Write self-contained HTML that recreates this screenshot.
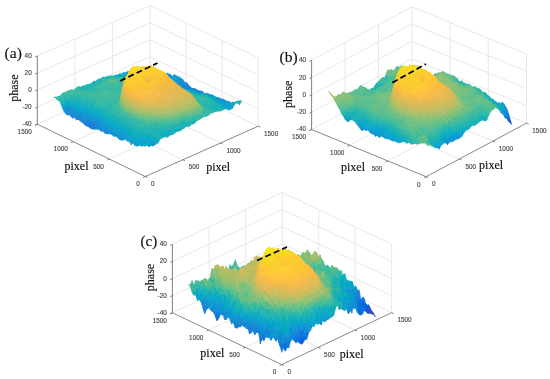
<!DOCTYPE html>
<html><head><meta charset="utf-8"><title>figure</title>
<style>
html,body{margin:0;padding:0;background:#fff}
svg{display:block}
.gr{fill:none;stroke:#e2e2e2;stroke-width:.8}
.ax{fill:none;stroke:#606060;stroke-width:.75}
.sf path{stroke-width:5;stroke-linejoin:round}
.tk{font-family:"Liberation Sans",sans-serif;font-size:6.4px;fill:#404040;stroke:#404040;stroke-width:.12px}
.lb{font-family:"Liberation Serif",serif;fill:#111;stroke:#111;stroke-width:.16px}
.ds{fill:none;stroke:#000;stroke-width:1.8;stroke-dasharray:6 3.2}
.c0{fill:#362e8f;stroke:#362e8f}.c1{fill:#36369f;stroke:#36369f}.c2{fill:#343fb0;stroke:#343fb0}.c3{fill:#2e48c1;stroke:#2e48c1}.c4{fill:#2152d3;stroke:#2152d3}.c5{fill:#0c5dde;stroke:#0c5dde}.c6{fill:#0266e1;stroke:#0266e1}.c7{fill:#046ce0;stroke:#046ce0}.c8{fill:#0972de;stroke:#0972de}.c9{fill:#0e77db;stroke:#0e77db}.c10{fill:#127cd8;stroke:#127cd8}.c11{fill:#1481d6;stroke:#1481d6}.c12{fill:#1486d3;stroke:#1486d3}.c13{fill:#118dd2;stroke:#118dd2}.c14{fill:#0c93d2;stroke:#0c93d2}.c15{fill:#089ad1;stroke:#089ad1}.c16{fill:#069fce;stroke:#069fce}.c17{fill:#06a4ca;stroke:#06a4ca}.c18{fill:#06a7c5;stroke:#06a7c5}.c19{fill:#09abbf;stroke:#09abbf}.c20{fill:#0faeb9;stroke:#0faeb9}.c21{fill:#17b1b3;stroke:#17b1b3}.c22{fill:#21b4ac;stroke:#21b4ac}.c23{fill:#2db7a5;stroke:#2db7a5}.c24{fill:#39b99d;stroke:#39b99d}.c25{fill:#47bb95;stroke:#47bb95}.c26{fill:#56bd8d;stroke:#56bd8d}.c27{fill:#66be85;stroke:#66be85}.c28{fill:#75bf7e;stroke:#75bf7e}.c29{fill:#84bf78;stroke:#84bf78}.c30{fill:#92bf72;stroke:#92bf72}.c31{fill:#9fbe6d;stroke:#9fbe6d}.c32{fill:#abbe68;stroke:#abbe68}.c33{fill:#b7bd64;stroke:#b7bd64}.c34{fill:#c2bc5f;stroke:#c2bc5f}.c35{fill:#cdbb5b;stroke:#cdbb5b}.c36{fill:#d8ba56;stroke:#d8ba56}.c37{fill:#e3b951;stroke:#e3b951}.c38{fill:#edb94c;stroke:#edb94c}.c39{fill:#f7ba45;stroke:#f7ba45}.c40{fill:#febf3c;stroke:#febf3c}.c41{fill:#fec635;stroke:#fec635}.c42{fill:#fccd2f;stroke:#fccd2f}.c43{fill:#f9d329;stroke:#f9d329}.c44{fill:#f7db24;stroke:#f7db24}.c45{fill:#f5e21e;stroke:#f5e21e}.c46{fill:#f5eb18;stroke:#f5eb18}.c47{fill:#f7f511;stroke:#f7f511}
</style></head><body>
<svg width="550" height="379" viewBox="0 0 550 379">
<rect width="550" height="379" fill="#fff"/>
<path class="gr" d="M182.9 159.7L74.9 107.4M109.3 159.1L222.2 108.8M220.6 143.0L112.6 90.7M73.3 141.6L186.2 91.3M258.2 126.2L150.2 73.9M37.3 124.2L150.2 73.9M37.3 124.2L37.3 55.9M258.2 126.2L258.2 57.9M74.9 107.4L74.9 39.1M222.2 108.8L222.2 40.4M112.6 90.7L112.6 22.3M186.2 91.3L186.2 23.0M150.2 73.9L150.2 5.6M37.3 107.1L150.2 56.8L258.2 109.1M37.3 90.0L150.2 39.7L258.2 92.0M37.3 73.0L150.2 22.7L258.2 75.0M37.3 55.9L150.2 5.6L258.2 57.9"/>
<path class="ax" d="M258.2 126.2L145.3 176.5L37.3 124.2L37.3 55.9M145.3 176.5L147.5 177.5M145.3 176.5L143.1 177.5M182.9 159.7L185.1 160.8M109.3 159.1L107.1 160.0M220.6 143.0L222.7 144.0M73.3 141.6L71.1 142.6M258.2 126.2L260.4 127.2M37.3 124.2L35.1 125.2M37.3 124.2L35.1 125.2M37.3 107.1L35.1 108.1M37.3 90.0L35.1 91.0M37.3 73.0L35.1 73.9M37.3 55.9L35.1 56.9"/>
<g class="sf" transform="scale(.1)"><path class="c5" d="M1494 746l19 5l-18-6l-19-6z"/>
<path class="c6" d="M1475 742l19 4l-18-7l-18 3z"/>
<path class="c7" d="M1457 733l18 9l-17 0l-19-11z"/>
<path class="c8" d="M1438 732l19 1l-18-2l-18 8z"/>
<path class="c9" d="M1420 727l18 5l-17 7l-19-22z"/>
<path class="c10" d="M1364 738l19 3l18-12l19-2l-18-10l-18 16l-19-3l-18-3z"/>
<path class="c11" d="M1346 733l18 5l-17-11l-19 4z"/>
<path class="c12" d="M1327 729l19 4l-18-2l-18-12z"/>
<path class="c14" d="M1309 730l18-1l-17-10l-19-7z"/>
<path class="c15" d="M1272 735l18-2l19-3l-18-18l-19 2l-18 16z"/>
<path class="c16" d="M1253 732l19 3l-18-5l-19-1z"/>
<path class="c17" d="M1179 766l19 8l18-28l19-19l18 5l-18-3l-18 12l-19-5l-18 11l-19 4z"/>
<path class="c18" d="M1161 755l18 11l-18-15l-18 8z"/>
<path class="c19" d="M1123 773l19-12l19-6l-18 4l-19 0l-18-1z"/>
<path class="c20" d="M1086 773l19-2l18 2l-17-15l-19 8l-18-1z"/>
<path class="c21" d="M1049 784l19-6l18-5l-17-8l-19 11l-18-6zM864 862l19 2l18-7l19-13l18-2l19-22l18 0l19-6l18-14l-17-9l-19 2l-18 23l-19-8l-19 23l-18 6l-19 7l-18 0l-19 14z"/>
<path class="c22" d="M1012 800l19-22l18 6l-17-14l-19 9l-18 12zM809 890l18-13l19 1l18-16l-18-4l-18-1l-19 12l-18-3z"/>
<path class="c23" d="M734 907l19-11l18-1l19-15l19 10l-18-24l-19 5l-18 13l-19 18l-18 5zM568 976l18-7l19-5l18-2l19-23l-18-8l-18 24l-19 8l-19 7l-18 3z"/>
<path class="c24" d="M642 939l18-5l19-15l18-9l19-12l18 9l-17 0l-19-9l-18 12l-19 8l-18 7l-19 6zM549 971l19 5l-18-3l-19 5z"/>
<path class="c6" d="M1512 738l18 10l-17 3l-19-5z"/>
<path class="c7" d="M1494 737l9 5l-9 4l-9-2zM1484 733l10 4l-9 7l-10-2zM1502 731l10 7l-9 4l-9-5z"/>
<path class="c8" d="M1493 724l9 7l-8 6l-10-4zM1475 735l18-11l-18 18l-18-9z"/>
<path class="c9" d="M1456 733l19 2l-18-2l-19-1z"/>
<path class="c10" d="M1401 736l18 4l19-20l18 13l-18-1l-18-5l-19 2l-18 12z"/>
<path class="c11" d="M1364 747l18-12l19 1l-18 5l-19-3l-18-5z"/>
<path class="c12" d="M1345 730l19 17l-18-14l-19-4z"/>
<path class="c14" d="M1326 740l19-10l-18-1l-18 1z"/>
<path class="c15" d="M1308 736l18 4l-17-10l-19 3z"/>
<path class="c16" d="M1289 732l19 4l-18-3l-18 2z"/>
<path class="c17" d="M1271 735l18-3l-17 3l-19-3zM1197 764l18 3l19-21l-18 0l-18 28l-19-8z"/>
<path class="c18" d="M1234 746l18-4l19-7l-18-3l-18-5l-19 19zM1178 783l19-19l-18 2l-18-11z"/>
<path class="c19" d="M1160 761l18 22l-17-28l-19 6z"/>
<path class="c20" d="M1123 773l18 6l19-18l-18 0l-19 12l-18-2z"/>
<path class="c21" d="M1067 788l19-5l18-15l19 5l-18-2l-19 2l-18 5l-19 6zM993 822l18-10l-17 2l-19 6zM826 900l19-7l18 1l19-17l18-9l19-2l18-23l19-6l18-5l-17-12l-19 22l-18 2l-19 13l-18 7l-19-2l-18 16l-19-1l-18 13z"/>
<path class="c22" d="M1049 779l18 9l-18-4l-18-6zM1011 812l19-15l-18 3l-18 14zM974 832l19-10l-18-2l-18 0zM808 903l18-3l-17-10l-19-10z"/>
<path class="c23" d="M1030 797l19-18l-18-1l-19 22zM771 895l18 4l19 4l-18-23l-19 15l-18 1zM585 982l19 7l18-17l19-11l18-6l-17-16l-19 23l-18 2l-19 5l-18 7z"/>
<path class="c24" d="M734 905l18 9l19-19l-18 1l-19 11l-18-9zM659 955l19-10l19-16l18-13l-18-6l-18 9l-19 15l-18 5zM567 996l18-14l-17-6l-19-5z"/>
<path class="c25" d="M715 916l19-11l-18-7l-19 12z"/>
<path class="c7" d="M1529 737l19 4l-18 7l-18-10z"/>
<path class="c8" d="M1511 732l18 5l-17 1l-19-14z"/>
<path class="c9" d="M1474 745l18-16l19 3l-18-8l-18 11l-19-2z"/>
<path class="c10" d="M1437 737l18 8l19 0l-18-12l-18-13l-19 20z"/>
<path class="c11" d="M1381 741l19 13l18-20l19 3l-18 3l-18-4l-19-1l-18 12z"/>
<path class="c13" d="M1363 747l18-6l-17 6l-19-17z"/>
<path class="c14" d="M1344 742l19 5l-18-17l-19 10z"/>
<path class="c15" d="M1326 755l18-13l-18-2l-18-4z"/>
<path class="c16" d="M1307 745l19 10l-18-19l-19-4z"/>
<path class="c17" d="M1289 737l18 8l-18-13l-18 3z"/>
<path class="c18" d="M1196 778l18-17l19 10l19-22l18-1l19-11l-18-2l-19 7l-18 4l-19 21l-18-3l-19 19z"/>
<path class="c19" d="M1177 770l19 8l-18 5l-18-22z"/>
<path class="c20" d="M1159 774l18-4l-17-9l-19 18z"/>
<path class="c21" d="M1122 785l18-10l19-1l-18 5l-18-6l-19-5zM918 871l19-4l18-8l-18-16l-18 23l-19 2zM844 894l18 17l19-15l19-18l-18-1l-19 17l-18-1l-19 7z"/>
<path class="c22" d="M1085 784l18-3l19 4l-18-17l-18 15l-19 5zM955 859l19-15l18-15l19-12l18-5l-18 0l-18 10l-19 10l-18 5l-19 6zM900 878l18-7l-18-3l-18 9zM825 896l19-2l-18 6l-18 3z"/>
<path class="c23" d="M1029 812l19-11l18 4l19-21l-18 4l-18-9l-19 18l-19 15zM807 907l18-11l-17 7l-19-4zM585 1005l18-1l19-2l18-14l19-12l18-13l19-8l-18-10l-19 10l-18 6l-19 11l-18 17l-19-7l-18 14z"/>
<path class="c24" d="M751 917l19-10l18 6l19-6l-18-8l-18-4l-19 19l-18-9zM696 955l18-15l-17-11l-19 16z"/>
<path class="c25" d="M714 940l19-21l18-2l-17-12l-19 11l-18 13z"/>
<path class="c7" d="M1547 741l19 7l-18-7l-19-4z"/>
<path class="c8" d="M1529 735l18 6l-18-4l-18-5z"/>
<path class="c9" d="M1510 730l19 5l-18-3l-19-3z"/>
<path class="c10" d="M1473 733l19-2l18-1l-18-1l-18 16l-19 0z"/>
<path class="c11" d="M1417 740l19 2l19-2l18-7l-18 12l-18-8l-19-3l-18 20z"/>
<path class="c12" d="M1399 748l18-8l-17 14l-19-13z"/>
<path class="c13" d="M1380 750l19-2l-18-7l-18 6z"/>
<path class="c14" d="M1362 745l18 5l-17-3l-19-5z"/>
<path class="c15" d="M1343 751l19-6l-18-3l-18 13zM1325 746l10 7l-9 2l-10-5z"/>
<path class="c16" d="M1316 739l9 7l-9 4l-9-5zM1334 742l9 9l-8 2l-10-7z"/>
<path class="c18" d="M1325 733l9 9l-9 4l-9-7zM1288 760l18-5l19-22l-18 12l-18-8l-19 11z"/>
<path class="c19" d="M1214 769l18 11l19-13l18-9l19 2l-18-12l-18 1l-19 22l-19-10l-18 17z"/>
<path class="c20" d="M1195 775l19-6l-18 9l-19-8z"/>
<path class="c21" d="M1140 786l18 2l19-17l18 4l-18-5l-18 4l-19 1l-18 10zM880 898l19-2l-18 0l-19 15z"/>
<path class="c23" d="M1084 808l19-21l18-12l19 11l-18-1l-19-4l-18 3l-19 21zM991 836l19-4l18-16l19 2l18-1l-17-16l-19 11l-18 5l-19 12l-18 15zM806 915l19 4l18-8l19-11l-18-6l-19 2l-18 11l-19 6zM676 997l19-16l18-4l19-26l-18-11l-18 15l-19 8l-18 13z"/>
<path class="c22" d="M1065 817l19-9l-18-3l-18-4zM899 896l18-7l19-15l18-13l19-3l18-22l-17 8l-19 15l-18 8l-19 4l-18 7l-19 18zM862 900l18-2l-18 13l-18-17zM602 1022l19 8l18-18l19-15l18 0l-17-21l-19 12l-18 14l-19 2l-18 1z"/>
<path class="c24" d="M732 951l19 4l18-23l19-9l18-8l-18-2l-18-6l-19 10l-18 2l-19 21z"/>
<path class="c8" d="M1565 749l18-6l-17 5l-19-7z"/>
<path class="c9" d="M1546 746l19 3l-18-8l-18-6z"/>
<path class="c10" d="M1509 749l19-13l18 10l-17-11l-19-5l-18 1z"/>
<path class="c11" d="M1454 755l18-8l19-6l18 8l-17-18l-19 2l-18 7l-19 2z"/>
<path class="c12" d="M1435 748l19 7l-18-13l-19-2z"/>
<path class="c13" d="M1417 739l18 9l-18-8l-18 8z"/>
<path class="c14" d="M1398 754l19-15l-18 9l-19 2z"/>
<path class="c15" d="M1380 751l18 3l-18-4l-18-5z"/>
<path class="c16" d="M1361 748l19 3l-18-6l-19 6z"/>
<path class="c18" d="M1306 755l18 4l19-15l18 4l-18 3l-18-18l-19 22l-18 5z"/>
<path class="c19" d="M1250 768l18 10l19-11l19-12l-18 5l-19-2l-18 9l-19 13zM685 1044l9-6l-9-21l-9 4zM676 1051l9-7l-9-23l-9 3zM666 1056l10-5l-9-27l-10 6zM657 1061l9-5l-9-26l-9 7zM648 1059l9 2l-9-24l-9 3zM639 1057l9 2l-9-19l-9 3zM629 1064l10-7l-9-14l-10 2zM620 1071l9-7l-9-19l-9 2z"/>
<path class="c20" d="M1231 775l19-7l-18 12l-18-11zM703 1026l10-13l-9-16l-9 10zM694 1038l9-12l-8-19l-10 10zM630 1043l9-3l-9-19l-9 9z"/>
<path class="c21" d="M1213 776l18-1l-17-6l-19 6zM685 1017l10-10l-9-18l-10 8zM676 1021l9-4l-9-20l-9 0zM667 1024l9-3l-9-24l-9 0zM657 1030l10-6l-9-27l-9 7zM648 1037l9-7l-8-26l-10 8zM639 1040l9-3l-9-25l-9 9zM620 1045l10-2l-9-13l-9-4zM611 1047l9-2l-8-19l-10-4z"/>
<path class="c22" d="M1157 777l19 2l18-3l19 0l-18-1l-18-4l-19 17l-18-2zM898 906l18 5l19-27l-18 5l-18 7l-19 2zM713 1013l18-27l19-12l-18-23l-19 26l-18 4zM695 1007l9-10l-9-16l-9 8z"/>
<path class="c24" d="M1046 835l19-22l18-8l19-22l18 11l19-23l18 6l-17 9l-19-11l-18 12l-19 21l-19 9l-18 1l-19-2zM787 942l18-9l19-11l18 0l-17-3l-19-4l-18 8l-19 9z"/>
<path class="c23" d="M935 884l19-11l18-12l19-11l18-1l19-10l18-4l-18-19l-18 16l-19 4l-18 22l-19 3l-18 13l-19 15zM842 922l19-6l18 2l19-12l-18-8l-18 2l-19 11l-18 8zM750 974l18-12l19-20l-18-10l-18 23l-19-4z"/>
<path class="c8" d="M1583 748l18 17l-18-22l-18 6z"/>
<path class="c9" d="M1546 756l18-6l19-2l-18 1l-19-3l-18-10z"/>
<path class="c10" d="M1527 738l19 18l-18-20l-19 13z"/>
<path class="c11" d="M1490 753l19-14l18-1l-18 11l-18-8l-19 6z"/>
<path class="c12" d="M1471 741l19 12l-18-6l-18 8z"/>
<path class="c13" d="M1453 742l18-1l-17 14l-19-7z"/>
<path class="c15" d="M1434 745l19-3l-18 6l-18-9zM703 1087l9-15l-9-17l-9 10zM666 1106l9-11l-9-17l-9 5zM638 1113l9 2l-9-25l-9 2z"/>
<path class="c16" d="M1397 750l19-18l18 13l-17-6l-19 15l-18-3zM712 1072l9-9l-9-19l-9 11zM684 1076l10-11l-9-21l-9 7zM675 1077l9-1l-8-25l-10 5zM666 1078l9-1l-9-21l-9 5z"/>
<path class="c17" d="M1379 762l18-12l-17 1l-19-3zM721 1063l9-8l-8-21l-10 10zM694 1065l9-10l-9-17l-9 6zM657 1083l9-5l-9-17l-9-2zM647 1087l10-4l-9-24l-9-2zM638 1090l9-3l-8-30l-10 7zM629 1092l9-2l-9-26l-9 7z"/>
<path class="c18" d="M1342 769l18-16l19 9l-18-14l-18-4l-19 15zM730 1055l10-17l-9-19l-9 15zM703 1055l9-11l-9-18l-9 12z"/>
<path class="c19" d="M1286 763l19 18l18-19l19 7l-18-10l-18-4l-19 12l-19 11zM740 1038l9-18l-9-17l-9 16zM712 1044l10-10l-9-21l-10 13z"/>
<path class="c20" d="M1268 775l18-12l-18 15l-18-10zM722 1034l9-15l-9-19l-9 13z"/>
<path class="c21" d="M1231 782l18-1l19-6l-18-7l-19 7l-18 1zM749 1020l18-24l-17-22l-19 12zM731 1019l9-16l-9-17l-9 14z"/>
<path class="c22" d="M1212 772l19 10l-18-6l-19 0zM897 918l19 1l18-14l19-10l-18-11l-19 27l-18-5l-19 12zM767 996l19-8l-18-26l-18 12z"/>
<path class="c23" d="M1175 786l19-3l18-11l-18 4l-18 3l-19-2zM953 895l18-12l-17-10l-19 11zM879 914l18 4l-18 0l-18-2zM842 947l18-17l-18-8l-18 0zM786 988l18-35l-17-11l-19 20z"/>
<path class="c25" d="M1064 828l18-26l19-1l18-17l19 12l18-16l19 6l-18-9l-18-6l-19 23l-18-11l-19 22l-18 8l-19 22z"/>
<path class="c24" d="M971 883l19-16l18-10l19-13l18 0l19-16l-18 7l-18 4l-19 10l-18 1l-19 11l-18 12zM860 930l19-16l-18 2l-19 6zM804 953l19-14l19 8l-18-25l-19 11l-18 9z"/>
<path class="c14" d="M693 1102l10-15l-9-22l-10 11zM684 1098l9 4l-9-26l-9 1zM675 1095l9 3l-9-21l-9 1zM656 1117l10-11l-9-23l-10 4zM647 1115l9 2l-9-30l-9 3z"/>
<path class="c8" d="M1600 757l19-7l-18 15l-18-17z"/>
<path class="c9" d="M1582 747l18 10l-17-9l-19 2z"/>
<path class="c10" d="M1563 749l19-2l-18 3l-18 6z"/>
<path class="c11" d="M1545 748l18 1l-17 7l-19-18z"/>
<path class="c12" d="M1508 757l18-17l19 8l-18-10l-18 1l-19 14z"/>
<path class="c13" d="M1489 749l19 8l-18-4l-19-12zM655 1134l19-17l19-6l18 8l19-34l-18-13l-19 30l-18-7l-19 22l-18-4z"/>
<path class="c15" d="M1471 738l18 11l-18-8l-18 1z"/>
<path class="c16" d="M1452 745l19-7l-18 4l-19 3zM730 1085l18-29l-18-1l-18 17z"/>
<path class="c17" d="M1434 748l18-3l-18 0l-18-13z"/>
<path class="c18" d="M1378 754l19 7l18-19l19 6l-18-16l-19 18l-18 12l-19-9zM748 1056l19-28l-18-8l-19 35z"/>
<path class="c19" d="M1322 781l19-6l18-9l19-12l-18-1l-18 16l-19-7l-18 19z"/>
<path class="c20" d="M1304 780l18 1l-17 0l-19-18zM767 1028l18-29l-18-3l-18 24z"/>
<path class="c21" d="M1267 781l18 6l19-7l-18-17l-18 12l-19 6zM785 999l19-8l-18-3l-19 8z"/>
<path class="c22" d="M1248 776l19 5l-18 0l-18 1zM804 991l18-19l-18-19l-18 35z"/>
<path class="c23" d="M1230 789l18-13l-17 6l-19-10zM896 926l19 3l18-7l19-12l18-1l19-22l-18-4l-18 12l-19 10l-18 14l-19-1l-18-4zM859 946l19-6l-18-10l-18 17z"/>
<path class="c24" d="M1174 798l19-11l18-11l19 13l-18-17l-18 11l-19 3l-19-6zM989 887l18-14l19-14l-18-2l-18 10l-19 16zM878 940l18-14l-17-12l-19 16zM822 972l19-20l18-6l-17 1l-19-8l-19 14z"/>
<path class="c25" d="M1156 784l18 14l-18-18l-18 16zM1026 859l19-10l18-10l19-12l18-11l-18-14l-18 26l-19 16l-18 0l-19 13z"/>
<path class="c26" d="M1100 816l19-12l18-2l19-18l-18 12l-19-12l-18 17l-19 1z"/>
<path class="c9" d="M1618 760l19-11l-18 1l-19 7z"/>
<path class="c10" d="M1581 748l19 7l18 5l-18-3l-18-10l-19 2z"/>
<path class="c11" d="M1562 745l19 3l-18 1l-18-1z"/>
<path class="c12" d="M1544 752l18-7l-17 3l-19-8zM673 1152l19-21l-18-14l-19 17z"/>
<path class="c13" d="M1507 757l18-5l19 0l-18-12l-18 17l-19-8zM692 1131l18-10l19-10l18-22l-17-4l-19 34l-18-8l-19 6z"/>
<path class="c15" d="M1488 749l19 8l-18-8l-18-11z"/>
<path class="c16" d="M1470 761l18-12l-17-11l-19 7zM747 1089l19-40l-18 7l-18 29z"/>
<path class="c17" d="M1451 758l19 3l-18-16l-18 3z"/>
<path class="c18" d="M1433 747l18 11l-17-10l-19-6zM1396 776l18-12l-17-3l-19-7z"/>
<path class="c19" d="M1414 764l19-17l-18-5l-18 19zM1377 762l19 14l-18-22l-19 12zM766 1049l18-8l-17-13l-19 28z"/>
<path class="c20" d="M1322 786l18-6l19-8l18-10l-18 4l-18 9l-19 6l-18-1zM784 1041l19-35l-18-7l-18 29z"/>
<path class="c21" d="M1285 794l18-13l19 5l-18-6l-19 7l-18-6z"/>
<path class="c22" d="M1266 784l19 10l-18-13l-19-5zM803 1006l18-11l19-16l-18-7l-18 19l-19 8z"/>
<path class="c23" d="M1248 790l18-6l-18-8l-18 13zM914 936l19-6l18-11l19-6l18-2l19-24l-18 0l-19 22l-18 1l-19 12l-18 7l-19-3zM840 979l18-11l-17-16l-19 20z"/>
<path class="c24" d="M1229 792l19-2l-18-1l-19-13zM1007 887l18-7l19 0l18-8l19-17l-18-16l-18 10l-19 10l-19 14l-18 14zM858 968l19-18l19-8l18-6l-18-10l-18 14l-19 6l-18 6z"/>
<path class="c25" d="M1155 815l18-5l19-11l18-11l19 4l-18-16l-18 11l-19 11l-18-14l-19 18zM1081 855l18-4l19-20l-18-15l-18 11l-19 12z"/>
<path class="c26" d="M1118 831l18-11l19-5l-18-13l-18 2l-19 12z"/>
<path class="c10" d="M1636 746l9 2l-8 1l-10 5zM1627 745l9 1l-9 8l-9 6zM1645 739l9 8l-9 1l-9-2zM1618 751l9-6l-9 15l-9-2zM1608 756l10-5l-9 7l-9-3z"/>
<path class="c11" d="M1636 730l9 9l-9 7l-9-1zM1627 743l9-13l-9 15l-9 6zM1617 757l10-14l-9 8l-10 5zM1599 734l18 23l-17-2l-19-7z"/>
<path class="c12" d="M1580 756l19-22l-18 14l-19-3zM691 1148l18-3l19-3l-18-21l-18 10l-19 21z"/>
<path class="c13" d="M1562 754l18 2l-18-11l-18 7zM728 1142l18-25l-17-6l-19 10z"/>
<path class="c14" d="M1525 764l18-10l19 0l-18-2l-19 0l-18 5zM746 1117l19-31l-18 3l-18 22z"/>
<path class="c15" d="M1506 774l19-10l-18-7l-19-8z"/>
<path class="c16" d="M1488 757l18 17l-18-25l-18 12z"/>
<path class="c17" d="M1469 765l19-8l-18 4l-19-3zM765 1086l19-21l-18-16l-19 40z"/>
<path class="c18" d="M1451 766l18-1l-18-7l-18-11z"/>
<path class="c19" d="M1395 787l18-13l19-1l19-7l-18-19l-19 17l-18 12l-19-14zM784 1065l18-22l-18-2l-18 8z"/>
<path class="c20" d="M1358 781l18 6l19 0l-18-25l-18 10l-19 8zM802 1043l19-29l-18-8l-19 35z"/>
<path class="c21" d="M1321 790l18-5l19-4l-18-1l-18 6l-19-5z"/>
<path class="c22" d="M1302 782l19 8l-18-9l-18 13zM821 1014l18-14l19-6l-18-15l-19 16l-18 11z"/>
<path class="c23" d="M1247 804l18 10l19-11l18-21l-17 12l-19-10l-18 6l-19 2zM969 933l18-4l-17-16l-19 6zM858 994l18-14l19-21l-18-9l-19 18l-18 11z"/>
<path class="c24" d="M1228 803l19 1l-18-12l-19-4zM987 929l19-30l18 2l19-8l18-20l19 12l19-9l18-5l19-8l18-10l-18-33l-18 11l-19 20l-18 4l-19 17l-18 8l-19 0l-18 7l-19 24l-18 2zM895 959l18-10l19-3l18-15l19 2l-18-14l-18 11l-19 6l-18 6l-19 8z"/>
<path class="c25" d="M1154 853l19-24l18-8l19-7l18-11l-18-15l-18 11l-19 11l-18 5l-19 5z"/>
<path class="c11" d="M1654 744l18-12l-18 15l-18-17z"/>
<path class="c12" d="M1616 752l19-9l19 1l-18-14l-19 27l-18-23zM709 1165l18-10l19-13l-18 0l-19 3l-18 3z"/>
<path class="c13" d="M1598 749l18 3l-17-18l-19 22zM746 1142l18-19l-18-6l-18 25z"/>
<path class="c14" d="M1561 763l18-8l19-6l-18 7l-18-2l-19 0z"/>
<path class="c15" d="M1524 763l18-5l19 5l-18-9l-18 10l-19 10zM764 1123l19-19l-18-18l-19 31z"/>
<path class="c16" d="M1505 772l19-9l-18 11l-18-17z"/>
<path class="c17" d="M1487 769l18 3l-17-15l-19 8zM783 1104l18-31l-17-8l-19 21z"/>
<path class="c18" d="M1468 779l19-10l-18-4l-18 1z"/>
<path class="c19" d="M1431 773l19-3l18 9l-17-13l-19 7l-19 1zM801 1073l19-26l-18-4l-18 22z"/>
<path class="c20" d="M1394 781l19-1l18-7l-18 1l-18 13l-19 0z"/>
<path class="c21" d="M1339 801l18 1l19-11l18-10l-18 6l-18-6l-19 4l-18 5zM820 1047l18-17l-17-16l-19 29z"/>
<path class="c22" d="M1302 803l18 10l19-12l-18-11l-19-8l-18 21zM838 1030l19-12l18-10l19-13l-18-15l-18 14l-19 6l-18 14z"/>
<path class="c23" d="M1264 810l19 2l19-9l-18 0l-19 11l-18-10zM1098 890l18-10l19-4l18-11l19-6l-18-6l-18 10l-19 8l-18 5l-19 9zM987 943l18-11l-18-3l-18 4zM894 995l18-16l-17-20l-19 21z"/>
<path class="c24" d="M1172 859l18-14l19-11l18-12l19 3l18-15l-17-6l-19-1l-18 11l-19 7l-18 8l-19 24zM1005 932l19-15l18-16l19 3l18-10l19-4l-18-5l-19-12l-18 20l-19 8l-18-2l-19 30zM912 979l19-20l18-7l19-10l19 1l-18-10l-19-2l-18 15l-19 3l-18 10z"/>
<path class="c12" d="M1653 758l18-14l19-4l-18-8l-18 12l-19-1zM745 1168l18-16l19 0l-18-29l-18 19l-19 13z"/>
<path class="c13" d="M1634 755l19 3l-18-15l-19 9zM782 1152l9-25l-9-7l-9 18z"/>
<path class="c14" d="M1616 748l18 7l-18-3l-18-3zM773 1138l9-18l-9-6l-9 9z"/>
<path class="c15" d="M1560 768l19 5l18-20l19-5l-18 1l-19 6l-18 8l-19-5zM782 1120l10-17l-9 1l-10 10zM791 1127l9-25l-8 1l-10 17z"/>
<path class="c16" d="M1542 766l18 2l-18-10l-18 5z"/>
<path class="c17" d="M1504 782l19-14l19-2l-18-3l-19 9l-18-3zM800 1102l19-15l-18-14l-18 31z"/>
<path class="c18" d="M1486 784l18-2l-17-13l-19 10z"/>
<path class="c19" d="M1467 776l19 8l-18-5l-18-9zM819 1087l19-23l-18-17l-19 26z"/>
<path class="c20" d="M1412 796l18 1l19-14l18-7l-17-6l-19 3l-18 7l-19 1zM838 1064l18-30l-18-4l-18 17z"/>
<path class="c21" d="M1375 799l18-12l19 9l-18-15l-18 10l-19 11zM856 1034l19 0l18-8l-18-18l-18 10l-19 12z"/>
<path class="c22" d="M1319 817l19 0l18-23l19 5l-18 3l-18-1l-19 12l-18-10zM893 1026l19-23l18-17l-18-7l-18 16l-19 13z"/>
<path class="c23" d="M1264 834l18-8l19-12l18 3l-17-14l-19 9l-19-2l-18 15zM1097 909l18-7l19-7l18-12l19-13l-18-5l-18 11l-19 4l-18 10l-19 4zM930 986l19-18l-18-9l-19 20z"/>
<path class="c24" d="M1171 870l19-16l18-9l19-11l18 4l19-4l-18-9l-19-3l-18 12l-19 11l-18 14l-19 6zM949 968l18-10l19-10l18-15l19-6l18 9l19-21l18-4l19-2l-18-15l-18 10l-19-3l-18 16l-19 15l-18 11l-19-1l-19 10l-18 7z"/>
<path class="c11" d="M726 1182l19-14l-18-13l-18 10z"/>
<path class="c12" d="M1670 766l19-7l18-14l-17-5l-19 4l-18 14zM744 1173l19-1l18-5l19-32l-18 17l-19 0l-18 16l-19 14z"/>
<path class="c13" d="M1652 764l18 2l-17-8l-19-3zM791 1144l9-12l-9-5l-9 25z"/>
<path class="c14" d="M1633 762l19 2l-18-9l-18-7zM809 1136l9 1l-9-18l-9 13zM800 1135l9 1l-9-4l-9 12z"/>
<path class="c15" d="M1615 759l18 3l-17-14l-19 5zM800 1132l9-13l-9-17l-9 25z"/>
<path class="c16" d="M1578 773l18-8l19-6l-18-6l-18 20l-19-5zM818 1137l19-31l-18-19l-19 15z"/>
<path class="c17" d="M1559 772l19 1l-18-5l-18-2z"/>
<path class="c18" d="M1504 800l18-14l19-11l18-3l-17-6l-19 2l-19 14l-18 2zM837 1106l18-29l-17-13l-19 23z"/>
<path class="c19" d="M1485 789l19 11l-18-16l-19-8z"/>
<path class="c20" d="M1448 791l19-7l18 5l-18-13l-18 7l-19 14zM855 1077l19-31l-18-12l-18 30z"/>
<path class="c21" d="M1430 793l18-2l-18 6l-18-1zM874 1046l18-15l19-3l-18-2l-18 8l-19 0z"/>
<path class="c22" d="M1337 829l18 2l19-5l19-29l18-5l19 1l-18 3l-19-9l-18 12l-19-5l-18 23l-19 0zM911 1028l18-20l-17-5l-19 23z"/>
<path class="c23" d="M1300 830l18 5l19-6l-18-12l-18-3l-19 12zM1133 908l19-15l18 7l-18-17l-18 12l-19 7zM929 1008l19-16l18-8l-17-16l-19 18l-18 17z"/>
<path class="c24" d="M1170 900l19-30l18-3l19-10l18-6l19-12l18-9l19 0l-18-4l-18 8l-19 4l-18-4l-19 11l-18 9l-19 16l-19 13zM1041 932l18-5l19-11l18 8l19-18l18 2l-18-6l-18 7l-19 2l-18 4l-19 21l-18-9zM966 984l19-30l18 2l-17-8l-19 10l-18 10z"/>
<path class="c25" d="M1003 956l19-12l19-12l-18-5l-19 6l-18 15z"/>
<path class="c12" d="M1688 768l19-2l18-1l-18-20l-18 14l-19 7zM799 1167l18-2l-17-30l-19 32z"/>
<path class="c13" d="M1670 775l18-7l-18-2l-18-2zM817 1165l19-29l-18 1l-18-2z"/>
<path class="c14" d="M1651 775l19 0l-18-11l-19-2z"/>
<path class="c15" d="M1633 777l18-2l-18-13l-18-3zM836 1136l18-30l-17 0l-19 31z"/>
<path class="c16" d="M1614 769l19 8l-18-18l-19 6z"/>
<path class="c17" d="M1558 793l19-5l19-19l18 0l-18-4l-18 8l-19-1l-18 3z"/>
<path class="c18" d="M1521 798l19-6l18 1l-17-18l-19 11l-18 14zM854 1106l19-29l-18 0l-18 29z"/>
<path class="c19" d="M1503 789l18 9l-17 2l-19-11z"/>
<path class="c20" d="M1466 804l18 3l19-18l-18 0l-18-5l-19 7zM873 1077l18-23l-17-8l-19 31z"/>
<path class="c21" d="M1447 793l19 11l-18-13l-18 2zM929 1040l18-5l-18-27l-18 20z"/>
<path class="c22" d="M1429 800l18-7l-17 0l-19-1zM1336 843l19-11l18-3l19-8l18-13l-17-11l-19 29l-19 5l-18-2l-19 6zM947 1035l19-37l-18-6l-19 16zM891 1054l19-21l19 7l-18-12l-19 3l-18 15z"/>
<path class="c23" d="M1410 808l19-8l-18-8l-18 5zM1318 837l18 6l-18-8l-18-5zM1169 907l19-6l18-10l-17-21l-19 30l-18-7z"/>
<path class="c24" d="M1206 891l19-13l19-21l18-1l19-4l18-12l19-3l-18-7l-19 0l-18 9l-19 12l-18 6l-19 10l-18 3zM1114 917l18-6l19-7l18 3l-17-14l-19 15l-18-2l-19 18zM966 998l18-15l19-19l-18-10l-19 30l-18 8z"/>
<path class="c25" d="M1003 964l18-1l19-11l18-8l19-15l18-2l19-10l-18 7l-18-8l-19 11l-18 5l-19 12l-19 12l-18-2z"/>
<path class="c11" d="M762 1198l18-5l19-26l-18 0l-18 5l-19 1z"/>
<path class="c13" d="M1706 770l18-1l19-24l-18 20l-18 1l-19 2zM817 1171l18-14l19-8l-18-13l-19 29l-18 2z"/>
<path class="c14" d="M1669 772l18-2l19 0l-18-2l-18 7l-19 0z"/>
<path class="c15" d="M1650 773l19-1l-18 3l-18 2z"/>
<path class="c17" d="M1632 767l18 6l-17 4l-19-8z"/>
<path class="c18" d="M1539 803l19 1l18-10l19-10l18-5l19-12l-18 2l-18 0l-19 19l-19 5l-18-1l-19 6zM872 1114l19-18l-18-19l-19 29z"/>
<path class="c19" d="M1521 804l18-1l-18-5l-18-9z"/>
<path class="c20" d="M1502 794l19 10l-18-15l-19 18zM891 1096l18-23l-18-19l-18 23z"/>
<path class="c21" d="M1484 802l18-8l-18 13l-18-3zM909 1073l19-18l18-10l19-19l-18 9l-18 5l-19-7l-19 21z"/>
<path class="c22" d="M1447 811l18-2l19-7l-18 2l-19-11l-18 7zM1372 847l19-11l18-4l19-13l-18-11l-18 13l-19 8l-18 3zM965 1026l18-17l-17-11l-19 37z"/>
<path class="c23" d="M1428 819l19-8l-18-11l-19 8zM1335 845l19 2l18 0l-17-15l-19 11l-18-6zM1206 912l18-12l-18-9l-18 10z"/>
<path class="c24" d="M1298 858l19-2l18-11l-17-8l-19 3l-18 12zM1224 900l19-11l18-18l-17-14l-19 21l-19 13zM1150 922l19-1l18-14l19 5l-18-11l-19 6l-18-3l-19 7zM983 1009l19-15l18-4l19-15l18-13l-17-10l-19 11l-18 1l-19 19l-18 15z"/>
<path class="c25" d="M1261 871l19-17l18 4l-17-6l-19 4l-18 1zM1057 962l19-4l18-15l19-10l19 1l18-12l-18-11l-18 6l-19 10l-18 2l-19 15l-18 8z"/>
<path class="c16" d="M854 1149l18-35l-18-8l-18 30z"/>
<path class="c12" d="M798 1188l19-17l-18-4l-19 26z"/>
<path class="c11" d="M780 1193l18-5l-18 5l-18 5z"/>
<path class="c14" d="M1724 769l18-4l19-10l-18-10l-19 24l-18 1zM834 1185l19-31l-18 3l-18 14z"/>
<path class="c15" d="M1687 776l18-3l19-4l-18 1l-19 0l-18 2zM853 1154l18-10l19-7l-18-23l-18 35l-19 8z"/>
<path class="c16" d="M1668 781l19-5l-18-4l-19 1z"/>
<path class="c17" d="M1649 779l19 2l-18-8l-18-6z"/>
<path class="c18" d="M1575 809l19-11l18-11l19-7l18-1l-17-12l-19 12l-18 5l-19 10l-18 10zM890 1137l18-39l-17-2l-19 18z"/>
<path class="c19" d="M1557 812l18-3l-17-5l-19-1zM908 1098l19-4l-18-21l-18 23z"/>
<path class="c20" d="M1538 806l19 6l-18-9l-18 1zM927 1094l18-32l-17-7l-19 18z"/>
<path class="c21" d="M1501 813l19 0l18-7l-17-2l-19-10l-18 8z"/>
<path class="c22" d="M1446 823l18 2l19-8l18-4l-17-11l-19 7l-18 2l-19 8zM1390 853l19 4l18-27l-18 2l-18 4l-19 11zM945 1062l19-21l-18 4l-18 10z"/>
<path class="c23" d="M1427 830l19-7l-18-4l-19 13zM1353 856l19 0l18-3l-18-6l-18 0l-19-2zM1223 915l19-6l-18-9l-18 12zM964 1041l19-25l18 0l-18-7l-18 17l-19 19z"/>
<path class="c24" d="M1316 862l19-1l18-5l-18-11l-18 11l-19 2zM1242 909l18-22l-17 2l-19 11zM1001 1016l19-13l18-8l19-8l18-3l19-23l18 1l19-9l18-4l19-4l18-20l19 3l18-13l-17-3l-19-5l-18 14l-19 1l-18 12l-19-1l-19 10l-18 15l-19 4l-18 13l-19 15l-18 4l-19 15z"/>
<path class="c25" d="M1260 887l19-14l18-10l19-1l-18-4l-18-4l-19 17l-18 18z"/>
<path class="c12" d="M797 1207l19-9l18-13l-17-14l-19 17l-18 5z"/>
<path class="c15" d="M1741 761l19 7l18-3l-17-10l-19 10l-18 4zM871 1162l18-8l-18-10l-18 10z"/>
<path class="c16" d="M1704 781l19-4l18-16l-17 8l-19 4l-18 3zM889 1154l19-18l-18 1l-19 7z"/>
<path class="c17" d="M1667 797l19-20l18 4l-17-5l-19 5l-19-2zM908 1136l18-21l-18-17l-18 39z"/>
<path class="c18" d="M1649 793l18 4l-18-18l-18 1zM1593 811l19 7l-18-20l-19 11z"/>
<path class="c19" d="M1612 818l18-26l19 1l-18-13l-19 7l-18 11zM1575 826l18-15l-18-2l-18 3zM926 1115l19-19l-18-2l-19 4z"/>
<path class="c20" d="M1556 812l19 14l-18-14l-19-6zM945 1096l18-20l-18-14l-18 32z"/>
<path class="c21" d="M1519 814l19 11l18-13l-18-6l-18 7l-19 0z"/>
<path class="c22" d="M1408 858l18 6l19-13l18-5l19-12l18-7l19-13l-18-1l-18 4l-19 8l-18-2l-19 7l-18 27l-19-4zM963 1076l19-30l-18-5l-19 21z"/>
<path class="c23" d="M1371 867l18-2l19-7l-18-5l-18 3l-19 0zM1223 934l18-5l-18-14l-18 13zM1167 955l19-4l-18-6l-19 4zM1074 1001l19-7l-18-10l-18 3z"/>
<path class="c24" d="M1334 881l18-1l19-13l-18-11l-18 5l-19 1zM1241 929l19-30l18-4l-18-8l-18 22l-19 6zM1186 951l18-10l19-7l-18-6l-19-3l-18 20zM1093 994l18-8l19-10l18-13l19-8l-18-6l-18 4l-19 9l-18-1l-19 23zM982 1046l18-33l19 7l18-8l19-2l18-9l-17-14l-19 8l-18 8l-19 13l-18 0l-19 25z"/>
<path class="c25" d="M1278 895l19-4l18-14l19 4l-18-19l-19 1l-18 10l-19 14z"/>
<path class="c14" d="M852 1204l19-42l-18-8l-19 31z"/>
<path class="c12" d="M833 1214l19-10l-18-19l-18 13z"/>
<path class="c11" d="M815 1219l18-5l-17-16l-19 9z"/>
<path class="c15" d="M1778 781l18-10l-18-6l-18 3zM888 1172l19-11l18 4l-17-29l-19 18l-18 8z"/>
<path class="c16" d="M1741 787l18-9l19 3l-18-13l-19-7l-18 16z"/>
<path class="c17" d="M1703 795l19-13l19 5l-18-10l-19 4l-18-4zM925 1165l19-44l-18-6l-18 21z"/>
<path class="c18" d="M1629 808l19 5l18-11l19-10l18 3l-17-18l-19 20l-18-4l-19-1l-18 26z"/>
<path class="c19" d="M1592 815l19 5l18-12l-17 10l-19-7l-18 15zM944 1121l18-19l-17-6l-19 19z"/>
<path class="c20" d="M1574 821l18-6l-17 11l-19-14zM962 1102l19-9l-18-17l-18 20z"/>
<path class="c21" d="M1500 847l18-3l19-14l18-8l19-1l-18-9l-18 13l-19-11l-19 13l-18 7zM972 1085l9-20l-9-4l-9 15zM981 1093l9-24l-9-4l-9 20z"/>
<path class="c22" d="M1407 878l19 0l18-14l19 0l18-15l19-2l-18-13l-19 12l-18 5l-19 13l-18-6l-19 7z"/>
<path class="c23" d="M1351 893l19-8l19-11l18 4l-18-13l-18 2l-19 13l-18 1zM1055 1022l19-3l18-12l19-12l-18-1l-19 7l-18 9l-19 2zM981 1065l10-20l-9 1l-10 15zM990 1069l9-25l-8 1l-10 20z"/>
<path class="c24" d="M1314 896l19-1l18-2l-17-12l-19-4l-18 14zM1111 995l18-17l19 6l18-13l19-5l18-15l19-4l18-13l19 0l18-13l-17-22l-19 30l-18 5l-19 7l-18 10l-19 4l-19 8l-18 13l-19 10l-18 8zM999 1044l19-16l18 6l19-12l-18-10l-18 8l-19-7l-18 33z"/>
<path class="c25" d="M1277 921l19-15l18-10l-17-5l-19 4l-18 4z"/>
<path class="c13" d="M870 1210l18-38l-17-10l-19 42z"/>
<path class="c11" d="M833 1233l18-7l19-16l-18-6l-19 10l-18 5z"/>
<path class="c15" d="M1758 802l19-9l18-4l19-5l-18-13l-18 10l-19-3l-18 9zM925 1180l18-28l-18 13l-18-4z"/>
<path class="c16" d="M1721 813l19-7l18-4l-17-15l-19-5l-19 13zM934 1159l9-18l-8 2l-10 22z"/>
<path class="c17" d="M1703 813l18 0l-18-18l-18-3zM943 1152l9-13l-9 2l-9 18z"/>
<path class="c18" d="M1647 825l19-2l18-12l19 2l-18-21l-19 10l-18 11l-19-5zM943 1141l10-18l-9-2l-9 22zM952 1139l10-13l-9-3l-10 18z"/>
<path class="c19" d="M1629 836l18-11l-18-17l-18 12zM962 1126l18-7l-18-17l-18 19z"/>
<path class="c20" d="M1610 825l19 11l-18-16l-19-5zM980 1119l19-21l-18-5l-19 9z"/>
<path class="c21" d="M1517 847l19 3l18-8l19-6l19-12l18 1l-18-10l-18 6l-19 1l-18 8l-19 14l-18 3zM990 1095l9-19l-9-7l-9 24zM999 1098l9-15l-9-7l-9 19z"/>
<path class="c22" d="M1425 892l18-8l19-13l18-10l19 2l18-16l-17 0l-19 2l-18 15l-19 0l-18 14l-19 0zM1008 1083l9-15l-9-12l-9 20z"/>
<path class="c23" d="M1406 886l19 6l-18-14l-18-4zM1054 1037l19 4l18-3l19-17l18-9l-17-17l-19 12l-18 12l-19 3l-19 12zM1017 1068l19-8l-18-32l-19 16zM999 1076l9-20l-9-12l-9 25z"/>
<path class="c24" d="M1332 903l19-1l18-2l19-14l18 0l-17-12l-19 11l-19 8l-18 2l-19 1zM1128 1012l19-21l18-2l19-14l18-12l19-1l18-6l19-6l19-13l18-15l19-5l-18-11l-19 15l-18 13l-19 0l-18 13l-19 4l-18 15l-19 5l-18 13l-19-6l-18 17zM1036 1060l18-23l-18-3l-18-6z"/>
<path class="c25" d="M1314 917l18-14l-18-7l-18 10z"/>
<path class="c14" d="M906 1211l19-31l-18-19l-19 11z"/>
<path class="c12" d="M887 1220l19-9l-18-39l-18 38z"/>
<path class="c11" d="M850 1253l19-6l18-27l-17-10l-19 16l-18 7z"/>
<path class="c14" d="M1776 819l18-1l19-10l19-10l-18-14l-19 5l-18 4l-19 9z"/>
<path class="c15" d="M1757 821l19-2l-18-17l-18 4zM942 1189l19-25l-18-12l-18 28z"/>
<path class="c16" d="M1720 823l19-5l18 3l-17-15l-19 7l-18 0z"/>
<path class="c17" d="M1683 838l19-5l18-10l-17-10l-19-2l-18 12z"/>
<path class="c18" d="M1665 829l18 9l-17-15l-19 2zM961 1164l18-23l-17-15l-19 26z"/>
<path class="c19" d="M1628 851l18-15l19-7l-18-4l-18 11l-19-11zM979 1141l19-21l-18-1l-18 7z"/>
<path class="c20" d="M1609 835l19 16l-18-26l-18-1zM998 1120l18-13l-17-9l-19 21z"/>
<path class="c21" d="M1554 852l18-7l19-7l18-3l-17-11l-19 12l-19 6l-18 8zM1016 1107l19-25l-18-14l-18 30z"/>
<path class="c22" d="M1442 893l19 2l19-7l18-5l19-14l18-12l19-5l-18-2l-19-3l-18 16l-19-2l-18 10l-19 13l-18 8zM1035 1082l18-8l-17-14l-19 8z"/>
<path class="c23" d="M1424 891l18 2l-17-1l-19-6zM1053 1074l19-23l18-9l19-7l19-12l18-10l-18-1l-18 9l-19 17l-18 3l-19-4l-18 23z"/>
<path class="c24" d="M1405 871l19 20l-18-5l-18 0zM1146 1013l19-6l18-11l19-13l18-11l-18-9l-18 12l-19 14l-18 2l-19 21z"/>
<path class="c25" d="M1387 878l10 1l-9 7l-10 7zM1378 878l9 0l-9 15l-9 7zM1369 876l9 2l-9 22l-9 1zM1360 875l9 1l-9 25l-9 1zM1350 883l7 1l-6 18l-7 0zM1289 909l6-5l-6 23l-6 5zM1282 914l7-5l-6 23l-6 5zM1276 919l6-5l-5 23l-7 5zM1270 925l6-6l-6 23l-6 4zM1264 930l6-5l-6 21l-6 4zM1258 927l9-7l-9 30l-9 3zM1248 933l10-6l-9 26l-10 3zM1239 944l9-11l-9 23l-9 3zM1230 955l9-11l-9 15l-9 3zM1220 972l19-24l-18 14l-19 1z"/>
<path class="c26" d="M1396 863l9 8l-8 8l-10-1zM1344 883l6 0l-6 19l-6 1zM1338 883l6 0l-6 20l-6 0zM1332 886l6-3l-6 20l-6 5zM1326 890l6-4l-6 22l-6 4zM1320 893l6-3l-6 22l-6 5zM1313 895l7-2l-6 24l-7 2zM1307 897l6-2l-6 24l-6 2zM1301 899l6-2l-6 24l-6 1zM1295 904l6-5l-6 23l-6 5zM1239 948l9-19l-9 15l-9 11z"/>
<path class="c27" d="M1387 855l9 8l-9 15l-9 0zM1356 865l6 1l-5 18l-7-1zM1276 904l6-7l-6 22l-6 6zM1270 911l6-7l-6 21l-6 5zM1248 929l9-19l-9 23l-9 11z"/>
<path class="c28" d="M1378 852l9 3l-9 23l-9-2zM1368 848l10 4l-9 24l-9-1zM1350 863l6 2l-6 18l-6 0zM1344 862l6 1l-6 20l-6 0zM1338 864l6-2l-6 21l-6 3zM1332 867l6-3l-6 22l-6 4zM1325 870l7-3l-6 23l-6 3zM1319 872l6-2l-5 23l-7 2zM1313 874l6-2l-6 23l-6 2zM1307 876l6-2l-6 23l-6 2zM1301 881l6-5l-6 23l-6 5zM1295 885l6-4l-6 23l-6 5zM1288 890l7-5l-6 24l-7 5zM1282 897l6-7l-6 24l-6 5zM1266 900l10-9l-9 29l-9 7zM1257 910l9-10l-8 27l-10 6z"/>
<path class="c29" d="M1362 846l6 2l-6 18l-6-1zM1276 891l6-8l-6 21l-6 7z"/>
<path class="c30" d="M1356 843l6 3l-6 19l-6-2zM1350 841l6 2l-6 20l-6-1zM1344 843l6-2l-6 21l-6 2zM1294 867l6-5l-5 23l-7 5zM1288 875l6-8l-6 23l-6 7zM1282 883l6-8l-6 22l-6 7z"/>
<path class="c31" d="M1337 844l7-1l-6 21l-6 3zM1331 846l6-2l-5 23l-7 3zM1325 848l6-2l-6 24l-6 2zM1319 850l6-2l-6 24l-6 2zM1313 852l6-2l-6 24l-6 2zM1307 857l6-5l-6 24l-6 5zM1300 862l7-5l-6 24l-6 4z"/>
<path class="c13" d="M924 1221l18-32l-17-9l-19 31z"/>
<path class="c11" d="M887 1256l18-21l19-14l-18-10l-19 9l-18 27z"/>
<path class="c10" d="M868 1260l19-4l-18-9l-19 6z"/>
<path class="c13" d="M1794 833l18-2l19-11l18 4l-17-26l-19 10l-19 10l-18 1zM941 1222l19-27l-18-6l-18 32z"/>
<path class="c14" d="M1775 838l19-5l-18-14l-19 2z"/>
<path class="c15" d="M1757 840l18-2l-18-17l-18-3zM960 1195l18-10l-17-21l-19 25z"/>
<path class="c16" d="M1720 841l18-7l19 6l-18-22l-19 5l-18 10zM978 1185l19-22l-18-22l-18 23z"/>
<path class="c17" d="M1701 848l19-7l-18-8l-19 5z"/>
<path class="c18" d="M1683 840l18 8l-18-10l-18-9z"/>
<path class="c19" d="M1645 853l19 0l19-13l-18-11l-19 7l-18 15zM997 1163l19-36l-18-7l-19 21z"/>
<path class="c20" d="M1627 841l18 12l-17-2l-19-16zM1016 1127l18-16l-18-4l-18 13z"/>
<path class="c21" d="M1608 841l19 0l-18-6l-18 3zM1516 890l18-5l-17-16l-19 14zM1034 1111l19-24l-18-5l-19 25z"/>
<path class="c22" d="M1534 885l19-17l18-4l19-10l18-13l-17-3l-19 7l-18 7l-19 5l-18 12zM1497 885l19 5l-18-7l-18 5zM1053 1087l18-8l19-10l-18-18l-19 23l-18 8z"/>
<path class="c23" d="M1479 868l18 17l-17 3l-19 7zM1461 875l9 7l-9 13l-9-1zM1090 1069l18-2l19-27l18-4l19 1l18-26l-17-4l-19 6l-18 10l-19 12l-19 7l-18 9z"/>
<path class="c24" d="M1451 868l10 7l-9 19l-10-1zM1442 873l6 4l-6 16l-6 0zM1436 870l6 3l-6 20l-6-1zM1192 997l9-15l-9 7l-9 7zM1182 1011l19-13l-18-2l-18 11z"/>
<path class="c25" d="M1469 856l10 12l-9 14l-9-7zM1430 866l6 4l-6 22l-6-1zM1424 859l6 7l-6 25l-6-6zM1201 982l9-14l-8 15l-10 6zM1201 998l9-23l-9 7l-9 15z"/>
<path class="c26" d="M1460 843l9 13l-8 19l-10-7zM1448 854l6 6l-6 17l-6-4zM1418 851l6 8l-6 26l-6-7zM1226 951l6-12l-6 25l-6 8zM1220 954l9-14l-9 32l-9 5zM1210 968l10-14l-9 23l-9 6zM1210 975l9-23l-9 16l-9 14z"/>
<path class="c27" d="M1442 847l6 7l-6 19l-6-3zM1436 841l6 6l-6 23l-6-4zM1411 844l7 7l-6 27l-7-7zM1238 928l7-12l-6 32l-6 8zM1232 939l6-11l-5 28l-7 8z"/>
<path class="c28" d="M1454 834l6 9l-6 17l-6-6zM1430 833l6 8l-6 25l-6-7zM1405 838l6 6l-6 27l-6-5zM1245 916l6-12l-6 31l-6 13zM1219 952l10-22l-9 24l-10 14z"/>
<path class="c29" d="M1448 825l6 9l-6 20l-6-7zM1423 825l7 8l-6 26l-6-8zM1399 832l6 6l-6 28l-6-6zM1251 904l6-13l-6 32l-6 12zM1232 929l6-14l-6 24l-6 12zM1229 930l9-22l-9 32l-9 14z"/>
<path class="c30" d="M1442 816l6 9l-6 22l-6-6zM1417 817l6 8l-5 26l-7-7zM1393 826l6 6l-6 28l-6-5zM1387 823l6 3l-6 29l-6-2zM1257 891l6-13l-6 32l-6 13zM1238 915l6-15l-6 28l-6 11z"/>
<path class="c31" d="M1436 807l6 9l-6 25l-6-8zM1411 810l6 7l-6 27l-6-6zM1380 820l7 3l-6 30l-6-2zM1374 817l6 3l-5 31l-7-3zM1269 869l6-10l-5 38l-7 7zM1263 878l6-9l-6 35l-6 6zM1250 885l7-13l-6 32l-6 12zM1244 900l6-15l-5 31l-7 12zM1238 908l6-18l-6 25l-6 14z"/>
<path class="c32" d="M1429 798l7 9l-6 26l-7-8zM1405 804l6 6l-6 28l-6-6zM1399 798l6 6l-6 28l-6-6zM1368 815l6 2l-6 31l-6-2zM1362 813l6 2l-6 31l-6-3zM1288 843l6-8l-6 40l-6 8zM1282 850l6-7l-6 40l-6 8zM1275 859l7-9l-6 41l-6 6zM1257 872l6-12l-6 31l-6 13zM1244 890l6-18l-6 28l-6 15z"/>
<path class="c33" d="M1423 790l6 8l-6 27l-6-8zM1417 783l6 7l-6 27l-6-7zM1393 793l6 5l-6 28l-6-3zM1386 789l7 4l-6 30l-7-3zM1356 811l6 2l-6 30l-6-2zM1350 812l6-1l-6 30l-6 2zM1343 812l7 0l-6 31l-7 1zM1337 813l6-1l-6 32l-6 2zM1331 814l6-1l-6 33l-6 2zM1325 814l6 0l-6 34l-6 2zM1319 815l6-1l-6 36l-6 2zM1313 819l6-4l-6 37l-6 5zM1306 824l7-5l-6 38l-7 5zM1300 828l6-4l-6 38l-6 5zM1294 835l6-7l-6 39l-6 8zM1263 860l6-13l-6 31l-6 13zM1250 872l6-18l-6 31l-6 15z"/>
<path class="c34" d="M1411 776l6 7l-6 27l-6-6zM1380 785l6 4l-6 31l-6-3zM1374 784l6 1l-6 32l-6-2zM1368 783l6 1l-6 31l-6-2zM1275 834l6-13l-6 38l-6 10zM1269 847l6-13l-6 35l-6 9zM1256 854l7-13l-6 31l-7 13z"/>
<path class="c35" d="M1405 769l6 7l-6 28l-6-6zM1398 764l7 5l-6 29l-6-5zM1362 782l6 1l-6 30l-6-2zM1355 781l7 1l-6 29l-6 1zM1349 780l6 1l-5 31l-7 0zM1343 779l6 1l-6 32l-6 1zM1294 802l6-6l-6 39l-6 8zM1288 809l6-7l-6 41l-6 7zM1281 821l7-12l-6 41l-7 9zM1269 828l6-13l-6 32l-6 13zM1263 841l6-13l-6 32l-6 12z"/>
<path class="c36" d="M1392 758l6 6l-5 29l-7-4zM1386 753l6 5l-6 31l-6-4zM1337 779l6 0l-6 34l-6 1zM1331 779l6 0l-6 35l-6 0zM1325 778l6 1l-6 35l-6 1zM1318 782l7-4l-6 37l-6 4zM1312 786l6-4l-5 37l-7 5zM1306 789l6-3l-6 38l-6 4zM1300 796l6-7l-6 39l-6 7zM1275 815l6-16l-6 35l-6 13z"/>
<path class="c37" d="M1380 753l6 0l-6 32l-6-1zM1374 753l6 0l-6 31l-6-1zM1368 753l6 0l-6 30l-6-1zM1361 750l7 3l-6 29l-7-1zM1355 748l6 2l-6 31l-6-1zM1287 784l6-16l-5 41l-7 12zM1281 799l6-15l-6 37l-6 13z"/>
<path class="c38" d="M1349 746l6 2l-6 32l-6-1zM1343 744l6 2l-6 33l-6 0zM1337 743l6 1l-6 35l-6 0zM1331 741l6 2l-6 36l-6-1zM1324 744l7-3l-6 37l-7 4zM1318 748l6-4l-6 38l-6 4zM1312 751l6-3l-6 38l-6 3zM1306 756l6-5l-6 38l-6 7zM1300 762l6-6l-6 40l-6 6zM1293 768l7-6l-6 40l-6 7z"/>
<path class="c11" d="M923 1241l18-19l-17-1l-19 14z"/>
<path class="c10" d="M886 1268l18 10l19-37l-18-6l-18 21l-19 4z"/>
<path class="c12" d="M1830 840l18 10l19-24l-18-2l-18-4l-19 11z"/>
<path class="c13" d="M1793 853l18-14l19 1l-18-9l-18 2l-19 5zM959 1237l19-32l-18-10l-19 27z"/>
<path class="c14" d="M1774 848l19 5l-18-15l-18 2z"/>
<path class="c15" d="M1756 856l18-8l-17-8l-19-6zM978 1205l18-20l-18 0l-18 10z"/>
<path class="c16" d="M1737 852l19 4l-18-22l-18 7zM996 1185l19-27l-18 5l-19 22z"/>
<path class="c17" d="M1719 839l18 13l-17-11l-19 7z"/>
<path class="c18" d="M1682 860l18 0l19-21l-18 9l-18-8l-19 13z"/>
<path class="c19" d="M1663 848l19 12l-18-7l-19 0zM1015 1158l18-25l-17-6l-19 36z"/>
<path class="c20" d="M1645 856l18-8l-18 5l-18-12zM1033 1133l19-15l-18-7l-18 16z"/>
<path class="c21" d="M1626 867l19-11l-18-15l-19 0zM1052 1118l18-20l-17-11l-19 24z"/>
<path class="c22" d="M1534 883l18 4l19-9l18-7l19-14l18 10l-18-26l-18 13l-19 10l-18 4l-19 17l-18 5zM1515 876l10 11l-9 3l-9-2zM1070 1098l19-10l18-16l19 0l-18-5l-18 2l-19 10l-18 8z"/>
<path class="c23" d="M1506 866l9 10l-8 12l-10-3zM1524 865l10 18l-9 4l-10-11zM1163 1036l18 7l-17-6l-19-1zM1126 1072l18-27l-17-5l-19 27z"/>
<path class="c25" d="M1515 847l9 18l-9 11l-9-10zM1491 855l6 9l-6 15l-6-5zM1191 1005l9-16l-8 16l-10 6z"/>
<path class="c24" d="M1497 864l6 8l-6 13l-6-6zM1181 1043l19-44l-18 12l-18 26zM1144 1045l19-9l-18 0l-18 4z"/>
<path class="c26" d="M1485 847l6 8l-6 19l-6-6zM1503 848l6 12l-6 12l-6-8zM1207 981l6-18l-6 20l-6 15zM1200 989l10-17l-9 26l-9 7zM1200 999l9-26l-9 16l-9 16z"/>
<path class="c27" d="M1497 837l6 11l-6 16l-6-9zM1509 833l6 14l-6 13l-6-12zM1478 837l7 10l-6 21l-6-8zM1213 963l6-17l-6 22l-6 15z"/>
<path class="c28" d="M1491 826l6 11l-6 18l-6-8zM1472 827l6 10l-5 23l-7-8zM1213 964l6-20l-6 19l-6 18zM1209 973l10-26l-9 25l-10 17z"/>
<path class="c29" d="M1503 819l6 14l-6 15l-6-11zM1466 817l6 10l-6 25l-6-9zM1484 814l7 12l-6 21l-7-10zM1219 946l6-18l-6 24l-6 16z"/>
<path class="c30" d="M1496 804l7 15l-6 18l-6-11zM1478 803l6 11l-6 23l-6-10zM1460 807l6 10l-6 26l-6-9zM1225 928l6-17l-5 27l-7 14zM1219 944l6-20l-6 22l-6 17zM1219 947l6-22l-6 19l-6 20z"/>
<path class="c32" d="M1472 791l6 12l-6 24l-6-10zM1490 791l6 13l-5 22l-7-12zM1448 788l6 10l-6 27l-6-9zM1238 893l6-17l-6 32l-6 15zM1231 905l6-21l-6 27l-6 17zM1225 925l6-22l-6 21l-6 20z"/>
<path class="c33" d="M1484 778l6 13l-6 23l-6-11zM1466 781l6 10l-6 26l-6-10zM1460 770l6 11l-6 26l-6-9zM1441 779l7 9l-6 28l-6-9zM1244 876l6-18l-6 32l-6 18zM1237 884l7-20l-6 29l-7 18zM1231 903l6-22l-6 24l-6 19z"/>
<path class="c34" d="M1478 765l6 13l-6 25l-6-12zM1453 760l7 10l-6 28l-6-10zM1435 770l6 9l-5 28l-7-9zM1250 858l6-17l-6 31l-6 18zM1237 881l6-24l-6 27l-6 21z"/>
<path class="c31" d="M1454 798l6 9l-6 27l-6-9zM1231 911l7-18l-6 30l-6 15zM1225 924l6-19l-6 23l-6 18z"/>
<path class="c35" d="M1472 754l6 11l-6 26l-6-10zM1466 743l6 11l-6 27l-6-11zM1429 762l6 8l-6 28l-6-8zM1447 751l6 9l-5 28l-7-9zM1423 755l6 7l-6 28l-6-7zM1256 841l6-17l-6 30l-6 18zM1244 864l6-21l-6 33l-6 17z"/>
<path class="c36" d="M1459 732l7 11l-6 27l-7-10zM1441 743l6 8l-6 28l-6-9zM1417 747l6 8l-6 28l-6-7zM1262 824l6-14l-5 31l-7 13zM1250 843l6-16l-6 31l-6 18zM1243 857l6-23l-5 30l-7 20z"/>
<path class="c37" d="M1435 734l6 9l-6 27l-6-8zM1453 723l6 9l-6 28l-6-9zM1411 740l6 7l-6 29l-6-7zM1429 727l6 7l-6 28l-6-7zM1404 736l7 4l-6 29l-7-5zM1268 810l7-14l-6 32l-6 13zM1262 810l6-16l-6 30l-6 17zM1256 827l6-17l-6 31l-6 17zM1249 834l7-23l-6 32l-6 21z"/>
<path class="c38" d="M1447 715l6 8l-6 28l-6-8zM1423 719l6 8l-6 28l-6-8zM1398 731l6 5l-6 28l-6-6zM1392 727l6 4l-6 27l-6-5zM1386 727l6 0l-6 26l-6 0zM1281 782l6-14l-6 31l-6 16zM1275 796l6-14l-6 33l-6 13zM1268 794l6-15l-6 31l-6 14zM1256 811l6-16l-6 32l-6 16z"/>
<path class="c39" d="M1441 707l6 8l-6 28l-6-9zM1416 711l7 8l-6 28l-6-7zM1435 698l6 9l-6 27l-6-7zM1410 708l6 3l-5 29l-7-4zM1404 704l6 4l-6 28l-6-5zM1380 727l6 0l-6 26l-6 0zM1373 728l7-1l-6 26l-6 0zM1367 725l6 3l-5 25l-7-3zM1361 722l6 3l-6 25l-6-2zM1287 768l6-14l-6 30l-6 15zM1274 779l7-16l-6 33l-7 14zM1268 780l6-16l-6 30l-6 16zM1262 795l6-15l-6 30l-6 17z"/>
<path class="c40" d="M1429 690l6 8l-6 29l-6-8zM1422 682l7 8l-6 29l-7-8zM1398 701l6 3l-6 27l-6-4zM1392 702l6-1l-6 26l-6 0zM1386 702l6 0l-6 25l-6 0zM1379 703l7-1l-6 25l-7 1zM1355 720l6 2l-6 26l-6-2zM1349 719l6 1l-6 26l-6-2zM1343 719l6 0l-6 25l-6-1zM1336 718l7 1l-6 24l-6-2zM1330 719l6-1l-5 23l-7 3zM1324 721l6-2l-6 25l-6 4zM1318 723l6-2l-6 27l-6 3zM1312 728l6-5l-6 28l-6 5zM1306 734l6-6l-6 28l-6 6zM1299 740l7-6l-6 28l-7 6zM1293 754l6-14l-6 28l-6 16zM1287 748l6-12l-6 32l-6 14zM1281 763l6-15l-6 34l-6 14zM1274 764l6-17l-6 32l-6 15z"/>
<path class="c41" d="M1416 680l6 2l-6 29l-6-3zM1410 678l6 2l-6 28l-6-4zM1404 675l6 3l-6 26l-6-3zM1373 700l6 3l-6 25l-6-3zM1367 697l6 3l-6 25l-6-3zM1361 694l6 3l-6 25l-6-2zM1355 694l6 0l-6 26l-6-1zM1349 694l6 0l-6 25l-6 0zM1299 724l6-12l-6 28l-6 14zM1293 736l6-12l-6 30l-6 14zM1286 731l7-16l-6 33l-6 15zM1280 747l6-16l-5 32l-7 16z"/>
<path class="c42" d="M1398 676l6-1l-6 26l-6 1zM1391 677l7-1l-6 26l-6 0zM1385 678l6-1l-5 25l-7 1zM1379 674l6 4l-6 25l-6-3zM1373 671l6 3l-6 26l-6-3zM1367 668l6 3l-6 26l-6-3zM1342 695l7-1l-6 25l-7-1zM1336 695l6 0l-6 23l-6 1zM1330 695l6 0l-6 24l-6 2zM1324 695l6 0l-6 26l-6 2zM1318 701l6-6l-6 28l-6 5zM1311 706l7-5l-6 27l-6 6zM1305 712l6-6l-5 28l-7 6zM1299 705l6-10l-6 29l-6 12zM1293 715l6-10l-6 31l-6 12z"/>
<path class="c43" d="M1361 669l6-1l-6 26l-6 0zM1354 670l7-1l-6 25l-6 0zM1348 672l6-2l-5 24l-7 1zM1342 670l6 2l-6 23l-6 0zM1336 668l6 2l-6 25l-6 0zM1330 666l6 2l-6 27l-6 0zM1324 673l6-7l-6 29l-6 6zM1317 679l7-6l-6 28l-7 5zM1311 685l6-6l-6 27l-6 6zM1305 695l6-10l-6 27l-6 12z"/>
<path class="c11" d="M941 1269l18-32l-18-15l-18 19z"/>
<path class="c10" d="M904 1283l18-16l19 2l-18-28l-19 37l-18-10z"/>
<path class="c11" d="M1848 862l18-15l19 4l-18-25l-19 24l-18-10zM958 1262l19-27l-18 2l-18 32z"/>
<path class="c12" d="M1829 859l19 3l-18-22l-19-1z"/>
<path class="c13" d="M1811 864l18-5l-18-20l-18 14zM977 1235l18-18l-17-12l-19 32z"/>
<path class="c14" d="M1792 856l19 8l-18-11l-19-5z"/>
<path class="c15" d="M1774 848l18 8l-18-8l-18 8zM995 1217l19-19l-18-13l-18 20z"/>
<path class="c16" d="M1755 857l19-9l-18 8l-19-4z"/>
<path class="c17" d="M1737 858l18-1l-18-5l-18-13zM1014 1198l18-43l-17 3l-19 27z"/>
<path class="c18" d="M1699 860l19 6l19-8l-18-19l-19 21l-18 0z"/>
<path class="c20" d="M1644 872l18-6l19-4l18-2l-17 0l-19-12l-18 8l-19 11zM1051 1155l19-34l-18-3l-19 15z"/>
<path class="c21" d="M1625 870l19 2l-18-5l-18-10zM1588 888l19-3l-18-14l-18 7z"/>
<path class="c22" d="M1607 885l18-15l-17-13l-19 14zM1570 873l18 15l-17-10l-19 9zM1070 1121l18-19l19-10l-18-4l-19 10l-18 20z"/>
<path class="c23" d="M1552 870l9 10l-9 7l-9-2zM1107 1092l18-15l19-13l18-6l-18-13l-18 27l-19 0l-18 16z"/>
<path class="c24" d="M1542 860l10 10l-9 15l-9-2zM1560 855l10 18l-9 7l-9-10zM1533 855l6 12l-5 16l-7-12zM1187 1033l7-18l-6 13l-7 15zM1181 1034l9-6l-9 15l-9-4zM1172 1041l9-7l-9 5l-9-3zM1181 1046l9-17l-9 5l-9 7zM1162 1058l19-12l-18-10l-19 9z"/>
<path class="c26" d="M1551 836l9 19l-8 15l-10-10zM1527 843l6 12l-6 16l-6-12zM1539 840l6 12l-6 15l-6-12zM1200 997l6-18l-6 20l-6 15z"/>
<path class="c27" d="M1521 831l6 12l-6 16l-6-12zM1199 1001l7-21l-6 17l-6 18zM1199 1012l6-24l-6 13l-6 22z"/>
<path class="c28" d="M1533 828l6 12l-6 15l-6-12zM1545 824l6 12l-6 16l-6-12zM1206 979l6-21l-6 24l-6 17z"/>
<path class="c29" d="M1527 816l6 12l-6 15l-6-12zM1539 812l6 12l-6 16l-6-12zM1515 815l6 16l-6 16l-6-14zM1212 958l6-20l-6 26l-6 18zM1206 980l6-21l-6 20l-6 18zM1205 988l7-25l-6 17l-7 21z"/>
<path class="c31" d="M1533 800l6 12l-6 16l-6-12zM1509 799l6 16l-6 18l-6-14zM1521 798l6 18l-6 15l-6-16zM1218 938l6-20l-5 29l-7 17zM1212 963l6-25l-6 21l-6 21z"/>
<path class="c32" d="M1502 783l7 16l-6 20l-7-15zM1514 780l7 18l-6 17l-6-16zM1527 780l6 20l-6 16l-6-18zM1224 918l7-23l-6 30l-6 22zM1218 935l6-23l-6 26l-6 20zM1218 938l6-26l-6 23l-6 24z"/>
<path class="c34" d="M1508 762l6 18l-5 19l-7-16zM1520 760l7 20l-6 18l-7-18zM1490 756l6 13l-6 22l-6-13zM1231 895l6-24l-6 32l-6 22zM1224 912l6-25l-6 25l-6 23z"/>
<path class="c35" d="M1514 741l6 19l-6 20l-6-18zM1484 742l6 14l-6 22l-6-13zM1502 747l6 15l-6 21l-6-14zM1237 871l6-23l-6 33l-6 22zM1230 889l7-24l-6 30l-7 23zM1230 887l6-26l-6 28l-6 23z"/>
<path class="c33" d="M1496 769l6 14l-6 21l-6-13zM1224 912l6-23l-6 29l-6 20z"/>
<path class="c36" d="M1496 733l6 14l-6 22l-6-13zM1478 732l6 10l-6 23l-6-11zM1243 848l6-19l-6 28l-6 24zM1237 865l6-25l-6 31l-6 24z"/>
<path class="c37" d="M1490 719l6 14l-6 23l-6-14zM1508 725l6 16l-6 21l-6-15zM1471 722l7 10l-6 22l-6-11zM1243 840l6-25l-6 33l-6 23zM1236 861l6-26l-5 30l-7 24z"/>
<path class="c38" d="M1502 710l6 15l-6 22l-6-14zM1465 712l6 10l-5 21l-7-11zM1484 710l6 9l-6 23l-6-10zM1249 829l6-20l-6 25l-6 23zM1249 815l6-15l-6 29l-6 19zM1242 835l7-26l-6 31l-6 25z"/>
<path class="c39" d="M1496 695l6 15l-6 23l-6-14zM1477 702l7 8l-6 22l-7-10zM1471 693l6 9l-6 20l-6-10zM1489 688l7 7l-6 24l-6-9zM1459 706l6 6l-6 20l-6-9zM1453 700l6 6l-6 17l-6-8zM1262 790l6-13l-6 18l-6 16zM1255 809l7-19l-6 21l-7 23zM1255 800l6-16l-6 25l-6 20zM1249 809l6-26l-6 32l-6 25z"/>
<path class="c40" d="M1483 681l6 7l-5 22l-7-8zM1447 693l6 7l-6 15l-6-8zM1465 689l6 4l-6 19l-6-6zM1459 685l6 4l-6 17l-6-6zM1268 777l6-13l-6 16l-6 15zM1261 784l6-16l-5 22l-7 19zM1255 783l6-12l-6 29l-6 15z"/>
<path class="c41" d="M1477 674l6 7l-6 21l-6-9zM1453 680l6 5l-6 15l-6-7zM1471 672l6 2l-6 19l-6-4zM1465 669l6 3l-6 17l-6-4zM1440 680l10 7l-9 20l-9-13zM1431 673l9 7l-8 14l-10-12zM1274 764l6-13l-6 13l-6 16zM1274 758l6-10l-6 16l-6 13zM1267 768l7-10l-6 19l-6 13zM1267 759l6-12l-6 21l-6 16zM1261 771l6-12l-6 25l-6 16z"/>
<path class="c42" d="M1459 667l6 2l-6 16l-6-5zM1449 666l10 1l-9 20l-10-7zM1440 665l9 1l-9 14l-9-7zM1422 671l18-6l-18 17l-18-7zM1283 745l9-19l-9 13l-9 25zM1280 748l6-10l-6 13l-6 13zM1286 733l6-7l-6 12l-6 10zM1279 740l7-7l-6 15l-6 10zM1273 747l6-7l-5 18l-7 10z"/>
<path class="c43" d="M1384 664l19 11l19-4l-18 4l-19 3l-18-10zM1292 726l10-18l-9 7l-10 24zM1301 713l9-13l-8 8l-10 18zM1292 726l9-13l-9 13l-9 19z"/>
<path class="c44" d="M1310 700l19-16l18-1l19-19l18 0l-17 4l-19 4l-18-6l-19 19l-18 30z"/>
<path class="c30" d="M1212 959l6-24l-6 23l-6 21z"/>
<path class="c25" d="M1194 1015l6-18l-6 17l-6 14zM1193 1023l6-22l-5 14l-7 18zM1190 1029l9-17l-9 16l-9 6z"/>
<path class="c19" d="M1032 1155l19 0l-18-22l-18 25z"/>
<path class="c10" d="M921 1289l19-6l18-21l-17 7l-19-2l-18 16z"/>
<path class="c11" d="M1847 873l18 17l19-18l18-7l-17-14l-19-4l-18 15l-19-3zM958 1287l18-25l19-4l-18-23l-19 27l-18 21z"/>
<path class="c12" d="M1828 887l19-14l-18-14l-18 5z"/>
<path class="c13" d="M1810 867l18 20l-17-23l-19-8zM995 1258l18-25l-18-16l-18 18z"/>
<path class="c16" d="M1791 859l19 8l-18-11l-18-8z"/>
<path class="c17" d="M1773 856l18 3l-17-11l-19 9z"/>
<path class="c18" d="M1717 874l19 2l18-14l19-6l-18 1l-18 1l-19 8l-19-6zM1032 1191l18-28l-18-8l-18 43z"/>
<path class="c20" d="M1680 873l19-5l18 6l-18-14l-18 2l-19 4zM1050 1163l19-21l18-7l-17-14l-19 34l-19 0z"/>
<path class="c21" d="M1625 891l18-12l19-3l18-3l-18-7l-18 6l-19-2l-18 15z"/>
<path class="c22" d="M1606 886l19 5l-18-6l-19 3zM1087 1135l19-17l18-17l-17-9l-19 10l-18 19z"/>
<path class="c23" d="M1587 869l19 17l-18 2l-18-15zM1124 1101l19-11l18-19l-17-7l-19 13l-18 15z"/>
<path class="c25" d="M1569 857l7 15l-6 1l-6-12zM1575 853l7 17l-6 2l-7-15zM1187 1042l6-17l-6 10l-6 11z"/>
<path class="c26" d="M1563 842l6 15l-5 4l-7-13zM1581 850l6 19l-5 1l-7-17zM1193 1025l6-17l-6 16l-6 11zM1193 1037l6-22l-6 10l-6 17z"/>
<path class="c28" d="M1557 828l6 14l-6 6l-6-12zM1575 830l6 20l-6 3l-6-17z"/>
<path class="c27" d="M1569 836l6 17l-6 4l-6-15zM1199 1008l6-17l-6 21l-6 12zM1199 1015l6-22l-6 15l-6 17zM1198 1033l7-28l-6 10l-6 22z"/>
<path class="c29" d="M1563 819l6 17l-6 6l-6-14zM1205 991l6-26l-6 23l-6 24zM1205 993l6-22l-6 20l-6 17zM1205 1005l6-28l-6 16l-6 22z"/>
<path class="c30" d="M1569 811l6 19l-6 6l-6-17zM1551 813l6 15l-6 8l-6-12z"/>
<path class="c31" d="M1545 798l6 15l-6 11l-6-12zM1557 801l6 18l-6 9l-6-15zM1211 965l6-27l-5 25l-7 25zM1211 971l6-30l-6 24l-6 26zM1211 977l6-27l-6 21l-6 22z"/>
<path class="c32" d="M1539 783l6 15l-6 14l-6-12zM1551 783l6 18l-6 12l-6-15zM1563 790l6 21l-6 8l-6-18z"/>
<path class="c34" d="M1545 765l6 18l-6 15l-6-15zM1532 763l7 20l-6 17l-6-20zM1224 911l6-24l-6 25l-6 26z"/>
<path class="c33" d="M1557 769l6 21l-6 11l-6-18zM1217 938l7-27l-6 27l-6 25zM1217 941l6-29l-6 26l-6 27zM1217 950l6-32l-6 23l-6 30z"/>
<path class="c35" d="M1550 748l7 21l-6 14l-6-18zM1526 744l6 19l-5 17l-7-20zM1538 746l7 19l-6 18l-7-20zM1223 912l7-29l-6 28l-7 27zM1223 918l6-32l-6 26l-6 29z"/>
<path class="c37" d="M1520 725l6 19l-6 16l-6-19zM1236 862l6-24l-6 23l-6 26zM1236 861l6-23l-6 24l-6 25zM1229 886l6-31l-5 28l-7 29z"/>
<path class="c36" d="M1532 728l6 18l-6 17l-6-19zM1544 730l6 18l-5 17l-7-19zM1230 887l6-25l-6 25l-6 25zM1230 883l6-22l-6 26l-6 24z"/>
<path class="c38" d="M1526 709l6 19l-6 16l-6-19zM1538 712l6 18l-6 16l-6-18zM1514 711l6 14l-6 16l-6-16zM1242 838l6-21l-6 18l-6 26zM1235 855l7-20l-6 26l-6 22z"/>
<path class="c39" d="M1532 693l6 19l-6 16l-6-19zM1508 697l6 14l-6 14l-6-15zM1520 696l6 13l-6 16l-6-14zM1242 838l6-22l-6 22l-6 24zM1242 835l6-21l-6 24l-6 23z"/>
<path class="c40" d="M1502 683l6 14l-6 13l-6-15zM1514 683l6 13l-6 15l-6-14zM1526 681l6 12l-6 16l-6-13zM1248 817l7-22l-6 14l-7 26zM1248 816l6-17l-6 18l-6 21zM1248 814l6-20l-6 22l-6 22z"/>
<path class="c41" d="M1507 670l7 13l-6 14l-6-14zM1520 670l6 11l-6 15l-6-13zM1495 672l10 5l-9 18l-10-10zM1486 667l9 5l-9 13l-9-11zM1255 795l6-22l-6 10l-6 26zM1260 782l7-18l-6 9l-6 22zM1254 799l6-17l-5 13l-7 22zM1254 794l6-13l-6 18l-6 17z"/>
<path class="c42" d="M1513 658l7 12l-6 13l-7-13zM1504 658l9 0l-8 19l-10-5zM1495 659l9-1l-9 14l-9-5zM1458 678l18-7l19-12l-18 15l-18-7l-19-2zM1273 755l18-4l-18-4l-18 36zM1266 768l7-13l-6 9l-7 18zM1260 781l6-13l-6 14l-6 17z"/>
<path class="c43" d="M1421 670l18 6l19 2l-18-13l-18 6l-19 4zM1291 751l19-16l18-21l-18-14l-18 26l-19 21z"/>
<path class="c44" d="M1328 714l19-14l18 13l19-22l18-11l19-10l-18 5l-19-11l-18 0l-19 19l-18 1l-19 16z"/>
<path class="c24" d="M1161 1071l19-9l18-29l-17 13l-19 12l-18 6z"/>
<path class="c15" d="M1013 1233l19-42l-18 7l-19 19z"/>
<path class="c10" d="M939 1293l19-6l-18-4l-19 6z"/>
<path class="c10" d="M1883 894l19-10l18 1l-18-20l-18 7l-19 18z"/>
<path class="c11" d="M1846 878l19 13l18 3l-18-4l-18-17l-19 14zM957 1288l18-4l19-24l-18 2l-18 25l-19 6z"/>
<path class="c12" d="M1828 874l9 9l-9 4l-9-10zM994 1260l18-17l-17 15l-19 4z"/>
<path class="c14" d="M1819 866l9 8l-9 3l-9-10zM1022 1234l9-20l-9-2l-9 21z"/>
<path class="c13" d="M1837 872l9 6l-9 5l-9-9zM1012 1243l19-8l-18-2l-18 25z"/>
<path class="c15" d="M1828 865l9 7l-9 2l-9-8zM1031 1235l9-20l-9-1l-9 20z"/>
<path class="c16" d="M1809 872l19-7l-18 2l-19-8zM1031 1214l10-21l-9-2l-10 21z"/>
<path class="c17" d="M1790 871l19 1l-18-13l-18-3zM1040 1215l9-20l-8-2l-10 21z"/>
<path class="c18" d="M1735 879l18-1l19 0l18-7l-17-15l-19 6l-18 14l-19-2z"/>
<path class="c20" d="M1716 880l19-1l-18-5l-18-6zM1068 1169l18-20l-17-7l-19 21z"/>
<path class="c21" d="M1661 891l18-9l19-8l18 6l-17-12l-19 5l-18 3l-19 3zM1086 1149l19-28l-18 14l-18 7z"/>
<path class="c22" d="M1624 879l18 14l19-2l-18-12l-18 12l-19-5zM1105 1121l18 0l19-14l-18-6l-18 17l-19 17z"/>
<path class="c24" d="M1606 869l9 14l-9 3l-9-8zM1179 1083l19-25l-18 4l-19 9z"/>
<path class="c25" d="M1596 855l10 14l-9 9l-10-9zM1614 860l10 19l-9 4l-9-14zM1186 1061l6-16l-6 7l-6 10zM1192 1059l6-21l-6 7l-6 16z"/>
<path class="c27" d="M1605 841l9 19l-8 9l-10-14zM1587 840l6 20l-6 9l-6-19zM1198 1029l6-15l-6 19l-6 10zM1198 1038l6-22l-6 13l-6 16z"/>
<path class="c29" d="M1581 820l6 20l-6 10l-6-20zM1599 821l6 20l-6 9l-6-20z"/>
<path class="c31" d="M1575 801l6 19l-6 10l-6-19zM1593 801l6 20l-6 9l-6-19zM1210 984l7-29l-6 22l-6 28z"/>
<path class="c28" d="M1593 830l6 20l-6 10l-6-20zM1204 1014l6-30l-5 21l-7 28zM1204 1016l6-21l-6 19l-6 15zM1204 1031l6-28l-6 13l-6 22z"/>
<path class="c30" d="M1587 811l6 19l-6 10l-6-20zM1210 995l6-31l-6 20l-6 30zM1210 1003l6-27l-6 19l-6 21z"/>
<path class="c32" d="M1581 791l6 20l-6 9l-6-19zM1216 976l6-33l-6 21l-6 31z"/>
<path class="c33" d="M1587 781l6 20l-6 10l-6-20zM1569 780l6 21l-6 10l-6-21zM1217 955l6-30l-6 25l-6 27zM1216 964l7-31l-6 22l-7 29z"/>
<path class="c34" d="M1563 760l6 20l-6 10l-6-21zM1575 771l6 20l-6 10l-6-21zM1581 761l6 20l-6 10l-6-20zM1222 943l6-33l-5 23l-7 31z"/>
<path class="c36" d="M1556 739l7 21l-6 9l-7-21zM1574 742l7 19l-6 10l-7-20zM1229 896l6-29l-6 19l-6 32zM1229 901l6-27l-6 22l-6 29zM1228 910l7-33l-6 24l-6 32z"/>
<path class="c35" d="M1568 751l7 20l-6 9l-6-20zM1223 925l6-29l-6 22l-6 32zM1223 933l6-32l-6 24l-6 30z"/>
<path class="c37" d="M1562 731l6 20l-5 9l-7-21zM1568 722l6 20l-6 9l-6-20zM1550 722l6 17l-6 9l-6-18z"/>
<path class="c39" d="M1544 705l6 17l-6 8l-6-18zM1550 699l6 16l-6 7l-6-17zM1562 707l6 15l-6 9l-6-16zM1241 847l6-28l-6 18l-6 30zM1241 852l6-25l-6 20l-6 27z"/>
<path class="c40" d="M1538 688l6 17l-6 7l-6-19zM1544 683l6 16l-6 6l-6-17zM1556 693l6 14l-6 8l-6-16zM1244 828l10-21l-9 17l-10 31z"/>
<path class="c38" d="M1556 715l6 16l-6 8l-6-17zM1235 867l6-30l-6 18l-6 31zM1235 874l6-27l-6 20l-6 29zM1235 877l6-25l-6 22l-6 27z"/>
<path class="c41" d="M1550 678l6 15l-6 6l-6-16zM1531 675l10 11l-9 7l-9-17zM1540 674l10 4l-9 8l-10-11zM1254 807l9-21l-9 8l-9 30zM1253 802l9-12l-8 17l-10 21zM1247 827l6-25l-6 17l-6 28z"/>
<path class="c42" d="M1522 663l9 12l-8 1l-10-18zM1531 669l9 5l-9 1l-9-12zM1476 685l18-4l19-6l18-6l-18-11l-18 1l-19 12l-18 7zM1272 779l18-14l-17-10l-19 39zM1262 790l10-11l-9 7l-9 21z"/>
<path class="c43" d="M1364 712l19 25l18-19l19-18l18-18l19 3l19 0l-18-7l-19-2l-18-6l-19 10l-18 11l-19 22l-18-13zM1290 765l19 0l18-22l19-18l-18-11l-18 21l-19 16l-18 4z"/>
<path class="c44" d="M1346 725l18-13l-17-12l-19 14z"/>
<path class="c26" d="M1192 1045l6-16l-6 14l-6 9zM1198 1058l6-27l-6 7l-6 21z"/>
<path class="c23" d="M1142 1107l19-15l18-9l-18-12l-18 19l-19 11z"/>
<path class="c19" d="M1049 1195l19-26l-18-6l-18 28z"/>
<path class="c10" d="M1901 896l18-11l19 1l-18-1l-18-1l-19 10z"/>
<path class="c11" d="M1882 886l19 10l-18-2l-18-3zM974 1295l19-12l-18 1l-18 4z"/>
<path class="c12" d="M1864 897l18-11l-17 5l-19-13zM993 1283l19-17l-18-6l-19 24z"/>
<path class="c14" d="M1845 887l19 10l-18-19l-18-13zM1012 1266l18-26l-18 3l-18 17z"/>
<path class="c15" d="M1827 887l18 0l-17-22l-19 7zM1040 1232l9-19l-9 2l-9 20zM1030 1240l19-11l-18 6l-19 8z"/>
<path class="c16" d="M1808 889l19-2l-18-15l-19-1zM1049 1229l9-18l-9 2l-9 19z"/>
<path class="c17" d="M1790 893l18-4l-18-18l-18 7zM1049 1213l9-19l-9 1l-9 20z"/>
<path class="c18" d="M1771 876l19 17l-18-15l-19 0zM1058 1211l9-19l-9 2l-9 19z"/>
<path class="c19" d="M1753 885l18-9l-18 2l-18 1zM1067 1192l19-8l-18-15l-19 26z"/>
<path class="c20" d="M1734 874l19 11l-18-6l-19 1zM1086 1184l18-18l-18-17l-18 20z"/>
<path class="c21" d="M1679 899l18-13l19 4l18-16l-18 6l-18-6l-19 8l-18 9z"/>
<path class="c22" d="M1660 897l19 2l-18-8l-19 2zM1141 1130l19-11l-18-12l-19 14zM1104 1166l19-32l-18-13l-19 28z"/>
<path class="c23" d="M1642 885l9 10l-9-2l-9-7zM1651 884l9 13l-9-2l-9-10zM1160 1119l18-19l-17-8l-19 15zM1123 1134l18-4l-18-9l-18 0z"/>
<path class="c24" d="M1633 875l9 10l-9 1l-9-7zM1188 1086l9-25l-9 10l-9 12zM1178 1100l19-12l-18-5l-18 9z"/>
<path class="c25" d="M1641 870l10 14l-9 1l-9-10zM1197 1088l9-37l-9 10l-9 25z"/>
<path class="c26" d="M1623 856l10 19l-9 4l-10-19zM1632 852l9 18l-8 5l-10-19zM1197 1061l9-25l-8 22l-10 13z"/>
<path class="c28" d="M1614 837l9 19l-9 4l-9-19zM1206 1051l9-36l-9 21l-9 25z"/>
<path class="c29" d="M1623 833l9 19l-9 4l-9-19zM1209 1029l7-32l-6 17l-6 30z"/>
<path class="c30" d="M1605 818l6 20l-6 3l-6-20zM1611 815l6 21l-6 2l-6-20zM1210 1014l6-30l-6 19l-6 28z"/>
<path class="c32" d="M1599 797l6 21l-6 3l-6-20zM1605 794l6 21l-6 3l-6-21zM1216 984l6-30l-6 22l-6 27zM1216 997l6-32l-6 19l-6 30z"/>
<path class="c34" d="M1593 777l6 20l-6 4l-6-20zM1598 773l7 21l-6 3l-6-20zM1604 769l7 21l-6 4l-7-21zM1222 954l6-31l-6 20l-6 33zM1222 965l6-32l-6 21l-6 30z"/>
<path class="c31" d="M1617 812l6 21l-6 3l-6-21zM1215 1015l7-35l-6 17l-7 32z"/>
<path class="c33" d="M1611 790l6 22l-6 3l-6-21zM1222 980l6-34l-6 19l-6 32z"/>
<path class="c35" d="M1586 758l7 19l-6 4l-6-20zM1228 933l6-29l-6 19l-6 31zM1228 946l6-34l-6 21l-6 32z"/>
<path class="c37" d="M1580 739l6 19l-5 3l-7-19zM1586 737l6 18l-6 3l-6-19zM1592 735l6 17l-6 3l-6-18zM1234 904l6-29l-6 18l-6 30zM1234 912l6-27l-6 19l-6 29z"/>
<path class="c38" d="M1574 721l6 18l-6 3l-6-20zM1580 719l6 18l-6 2l-6-18zM1586 718l6 17l-6 2l-6-18zM1234 893l7-31l-6 15l-7 33z"/>
<path class="c36" d="M1592 755l6 18l-5 4l-7-19zM1598 752l6 17l-6 4l-6-18zM1228 923l6-30l-6 17l-6 33z"/>
<path class="c39" d="M1568 703l9 17l-9 2l-9-22zM1577 705l9 13l-9 2l-9-17zM1241 862l6-21l-6 11l-6 25zM1240 875l6-29l-5 16l-7 31zM1240 885l6-28l-6 18l-6 29z"/>
<path class="c41" d="M1558 685l10 18l-9-3l-9-22zM1567 693l10 12l-9-2l-10-18zM1253 821l6-21l-6 2l-6 25zM1253 830l6-16l-6 7l-6 20zM1259 819l6-11l-6 6l-6 16zM1252 830l7-11l-6 11l-7 16z"/>
<path class="c42" d="M1493 690l19-1l18 0l19-6l18 10l-17-15l-19-9l-18 6l-19 6l-18 4zM1410 741l10-15l-9-17l-10 9zM1428 743l10-19l-9-12l-9 14zM1419 763l9-20l-8-17l-10 15zM1401 756l18 7l-18-45l-18 19zM1382 734l10 13l-9-10l-9-12zM1391 744l10 12l-9-9l-10-13zM1271 796l18-11l19-1l18-8l-17-11l-19 0l-18 14l-19 23zM1259 814l6-16l-6 2l-6 21zM1265 808l6-12l-6 2l-6 16z"/>
<path class="c43" d="M1438 724l18-20l19-16l18 2l-17-5l-19 0l-19-3l-18 18zM1420 726l9-14l-9-12l-9 9zM1373 722l9 12l-8-9l-10-13zM1382 732l9 12l-9-10l-9-12zM1326 776l19-26l19-20l18 2l-18-20l-18 13l-19 18l-18 22z"/>
<path class="c40" d="M1247 841l6-20l-6 6l-6 25zM1246 846l7-16l-6 11l-6 21zM1246 857l6-27l-6 16l-6 29z"/>
<path class="c27" d="M1204 1044l6-30l-6 17l-6 27z"/>
<path class="c10" d="M1937 897l19-9l-18-2l-19-1z"/>
<path class="c11" d="M1900 898l19 1l18-2l-18-12l-18 11l-19-10z"/>
<path class="c12" d="M1882 890l18 8l-18-12l-18 11zM992 1293l19-2l18-13l-17-12l-19 17l-19 12z"/>
<path class="c13" d="M1863 900l19-10l-18 7l-19-10z"/>
<path class="c14" d="M1844 892l19 8l-18-13l-18 0zM1029 1278l19-20l-18-18l-18 26z"/>
<path class="c16" d="M1826 889l18 3l-17-5l-19 2z"/>
<path class="c17" d="M1807 882l19 7l-18 0l-18 4zM1066 1233l19-21l-18-20l-18 37z"/>
<path class="c19" d="M1770 895l19-7l18-6l-17 11l-19-17l-18 9zM1085 1212l18-28l-17 0l-19 8z"/>
<path class="c20" d="M1752 887l18 8l-17-10l-19-11zM1103 1184l19-16l-18-2l-18 18z"/>
<path class="c21" d="M1715 895l18-4l19-4l-18-13l-18 16l-19-4zM1122 1168l18-15l-17-19l-19 32z"/>
<path class="c22" d="M1678 904l18 2l19-11l-18-9l-18 13l-19-2zM1140 1153l19-14l-18-9l-18 4z"/>
<path class="c23" d="M1660 887l9 14l-9-4l-9-13zM1668 889l10 15l-9-3l-9-14zM1159 1139l18-17l19-10l-18-12l-18 19l-19 11z"/>
<path class="c25" d="M1650 872l10 15l-9-3l-10-14zM1659 874l9 15l-8-2l-10-15zM1203 1084l6-28l-6 8l-6 24z"/>
<path class="c27" d="M1641 852l9 20l-9-2l-9-18zM1650 852l9 22l-9-2l-9-20zM1215 1075l6-34l-6 8l-6 30z"/>
<path class="c29" d="M1632 831l9 21l-9 0l-9-19zM1215 1049l6-31l-6 11l-6 27z"/>
<path class="c30" d="M1641 830l9 22l-9 0l-9-21zM1215 1029l6-28l-6 14l-6 24zM1221 1041l6-34l-6 11l-6 31z"/>
<path class="c32" d="M1623 802l9 29l-9 2l-9-32zM1631 803l10 27l-9 1l-9-29zM1221 1001l6-34l-5 13l-7 35zM1227 1007l6-34l-6 14l-6 31z"/>
<path class="c34" d="M1613 773l10 29l-9-1l-10-32zM1622 777l9 26l-8-1l-10-29zM1227 967l7-34l-6 13l-6 34zM1233 973l6-34l-6 14l-6 34z"/>
<path class="c37" d="M1604 747l9 26l-9-4l-9-26zM1613 751l9 26l-9-4l-9-26zM1239 939l6-34l-6 14l-6 34z"/>
<path class="c38" d="M1595 722l9 25l-9-4l-9-25zM1604 726l9 25l-9-4l-9-25zM1240 898l6-24l-6 11l-6 27zM1239 919l7-34l-6 13l-6 35zM1245 905l7-34l-6 14l-7 34z"/>
<path class="c40" d="M1585 702l19 24l-18-8l-19-25zM1437 803l9-18l-9-21l-9 19zM1428 791l9 12l-9-20l-9-8zM1252 864l6-20l-6 7l-6 23zM1252 871l6-17l-6 10l-6 21z"/>
<path class="c41" d="M1567 693l18 9l-18-9l-18-10zM1455 767l10-15l-9-19l-9 12zM1437 764l10-19l-9-21l-10 19zM1428 783l9-19l-9-21l-9 20zM1446 785l9-18l-8-22l-10 19zM1419 775l9 8l-9-20l-9-4zM1409 767l10 8l-9-16l-9-3zM1418 779l10 12l-9-16l-10-8zM1409 765l9 14l-9-12l-9-13zM1252 851l6-24l-6 3l-6 27zM1258 844l6-20l-6 3l-6 24zM1264 837l6-17l-6 4l-6 20zM1258 854l6-17l-6 7l-6 20z"/>
<path class="c42" d="M1529 693l19 2l19-2l-18-10l-19 6l-18 0zM1456 733l9-12l-9-17l-9 10zM1447 745l9-12l-9-19l-9 10zM1465 752l9-15l-9-16l-9 12zM1400 754l9 13l-8-11l-10-12zM1400 751l9 14l-9-11l-9-13zM1270 820l19-10l18-8l19-7l18-7l-18-12l-18 8l-19 1l-18 11l-19 34z"/>
<path class="c43" d="M1474 737l18-26l19-16l18-2l-17-4l-19 1l-18-2l-19 16zM1391 741l9 13l-9-10l-9-12zM1344 788l19-27l18-12l19 2l-18-19l-18-2l-19 20l-19 26z"/>
<path class="c39" d="M1246 874l6-23l-6 6l-6 28zM1246 885l6-21l-6 10l-6 24z"/>
<path class="c36" d="M1234 933l6-35l-6 14l-6 34z"/>
<path class="c35" d="M1233 953l6-34l-5 14l-7 34z"/>
<path class="c33" d="M1227 987l6-34l-6 14l-6 34z"/>
<path class="c28" d="M1209 1056l6-27l-6 10l-6 25z"/>
<path class="c31" d="M1221 1018l6-31l-6 14l-6 28z"/>
<path class="c26" d="M1209 1079l6-30l-6 7l-6 28z"/>
<path class="c24" d="M1196 1112l19-37l-18 13l-19 12z"/>
<path class="c15" d="M1048 1258l18-25l-17-4l-19 11z"/>
<path class="c10" d="M1936 915l19-6l18-7l-17-14l-19 9l-18 2z"/>
<path class="c11" d="M1918 907l18 8l-17-16l-19-1z"/>
<path class="c12" d="M1899 907l19 0l-18-9l-18-8zM1010 1315l18-22l-17-2l-19 2z"/>
<path class="c14" d="M1881 898l18 9l-17-17l-19 10z"/>
<path class="c15" d="M1862 897l19 1l-18 2l-19-8zM1066 1271l18-26l-18-12l-18 25z"/>
<path class="c16" d="M1844 895l18 2l-18-5l-18-3z"/>
<path class="c18" d="M1825 891l19 4l-18-6l-19-7z"/>
<path class="c19" d="M1788 892l19 13l18-14l-18-9l-18 6l-19 7zM1103 1219l18-22l-18-13l-18 28z"/>
<path class="c20" d="M1770 902l18-10l-18 3l-18-8zM1121 1197l19-7l-18-22l-19 16z"/>
<path class="c21" d="M1751 896l19 6l-18-15l-19 4zM1140 1190l18-33l-18-4l-18 15z"/>
<path class="c22" d="M1714 909l18-4l19-9l-18-5l-18 4l-19 11zM1158 1157l19-17l-18-1l-19 14z"/>
<path class="c23" d="M1695 898l19 11l-18-3l-18-2zM1177 1140l18-7l19-14l-18-7l-19 10l-18 17z"/>
<path class="c24" d="M1677 888l10 13l-9 3l-10-15zM1686 888l9 10l-8 3l-10-13zM1205 1116l9-28l-9 6l-9 18z"/>
<path class="c26" d="M1668 876l9 12l-9 1l-9-15zM1677 877l9 11l-9 0l-9-12zM1214 1088l9-28l-8 15l-10 19z"/>
<path class="c28" d="M1659 853l9 23l-9-2l-9-22zM1668 854l9 23l-9-1l-9-23zM1220 1065l7-34l-6 10l-6 34z"/>
<path class="c30" d="M1650 831l9 22l-9-1l-9-22zM1658 832l10 22l-9-1l-9-22z"/>
<path class="c33" d="M1640 806l10 25l-9-1l-10-27zM1649 808l9 24l-8-1l-10-25zM1233 997l6-34l-6 10l-6 34zM1238 1010l7-34l-6 10l-6 34z"/>
<path class="c35" d="M1631 780l9 26l-9-3l-9-26zM1640 784l9 24l-9-2l-9-26zM1239 963l6-33l-6 9l-6 34zM1245 976l6-35l-6 11l-6 34z"/>
<path class="c37" d="M1622 757l9 23l-9-3l-9-26zM1631 762l9 22l-9-4l-9-23zM1251 941l6-29l-6 9l-6 31z"/>
<path class="c38" d="M1612 733l10 24l-9-6l-9-25zM1621 740l10 22l-9-5l-10-24zM1245 930l6-33l-6 8l-6 34zM1251 921l6-31l-6 7l-6 33z"/>
<path class="c40" d="M1603 715l18 25l-17-14l-19-24zM1464 787l10-16l-9-19l-10 15zM1482 790l10-17l-9-18l-9 16zM1473 808l9-18l-8-19l-10 16zM1455 801l9-14l-9-20l-9 18zM1427 790l9 12l-8-11l-10-12zM1436 802l9 12l-9-12l-9-12zM1257 890l6-31l-6 6l-6 32zM1263 882l6-30l-6 7l-6 31z"/>
<path class="c41" d="M1584 697l19 18l-18-13l-18-9zM1501 758l9-14l-9-16l-9 13zM1492 773l9-15l-9-17l-9 14zM1474 771l9-16l-9-18l-9 15zM1418 776l9 14l-9-11l-9-14zM1427 787l9 15l-9-12l-9-14zM1260 862l10-20l-9 4l-9 25zM1269 852l10-13l-9 3l-10 20z"/>
<path class="c42" d="M1547 699l19-3l18 1l-17-4l-19 2l-19-2zM1510 744l19-26l-18-23l-19 16zM1492 741l9-13l-9-17l-9 13zM1483 755l9-14l-9-17l-9 13zM1409 762l9 14l-9-11l-9-14zM1418 772l9 15l-9-11l-9-14zM1288 826l18-6l19-4l18-6l19-20l18-17l-17-12l-19 27l-18 7l-19 7l-18 8l-19 10zM1270 842l9-19l-9-3l-9 26zM1279 839l9-13l-9-3l-9 19z"/>
<path class="c43" d="M1529 718l18-19l-18-6l-18 2zM1380 773l19-17l19 16l-18-21l-19-2l-18 12z"/>
<path class="c39" d="M1446 814l9-13l-9-16l-9 18zM1464 817l9-9l-9-21l-9 14zM1455 826l9-9l-9-16l-9 13zM1436 802l10 12l-9-11l-9-12zM1445 814l10 12l-9-12l-10-12zM1251 897l6-32l-5 6l-7 34zM1257 912l6-30l-6 8l-6 31z"/>
<path class="c36" d="M1245 952l6-31l-6 9l-6 33z"/>
<path class="c31" d="M1227 1031l6-34l-6 10l-6 34zM1232 1044l6-34l-5 10l-7 35z"/>
<path class="c34" d="M1239 986l6-34l-6 11l-6 34z"/>
<path class="c32" d="M1233 1020l6-34l-6 11l-6 34z"/>
<path class="c29" d="M1226 1055l7-35l-6 11l-7 34z"/>
<path class="c27" d="M1223 1082l9-38l-9 16l-9 28z"/>
<path class="c25" d="M1214 1119l9-37l-9 6l-9 28z"/>
<path class="c17" d="M1084 1245l19-26l-18-7l-19 21z"/>
<path class="c13" d="M1028 1293l19-15l19-7l-18-13l-19 20l-18 13z"/>
<path class="c10" d="M1954 919l19-9l18-2l-18-6l-18 7l-19 6z"/>
<path class="c11" d="M1935 903l19 16l-18-4l-18-8z"/>
<path class="c13" d="M1917 908l18-5l-17 4l-19 0zM1046 1308l19-26l-18-4l-19 15z"/>
<path class="c14" d="M1898 907l19 1l-18-1l-18-9zM1065 1282l18-5l-17-6l-19 7z"/>
<path class="c15" d="M1880 905l18 2l-17-9l-19-1zM1083 1277l19-23l-18-9l-18 26z"/>
<path class="c17" d="M1861 896l19 9l-18-8l-18-2zM1102 1254l18-29l-17-6l-19 26z"/>
<path class="c18" d="M1843 902l18-6l-17-1l-19-4z"/>
<path class="c19" d="M1824 899l19 3l-18-11l-18 14zM1120 1225l19-16l-18-12l-18 22z"/>
<path class="c20" d="M1806 895l18 4l-17 6l-19-13zM1139 1209l18-24l-17 5l-19 7z"/>
<path class="c21" d="M1769 904l18-3l19-6l-18-3l-18 10l-19-6zM1157 1185l19-6l-18-22l-18 33z"/>
<path class="c22" d="M1732 919l18-12l19-3l-18-8l-19 9l-18 4zM1176 1179l18-18l-17-21l-19 17z"/>
<path class="c23" d="M1713 907l19 12l-18-10l-19-11zM1194 1161l19-21l-18-7l-18 7z"/>
<path class="c26" d="M1695 878l18 29l-18-9l-18-21zM1231 1109l7-27l-6 4l-6 26z"/>
<path class="c28" d="M1676 856l10 22l-9-1l-9-23zM1232 1086l6-27l-6 5l-6 26zM1238 1082l6-28l-6 5l-6 27z"/>
<path class="c31" d="M1667 834l9 22l-8-2l-10-22zM1676 835l9 22l-9-1l-9-22zM1244 1054l6-27l-6 6l-6 26z"/>
<path class="c29" d="M1685 857l10 21l-9 0l-10-22zM1232 1064l6-25l-6 5l-6 25z"/>
<path class="c33" d="M1658 811l9 23l-9-2l-9-24zM1667 814l9 21l-9-1l-9-23zM1250 1027l6-34l-6 5l-6 35z"/>
<path class="c35" d="M1649 788l9 23l-9-3l-9-24zM1658 792l9 22l-9-3l-9-23zM1256 993l6-35l-6 6l-6 34z"/>
<path class="c36" d="M1639 768l10 20l-9-4l-9-22zM1648 773l10 19l-9-4l-10-20zM1251 970l6-35l-6 6l-6 35z"/>
<path class="c38" d="M1630 748l9 20l-8-6l-10-22zM1639 755l9 18l-9-5l-9-20zM1491 833l9-8l-9-17l-9 13zM1472 846l19-13l-18-25l-18 18zM1463 835l9 11l-9-10l-9-12zM1257 935l6-27l-6 4l-6 29zM1263 929l6-25l-6 4l-6 27z"/>
<path class="c39" d="M1621 733l9 15l-9-8l-9-12zM1630 738l9 17l-9-7l-9-15zM1509 817l10-19l-9-20l-10 17zM1491 808l9-13l-8-22l-10 17zM1482 821l9-13l-9-18l-9 18zM1500 825l9-8l-9-22l-9 13zM1454 824l9 12l-8-10l-10-12zM1445 813l9 11l-9-10l-9-12zM1454 824l9 11l-9-11l-9-11zM1263 908l6-28l-6 2l-6 30zM1268 923l7-23l-6 4l-6 25z"/>
<path class="c40" d="M1612 718l9 15l-9-5l-9-13zM1621 721l9 17l-9-5l-9-15zM1500 795l10-17l-9-20l-9 15zM1519 798l9-19l-9-17l-9 16zM1436 800l9 13l-9-11l-9-15zM1445 814l9 10l-9-11l-9-13zM1269 904l6-25l-6 1l-6 28zM1275 900l6-23l-6 2l-6 25z"/>
<path class="c41" d="M1602 708l19 13l-18-6l-19-18zM1519 762l9-15l-9-16l-9 13zM1537 764l9-16l-8-15l-10 14zM1528 779l9-15l-9-17l-9 15zM1510 778l9-16l-9-18l-9 14zM1426 788l10 12l-9-13l-9-15zM1435 803l10 11l-9-14l-10-12zM1269 880l6-27l-6-1l-6 30zM1275 879l6-25l-6-1l-6 27zM1281 877l6-23l-6 0l-6 25z"/>
<path class="c42" d="M1546 748l19-28l18-14l19 2l-18-11l-18-1l-19 3l-18 19zM1528 747l10-14l-9-15l-10 13zM1417 777l9 11l-8-16l-10-8zM1426 790l9 13l-9-15l-9-11zM1417 777l9 13l-9-13l-9-11zM1287 854l19-6l18-14l19-4l18-10l19-20l18-19l-18-8l-18 17l-19 20l-18 6l-19 4l-18 6l-19 26z"/>
<path class="c43" d="M1408 766l9 11l-9-13l-9-8zM1398 781l19-4l-18-21l-19 17z"/>
<path class="c34" d="M1244 1004l7-34l-6 6l-7 34zM1250 998l6-34l-5 6l-7 34z"/>
<path class="c32" d="M1238 1039l6-35l-6 6l-6 34zM1244 1033l6-35l-6 6l-6 35z"/>
<path class="c37" d="M1256 964l7-35l-6 6l-6 35zM1262 958l6-35l-5 6l-7 35z"/>
<path class="c27" d="M1226 1090l6-26l-6 5l-6 25z"/>
<path class="c25" d="M1220 1116l6-26l-6 4l-6 25zM1226 1112l6-26l-6 4l-6 26z"/>
<path class="c30" d="M1238 1059l6-26l-6 6l-6 25z"/>
<path class="c24" d="M1213 1140l18-31l-17 10l-19 14z"/>
<path class="c12" d="M1028 1309l18-1l-18-15l-18 22z"/>
<path class="c10" d="M1990 928l19-19l-18-1l-18 2z"/>
<path class="c11" d="M1972 911l18 17l-17-18l-19 9z"/>
<path class="c12" d="M1953 908l19 3l-18 8l-19-16zM1045 1331l19-17l-18-6l-18 1z"/>
<path class="c13" d="M1935 918l18-10l-18-5l-18 5zM1064 1314l18-20l-17-12l-19 26z"/>
<path class="c14" d="M1916 912l19 6l-18-10l-19-1zM1082 1294l19-20l-18 3l-18 5z"/>
<path class="c16" d="M1898 906l18 6l-18-5l-18-2z"/>
<path class="c17" d="M1879 912l19-6l-18-1l-19-9z"/>
<path class="c19" d="M1861 897l18 15l-18-16l-18 6zM1138 1219l19-6l-18-4l-19 16z"/>
<path class="c20" d="M1842 894l19 3l-18 5l-19-3zM1157 1213l18-17l-18-11l-18 24z"/>
<path class="c21" d="M1824 900l18-6l-18 5l-18-4zM1175 1196l19-20l-18 3l-19 6z"/>
<path class="c22" d="M1749 917l19 1l18-10l19-8l19 0l-18-5l-19 6l-18 3l-19 3l-18 12zM1194 1176l18-15l-18 0l-18 18z"/>
<path class="c23" d="M1731 910l18 7l-17 2l-19-12zM1212 1161l19-16l-18-5l-19 21z"/>
<path class="c25" d="M1713 895l9 13l-9-1l-9-14zM1722 897l9 13l-9-2l-9-13zM1231 1145l18-43l-18 7l-18 31z"/>
<path class="c27" d="M1703 881l10 14l-9-2l-9-15zM1712 884l10 13l-9-2l-10-14zM1237 1107l7-29l-6 4l-7 27zM1243 1105l6-31l-5 4l-7 29z"/>
<path class="c29" d="M1694 859l9 22l-8-3l-10-21zM1703 862l9 22l-9-3l-9-22zM1244 1078l6-29l-6 5l-6 28z"/>
<path class="c31" d="M1685 838l9 21l-9-2l-9-22zM1694 840l9 22l-9-3l-9-21zM1250 1049l6-29l-6 7l-6 27zM1255 1070l7-32l-6 5l-7 31z"/>
<path class="c33" d="M1676 817l9 21l-9-3l-9-21zM1685 821l9 19l-9-2l-9-21zM1256 1020l6-34l-6 7l-6 34zM1262 1038l6-33l-6 8l-6 30z"/>
<path class="c35" d="M1666 797l10 20l-9-3l-9-22zM1675 801l10 20l-9-4l-10-20zM1268 1005l6-32l-6 6l-6 34z"/>
<path class="c36" d="M1657 777l9 20l-8-5l-10-19zM1666 780l9 21l-9-4l-9-20zM1262 986l6-34l-6 6l-6 35zM1268 979l6-33l-6 6l-6 34z"/>
<path class="c38" d="M1648 756l9 21l-9-4l-9-18zM1657 758l9 22l-9-3l-9-21zM1471 854l19-18l19-14l-18 11l-19 13l-18-22zM1268 952l6-34l-6 5l-6 35zM1274 946l6-33l-6 5l-6 34z"/>
<path class="c39" d="M1639 740l9 16l-9-1l-9-17zM1648 741l9 17l-9-2l-9-16zM1509 822l18-18l19-20l-18-5l-19 38l-18 16zM1453 827l10 12l-9-15l-9-10zM1462 840l9 14l-8-15l-10-12zM1277 915l10-27l-9 1l-10 34zM1280 940l6-33l-6 6l-6 33z"/>
<path class="c40" d="M1629 723l10 17l-9-2l-9-17zM1638 725l10 16l-9-1l-10-17zM1546 784l18-16l-18-20l-18 31zM1444 815l9 12l-8-13l-10-11zM1453 827l9 13l-9-13l-9-12zM1286 907l9-20l-8 1l-10 27z"/>
<path class="c41" d="M1620 711l18 14l-17-4l-19-13zM1564 768l19-22l-18-26l-19 28zM1435 801l9 14l-9-12l-9-13zM1444 813l9 14l-9-12l-9-14zM1360 843l19-8l-18-15l-18 10zM1305 867l18-7l19-8l-18-18l-18 14l-19 6zM1287 888l9-27l-9-7l-9 35zM1295 887l10-20l-9-6l-9 27z"/>
<path class="c42" d="M1583 746l18-17l19-18l-18-3l-19-2l-18 14zM1426 788l9 13l-9-11l-9-13zM1434 800l10 13l-9-12l-9-13zM1379 835l18-24l19-20l18 9l-17-23l-19 4l-18 19l-19 20zM1342 852l18-9l-17-13l-19 4z"/>
<path class="c34" d="M1262 1013l6-34l-6 7l-6 34z"/>
<path class="c37" d="M1274 973l6-33l-6 6l-6 33z"/>
<path class="c32" d="M1256 1043l6-30l-6 7l-6 29z"/>
<path class="c30" d="M1249 1074l7-31l-6 6l-6 29z"/>
<path class="c28" d="M1249 1102l6-32l-6 4l-6 31z"/>
<path class="c18" d="M1119 1253l19-34l-18 6l-18 29z"/>
<path class="c15" d="M1101 1274l18-21l-17 1l-19 23z"/>
<path class="c11" d="M1989 929l19-3l19-10l-18-7l-19 19l-18-17z"/>
<path class="c12" d="M1971 929l18 0l-17-18l-19-3zM1063 1340l19-14l-18-12l-19 17z"/>
<path class="c13" d="M1952 923l19 6l-18-21l-18 10zM1082 1326l18-16l-18-16l-18 20z"/>
<path class="c15" d="M1934 910l18 13l-17-5l-19-6z"/>
<path class="c16" d="M1915 913l19-3l-18 2l-18-6zM1119 1280l18-6l-18-21l-18 21z"/>
<path class="c18" d="M1897 899l18 14l-17-7l-19 6z"/>
<path class="c19" d="M1878 907l19-8l-18 13l-18-15zM1156 1251l18-29l-17-9l-19 6z"/>
<path class="c21" d="M1841 902l19 2l18 3l-17-10l-19-3l-18 6zM1193 1204l18-18l-17-10l-19 20z"/>
<path class="c22" d="M1786 919l18-2l19-9l18-6l-17-2l-19 0l-19 8l-18 10zM1211 1186l19-13l-18-12l-18 15z"/>
<path class="c23" d="M1767 928l19-9l-18-1l-19-1zM1230 1173l18-14l-17-14l-19 16z"/>
<path class="c24" d="M1749 924l18 4l-18-11l-18-7zM1240 1152l9-27l-9-1l-9 21zM1248 1159l10-34l-9 0l-9 27z"/>
<path class="c25" d="M1730 903l10 14l-9-7l-9-13zM1739 908l10 16l-9-7l-10-14z"/>
<path class="c27" d="M1721 888l9 15l-8-6l-10-13zM1730 891l9 17l-9-5l-9-15zM1258 1125l9-34l-9 6l-9 28z"/>
<path class="c29" d="M1712 867l9 21l-9-4l-9-22zM1721 872l9 19l-9-3l-9-21zM1261 1095l6-31l-6 3l-6 32z"/>
<path class="c31" d="M1703 847l9 20l-9-5l-9-22zM1712 854l9 18l-9-5l-9-20zM1261 1067l6-31l-5 2l-7 32z"/>
<path class="c33" d="M1693 826l10 21l-9-7l-9-19zM1702 832l10 22l-9-7l-10-21zM1267 1036l7-32l-6 1l-6 33z"/>
<path class="c35" d="M1684 806l9 20l-8-5l-10-20zM1693 810l9 22l-9-6l-9-20zM1274 1004l6-32l-6 1l-6 32zM1280 1003l6-32l-6 1l-6 32z"/>
<path class="c36" d="M1675 783l9 23l-9-5l-9-21zM1285 1002l7-32l-6 1l-6 32z"/>
<path class="c38" d="M1666 760l9 23l-9-3l-9-22zM1674 763l10 23l-9-3l-9-23zM1292 970l6-32l-6 0l-6 33z"/>
<path class="c37" d="M1684 786l9 24l-9-4l-9-23zM1280 972l6-33l-6 1l-6 33zM1286 971l6-33l-6 1l-6 33z"/>
<path class="c39" d="M1656 745l10 15l-9-2l-9-17zM1508 817l9-7l-8 12l-10 7zM1499 824l9-7l-9 12l-9 7zM1490 833l9-9l-9 12l-9 9zM1480 841l10-8l-9 12l-10 9zM1471 848l18-19l-18 25l-18-27zM1286 939l6-32l-6 0l-6 33zM1292 938l6-32l-6 1l-6 32zM1298 938l6-33l-6 1l-6 32z"/>
<path class="c41" d="M1647 729l9 16l-8-4l-10-16zM1656 733l9 15l-9-3l-9-16zM1545 787l18-18l19-8l18-16l-17 1l-19 22l-18 16l-19 20zM1443 808l10 14l-9-9l-10-13zM1452 816l9 16l-8-10l-10-14zM1304 905l18-23l19-12l19-4l18-11l19-12l-18-8l-19 8l-18 9l-19 8l-18 7l-19 40z"/>
<path class="c40" d="M1665 748l9 15l-8-3l-10-15zM1526 797l19-10l-18 17l-18 18zM1517 805l9-8l-9 13l-9 7zM1508 813l9-8l-9 12l-9 7zM1498 821l10-8l-9 11l-9 9zM1489 829l9-8l-8 12l-10 8zM1453 822l9 15l-9-10l-9-14zM1461 832l10 16l-9-11l-9-15z"/>
<path class="c42" d="M1600 745l19-9l18-8l19 5l-18-8l-18-14l-19 18l-18 17zM1397 843l18-19l19-17l18 9l-18-16l-18-9l-19 20l-18 24z"/>
<path class="c28" d="M1255 1099l6-32l-6 3l-6 32z"/>
<path class="c34" d="M1273 1034l7-31l-6 1l-7 32zM1279 1032l6-30l-5 1l-7 31z"/>
<path class="c32" d="M1267 1064l6-30l-6 2l-6 31zM1273 1061l6-29l-6 2l-6 30z"/>
<path class="c30" d="M1267 1091l6-30l-6 3l-6 31z"/>
<path class="c26" d="M1249 1125l9-28l-9 5l-9 22z"/>
<path class="c20" d="M1174 1222l19-18l-18-8l-18 17z"/>
<path class="c17" d="M1137 1274l19-23l-18-32l-19 34z"/>
<path class="c14" d="M1100 1310l19-30l-18-6l-19 20z"/>
<path class="c11" d="M1989 938l18 5l19-10l18 1l-17-18l-19 10l-19 3l-18 0z"/>
<path class="c13" d="M1970 942l19-4l-18-9l-19-6zM1099 1328l19-16l-18-2l-18 16z"/>
<path class="c15" d="M1952 920l18 22l-18-19l-18-13z"/>
<path class="c17" d="M1933 926l19-6l-18-10l-19 3zM1155 1268l18-22l-17 5l-19 23z"/>
<path class="c18" d="M1915 910l18 16l-18-13l-18-14z"/>
<path class="c20" d="M1896 905l19 5l-18-11l-19 8zM1192 1229l19-18l-18-7l-19 18z"/>
<path class="c21" d="M1877 914l19-9l-18 2l-18-3zM1211 1211l18-12l-18-13l-18 18z"/>
<path class="c22" d="M1822 926l18-6l19-16l18 10l-17-10l-19-2l-18 6l-19 9zM1229 1199l19-18l-18-8l-19 13z"/>
<path class="c23" d="M1785 932l18-5l19-1l-18-9l-18 2l-19 9zM1248 1181l18-17l-18-5l-18 14z"/>
<path class="c24" d="M1766 928l19 4l-18-4l-18-4zM1257 1162l9-33l-8-4l-10 34zM1266 1164l9-30l-9-5l-9 33z"/>
<path class="c25" d="M1748 911l9 15l-8-2l-10-16zM1757 915l9 13l-9-2l-9-15z"/>
<path class="c27" d="M1739 897l9 14l-9-3l-9-17zM1748 902l9 13l-9-4l-9-14zM1266 1129l10-32l-9-6l-9 34zM1275 1134l10-31l-9-6l-10 32z"/>
<path class="c29" d="M1730 878l9 19l-9-6l-9-19zM1739 883l9 19l-9-5l-9-19z"/>
<path class="c31" d="M1720 859l10 19l-9-6l-9-18zM1729 865l10 18l-9-5l-10-19z"/>
<path class="c33" d="M1711 837l9 22l-8-5l-10-22zM1720 842l9 23l-9-6l-9-22z"/>
<path class="c35" d="M1702 815l9 22l-9-5l-9-22zM1711 820l9 22l-9-5l-9-22z"/>
<path class="c36" d="M1693 794l9 21l-9-5l-9-24zM1701 801l10 19l-9-5l-9-21zM1291 1003l7-32l-6-1l-7 32zM1297 1003l6-31l-5-1l-7 32zM1303 1003l6-30l-6-1l-6 31z"/>
<path class="c38" d="M1683 772l10 22l-9-8l-10-23zM1692 782l9 19l-8-7l-10-22zM1298 971l6-31l-6-2l-6 32zM1303 972l7-30l-6-2l-6 31zM1309 973l6-29l-5-2l-7 30z"/>
<path class="c39" d="M1674 759l9 13l-9-9l-9-15zM1683 770l9 12l-9-10l-9-13zM1304 940l6-32l-6-3l-6 33z"/>
<path class="c40" d="M1665 745l9 14l-9-11l-9-15zM1674 758l9 12l-9-11l-9-14zM1488 829l19-17l-18 17l-18 19zM1470 834l10 5l-9 9l-10-16zM1310 942l6-31l-6-3l-6 32zM1315 944l7-30l-6-3l-6 31z"/>
<path class="c41" d="M1637 757l18-6l19 7l-18-25l-19-5l-18 8zM1507 812l18-13l19-6l19-16l18-4l19-7l-18-5l-19 8l-18 18l-19 10l-18 16l-19 16zM1461 830l9 4l-9-2l-9-16zM1479 837l9-8l-8 10l-10-5zM1470 845l9-8l-9-3l-9-4zM1322 914l18-16l19-8l18-15l19-3l18-13l19-21l-18-14l-18 19l-19 12l-18 11l-19 4l-19 12l-18 23z"/>
<path class="c42" d="M1600 766l18-11l19 2l-18-21l-19 9l-18 16zM1433 838l18-11l19 18l-18-29l-18-9l-19 17z"/>
<path class="c34" d="M1285 1033l6-30l-6-1l-6 30zM1291 1035l6-32l-6 0l-6 30zM1297 1036l6-33l-6 0l-6 32z"/>
<path class="c32" d="M1279 1064l6-31l-6-1l-6 29zM1285 1067l6-32l-6-2l-6 31zM1291 1070l6-34l-6-1l-6 32z"/>
<path class="c30" d="M1273 1095l6-31l-6-3l-6 30zM1279 1099l6-32l-6-3l-6 31zM1285 1103l6-33l-6-3l-6 32z"/>
<path class="c19" d="M1173 1246l19-17l-18-7l-18 29z"/>
<path class="c16" d="M1136 1288l19-20l-18 6l-18 6z"/>
<path class="c14" d="M1118 1312l18-24l-17-8l-19 30z"/>
<path class="c12" d="M1081 1334l18-6l-17-2l-19 14z"/>
<path class="c11" d="M2006 955l19-5l18 2l19-18l-18 0l-18-1l-19 10l-18-5z"/>
<path class="c12" d="M1988 943l18 12l-17-17l-19 4z"/>
<path class="c14" d="M1969 933l19 10l-18-1l-18-22zM1117 1320l19-12l-18 4l-19 16z"/>
<path class="c17" d="M1951 922l18 11l-17-13l-19 6zM1154 1290l19-9l-18-13l-19 20z"/>
<path class="c19" d="M1932 917l19 5l-18 4l-18-16z"/>
<path class="c20" d="M1914 918l18-1l-17-7l-19-5zM1191 1251l19-13l18-12l-17-15l-19 18l-19 17z"/>
<path class="c21" d="M1877 929l18-4l19-7l-18-13l-19 9l-18-10zM1228 1226l19-26l-18-1l-18 12z"/>
<path class="c22" d="M1840 924l18 0l19 5l-18-25l-19 16l-18 6zM1247 1200l18-13l-17-6l-19 18z"/>
<path class="c23" d="M1803 939l18-3l19-12l-18 2l-19 1l-18 5zM1265 1187l19-13l-18-10l-18 17z"/>
<path class="c24" d="M1784 938l19 1l-18-7l-19-4z"/>
<path class="c26" d="M1766 911l18 27l-18-10l-18-26z"/>
<path class="c29" d="M1747 889l10 17l-9-4l-9-19zM1756 894l10 17l-9-5l-10-17z"/>
<path class="c31" d="M1738 872l9 17l-8-6l-10-18zM1747 878l9 16l-9-5l-9-17zM1302 1094l7-30l-6 2l-7 31z"/>
<path class="c33" d="M1729 850l9 22l-9-7l-9-23zM1738 858l9 20l-9-6l-9-22zM1303 1066l6-31l-6 1l-6 32zM1309 1064l6-29l-6 0l-6 31z"/>
<path class="c34" d="M1720 829l9 21l-9-8l-9-22zM1728 838l10 20l-9-8l-9-21zM1303 1036l6-32l-6-1l-6 33z"/>
<path class="c36" d="M1710 810l10 19l-9-9l-10-19zM1719 820l9 18l-8-9l-10-19zM1309 1004l6-28l-6-3l-6 30zM1315 1004l6-26l-6-2l-6 28z"/>
<path class="c38" d="M1701 792l9 18l-9-9l-9-19zM1701 792l9 9l-9-9l-9-11zM1315 976l6-29l-6-3l-6 29zM1321 978l6-27l-6-4l-6 29zM1327 980l6-25l-6-4l-6 27z"/>
<path class="c37" d="M1710 801l9 19l-9-10l-9-18zM1321 1005l6-25l-6-2l-6 26z"/>
<path class="c39" d="M1692 781l9 11l-9-10l-9-12zM1691 783l10 9l-9-11l-9-10zM1321 947l7-28l-6-5l-7 30zM1327 951l6-27l-5-5l-7 28zM1333 955l6-25l-6-6l-6 27z"/>
<path class="c40" d="M1683 771l9 10l-9-11l-9-12zM1673 779l18 4l-17-25l-19-7zM1339 930l19-18l-18-14l-18 16z"/>
<path class="c41" d="M1358 912l18-6l19-18l19-3l18-17l19-19l18 2l19-12l18-16l19-7l18-5l19-3l18-8l19-5l18-3l19-6l18-7l19 0l-18-28l-18 6l-19-2l-18 11l-19 7l-18 4l-19 16l-19 6l-18 13l-19 17l-18 16l-19-18l-18 11l-19 21l-18 13l-19 3l-18 15l-19 8z"/>
<path class="c32" d="M1297 1068l6-32l-6 0l-6 34z"/>
<path class="c30" d="M1291 1100l6-32l-6 2l-6 33zM1296 1097l7-31l-6 2l-6 32z"/>
<path class="c35" d="M1309 1035l6-31l-6 0l-6 32zM1315 1035l6-30l-6-1l-6 31z"/>
<path class="c27" d="M1284 1134l9-36l-8 5l-10 31z"/>
<path class="c25" d="M1275 1169l9-35l-9 0l-9 30zM1284 1174l9-40l-9 0l-9 35z"/>
<path class="c28" d="M1293 1134l9-40l-9 4l-9 36z"/>
<path class="c18" d="M1173 1281l18-30l-18-5l-18 22z"/>
<path class="c15" d="M1136 1308l18-18l-18-2l-18 24z"/>
<path class="c13" d="M1099 1341l18-21l-18 8l-18 6z"/>
<path class="c11" d="M2024 964l19 3l18-14l19-19l-18 0l-19 18l-18-2l-19 5z"/>
<path class="c12" d="M2006 960l18 4l-18-9l-18-12z"/>
<path class="c14" d="M1987 941l19 19l-18-17l-19-10zM1116 1344l19-7l-18-17l-18 21z"/>
<path class="c17" d="M1969 930l18 11l-18-8l-18-11zM1172 1301l18-20l-17 0l-19 9z"/>
<path class="c19" d="M1950 932l19-2l-18-8l-19-5zM1209 1268l18-20l-17-10l-19 13z"/>
<path class="c20" d="M1931 924l19 8l-18-15l-18 1zM1227 1248l19-22l-18 0l-18 12z"/>
<path class="c21" d="M1894 928l19 4l18-8l-17-6l-19 7l-18 4zM1246 1226l18-12l-17-14l-19 26z"/>
<path class="c22" d="M1876 931l18-3l-17 1l-19-5zM1264 1214l19-20l-18-7l-18 13z"/>
<path class="c23" d="M1820 947l19-7l18-10l19 1l-18-7l-18 0l-19 12l-18 3zM1283 1194l19-15l-18-5l-19 13z"/>
<path class="c24" d="M1802 948l18-1l-17-8l-19-1z"/>
<path class="c26" d="M1783 919l19 29l-18-10l-18-27z"/>
<path class="c29" d="M1765 899l9 16l-8-4l-10-17zM1774 904l9 15l-9-4l-9-16z"/>
<path class="c31" d="M1756 884l9 15l-9-5l-9-16zM1308 1099l6-30l-5-5l-7 30zM1314 1104l6-31l-6-4l-6 30zM1320 1109l6-31l-6-5l-6 31z"/>
<path class="c30" d="M1765 889l9 15l-9-5l-9-15z"/>
<path class="c32" d="M1747 864l9 20l-9-6l-9-20zM1755 870l10 19l-9-5l-9-20z"/>
<path class="c34" d="M1737 845l10 19l-9-6l-10-20zM1746 852l9 18l-8-6l-10-19z"/>
<path class="c36" d="M1728 827l9 18l-9-7l-9-18z"/>
<path class="c37" d="M1719 809l9 18l-9-7l-9-19zM1728 817l9 17l-9-7l-9-18zM1330 1010l9-37l-9-6l-9 38zM1339 1016l9-37l-9-6l-9 37z"/>
<path class="c35" d="M1737 834l9 18l-9-7l-9-18zM1321 1039l6-30l-6-4l-6 30zM1327 1043l6-31l-6-3l-6 30zM1332 1047l7-31l-6-4l-6 31z"/>
<path class="c39" d="M1709 789l19 28l-18-16l-19-18zM1339 973l9-37l-9-6l-9 37zM1348 979l9-36l-9-7l-9 37z"/>
<path class="c40" d="M1616 819l19-4l19-12l18-7l19-5l18-2l-18-6l-18-4l-19 0l-18 7l-19 6l-18 3zM1357 943l19-24l18-3l19-11l-18-17l-19 18l-18 6l-19 18z"/>
<path class="c41" d="M1413 905l18-7l19-22l18-9l19-10l18-10l19-6l18 2l19-2l18-12l19-1l18-9l-17-24l-19 5l-18 8l-19 3l-18 5l-19 7l-18 16l-19 12l-18-2l-19 19l-18 17l-19 3z"/>
<path class="c33" d="M1314 1069l7-30l-6-4l-6 29zM1320 1073l7-30l-6-4l-7 30zM1326 1078l6-31l-5-4l-7 30z"/>
<path class="c28" d="M1302 1139l9-38l-9-7l-9 40zM1311 1144l9-35l-9-8l-9 38z"/>
<path class="c25" d="M1293 1177l9-38l-9-5l-9 40zM1302 1179l9-35l-9-5l-9 38z"/>
<path class="c18" d="M1190 1281l19-13l-18-17l-18 30z"/>
<path class="c16" d="M1153 1324l19-23l-18-11l-18 18z"/>
<path class="c15" d="M1135 1337l18-13l-17-16l-19 12z"/>
<path class="c11" d="M2042 959l18 0l19 2l18-13l-17-14l-19 19l-18 14l-19-3z"/>
<path class="c13" d="M2023 951l19 8l-18 5l-18-4zM1134 1360l19-2l-18-21l-19 7z"/>
<path class="c15" d="M2005 941l18 10l-17 9l-19-19zM1171 1331l19-19l-18-11l-19 23z"/>
<path class="c17" d="M1986 938l19 3l-18 0l-18-11zM1190 1312l18-29l-18-2l-18 20z"/>
<path class="c19" d="M1968 937l18 1l-17-8l-19 2zM1227 1272l18-8l-18-16l-18 20z"/>
<path class="c20" d="M1949 939l19-2l-18-5l-19-8z"/>
<path class="c21" d="M1912 936l19 4l18-1l-18-15l-18 8l-19-4zM1245 1264l19-39l-18 1l-19 22z"/>
<path class="c23" d="M1838 955l19-7l18-1l19-15l18 4l-18-8l-18 3l-19-1l-18 10l-19 7zM1301 1209l18-24l-17-6l-19 15z"/>
<path class="c24" d="M1819 956l19-1l-18-8l-18 1z"/>
<path class="c26" d="M1801 937l18 19l-17-8l-19-29z"/>
<path class="c28" d="M1783 911l9 17l-9-9l-9-15zM1792 918l9 19l-9-9l-9-17zM1320 1148l9-34l-9-5l-9 35zM1329 1152l9-32l-9-6l-9 34z"/>
<path class="c30" d="M1774 894l9 17l-9-7l-9-15zM1782 898l10 20l-9-7l-9-17zM1332 1116l6-28l-6-5l-6 30zM1338 1120l6-27l-6-5l-6 28z"/>
<path class="c32" d="M1764 875l10 19l-9-5l-10-19zM1773 881l9 17l-8-4l-10-19zM1344 1093l6-27l-6-7l-6 29z"/>
<path class="c34" d="M1755 857l9 18l-9-5l-9-18zM1764 863l9 18l-9-6l-9-18zM1344 1059l6-28l-6-8l-6 30zM1350 1066l6-27l-6-8l-6 28z"/>
<path class="c35" d="M1746 840l9 17l-9-5l-9-18zM1755 845l9 18l-9-6l-9-17zM1338 1053l6-30l-5-7l-7 31z"/>
<path class="c37" d="M1737 822l9 18l-9-6l-9-17zM1745 827l10 18l-9-5l-9-18zM1357 1006l6-26l-6-6l-6 25zM1362 1013l7-26l-6-7l-6 26z"/>
<path class="c38" d="M1727 809l18 18l-17-10l-19-28zM1351 999l6-25l-6-7l-6 24z"/>
<path class="c39" d="M1708 809l19 0l-18-20l-18 2zM1357 974l6-25l-6-6l-6 24zM1363 980l6-25l-6-6l-6 25zM1369 987l6-26l-6-6l-6 25z"/>
<path class="c40" d="M1542 875l18-7l19-5l18-9l19-8l18-6l19-8l18-12l19-9l18-2l-17-18l-19 5l-18 7l-19 12l-19 4l-18 9l-19 1l-18 12l-19 2l-18-2zM1375 961l18-27l19-9l18-11l19-8l-18-8l-18 7l-19 11l-18 3l-19 24z"/>
<path class="c41" d="M1449 906l18-19l19-8l19 3l18-5l19-2l-18-34l-19 6l-18 10l-19 10l-18 9l-19 22z"/>
<path class="c36" d="M1344 1023l7-24l-6-8l-6 25zM1350 1031l7-25l-6-7l-7 24zM1356 1039l6-26l-5-7l-7 25z"/>
<path class="c33" d="M1332 1083l6-30l-6-6l-6 31zM1338 1088l6-29l-6-6l-6 30z"/>
<path class="c31" d="M1326 1113l6-30l-6-5l-6 31z"/>
<path class="c25" d="M1310 1182l10-34l-9-4l-9 35zM1319 1185l10-33l-9-4l-10 34z"/>
<path class="c22" d="M1264 1225l18-3l19-13l-18-15l-19 20l-18 12z"/>
<path class="c18" d="M1208 1283l19-11l-18-4l-19 13z"/>
<path class="c14" d="M1153 1358l18-27l-18-7l-18 13z"/>
<path class="c11" d="M2097 954l18-7l-18 1l-18 13z"/>
<path class="c12" d="M2078 955l19-1l-18 7l-19-2z"/>
<path class="c13" d="M2060 962l18-7l-18 4l-18 0zM1152 1363l18-17l-17 12l-19 2z"/>
<path class="c14" d="M2041 955l19 7l-18-3l-19-8zM1170 1346l19 0l-18-15l-18 27z"/>
<path class="c16" d="M2022 956l19-1l-18-4l-18-10zM1207 1330l19-19l-18-28l-18 29z"/>
<path class="c17" d="M2004 950l18 6l-17-15l-19-3z"/>
<path class="c19" d="M1985 941l19 9l-18-12l-18-1zM1244 1276l19-12l-18 0l-18 8z"/>
<path class="c20" d="M1967 935l18 6l-17-4l-19 2zM1263 1264l18-18l-17-21l-19 39z"/>
<path class="c21" d="M1948 946l19-11l-18 4l-18 1z"/>
<path class="c22" d="M1930 943l18 3l-17-6l-19-4zM1281 1246l19-24l18-12l-17-1l-19 13l-18 3z"/>
<path class="c23" d="M1856 960l18 2l19-17l18-4l19 2l-18-7l-18-4l-19 15l-18 1l-19 7zM1318 1210l19-14l-18-11l-18 24z"/>
<path class="c24" d="M1837 966l19-6l-18-5l-19 1z"/>
<path class="c26" d="M1819 944l18 22l-18-10l-18-19z"/>
<path class="c28" d="M1801 925l9 15l-9-3l-9-19zM1809 932l10 12l-9-4l-9-15zM1337 1160l10-30l-9-10l-9 32z"/>
<path class="c30" d="M1791 909l10 16l-9-7l-10-20zM1800 920l9 12l-8-7l-10-16zM1344 1126l6-28l-6-5l-6 27zM1350 1133l6-29l-6-6l-6 28z"/>
<path class="c32" d="M1782 890l9 19l-9-11l-9-17zM1791 900l9 20l-9-11l-9-19zM1350 1098l6-27l-6-5l-6 27zM1356 1104l6-29l-6-4l-6 27zM1362 1110l6-30l-6-5l-6 29z"/>
<path class="c33" d="M1773 871l9 19l-9-9l-9-18zM1782 879l9 21l-9-10l-9-19z"/>
<path class="c35" d="M1764 853l9 18l-9-8l-9-18zM1772 860l10 19l-9-8l-9-18z"/>
<path class="c36" d="M1754 834l10 19l-9-8l-10-18zM1763 841l9 19l-8-7l-10-19zM1365 1045l9-39l-8-6l-10 39zM1374 1050l9-37l-9-7l-9 39z"/>
<path class="c38" d="M1745 824l18 17l-18-14l-18-18zM1374 1006l10-38l-9-7l-9 39zM1383 1013l10-38l-9-7l-10 38z"/>
<path class="c39" d="M1559 890l19-4l18-3l19-8l18-9l19-7l18-7l19-14l19-11l18-5l19 2l-18-15l-19 0l-18 2l-19 9l-18 12l-19 8l-18 6l-19 8l-18 9l-19 5l-18 7zM1393 975l18-29l-18-12l-18 27z"/>
<path class="c40" d="M1411 946l19-14l18-5l19-17l18 1l19-4l18-2l19-4l18-11l-17-15l-19 2l-18 5l-19-3l-19 8l-18 19l-19 8l-18 11l-19 9z"/>
<path class="c34" d="M1356 1071l6-28l-6-4l-6 27zM1362 1075l6-28l-6-4l-6 28zM1368 1080l6-30l-6-3l-6 28z"/>
<path class="c29" d="M1356 1140l6-30l-6-6l-6 29z"/>
<path class="c25" d="M1328 1190l9-30l-8-8l-10 33zM1337 1196l9-28l-9-8l-9 30z"/>
<path class="c27" d="M1346 1168l10-28l-9-10l-10 30z"/>
<path class="c18" d="M1226 1311l18-35l-17-4l-19 11z"/>
<path class="c15" d="M1189 1346l18-16l-17-18l-19 19z"/>
<path class="c12" d="M2114 957l19-4l-18-6l-18 7z"/>
<path class="c13" d="M2096 955l18 2l-17-3l-19 1zM1188 1370l18-6l-17-18l-19 0z"/>
<path class="c14" d="M2077 947l19 8l-18 0l-18 7zM1206 1364l19-26l-18-8l-18 16zM1169 1368l19 2l-18-24l-18 17z"/>
<path class="c16" d="M2059 945l18 2l-17 15l-19-7zM1225 1338l19-20l-18-7l-19 19z"/>
<path class="c17" d="M2022 961l18-11l19-5l-18 10l-19 1l-18-6zM1244 1318l18-17l-18-25l-18 35z"/>
<path class="c19" d="M2003 949l19 12l-18-11l-19-9zM1262 1301l19-34l-18-3l-19 12z"/>
<path class="c21" d="M1966 949l19 2l18-2l-18-8l-18-6l-19 11zM1281 1267l18-13l-18-8l-18 18z"/>
<path class="c22" d="M1948 953l18-4l-18-3l-18-3zM1299 1254l19-19l-18-13l-19 24z"/>
<path class="c23" d="M1873 974l19-6l19-10l18-5l19 0l-18-10l-19-2l-18 4l-19 17l-18-2zM1318 1235l18-22l19-5l-18-12l-19 14l-18 12z"/>
<path class="c24" d="M1855 977l18-3l-17-14l-19 6zM1346 1202l9-27l-9-7l-9 28zM1355 1208l9-25l-9-8l-9 27z"/>
<path class="c25" d="M1836 956l19 21l-18-11l-18-22z"/>
<path class="c28" d="M1818 936l10 14l-9-6l-10-12zM1827 941l9 15l-8-6l-10-14zM1373 1158l6-26l-6-8l-6 28z"/>
<path class="c29" d="M1809 923l9 13l-9-4l-9-12zM1818 926l9 15l-9-5l-9-13zM1361 1146l7-29l-6-7l-6 30zM1367 1152l6-28l-5-7l-7 29z"/>
<path class="c31" d="M1800 903l9 20l-9-3l-9-20zM1809 907l9 19l-9-3l-9-20zM1373 1124l7-27l-6-8l-6 28zM1379 1132l7-26l-6-9l-7 27z"/>
<path class="c33" d="M1790 884l10 19l-9-3l-9-21zM1799 888l10 19l-9-4l-10-19zM1374 1089l6-29l-6-10l-6 30zM1380 1097l6-27l-6-10l-6 29zM1386 1106l6-26l-6-10l-6 27z"/>
<path class="c35" d="M1781 867l9 17l-8-5l-10-19zM1790 873l9 15l-9-4l-9-17zM1380 1060l6-25l-6-10l-6 25zM1386 1070l6-25l-6-10l-6 25z"/>
<path class="c36" d="M1772 849l9 18l-9-7l-9-19zM1781 858l9 15l-9-6l-9-18zM1392 1045l6-25l-6-10l-6 25zM1398 1055l6-25l-6-10l-6 25z"/>
<path class="c38" d="M1762 837l19 21l-18-17l-18-17zM1410 1005l10-22l-9-11l-10 18zM1392 1010l6-25l-5-10l-7 25zM1398 1020l6-25l-6-10l-6 25z"/>
<path class="c39" d="M1521 926l19-11l19 0l18-5l19-11l18-7l19-10l18-1l19-9l18-7l19-7l18-8l19-14l18 1l-17-13l-19-2l-18 5l-19 11l-19 14l-18 7l-19 7l-18 9l-19 8l-18 3l-19 4l-18 11l-19 4l-18 2zM1401 990l10-18l-9-11l-9 14zM1420 983l9-22l-9-8l-9 19z"/>
<path class="c40" d="M1429 961l18-7l19-9l18-8l19-2l18-9l-17-19l-19 4l-18-1l-19 17l-18 5l-19 14zM1411 972l9-19l-9-7l-9 15z"/>
<path class="c37" d="M1386 1035l6-25l-6-10l-6 25zM1404 1030l6-25l-6-10l-6 25z"/>
<path class="c34" d="M1392 1080l6-25l-6-10l-6 25z"/>
<path class="c32" d="M1368 1117l6-28l-6-9l-6 30z"/>
<path class="c27" d="M1355 1175l9-26l-8-9l-10 28z"/>
<path class="c26" d="M1364 1183l9-25l-9-9l-9 26z"/>
<path class="c12" d="M2132 975l19-8l-18-14l-19 4z"/>
<path class="c13" d="M2114 960l18 15l-18-18l-18-2zM1187 1389l19-13l18-13l-18 1l-18 6l-19-2z"/>
<path class="c15" d="M2095 971l19-11l-18-5l-19-8z"/>
<path class="c16" d="M2076 957l19 14l-18-24l-18-2zM1243 1346l18-22l-17-6l-19 20z"/>
<path class="c18" d="M2039 963l19-4l18-2l-17-12l-19 5l-18 11z"/>
<path class="c19" d="M2021 952l10 10l-9-1l-10-6zM2030 948l9 15l-8-1l-10-10zM1280 1305l18-29l-17-9l-19 34z"/>
<path class="c20" d="M2012 941l9 11l-9 3l-9-6z"/>
<path class="c21" d="M2021 932l9 16l-9 4l-9-11zM2002 948l19-16l-18 17l-18 2zM1298 1276l19-21l-18-1l-18 13z"/>
<path class="c22" d="M1965 962l19-6l18-8l-17 3l-19-2l-18 4zM1317 1255l18-11l-17-9l-19 19z"/>
<path class="c23" d="M1891 986l19-12l18-10l19-6l18 4l-17-9l-19 0l-18 5l-19 10l-19 6zM1335 1244l19-18l18-10l-17-8l-19 5l-18 22z"/>
<path class="c24" d="M1873 979l18 7l-18-12l-18 3zM1364 1212l9-22l-9-7l-9 25zM1372 1216l10-19l-9-7l-9 22z"/>
<path class="c26" d="M1854 957l19 22l-18-2l-19-21zM1373 1190l9-23l-9-9l-9 25zM1382 1197l9-20l-9-10l-9 23z"/>
<path class="c28" d="M1836 943l9 14l-9-1l-9-15zM1845 944l9 13l-9 0l-9-14zM1379 1164l6-25l-6-7l-6 26zM1385 1171l6-24l-6-8l-6 25z"/>
<path class="c29" d="M1827 928l9 15l-9-2l-9-15zM1397 1155l6-23l-6-9l-6 24z"/>
<path class="c30" d="M1836 931l9 13l-9-1l-9-15zM1385 1139l6-25l-5-8l-7 26zM1391 1147l6-24l-6-9l-6 25z"/>
<path class="c31" d="M1817 910l10 18l-9-2l-9-19zM1403 1132l6-23l-5-10l-7 24z"/>
<path class="c33" d="M1808 892l9 18l-8-3l-10-19zM1817 897l9 17l-9-4l-9-18zM1404 1099l6-26l-6-9l-6 25zM1409 1109l7-26l-6-10l-6 26z"/>
<path class="c32" d="M1826 914l10 17l-9-3l-10-18zM1391 1114l7-25l-6-9l-6 26zM1397 1123l7-24l-6-10l-7 25z"/>
<path class="c34" d="M1799 880l9 12l-9-4l-9-15zM1808 887l9 10l-9-5l-9-12zM1398 1089l6-25l-6-9l-6 25zM1416 1083l6-27l-6-9l-6 26z"/>
<path class="c36" d="M1790 867l9 13l-9-7l-9-15zM1789 867l10 9l-9-9l-10-10zM1416 1047l6-25l-6-9l-6 26zM1422 1056l6-26l-6-8l-6 25z"/>
<path class="c35" d="M1799 876l9 11l-9-7l-9-13zM1404 1064l6-25l-6-9l-6 25zM1410 1073l6-26l-6-8l-6 25z"/>
<path class="c37" d="M1780 857l10 10l-9-9l-9-11zM1780 857l9 10l-9-10l-9-10zM1428 1030l9-24l-9-12l-9 23zM1410 1039l6-26l-6-8l-6 25z"/>
<path class="c38" d="M1771 847l9 10l-8-10l-10-10zM1632 914l18-7l19-10l18-11l19-7l18-15l19-5l18-5l19 3l-18-20l-18-1l-19 14l-18 8l-19 7l-18 7l-19 9l-18 1l-19 10zM1419 1017l9-23l-8-11l-10 22z"/>
<path class="c39" d="M1447 982l18-16l19-6l18-5l19-9l18-6l19-3l18-14l19 1l18-9l19-1l-18-22l-18 7l-19 11l-18 5l-19 0l-19 11l-18 9l-19 2l-18 8l-19 9l-18 7zM1428 994l10-23l-9-10l-9 22zM1437 1006l10-24l-9-11l-10 23z"/>
<path class="c27" d="M1391 1177l6-22l-6-8l-6 24z"/>
<path class="c17" d="M1261 1324l19-19l-18-4l-18 17z"/>
<path class="c14" d="M1224 1363l19-17l-18-8l-19 26z"/>
<path class="c12" d="M2150 973l18 1l-17-7l-19 8z"/>
<path class="c13" d="M2131 970l19 3l-18 2l-18-15zM1205 1399l18-25l-17 2l-19 13z"/>
<path class="c15" d="M2113 967l18 3l-17-10l-19 11zM1242 1370l18-26l-17 2l-19 17z"/>
<path class="c16" d="M2094 969l19-2l-18 4l-19-14zM1260 1344l19-14l-18-6l-18 22z"/>
<path class="c18" d="M2076 948l18 21l-18-12l-18 2z"/>
<path class="c19" d="M2057 954l19-6l-18 11l-19 4zM1298 1317l18-26l-18-15l-18 29z"/>
<path class="c20" d="M2039 950l9 9l-9 4l-9-15zM2048 953l9 1l-9 5l-9-9z"/>
<path class="c22" d="M2030 942l9 8l-9-2l-9-16zM2020 971l19-19l-18-20l-19 16zM1983 955l19 10l-18-9l-19 6zM1335 1271l18-21l-18-6l-18 11z"/>
<path class="c21" d="M2039 952l9 1l-9-3l-9-8zM2002 965l18 6l-18-23l-18 8zM1316 1291l19-20l-18-16l-19 21z"/>
<path class="c23" d="M1946 974l18-5l19-14l-18 7l-18-4l-19 6zM1353 1250l19-16l18-5l-18-13l-18 10l-19 18z"/>
<path class="c24" d="M1890 985l19 0l18-10l19-1l-18-10l-18 10l-19 12l-18-7zM1390 1229l19-32l-18-20l-19 39z"/>
<path class="c26" d="M1872 972l18 13l-17-6l-19-22zM1409 1197l9-27l-9-13l-9 30z"/>
<path class="c28" d="M1854 951l9 14l-9-8l-9-13zM1863 957l9 15l-9-7l-9-14z"/>
<path class="c30" d="M1844 936l10 15l-9-7l-9-13zM1853 942l10 15l-9-6l-10-15zM1409 1157l9-31l-9-17l-9 34z"/>
<path class="c32" d="M1835 921l9 15l-8-5l-10-17zM1415 1121l7-27l-6-11l-7 26zM1421 1132l6-26l-5-12l-7 27z"/>
<path class="c33" d="M1826 906l9 15l-9-7l-9-17zM1835 915l9 14l-9-8l-9-15zM1427 1106l7-25l-6-13l-6 26zM1433 1118l7-25l-6-12l-7 25z"/>
<path class="c31" d="M1844 929l9 13l-9-6l-9-15zM1427 1143l6-25l-6-12l-6 26z"/>
<path class="c34" d="M1817 893l9 13l-9-9l-9-10zM1826 900l9 15l-9-9l-9-13zM1422 1094l6-26l-6-12l-6 27zM1440 1093l6-25l-6-13l-6 26z"/>
<path class="c35" d="M1807 880l10 13l-9-6l-9-11zM1816 884l10 16l-9-7l-10-13zM1428 1068l6-26l-6-12l-6 26zM1434 1081l6-26l-6-13l-6 26z"/>
<path class="c37" d="M1798 863l18 21l-17-8l-19-19zM1437 1049l9-28l-9-15l-9 24z"/>
<path class="c38" d="M1594 942l18-2l19-10l19-5l18-5l19-7l18-11l19-5l18-9l19-14l18-7l19-4l-18-6l-19-3l-18 5l-19 5l-18 15l-19 7l-18 11l-19 10l-18 7l-19 1l-18 9l-19-1zM1446 1021l9-28l-8-11l-10 24zM1455 1036l9-31l-9-12l-9 28z"/>
<path class="c39" d="M1464 1005l19-28l18-2l19-12l18 0l19-8l18-9l19-4l-18-19l-18 14l-19 3l-18 6l-19 9l-18 5l-19 6l-18 16z"/>
<path class="c36" d="M1446 1068l9-32l-9-15l-9 28z"/>
<path class="c27" d="M1400 1187l9-30l-9-14l-9 34z"/>
<path class="c29" d="M1418 1170l9-27l-9-17l-9 31z"/>
<path class="c17" d="M1279 1330l19-13l-18-12l-19 19z"/>
<path class="c14" d="M1223 1374l19-4l-18-7l-18 13z"/>
<path class="c13" d="M2149 985l18 1l19-11l-18-1l-18-1l-19-3zM1223 1404l18-18l-18-12l-18 25z"/>
<path class="c15" d="M2130 968l19 17l-18-15l-18-3zM1260 1379l18-36l-18 1l-18 26z"/>
<path class="c17" d="M2112 969l18-1l-17-1l-19 2zM1278 1343l19-3l-18-10l-19 14z"/>
<path class="c18" d="M2093 969l19 0l-18 0l-18-21zM1297 1340l18-23l-17 0l-19 13z"/>
<path class="c20" d="M2075 958l18 11l-17-21l-19 6z"/>
<path class="c21" d="M2056 950l19 8l-18-4l-18-2zM1334 1291l18-14l-17-6l-19 20z"/>
<path class="c22" d="M2019 956l19 0l18-6l-17 2l-19 19l-18-6zM1352 1277l19-17l-18-10l-18 21z"/>
<path class="c23" d="M1964 972l18 8l19-3l18-21l-17 9l-19-10l-19 14l-18 5zM1371 1260l18-17l19 0l18-28l-17-18l-19 32l-18 5l-19 16z"/>
<path class="c24" d="M1908 1000l19-8l18-7l19-13l-18 2l-19 1l-18 10l-19 0z"/>
<path class="c26" d="M1890 980l18 20l-18-15l-18-13zM1418 1206l9-26l-9-10l-9 27z"/>
<path class="c29" d="M1871 952l19 28l-18-8l-19-30zM1445 1164l6-20l-6-9l-6 22z"/>
<path class="c32" d="M1853 928l18 24l-18-10l-18-27zM1439 1127l6-24l-5-10l-7 25zM1445 1135l6-22l-6-10l-6 24zM1457 1124l6-21l-5-11l-7 21z"/>
<path class="c34" d="M1834 906l10 16l-9-7l-9-15zM1843 913l10 15l-9-6l-10-16zM1458 1092l6-22l-6-12l-6 22zM1463 1103l7-21l-6-12l-6 22zM1445 1103l7-23l-6-12l-6 25z"/>
<path class="c35" d="M1825 890l9 16l-8-6l-10-16zM1834 897l9 16l-9-7l-9-16zM1452 1080l6-22l-6-11l-6 21zM1470 1082l6-22l-6-11l-6 21z"/>
<path class="c36" d="M1815 888l19 9l-18-13l-18-21zM1458 1058l6-21l-6-11l-6 21zM1464 1070l6-21l-6-12l-6 21zM1476 1060l6-22l-6-11l-6 22z"/>
<path class="c38" d="M1593 958l19-8l18 3l19-14l18-1l19-5l18-6l19-12l18-10l19-8l18-9l19-5l18 5l-17-25l-19 4l-18 7l-19 14l-18 9l-19 5l-18 11l-19 7l-18 5l-19 5l-19 10l-18 2l-19 4zM1473 1021l9-15l-8-15l-10 14zM1491 1021l10-17l-9-13l-10 15z"/>
<path class="c39" d="M1501 1004l18-10l19-8l18-11l19-12l18-5l-18-12l-18 9l-19 8l-18 0l-19 12l-18 2zM1482 1006l10-15l-9-14l-9 14z"/>
<path class="c37" d="M1482 1038l9-17l-9-15l-9 15zM1464 1037l6-21l-6-11l-6 21zM1470 1049l6-22l-6-11l-6 21z"/>
<path class="c30" d="M1433 1150l6-23l-6-9l-6 25zM1439 1157l6-22l-6-8l-6 23z"/>
<path class="c33" d="M1451 1113l7-21l-6-12l-7 23z"/>
<path class="c31" d="M1451 1144l6-20l-6-11l-6 22z"/>
<path class="c28" d="M1427 1180l9-26l-9-11l-9 27z"/>
<path class="c27" d="M1436 1190l9-26l-9-10l-9 26z"/>
<path class="c25" d="M1426 1215l10-25l-9-10l-9 26z"/>
<path class="c19" d="M1315 1317l19-26l-18 0l-18 26z"/>
<path class="c14" d="M1241 1386l19-7l-18-9l-19 4z"/>
<path class="c13" d="M2185 994l19-7l-18-12l-19 11z"/>
<path class="c14" d="M2167 978l18 16l-18-8l-18-1z"/>
<path class="c16" d="M2148 980l19-2l-18 7l-19-17zM1277 1371l10-15l-9 2l-9 17z"/>
<path class="c17" d="M2130 981l18-1l-18-12l-18 1zM1278 1358l9-16l-9 1l-9 18z"/>
<path class="c18" d="M2111 985l19-4l-18-12l-19 0zM1306 1333l9-12l-9 7l-9 12zM1296 1340l18-15l-17 15l-19 3zM1287 1356l9-16l-9 2l-9 16z"/>
<path class="c20" d="M2093 964l18 21l-18-16l-18-11zM1333 1301l18-5l-17-5l-19 26zM1324 1313l9-12l-9 8l-9 12z"/>
<path class="c21" d="M2074 974l19-10l-18-6l-19-8zM1351 1296l19-17l-18-2l-18 14z"/>
<path class="c22" d="M2056 965l18 9l-18-24l-18 6zM1370 1279l19-20l-18 1l-19 17z"/>
<path class="c23" d="M1981 991l19-6l18-3l19-8l19-9l-18-9l-19 0l-18 21l-19 3l-18-8zM1389 1259l18-10l19-5l18-21l-18-8l-18 28l-19 0l-18 17z"/>
<path class="c24" d="M1926 1006l18-3l19-4l18-8l-17-19l-19 13l-18 7l-19 8z"/>
<path class="c25" d="M1907 991l19 15l-18-6l-18-20zM1435 1219l10-18l-9-11l-10 25zM1444 1223l9-11l-8-11l-10 18z"/>
<path class="c28" d="M1889 971l9 14l-8-5l-10-14zM1898 977l9 14l-9-6l-9-14zM1457 1188l6-21l-6-12l-6 21z"/>
<path class="c29" d="M1880 958l9 13l-9-5l-9-14zM1889 963l9 14l-9-6l-9-13zM1451 1176l6-21l-6-11l-6 20zM1463 1167l6-22l-6-10l-6 20zM1469 1178l6-22l-6-11l-6 22z"/>
<path class="c32" d="M1870 934l19 29l-18-11l-18-24zM1481 1135l6-21l-6-11l-6 21zM1463 1135l6-21l-6-11l-6 21z"/>
<path class="c34" d="M1852 917l9 14l-8-3l-10-15zM1861 922l9 12l-9-3l-9-14zM1476 1093l6-22l-6-11l-6 22zM1481 1103l7-20l-6-12l-6 22zM1494 1094l6-21l-6-11l-6 21z"/>
<path class="c35" d="M1843 904l9 13l-9-4l-9-16zM1852 910l9 12l-9-5l-9-13zM1488 1083l6-21l-6-12l-6 21z"/>
<path class="c36" d="M1833 892l19 18l-18-13l-19-9zM1500 1073l9-22l-9-15l-9 20zM1482 1071l6-21l-6-12l-6 22z"/>
<path class="c37" d="M1685 953l19-8l18-6l19-6l18-10l19-8l18-11l19-4l18-8l-18-4l-18-5l-19 5l-18 9l-19 8l-18 10l-19 12l-18 6l-19 5zM1491 1056l9-20l-9-15l-9 17zM1509 1051l9-22l-9-12l-9 19z"/>
<path class="c38" d="M1518 1029l19-29l18-6l19-3l18-9l19-8l18-3l19-2l18-11l19-5l-18-15l-18 1l-19 14l-18-3l-19 8l-18 5l-19 12l-18 11l-19 8l-18 10zM1500 1036l9-19l-8-13l-10 17z"/>
<path class="c33" d="M1469 1114l7-21l-6-11l-7 21zM1475 1124l6-21l-5-10l-7 21zM1487 1114l7-20l-6-11l-7 20z"/>
<path class="c30" d="M1457 1155l6-20l-6-11l-6 20zM1475 1156l6-21l-6-11l-6 21z"/>
<path class="c31" d="M1469 1145l6-21l-6-10l-6 21z"/>
<path class="c27" d="M1463 1200l6-22l-6-11l-6 21zM1445 1201l9-19l-9-18l-9 26z"/>
<path class="c26" d="M1453 1212l10-12l-9-18l-9 19z"/>
<path class="c19" d="M1315 1321l9-12l-9 8l-9 11zM1314 1325l10-12l-9 8l-9 12z"/>
<path class="c15" d="M1269 1375l9-17l-9 3l-9 18zM1240 1394l19-15l18-8l-17 8l-19 7l-18 18z"/>
<path class="c13" d="M2203 992l18 0l-17-5l-19 7z"/>
<path class="c14" d="M2184 996l19-4l-18 2l-18-16z"/>
<path class="c16" d="M2166 981l18 15l-17-18l-19 2zM1258 1398l19-17l18-4l-18-6l-18 8l-19 15z"/>
<path class="c17" d="M2147 998l19-17l-18-1l-18 1z"/>
<path class="c18" d="M2129 986l18 12l-17-17l-19 4zM1295 1377l19-27l-18-10l-19 31z"/>
<path class="c19" d="M2110 990l19-4l-18-1l-18-21zM1314 1350l18-13l-18-12l-18 15z"/>
<path class="c21" d="M2092 983l18 7l-17-26l-19 10zM1351 1317l18-8l19-26l-18-4l-19 17l-18 5z"/>
<path class="c22" d="M2073 977l19 6l-18-9l-18-9z"/>
<path class="c23" d="M1962 1027l19-5l18-19l19-10l18-8l19-3l18-5l-17-12l-19 9l-19 8l-18 3l-19 6l-18 8l-19 4zM1388 1283l18-16l19-5l18-23l-17 5l-19 5l-18 10l-19 20z"/>
<path class="c24" d="M1944 1011l18 16l-18-24l-18 3zM1443 1239l19-4l-18-12l-18 21z"/>
<path class="c26" d="M1925 996l19 15l-18-5l-19-15zM1480 1214l10-11l-9-18l-9 22z"/>
<path class="c28" d="M1906 975l19 21l-18-5l-18-28zM1499 1192l6-22l-6-18l-6 21z"/>
<path class="c31" d="M1888 954l10 15l-9-6l-9-14zM1897 959l9 16l-8-6l-10-15zM1487 1154l6-21l-6-19l-6 21zM1499 1152l6-22l-6-18l-6 21z"/>
<path class="c32" d="M1879 939l9 15l-8-5l-10-15zM1888 944l9 15l-9-5l-9-15zM1493 1133l6-21l-5-18l-7 20zM1511 1148l6-21l-5-18l-7 21z"/>
<path class="c34" d="M1869 922l19 22l-18-10l-18-24zM1512 1109l6-17l-6-17l-6 16zM1524 1109l6-18l-6-16l-6 17zM1499 1112l7-21l-6-18l-6 21z"/>
<path class="c36" d="M1851 904l18 18l-17-12l-19-18zM1536 1074l9-26l-9-17l-9 20zM1518 1060l6-16l-6-15l-6 15zM1512 1075l6-15l-6-16l-6 15zM1524 1075l6-16l-6-15l-6 16z"/>
<path class="c37" d="M1647 990l19-11l18 3l19-11l18-9l19-12l18-3l19-10l18-8l19-12l18-18l19 5l-18-12l-18 8l-19 4l-18 11l-19 8l-18 10l-19 6l-18 6l-19 8l-19 5l-18 11l-19 2zM1527 1051l9-20l-9-17l-9 15zM1545 1048l9-26l-8-11l-10 20z"/>
<path class="c38" d="M1554 1022l19-13l19-2l18-10l19-2l18-5l-18-19l-18 3l-19 8l-18 9l-19 3l-18 6zM1536 1031l10-20l-9-11l-10 14z"/>
<path class="c35" d="M1506 1091l6-16l-6-16l-6 14zM1518 1092l6-17l-6-15l-6 15zM1530 1091l6-17l-6-15l-6 16z"/>
<path class="c33" d="M1517 1127l7-18l-6-17l-6 17zM1505 1130l7-21l-6-18l-7 21z"/>
<path class="c30" d="M1493 1173l6-21l-6-19l-6 21zM1505 1170l6-22l-6-18l-6 22z"/>
<path class="c29" d="M1481 1185l9-22l-9-28l-9 32z"/>
<path class="c27" d="M1472 1207l9-22l-9-18l-9 33zM1490 1203l9-11l-9-29l-9 22z"/>
<path class="c25" d="M1462 1235l18-21l-17-14l-19 23z"/>
<path class="c20" d="M1332 1337l19-20l-18-16l-19 24z"/>
<path class="c13" d="M2221 1004l18-11l-18-1l-18 0z"/>
<path class="c14" d="M2202 1013l19-9l-18-12l-19 4z"/>
<path class="c15" d="M2184 1010l18 3l-18-17l-18-15z"/>
<path class="c16" d="M2165 1012l19-2l-18-29l-19 17zM1276 1413l18-27l-17-5l-19 17z"/>
<path class="c17" d="M2147 1001l18 11l-18-14l-18-12zM1294 1386l19-22l-18 13l-18 4z"/>
<path class="c19" d="M2128 988l19 13l-18-15l-19 4zM1331 1368l19-24l-18-7l-18 13z"/>
<path class="c20" d="M2109 1001l19-13l-18 2l-18-7zM1350 1344l18-7l-17-20l-19 20z"/>
<path class="c21" d="M2091 992l18 9l-17-18l-19-6zM1368 1337l19-31l18-5l-17-18l-19 26l-18 8z"/>
<path class="c22" d="M2072 989l19 3l-18-15l-18 5zM1980 1033l18-3l19-10l-18-17l-18 19l-19 5zM1405 1301l19-11l-18-23l-18 16z"/>
<path class="c23" d="M2017 1020l18-21l19 5l18-15l-17-7l-19 3l-18 8l-19 10zM1961 1030l19 3l-18-6l-18-16zM1424 1290l19-30l-18 2l-19 5z"/>
<path class="c26" d="M1943 1006l18 24l-17-19l-19-15zM1517 1212l9-20l-9-16l-9 26z"/>
<path class="c28" d="M1924 983l19 23l-18-10l-19-21zM1526 1192l9-20l-9-23l-9 27z"/>
<path class="c31" d="M1906 964l9 15l-9-4l-9-16zM1915 968l9 15l-9-4l-9-15zM1529 1157l6-21l-5-13l-7 19zM1541 1150l7-21l-6-13l-7 20z"/>
<path class="c32" d="M1897 948l9 16l-9-5l-9-15zM1906 953l9 15l-9-4l-9-16zM1523 1142l7-19l-6-14l-7 18zM1535 1136l7-20l-6-12l-6 19z"/>
<path class="c34" d="M1887 928l19 25l-18-9l-19-22zM1554 1107l9-21l-9-19l-9 23zM1536 1104l6-19l-6-11l-6 17z"/>
<path class="c36" d="M1869 914l18 14l-18-6l-18-18zM1702 997l18-12l-17-14l-19 11zM1554 1067l9-24l-9-21l-9 26z"/>
<path class="c37" d="M1720 985l19-9l18-12l19-6l19-12l18-6l19-5l18-20l19-1l-18-10l-19-5l-18 18l-19 12l-18 8l-19 10l-18 3l-19 12l-18 9zM1572 1064l19-27l18-13l19-8l18-11l19-3l18-6l19 1l-18-15l-18-3l-19 11l-18 5l-19 2l-18 10l-19 2l-19 13z"/>
<path class="c35" d="M1545 1090l9-23l-9-19l-9 26zM1563 1086l9-22l-9-21l-9 24z"/>
<path class="c33" d="M1530 1123l6-19l-6-13l-6 18zM1542 1116l6-20l-6-11l-6 19zM1548 1129l6-22l-6-11l-6 20z"/>
<path class="c30" d="M1535 1172l6-22l-6-14l-6 21zM1517 1176l9-27l-9-22l-9 32z"/>
<path class="c27" d="M1508 1202l9-26l-9-17l-9 33z"/>
<path class="c25" d="M1498 1231l19-19l-18-20l-19 22z"/>
<path class="c24" d="M1443 1260l18-1l19-19l18-9l-18-17l-18 21l-19 4l-18 23z"/>
<path class="c18" d="M1313 1364l18 4l-17-18l-19 27z"/>
<path class="c13" d="M2220 1014l18 9l19-17l-18-13l-18 11l-19 9z"/>
<path class="c15" d="M2183 1023l18-13l19 4l-18-1l-18-3l-19 2z"/>
<path class="c17" d="M2164 1005l19 18l-18-11l-18-11z"/>
<path class="c19" d="M2146 1007l18-2l-17-4l-19-13zM1368 1361l18-7l-18-17l-18 7z"/>
<path class="c20" d="M2127 1011l19-4l-18-19l-19 13zM1386 1354l19-25l-18-23l-19 31z"/>
<path class="c21" d="M2109 1002l18 9l-18-10l-18-9zM1405 1329l18-23l19-3l-18-13l-19 11l-18 5z"/>
<path class="c22" d="M2090 996l19 6l-18-10l-19-3zM1998 1047l18-10l19-2l18-18l-18-18l-18 21l-19 10l-18 3zM1442 1303l18-25l-17-18l-19 30z"/>
<path class="c23" d="M2053 1017l19-16l18-5l-18-7l-18 15l-19-5zM1979 1038l19 9l-18-14l-19-3zM1460 1278l19-9l18-15l-17-14l-19 19l-18 1z"/>
<path class="c25" d="M1960 1028l19 10l-18-8l-18-24zM1534 1235l10-14l-9-15l-10 17z"/>
<path class="c27" d="M1942 1004l10 13l-9-11l-10-11zM1951 1014l9 14l-8-11l-10-13zM1553 1208l6-15l-6-15l-6 18zM1535 1206l9-16l-9-18l-9 20z"/>
<path class="c29" d="M1933 991l9 13l-9-9l-9-12zM1541 1184l6-20l-6-14l-6 22zM1553 1178l6-17l-6-16l-6 19zM1565 1178l6-15l-6-19l-6 17z"/>
<path class="c28" d="M1942 999l9 15l-9-10l-9-13zM1547 1196l6-18l-6-14l-6 20zM1559 1193l6-15l-6-17l-6 17z"/>
<path class="c31" d="M1924 974l9 17l-9-8l-9-15zM1571 1163l7-18l-6-17l-7 16zM1559 1161l6-17l-5-18l-7 19z"/>
<path class="c32" d="M1915 957l9 17l-9-6l-9-15zM1923 961l10 19l-9-6l-9-17zM1565 1144l7-16l-6-18l-6 16zM1578 1145l6-17l-6-17l-6 17zM1553 1145l7-19l-6-19l-6 22z"/>
<path class="c30" d="M1933 980l9 19l-9-8l-9-17zM1547 1164l6-19l-5-16l-7 21z"/>
<path class="c34" d="M1905 946l18 15l-17-8l-19-25zM1590 1110l9-19l-9-20l-9 16zM1566 1110l6-15l-6-17l-6 15zM1578 1111l6-16l-6-16l-6 16z"/>
<path class="c36" d="M1886 934l19 12l-18-18l-18-14zM1683 1015l18 3l19-9l18-3l19-16l18-4l19-16l18-6l19-8l18-18l-17-3l-19 5l-18 6l-19 12l-19 6l-18 12l-19 9l-18 12l-19-1l-18 6zM1608 1072l19-19l-18-29l-18 13zM1590 1071l10-17l-9-17l-10 13z"/>
<path class="c37" d="M1849 938l19-8l18 4l-17-20l-19 1l-18 20zM1627 1053l19-31l18 4l19-11l-18-13l-19 3l-18 11l-19 8z"/>
<path class="c35" d="M1581 1087l9-16l-9-21l-9 14zM1599 1091l9-19l-8-18l-10 17zM1572 1095l6-16l-6-15l-6 14z"/>
<path class="c33" d="M1560 1126l6-16l-6-17l-6 14zM1572 1128l6-17l-6-16l-6 15zM1584 1128l6-18l-6-15l-6 16z"/>
<path class="c26" d="M1525 1223l10-17l-9-14l-9 20zM1544 1221l9-13l-9-18l-9 16z"/>
<path class="c24" d="M1497 1254l19-8l18-11l-17-23l-19 19l-18 9z"/>
<path class="c18" d="M1312 1404l19-19l18-10l19-14l-18-17l-19 24l-18-4l-19 22z"/>
<path class="c16" d="M1293 1415l19-11l-18-18l-18 27z"/>
<path class="c13" d="M2256 1023l19-8l-18-9l-19 17z"/>
<path class="c14" d="M2238 1015l18 8l-18 0l-18-9z"/>
<path class="c15" d="M2219 1027l19-12l-18-1l-19-4zM1311 1448l19-37l-18-7l-19 11z"/>
<path class="c16" d="M2201 1022l18 5l-18-17l-18 13z"/>
<path class="c17" d="M2182 1020l19 2l-18 1l-19-18zM1330 1411l18-19l19 3l18-11l-17-23l-19 14l-18 10l-19 19z"/>
<path class="c19" d="M2163 1014l19 6l-18-15l-18 2zM1404 1351l18 1l-17-23l-19 25z"/>
<path class="c20" d="M2145 1021l18-7l-17-7l-19 4zM1422 1352l19-32l-18-14l-18 23z"/>
<path class="c21" d="M2126 1008l19 13l-18-10l-18-9z"/>
<path class="c22" d="M2108 1010l18-2l-17-6l-19-6zM2015 1044l19 7l18-9l19-17l18 5l-17-29l-19 16l-18 18l-19 2l-18 10zM1441 1320l18-20l19-6l18-5l-17-20l-19 9l-18 25l-19 3z"/>
<path class="c23" d="M2089 1030l19-20l-18-14l-18 5zM1997 1040l18 4l-17 3l-19-9zM1496 1289l19-14l19-24l-18-5l-19 8l-18 15z"/>
<path class="c25" d="M1978 1033l19 7l-18-2l-19-10zM1571 1235l9-16l-9-17l-9 19z"/>
<path class="c27" d="M1960 1013l18 20l-18-5l-18-29z"/>
<path class="c30" d="M1942 989l9 17l-9-7l-9-19zM1950 998l10 15l-9-7l-9-17zM1608 1167l6-16l-6-18l-6 15z"/>
<path class="c32" d="M1932 972l10 17l-9-9l-10-19zM1941 983l9 15l-8-9l-10-17zM1608 1133l6-15l-6-17l-6 14zM1602 1148l6-15l-6-18l-6 14zM1620 1135l6-16l-6-16l-6 15z"/>
<path class="c33" d="M1923 961l18 22l-18-22l-18-15zM1626 1119l9-16l-8-20l-10 12zM1602 1115l6-14l-6-16l-6 13zM1596 1129l6-14l-6-17l-6 12zM1614 1118l6-15l-6-16l-6 14z"/>
<path class="c35" d="M1904 937l19 24l-18-15l-19-12zM1756 1020l18-9l-17-21l-19 16zM1654 1075l9-13l-9-20l-9 14zM1645 1088l9-13l-9-19l-9 15zM1627 1083l9-12l-9-18l-9 10zM1617 1095l10-12l-9-20l-10 9z"/>
<path class="c36" d="M1774 1011l19-9l18-8l19-10l19-17l18-4l19-12l18-14l-18-3l-18-4l-19 8l-18 18l-19 8l-18 6l-19 16l-18 4zM1663 1062l19-20l18-9l19-10l18-3l19 0l-18-14l-18 3l-19 9l-18-3l-19 11l-18-4zM1645 1056l9-14l-8-20l-10 16zM1636 1071l9-15l-9-18l-9 15z"/>
<path class="c34" d="M1635 1103l10-15l-9-17l-9 12zM1608 1101l6-14l-6-15l-6 13z"/>
<path class="c31" d="M1614 1151l6-16l-6-17l-6 15zM1590 1161l9-22l-9-29l-9 27z"/>
<path class="c29" d="M1580 1183l10-22l-9-24l-10 26zM1598 1185l10-18l-9-28l-9 22z"/>
<path class="c28" d="M1589 1203l9-18l-8-24l-10 22zM1571 1202l9-19l-9-20l-9 22z"/>
<path class="c26" d="M1562 1221l9-19l-9-17l-9 23zM1580 1219l9-16l-9-20l-9 19z"/>
<path class="c24" d="M1534 1251l18 0l19-16l-18-27l-19 27l-18 11z"/>
<path class="c18" d="M1385 1384l19-33l-18 3l-18 7z"/>
<path class="c14" d="M2255 1027l19-3l18-12l-17 3l-19 8l-18-8z"/>
<path class="c15" d="M2237 1026l18 1l-17-12l-19 12zM1329 1431l18-5l-17-15l-19 37z"/>
<path class="c16" d="M2218 1031l19-5l-18 1l-18-5z"/>
<path class="c17" d="M2200 1039l18-8l-17-9l-19-2zM1347 1426l19-19l19-11l18 4l19-18l-18-31l-19 33l-18 11l-19-3l-18 19z"/>
<path class="c18" d="M2181 1036l19 3l-18-19l-19-6z"/>
<path class="c20" d="M2163 1021l18 15l-18-22l-18 7zM1440 1361l19-22l-18-19l-19 32z"/>
<path class="c21" d="M2144 1013l19 8l-18 0l-19-13z"/>
<path class="c22" d="M2051 1045l19 7l19-17l18-4l19-5l18-13l-18-5l-18 2l-19 20l-18-5l-19 17l-18 9zM1459 1339l18-35l19-3l18 6l19-26l-18-6l-19 14l-18 5l-19 6l-18 20z"/>
<path class="c23" d="M2033 1055l18-10l-17 6l-19-7zM1588 1259l10-15l-9-12l-10 15zM1533 1281l18-8l19-7l18-7l-17-24l-19 16l-18 0l-19 24z"/>
<path class="c24" d="M2014 1059l19-4l-18-11l-18-4zM1579 1247l10-15l-9-13l-9 16zM1598 1244l9-14l-9-14l-9 16z"/>
<path class="c25" d="M1996 1049l18 10l-17-19l-19-7zM1607 1230l9-10l-9-17l-9 13zM1589 1232l9-16l-9-13l-9 16z"/>
<path class="c27" d="M1977 1031l19 18l-18-16l-18-20zM1625 1211l10-19l-9-25l-9 22zM1607 1203l10-14l-9-22l-10 18z"/>
<path class="c29" d="M1959 1008l10 14l-9-9l-10-15zM1968 1018l9 13l-8-9l-10-14zM1617 1189l9-22l-9-24l-9 24zM1635 1192l9-19l-9-27l-9 21z"/>
<path class="c31" d="M1950 994l9 14l-9-10l-9-15zM1653 1156l9-16l-8-26l-10 16zM1626 1167l9-21l-9-27l-9 24z"/>
<path class="c30" d="M1959 1005l9 13l-9-10l-9-14zM1644 1173l9-17l-9-26l-9 16z"/>
<path class="c32" d="M1941 983l9 11l-9-11l-9-11zM1950 995l9 10l-9-11l-9-11zM1662 1140l10-16l-9-24l-9 14zM1635 1146l9-16l-9-27l-9 16z"/>
<path class="c33" d="M1931 973l10 10l-9-11l-9-11zM1940 984l10 11l-9-12l-10-10zM1681 1109l9-17l-9-20l-9 13zM1654 1114l9-14l-9-25l-9 13zM1672 1124l9-15l-9-24l-9 15zM1644 1130l10-16l-9-26l-10 15z"/>
<path class="c34" d="M1922 961l9 12l-8-12l-10-12zM1931 972l9 12l-9-11l-9-12zM1690 1092l9-17l-8-16l-10 13zM1663 1100l9-15l-9-23l-9 13z"/>
<path class="c35" d="M1913 949l9 12l-9-12l-9-12zM1922 960l9 12l-9-11l-9-12zM1699 1075l19-15l19-13l18-11l19 8l18-17l19-12l18-11l19-3l18-14l19-11l-18-13l-18 4l-19 17l-19 10l-18 8l-19 9l-18 9l-19 0l-18 3l-19 10l-18 9zM1681 1072l10-13l-9-17l-10 10zM1672 1085l9-13l-9-20l-9 10z"/>
<path class="c36" d="M1885 976l18-12l19-4l-18-23l-18 14l-19 12z"/>
<path class="c26" d="M1598 1216l9-13l-9-18l-9 18zM1616 1220l9-9l-8-22l-10 14z"/>
<path class="c19" d="M1422 1382l18-21l-18-9l-18-1z"/>
<path class="c14" d="M2292 1026l18 8l-18-22l-18 12z"/>
<path class="c15" d="M2273 1025l19 1l-18-2l-19 3z"/>
<path class="c16" d="M2236 1046l18-13l19-8l-18 2l-18-1l-19 5zM1347 1454l18-26l19-9l-18-12l-19 19l-18 5z"/>
<path class="c17" d="M2217 1040l19 6l-18-15l-18 8zM1384 1419l18-18l19 6l18-26l-17 1l-19 18l-18-4l-19 11z"/>
<path class="c18" d="M2199 1035l18 5l-17-1l-19-3zM1439 1381l19-14l-18-6l-18 21z"/>
<path class="c19" d="M2180 1036l19-1l-18 1l-18-15zM1458 1367l18-11l-17-17l-19 22z"/>
<path class="c21" d="M2162 1039l18-3l-17-15l-19-8zM1513 1315l19 0l18-12l-17-22l-19 26l-18-6zM1476 1356l19-28l-18-24l-18 35z"/>
<path class="c22" d="M2051 1076l18-10l19-9l18-4l19-13l18-8l19 7l-18-26l-18 13l-19 5l-18 4l-19 17l-19-7l-18 10zM1550 1303l19-23l19-2l18-12l-18-7l-18 7l-19 7l-18 8zM1495 1328l18-13l-17-14l-19 3z"/>
<path class="c23" d="M2032 1073l19 3l-18-21l-19 4zM1606 1266l19-1l-18-35l-19 29z"/>
<path class="c24" d="M2014 1062l18 11l-18-14l-18-10zM1643 1253l9-17l-9-22l-9 18zM1625 1265l18-12l-18-42l-18 19z"/>
<path class="c26" d="M1995 1045l19 17l-18-13l-19-18zM1662 1220l9-20l-9-22l-9 18z"/>
<path class="c28" d="M1977 1027l9 11l-9-7l-9-13zM1986 1036l9 9l-9-7l-9-11zM1653 1196l9-18l-9-22l-9 17zM1671 1200l9-19l-9-21l-9 18z"/>
<path class="c30" d="M1968 1016l9 11l-9-9l-9-13zM1671 1160l10-14l-9-22l-10 16zM1689 1167l10-13l-9-22l-9 14z"/>
<path class="c29" d="M1977 1026l9 10l-9-9l-9-11zM1680 1181l9-14l-8-21l-10 14zM1662 1178l9-18l-9-20l-9 16z"/>
<path class="c31" d="M1958 1007l10 9l-9-11l-9-10zM1967 1019l10 7l-9-10l-10-9zM1699 1154l9-19l-9-22l-9 19zM1681 1146l9-14l-9-23l-9 15z"/>
<path class="c32" d="M1949 998l9 9l-8-12l-10-11zM1958 1012l9 7l-9-12l-9-9zM1690 1132l9-19l-9-21l-9 17zM1708 1135l9-20l-9-20l-9 18z"/>
<path class="c33" d="M1940 986l9 12l-9-14l-9-12zM1949 1001l9 11l-9-14l-9-12zM1717 1115l19-21l-18-34l-19 15zM1699 1113l9-18l-9-20l-9 17z"/>
<path class="c34" d="M1931 975l9 11l-9-14l-9-12zM1940 990l9 11l-9-15l-9-11zM1847 1028l18-7l-17-20l-19 3zM1736 1094l18-16l19-8l18-8l19-16l18-13l-17-18l-19 12l-18 17l-19-8l-18 11l-19 13z"/>
<path class="c35" d="M1865 1021l19-14l18-5l19-15l19 3l-18-30l-19 4l-18 12l-19 11l-18 14zM1828 1033l19-5l-18-24l-18 11z"/>
<path class="c27" d="M1643 1214l10-18l-9-23l-9 19z"/>
<path class="c25" d="M1634 1232l9-18l-8-22l-10 19zM1652 1236l10-16l-9-24l-10 18z"/>
<path class="c15" d="M2291 1040l18-5l19-10l-18 9l-18-8l-19-1z"/>
<path class="c16" d="M2235 1058l19 6l18-21l19-3l-18-15l-19 8l-18 13l-19-6zM1420 1423l18 4l19-20l-18-26l-18 26l-19-6zM1364 1462l19-41l-18 7l-18 26z"/>
<path class="c18" d="M2217 1059l18-1l-18-18l-18-5zM1457 1407l19-32l-18-8l-19 14zM1383 1421l18-11l-17 9l-19 9z"/>
<path class="c19" d="M2198 1044l19 15l-18-24l-19 1zM1476 1375l18-20l-18 1l-18 11z"/>
<path class="c20" d="M2180 1047l18-3l-18-8l-18 3zM1494 1355l19-16l-18-11l-19 28z"/>
<path class="c21" d="M2161 1034l19 13l-18-8l-19-7zM2087 1084l18-5l19-16l19-5l-18-18l-19 13l-18 4l-19 9zM1513 1339l18-1l19-14l18-11l19-1l-18-32l-19 23l-18 12l-19 0l-18 13z"/>
<path class="c22" d="M2143 1058l18-24l-18-2l-18 8zM2068 1072l19 12l-18-18l-18 10zM1587 1312l18-18l19-5l18-15l19-15l-18-6l-18 12l-19 1l-18 12l-19 2z"/>
<path class="c23" d="M2050 1075l18-3l-17 4l-19-3zM1661 1259l18-10l-17-29l-19 33z"/>
<path class="c24" d="M2031 1078l19-3l-18-2l-18-11zM1679 1249l10-15l-9-17l-10 17z"/>
<path class="c26" d="M2013 1060l18 18l-17-16l-19-17zM1698 1219l9-15l-9-18l-9 14zM1680 1217l9-17l-9-19l-9 19z"/>
<path class="c28" d="M1994 1041l19 19l-18-15l-18-19zM1716 1190l10-15l-9-20l-9 17zM1698 1186l10-14l-9-18l-10 13z"/>
<path class="c30" d="M1976 1027l18 14l-17-15l-19-14zM1744 1153l9-7l-8-26l-10 9zM1735 1161l9-8l-9-24l-9 9z"/>
<path class="c32" d="M1957 1013l19 14l-18-15l-18-22zM1828 1091l9-9l-9-21l-9 7zM1791 1108l18-9l-18-37l-18 8zM1781 1119l10-11l-9-19l-10 8zM1745 1120l9-8l-9-26l-9 8zM1735 1129l10-9l-9-26l-10 11zM1726 1138l9-9l-9-24l-9 10z"/>
<path class="c34" d="M1883 1050l19-19l18-9l19-9l18 0l-17-23l-19-3l-19 15l-18 5l-19 14zM1828 1061l9-8l-9-20l-9 6z"/>
<path class="c33" d="M1846 1074l19-20l18-4l-18-29l-18 7l-19 5zM1819 1068l9-7l-9-22l-9 7zM1837 1082l9-8l-9-21l-9 8zM1809 1099l19-8l-18-45l-19 16zM1772 1097l10-8l-9-19l-9 4zM1763 1104l9-7l-8-23l-10 4zM1754 1112l9-8l-9-26l-9 8z"/>
<path class="c31" d="M1772 1130l9-11l-9-22l-9 7zM1763 1138l9-8l-9-26l-9 8zM1753 1146l10-8l-9-26l-9 8zM1717 1155l9-17l-9-23l-9 20z"/>
<path class="c29" d="M1708 1172l9-17l-9-20l-9 19zM1726 1175l9-14l-9-23l-9 17z"/>
<path class="c27" d="M1689 1200l9-14l-9-19l-9 14zM1707 1204l9-14l-8-18l-10 14z"/>
<path class="c25" d="M1670 1234l10-17l-9-17l-9 20zM1689 1234l9-15l-9-19l-9 17z"/>
<path class="c17" d="M1401 1410l19 13l-18-22l-18 18z"/>
<path class="c16" d="M2290 1053l18-16l19-15l19 9l-18-6l-19 10l-18 5l-19 3zM2234 1064l19 19l-18-25l-18 1zM1382 1458l19-14l-18-23l-19 41z"/>
<path class="c15" d="M2253 1083l18-13l19-17l-18-10l-18 21l-19-6zM1438 1441l18 6l19-21l-18-19l-19 20l-18-4z"/>
<path class="c18" d="M2216 1068l18-4l-17-5l-19-15zM1401 1444l18-9l-18-25l-18 11z"/>
<path class="c20" d="M2197 1050l19 18l-18-24l-18 3zM1512 1374l18-23l-17-12l-19 16z"/>
<path class="c21" d="M2105 1079l18 1l19-8l18-1l19 1l18-22l-17-3l-19-13l-18 24l-19 5l-19 16l-18 5zM1530 1351l19-10l18-12l19 0l18-8l19-6l18-20l-17-6l-19 5l-18 18l-19 1l-18 11l-19 14l-18 1z"/>
<path class="c22" d="M2086 1097l19-18l-18 5l-19-12zM1641 1295l19-15l19-13l18-4l-18-14l-18 10l-19 15l-18 15z"/>
<path class="c23" d="M2049 1095l19-4l18 6l-18-25l-18 3l-19 3zM1697 1263l19-23l-18-21l-19 30z"/>
<path class="c25" d="M2031 1078l18 17l-18-17l-18-18zM1734 1226l9-13l-8-19l-10 14zM1716 1240l18-14l-18-36l-18 29z"/>
<path class="c27" d="M2012 1071l19 7l-18-18l-19-19zM1780 1182l10-5l-9-23l-9 6zM1771 1186l9-4l-8-22l-10 6zM1725 1208l10-14l-9-19l-10 15z"/>
<path class="c29" d="M1994 1050l9 6l-9-15l-9-7zM1994 1062l9 5l-9-17l-9-6zM1845 1130l10-7l-9-21l-10 8zM1836 1140l9-10l-9-20l-9 7zM1827 1150l9-10l-9-23l-9 8zM1781 1154l9-10l-9-25l-9 11zM1772 1160l9-6l-9-24l-9 8zM1762 1166l10-6l-9-22l-10 8z"/>
<path class="c30" d="M1985 1044l9 6l-9-16l-9-7zM1984 1053l10 9l-9-18l-10-8zM1864 1115l9-11l-9-20l-9 11zM1855 1123l9-8l-9-20l-9 7zM1809 1130l9-5l-9-26l-9 5zM1799 1134l10-4l-9-26l-9 4zM1790 1144l9-10l-8-26l-10 11z"/>
<path class="c28" d="M2003 1067l9 4l-9-15l-9-6zM1817 1156l10-6l-9-25l-9 5zM1808 1161l9-5l-8-26l-10 4zM1799 1169l9-8l-9-27l-9 10zM1790 1177l9-8l-9-25l-9 10zM1753 1200l18-14l-18-40l-18 15zM1735 1194l9-14l-9-19l-9 14z"/>
<path class="c31" d="M1975 1036l10 8l-9-17l-9-7zM1975 1043l9 10l-9-17l-9-8zM1873 1104l9-11l-9-20l-9 11zM1846 1102l9-7l-9-21l-9 8zM1836 1110l10-8l-9-20l-9 9zM1827 1117l9-7l-8-19l-10 4zM1818 1125l9-8l-9-22l-9 4z"/>
<path class="c32" d="M1966 1028l9 8l-8-16l-10-7zM1882 1093l19-16l18-10l19-5l18-12l19-7l-18-30l-18 0l-19 9l-18 9l-19 19l-18 4zM1864 1084l9-11l-8-19l-10 10zM1855 1095l9-11l-9-20l-9 10z"/>
<path class="c26" d="M1743 1213l10-13l-9-20l-9 14z"/>
<path class="c19" d="M1493 1403l19-29l-18-19l-18 20z"/>
<path class="c17" d="M1475 1426l18-23l-17-28l-19 32zM1419 1435l19 6l-18-18l-19-13z"/>
<path class="c17" d="M2345 1027l18-4l-17 8l-19-9zM2308 1063l18-32l-18 6l-18 16zM1511 1415l19-25l-18-16l-19 29zM1400 1452l18-3l19-1l-18-13l-18 9l-19 14z"/>
<path class="c18" d="M2326 1031l19-4l-18-5l-19 15zM2234 1070l18 14l-18-20l-18 4z"/>
<path class="c15" d="M2289 1085l19-22l-18-10l-19 17zM1492 1440l19-25l-18-12l-18 23z"/>
<path class="c14" d="M2271 1084l18 1l-18-15l-18 13zM1455 1444l19 7l18-11l-17-14l-19 21l-18-6z"/>
<path class="c16" d="M2252 1084l19 0l-18-1l-19-19zM1437 1448l18-4l-17-3l-19-6z"/>
<path class="c20" d="M2196 1065l19 7l19-2l-18-2l-19-18l-18 22zM1604 1341l18-3l19-5l18-17l-18-21l-18 20l-19 6l-18 8zM1530 1390l18-24l-18-15l-18 23z"/>
<path class="c21" d="M2122 1101l19-13l18 5l19-15l18-13l-17 7l-19-1l-18 1l-19 8l-18-1zM1659 1316l19-19l-18-17l-19 15zM1548 1366l19-27l18 4l19-2l-18-12l-19 0l-18 12l-19 10z"/>
<path class="c22" d="M2085 1099l19-9l18 11l-17-22l-19 18l-18-6zM1678 1297l18-7l19-11l18-14l-17-25l-19 23l-18 4l-19 13z"/>
<path class="c23" d="M2067 1099l18 0l-17-8l-19 4zM1770 1249l10-10l-9-23l-9 8zM1761 1249l9 0l-8-25l-10 7zM1752 1249l9 0l-9-18l-9 7zM1733 1265l19-16l-18-23l-18 14z"/>
<path class="c24" d="M2048 1102l19-3l-18-4l-18-17zM1826 1208l9-5l-9-24l-9 5zM1817 1214l9-6l-9-24l-9 8zM1807 1221l10-7l-9-22l-9 7zM1780 1239l9-10l-9-21l-9 8zM1743 1238l9-7l-9-18l-9 13z"/>
<path class="c26" d="M2030 1091l18 11l-17-24l-19-7zM1872 1171l10-9l-9-23l-10 8zM1863 1180l9-9l-9-24l-9 8zM1826 1179l10-5l-9-24l-10 6zM1817 1184l9-5l-9-23l-9 5zM1808 1192l9-8l-9-23l-9 8zM1799 1199l9-7l-9-23l-9 8z"/>
<path class="c27" d="M2011 1088l19 3l-18-20l-18-9zM1882 1162l9-15l-9-22l-9 14zM1845 1164l9-9l-9-25l-9 10zM1836 1174l9-10l-9-24l-9 10z"/>
<path class="c29" d="M1993 1071l9 4l-8-13l-10-9zM1983 1089l10 3l-9-25l-9 1zM1974 1086l9 3l-8-21l-10 0zM1928 1116l9-7l-9-21l-9 6zM1919 1122l9-6l-9-22l-9 5zM1900 1132l19-10l-18-45l-19 16zM1882 1125l9-13l-9-19l-9 11zM1873 1139l9-14l-9-21l-9 11z"/>
<path class="c30" d="M1984 1067l9 4l-9-18l-9-10zM1975 1068l9-1l-9-24l-9 4zM1937 1109l19-15l18-8l-18-36l-18 12l-19 5zM1910 1099l9-5l-9-22l-9 5z"/>
<path class="c28" d="M2002 1090l9-2l-9-13l-9-4zM1993 1092l9-2l-9-19l-9-4zM1891 1147l9-15l-9-20l-9 13zM1863 1147l10-8l-9-24l-9 8zM1854 1155l9-8l-8-24l-10 7z"/>
<path class="c31" d="M1965 1068l10 0l-9-21l-10 3zM1919 1094l9-6l-9-21l-9 5z"/>
<path class="c25" d="M1854 1189l9-9l-9-25l-9 9zM1844 1197l10-8l-9-25l-9 10zM1835 1203l9-6l-8-23l-10 5zM1789 1229l18-8l-17-44l-19 9zM1771 1216l9-8l-9-22l-9 7zM1762 1224l9-8l-9-23l-9 7zM1752 1231l10-7l-9-24l-10 13z"/>
<path class="c19" d="M2344 1028l18-13l19 15l-18-7l-18 4l-19 4zM2233 1076l18 6l-17-12l-19 2zM1621 1357l19 0l18-25l-17 1l-19 5l-18 3zM1547 1412l19-40l-18-6l-18 24z"/>
<path class="c18" d="M2325 1049l19-21l-18 3l-18 32zM2251 1082l19-3l-18 5l-18-14zM1418 1463l18-23l-18 9l-18 3z"/>
<path class="c16" d="M2307 1078l18-29l-17 14l-19 22zM2270 1079l18 15l-17-10l-19 0zM1529 1434l18-22l-17-22l-19 25zM1455 1447l18 5l-18-8l-18 4z"/>
<path class="c15" d="M2288 1094l19-16l-18 7l-18-1zM1510 1451l19-17l-18-19l-19 25z"/>
<path class="c21" d="M2140 1111l19-1l18-17l19-10l18-18l19 11l-18-4l-19-7l-18 13l-19 15l-18-5l-19 13zM1862 1241l9-13l-8-20l-10 11zM1714 1312l19-18l18-8l19-3l-18-34l-19 16l-18 14l-19 11zM1566 1372l18-17l19-1l-18-11l-18-4l-19 27z"/>
<path class="c22" d="M2122 1111l18 0l-18-10l-18-11zM1871 1228l10-13l-9-18l-9 11zM1770 1283l18-30l19-6l18 6l19-16l18 4l-18-44l-18 11l-19 13l-18 8l-19 20l-18 0z"/>
<path class="c23" d="M2085 1095l18 14l19 2l-18-21l-19 9l-18 0zM1853 1219l10-11l-9-19l-10 8z"/>
<path class="c24" d="M2047 1136l19-25l19-16l-18 4l-19 3l-18-11zM2038 1125l9 11l-8-22l-10-7zM1899 1196l10-9l-9-20l-10 12zM1881 1215l18-19l-17-34l-19 18zM1863 1208l9-11l-9-17l-9 9z"/>
<path class="c26" d="M2029 1107l10 7l-9-23l-10-2zM2020 1101l9 6l-9-18l-9-1zM2010 1122l19-9l-18-25l-18 4zM1964 1146l9-7l-8-23l-10 8zM1955 1153l9-7l-9-22l-9 7zM1936 1160l19-7l-18-44l-18 13zM1900 1167l9-12l-9-23l-9 15z"/>
<path class="c25" d="M2029 1113l9 12l-9-18l-9-6zM1927 1169l9-9l-9-19l-9 7zM1918 1178l9-9l-9-21l-9 7zM1890 1179l10-12l-9-20l-9 15zM1909 1187l9-9l-9-23l-9 12z"/>
<path class="c27" d="M1973 1139l19-7l18-10l-17-30l-19-6l-18 8zM1918 1148l9-7l-8-19l-10 5zM1909 1155l9-7l-9-21l-9 5z"/>
<path class="c28" d="M1955 1124l10-8l-9-22l-10 7zM1946 1131l9-7l-9-23l-9 8z"/>
<path class="c20" d="M1658 1332l19-4l18 2l19-18l-18-22l-18 7l-19 19l-18 17zM1603 1354l18 3l-17-16l-19 2z"/>
<path class="c13" d="M1492 1465l18-14l-18-11l-18 11z"/>
<path class="c14" d="M1473 1452l19 13l-18-14l-19-7z"/>
<path class="c17" d="M1436 1440l19 7l-18 1l-19 1z"/>
<path class="c19" d="M2380 1034l19 11l-18-15l-19-15zM1639 1358l19 7l18-6l19-12l18-16l19-11l-18-8l-19 18l-18-2l-19 4l-18 25l-19 0zM1565 1413l18-27l-17-14l-19 40zM1472 1424l10 12l-9 7l-10-7zM1435 1458l19-15l18-19l-17 23l-19-7l-18 23z"/>
<path class="c20" d="M2343 1040l19-14l18 8l-18-19l-18 13l-19 21zM2250 1085l19 1l-18-4l-18-6zM1861 1260l19-5l-18-14l-18-4zM1732 1320l18-10l19 0l18-21l-17-6l-19 3l-18 8l-19 18zM1621 1358l18 0l-18-1l-18-3zM1583 1386l19-17l-18-14l-18 17z"/>
<path class="c18" d="M2325 1067l18-27l-18 9l-18 29zM2269 1086l19 13l-18-20l-19 3zM1463 1436l10 7l-9 7l-9-3zM1482 1436l9 11l-9 2l-9-6z"/>
<path class="c16" d="M2306 1090l19-23l-18 11l-19 16zM1546 1444l19-31l-18-1l-18 22z"/>
<path class="c17" d="M2288 1099l18-9l-18 4l-18-15zM1473 1443l9 6l-9 3l-9-2z"/>
<path class="c21" d="M2158 1109l18-6l19-8l18 0l19 0l18-10l-17-9l-19-11l-18 18l-19 10l-18 17l-19 1zM1880 1255l18-21l-17-19l-19 26zM1824 1264l19-12l18 8l-17-23l-19 16l-18-6zM1787 1289l19-9l-18-27l-18 30zM1602 1369l19-11l-18-4l-19 1z"/>
<path class="c22" d="M2121 1125l18-17l19 1l-18 2l-18 0l-19-2zM1898 1234l19-11l-18-27l-18 19zM1806 1280l18-16l-17-17l-19 6z"/>
<path class="c23" d="M2102 1115l19 10l-18-16l-18-14zM2047 1152l18-17l19-2l-18-22l-19 25l-18-23zM1917 1223l19-24l18 4l19-16l-18-34l-19 7l-18 18l-19 18z"/>
<path class="c24" d="M2084 1133l18-18l-17-20l-19 16zM2028 1147l19 5l-18-39l-19 9zM1973 1187l18-21l19-8l-18-26l-19 7l-18 14z"/>
<path class="c25" d="M2010 1158l18-11l-18-25l-18 10z"/>
<path class="c14" d="M1509 1450l19 11l18-17l-17-10l-19 17l-18 14z"/>
<path class="c15" d="M1491 1447l18 3l-17 15l-19-13z"/>
<path class="c19" d="M2398 1023l10 3l-9 19l-10-5zM2324 1085l18-32l-17 14l-19 23zM2278 1081l9 7l-9 4l-9-6zM2296 1083l9 7l-9 4l-9-6zM1657 1368l18 6l19-17l18-8l19-5l18-15l-17-9l-19 11l-18 16l-19 12l-18 6l-19-7zM1583 1431l18-40l-18-5l-18 27zM1490 1435l10 11l-9 1l-9-11zM1499 1434l10 10l-9 2l-10-11z"/>
<path class="c20" d="M2389 1021l9 2l-9 17l-9-6zM2333 1060l10-15l-9 9l-9 13zM2287 1076l9 7l-9 5l-9-7zM2268 1089l19-13l-18 10l-19-1zM1879 1262l19 2l18-24l-18-6l-18 21l-19 5zM1749 1329l19-12l18-5l19-3l19-19l18-5l-18-21l-18 16l-19 9l-18 21l-19 0l-18 10zM1638 1371l19-3l-18-10l-18 0zM1601 1391l19-8l-18-14l-19 17zM1481 1424l9 11l-8 1l-10-12zM1453 1466l19-35l-18 12l-19 15z"/>
<path class="c21" d="M2407 1007l9-1l-8 20l-10-3zM2380 1019l9 2l-9 13l-9-4zM2370 1017l10 2l-9 11l-9-4zM2343 1045l9-14l-9 9l-9 14zM2342 1053l10-16l-9 8l-10 15zM2213 1108l18-8l19-20l18 9l-18-4l-18 10l-19 0l-18 0zM1916 1240l19 3l18-19l-17-25l-19 24l-19 11zM1842 1285l19-26l18 3l-18-2l-18-8l-19 12zM1620 1383l18-12l-17-13l-19 11zM1490 1424l9 10l-9 1l-9-11zM1472 1431l18-7l-18 0l-18 19z"/>
<path class="c22" d="M2398 1008l9-1l-9 16l-9-2zM2389 1009l9-1l-9 13l-9-2zM2361 1021l18-12l-17 17l-19 14zM2352 1037l9-16l-9 10l-9 14zM2176 1112l18 1l19-5l-18-13l-19 8l-18 6zM1953 1224l19-19l18-5l-17-13l-19 16l-18-4z"/>
<path class="c23" d="M2379 1009l10 0l-9 10l-10-2zM1990 1200l19-13l18-15l19-8l18 0l19-9l18-17l19-12l19-2l18-16l19 4l-18-3l-19-1l-18 17l-19-10l-18 18l-19 2l-18 17l-19-5l-18 11l-19 8l-18 21z"/>
<path class="c18" d="M2305 1090l19-5l-18 5l-18 9zM2287 1088l9 6l-8 5l-10-7z"/>
<path class="c16" d="M1564 1435l19-4l-18-18l-19 31z"/>
<path class="c15" d="M1527 1456l19-3l18-18l-18 9l-18 17l-19-11z"/>
<path class="c17" d="M1509 1444l18 12l-18-6l-18-3z"/></g>
<path class="ds" d="M120 81L157.5 63"/>
<text class="tk" text-anchor="end" x="139.8" y="186.3">0</text>
<text class="tk" x="151.1" y="186.2">0</text>
<text class="tk" text-anchor="end" x="103.8" y="168.9">500</text>
<text class="tk" x="188.7" y="169.4">500</text>
<text class="tk" text-anchor="end" x="67.8" y="151.4">1000</text>
<text class="tk" x="226.4" y="152.7">1000</text>
<text class="tk" text-anchor="end" x="31.8" y="134.0">1500</text>
<text class="tk" x="264.0" y="135.9">1500</text>
<text class="tk" text-anchor="end" x="31.7" y="126.1">-40</text>
<text class="tk" text-anchor="end" x="31.7" y="109.0">-20</text>
<text class="tk" text-anchor="end" x="31.7" y="91.9">0</text>
<text class="tk" text-anchor="end" x="31.7" y="74.9">20</text>
<text class="tk" text-anchor="end" x="31.7" y="57.8">40</text>
<text class="lb" font-size="15.5" x="4.6" y="58.0">(a)</text>
<text class="lb" font-size="12" x="17.7" y="88.2" transform="rotate(-90 17.7 88.2)" text-anchor="middle">phase</text>
<text class="lb" font-size="12" x="64.5" y="169.9">pixel</text>
<text class="lb" font-size="12" x="206.2" y="170.5">pixel</text>
<path class="gr" d="M459.6 158.9L345.1 111.7M387.9 161.0L488.3 107.5M493.0 141.0L378.5 93.8M349.8 145.2L450.2 91.7M526.5 123.2L412.0 76.0M311.6 129.5L412.0 76.0M311.6 129.5L311.6 60.3M526.5 123.2L526.5 54.0M345.1 111.7L345.1 42.5M488.3 107.5L488.3 38.3M378.5 93.8L378.5 24.6M450.2 91.7L450.2 22.5M412.0 76.0L412.0 6.8M311.6 112.2L412.0 58.7L526.5 105.9M311.6 94.9L412.0 41.4L526.5 88.6M311.6 77.6L412.0 24.1L526.5 71.3M311.6 60.3L412.0 6.8L526.5 54.0"/>
<path class="ax" d="M526.5 123.2L426.1 176.7L311.6 129.5L311.6 60.3M426.1 176.7L428.3 177.6M426.1 176.7L424.0 177.8M459.6 158.9L461.8 159.8M387.9 161.0L385.8 162.1M493.0 141.0L495.3 141.9M349.8 145.2L347.6 146.4M526.5 123.2L528.7 124.1M311.6 129.5L309.5 130.6M311.6 129.5L309.5 130.6M311.6 112.2L309.5 113.3M311.6 94.9L309.5 96.0M311.6 77.6L309.5 78.7M311.6 60.3L309.5 61.4"/>
<g class="sf" transform="scale(.1)"><path class="c19" d="M4143 679l16-19l-18-8l-17 16zM4077 700l17 2l-19-5l-17-7zM3748 893l16-33l-19 3l-16 36zM3698 907l17-10l16 2l-19-16l-16 21l-17-2z"/>
<path class="c18" d="M4127 682l16-3l-19-11l-16 26zM4094 702l16-1l-19 2l-16-6zM3731 899l17-6l-19 6l-17-16z"/>
<path class="c17" d="M4110 701l17-19l-19 12l-17 9z"/>
<path class="c21" d="M4061 682l16 18l-19-10l-16 8zM3764 860l17-13l-19-12l-17 28zM3665 901l17 2l-19-3l-17-1z"/>
<path class="c22" d="M4044 689l17-7l-19 16l-17-19zM3781 847l16-19l-19-7l-16 14z"/>
<path class="c25" d="M4028 662l16 27l-19-10l-16-15zM3929 714l16 15l17-20l-19-3l-17 14l-16-1zM3632 878l17-3l-19 2l-17-13zM3533 934l17-9l-19-13l-16 11z"/>
<path class="c26" d="M3962 709l16-26l17-7l16-12l17-2l-19 2l-17 12l-16-17l-17 18l-16 29zM3912 700l17 14l-19 5l-16-9zM3616 856l16 22l-19-14l-16-1zM3550 925l16-7l17-28l16-9l-19 6l-16 10l-16 0l-17 15zM3467 939l17 2l16-18l17 15l16-4l-18-11l-17 2l-16 13l-17 22l-16-29z"/>
<path class="c27" d="M3879 752l17-53l16 1l-18 10l-17-14l-16 47zM3599 881l17-25l-19 7l-17 24z"/>
<path class="c24" d="M3813 790l17 4l16-5l17-11l16-26l-18-9l-17 38l-16-10l-17 15l-16 18z"/>
<path class="c23" d="M3797 828l16-38l-18 14l-17 17zM3649 875l16 26l-19-2l-16-22z"/>
<path class="c20" d="M3682 903l16 4l-19-5l-16-2z"/>
<path class="c28" d="M3451 943l16-4l-18-8l-17-13z"/>
<path class="c29" d="M3336 969l16 16l17-24l16 5l17-7l16-13l17-22l16 19l-19-25l-16 14l-17 16l-16-6l-17 22l-16 3l-17 6l-16-14z"/>
<path class="c32" d="M3319 949l17 20l-19-10l-17-35z"/>
<path class="c33" d="M3303 940l16 9l-19-25l-16-12z"/>
<path class="c20" d="M4162 676l16-16l-19 0l-16 19zM4096 692l16 11l-18-1l-17-2zM3733 894l17-9l-19 14l-16-2z"/>
<path class="c19" d="M4112 703l17-2l16-21l17-4l-19 3l-16 3l-17 19l-16 1zM3750 885l16 14l17-20l-19-19l-16 33l-17 6z"/>
<path class="c22" d="M4079 670l17 22l-19 8l-16-18zM3799 849l17-16l-19-5l-16 19zM3684 898l16 9l-18-4l-17-2z"/>
<path class="c24" d="M4063 680l16-10l-18 12l-17 7zM3882 792l16-29l-19-11l-16 26zM3816 833l16-34l17 5l16-9l-19-6l-16 5l-17-4l-16 38zM3668 891l16 7l-19 3l-16-26z"/>
<path class="c25" d="M4046 665l17 15l-19 9l-16-27zM3948 728l16-6l17-17l-19 4l-17 20l-16-15zM3651 888l17 3l-19-16l-17 3zM3569 935l16-9l-19-8l-16 7z"/>
<path class="c26" d="M3981 705l16-17l17-16l16 3l16-10l-18-3l-17 2l-16 12l-17 7l-16 26zM3931 714l17 14l-19-14l-17-14zM3635 888l16 0l-19-10l-16-22zM3585 926l17-28l16-3l-19-14l-16 9l-17 28zM3519 935l17 11l16-20l17 9l-19-10l-17 9l-16 4l-17-15z"/>
<path class="c28" d="M3915 709l16 5l-19-14l-16-1zM3470 942l16-8l-19 5l-16 4z"/>
<path class="c27" d="M3898 763l17-54l-19-10l-17 53zM3618 895l17-7l-19-32l-17 25zM3486 934l17 23l16-22l-19-12l-16 18l-17-2z"/>
<path class="c23" d="M3865 795l17-3l-19-14l-17 11z"/>
<path class="c21" d="M3783 879l16-30l-18-2l-17 13zM3700 907l17-18l16 5l-18 3l-17 10l-16-4z"/>
<path class="c29" d="M3354 997l17 1l16-11l17-35l16 16l17-17l16-14l17 5l-19 1l-16-19l-17 22l-16 13l-17 7l-16-5l-17 24l-16-16z"/>
<path class="c31" d="M3338 966l16 31l-18-28l-17-20z"/>
<path class="c33" d="M3322 955l16 11l-19-17l-16-9z"/>
<path class="c20" d="M4164 695l17-19l16-13l-19-3l-16 16l-17 4zM3769 887l16 14l17-44l-19 22l-17 20l-16-14z"/>
<path class="c19" d="M4131 715l17-10l16-10l-19-15l-16 21l-17 2z"/>
<path class="c21" d="M4115 699l16 16l-19-12l-16-11zM3752 897l17-10l-19-2l-17 9z"/>
<path class="c23" d="M4098 700l17-1l-19-7l-17-22zM3868 817l16-11l16-9l-18-5l-17 3l-16 9zM3818 852l17-33l-19 14l-17 16zM3686 911l17 2l16-33l17 4l-19 5l-17 18l-16-9l-16-7z"/>
<path class="c24" d="M4082 691l16 9l-19-30l-16 10zM3835 819l16 16l17-18l-19-13l-17-5l-16 34z"/>
<path class="c25" d="M4065 679l17 12l-19-11l-17-15zM3966 740l17-16l-19-2l-16 6zM3900 797l17-55l-19 21l-16 29zM3670 896l16 15l-18-20l-17-3z"/>
<path class="c26" d="M3983 724l16-27l17 3l16-15l17-2l16-4l-19-14l-16 10l-16-3l-17 16l-16 17l-17 17zM3950 719l16 21l-18-12l-17-14zM3538 962l16-19l17 4l16-6l17-37l16 17l17-26l16-7l17 8l-19-8l-16 0l-17 7l-16 3l-17 28l-16 9l-17-9l-16 20l-17-11z"/>
<path class="c28" d="M3933 703l17 16l-19-5l-16-5zM3489 940l16 8l-19-14l-16 8zM3373 999l17 18l16-26l-19-4l-16 11l-17-1z"/>
<path class="c27" d="M3917 742l16-39l-18 6l-17 54zM3505 948l17-6l16 20l-19-27l-16 22l-17-23z"/>
<path class="c22" d="M3802 857l16-5l-19-3l-16 30zM3736 884l16 13l-19-3l-16-5z"/>
<path class="c29" d="M3406 991l17-21l16-5l17 5l16-19l17-11l-19 2l-17-5l-16 14l-17 17l-16-16l-17 35z"/>
<path class="c30" d="M3357 1007l16-8l-19-2l-16-31z"/>
<path class="c31" d="M3340 993l17 14l-19-41l-16-11z"/>
<path class="c19" d="M4150 720l16-3l17-5l16-2l17-12l-19-35l-16 13l-17 19l-16 10l-17 10z"/>
<path class="c21" d="M4133 704l17 16l-19-5l-16-16zM3787 886l17-13l-19 28l-16-14z"/>
<path class="c22" d="M4117 696l16 8l-18-5l-17 1zM3804 873l16 2l17-26l-19 3l-16 5l-17 44zM3755 896l16 1l16-11l-18 1l-17 10l-16-13z"/>
<path class="c24" d="M4101 674l16 22l-19 4l-16-9zM3853 840l17-28l16 6l17-10l16-12l-19 1l-16 9l-16 11l-17 18l-16-16zM3705 905l17-11l16 18l-19-32l-16 33l-17-2z"/>
<path class="c26" d="M4068 678l16-5l17 1l-19 17l-17-12l-16 4zM3985 736l17-8l16-6l17-8l16-24l-19-5l-16 15l-17-3l-16 27l-17 16zM3557 947l16 10l17-23l16 3l17 0l16-20l17 0l16-10l17 6l-19-17l-17-8l-16 7l-17 26l-16-17l-17 37l-16 6l-17-4l-16 19z"/>
<path class="c27" d="M4051 690l17-12l-19 5l-17 2zM3969 709l16 27l-19 4l-16-21zM3524 973l16-18l17-8l-19 15l-16-20l-17 6z"/>
<path class="c28" d="M3936 760l16-52l17 1l-19 10l-17-16l-16 39zM3507 956l17 17l-19-25l-16-8zM3392 1030l17-9l16-12l-19-18l-16 26l-17-18z"/>
<path class="c25" d="M3919 796l17-36l-19-18l-17 55zM3689 913l16-8l-19 6l-16-15z"/>
<path class="c23" d="M3837 849l16-9l-18-21l-17 33zM3738 912l17-16l-19-12l-17-4z"/>
<path class="c29" d="M3425 1009l16-20l17-27l16 14l17-21l16 1l-18-16l-17 11l-16 19l-17-5l-16 5l-17 21zM3376 1015l16 15l-19-31l-16 8z"/>
<path class="c30" d="M3359 1028l17-13l-19-8l-17-14z"/>
<path class="c17" d="M4202 720l16 6l17-18l-19-10l-17 12l-16 2z"/>
<path class="c18" d="M4185 728l17-8l-19-8l-17 5z"/>
<path class="c19" d="M4169 718l16 10l-19-11l-16 3z"/>
<path class="c21" d="M4152 724l17-6l-19 2l-17-16z"/>
<path class="c23" d="M4136 706l16 18l-19-20l-16-8zM3790 879l16 3l17-2l16-11l17-15l-19-5l-17 26l-16-2l-17 13l-16 11zM3757 906l16-18l-18 8l-17 16z"/>
<path class="c25" d="M4119 691l17 15l-19-10l-16-22zM3938 805l17-48l-19 3l-17 36zM3872 825l17-6l16-4l17-14l-19 7l-17 10l-16-6l-17 28zM3641 959l17-12l16-19l17-6l16-4l17-15l16 2l-18-11l-17 11l-16 8l-17-6l-16 10l-17 0l-16 20z"/>
<path class="c26" d="M4086 686l17 17l16-12l-18-17l-17-1l-16 5zM4004 727l16 7l17-11l16-15l17-12l-19-6l-16 24l-17 8l-16 6l-17 8zM3576 977l16-17l17 2l16-16l16 13l-18-22l-17 0l-16-3l-17 23l-16-10z"/>
<path class="c27" d="M4070 696l16-10l-18-8l-17 12zM3955 757l16-25l-19-24l-16 52zM3526 977l17-3l16-6l17 9l-19-30l-17 8l-16 18l-17-17zM3411 1039l16-6l17-14l-19-10l-16 12l-17 9z"/>
<path class="c28" d="M3987 714l17 13l-19 9l-16-27zM3510 967l16 10l-19-21l-16-1zM3477 1000l16-14l-19-10l-16-14zM3444 1019l16-26l-19-4l-16 20zM3378 1065l16-14l17-12l-19-9l-16-15l-17 13z"/>
<path class="c29" d="M3971 732l16-18l-18-5l-17-1zM3493 986l17-19l-19-12l-17 21zM3460 993l17 7l-19-38l-17 27z"/>
<path class="c24" d="M3922 801l16 4l-19-9l-16 12zM3856 854l16-29l-19 15l-16 9zM3773 888l17-9l-19 18l-16-1zM3740 905l17 1l-19 6l-16-18z"/>
<path class="c15" d="M4237 750l16-11l-18-31l-17 18z"/>
<path class="c16" d="M4220 739l17 11l-19-24l-16-6z"/>
<path class="c17" d="M4204 752l16-13l-18-19l-17 8z"/>
<path class="c19" d="M4188 726l16 26l-19-24l-16-10z"/>
<path class="c21" d="M4171 729l17-3l-19-8l-17 6z"/>
<path class="c22" d="M4155 722l16 7l-19-5l-16-18z"/>
<path class="c24" d="M4138 719l17 3l-19-16l-17-15z"/>
<path class="c25" d="M4122 705l16 14l-19-28l-16 12zM3940 790l17 0l-19 15l-16-4zM3644 968l16-11l17-11l16-12l17 1l16 0l17-26l16 5l17-37l16-2l17-2l16-8l17-8l16-14l16-5l17-12l-19-1l-16 29l-17 15l-16 11l-17 2l-16-3l-17 9l-16 18l-17-1l-16-2l-17 15l-16 4l-17 6l-16 19l-17 12l-16-13z"/>
<path class="c26" d="M4105 708l17-3l-19-2l-17-17zM4039 744l17-20l-19-1l-17 11zM3957 790l16-25l-18-8l-17 48zM3891 826l16-22l17-1l16-13l-18 11l-17 14l-16 4l-17 6zM3594 956l17 14l16-2l17 0l-19-22l-16 16l-17-2l-16 17zM3397 1092l16-4l17-21l-19-28l-17 12l-16 14z"/>
<path class="c27" d="M4056 724l16-25l17 10l16-1l-19-22l-16 10l-17 12l-16 15zM4023 725l16 19l-19-10l-16-7zM3545 994l16-10l17 4l16-32l-18 21l-17-9l-16 6l-17 3zM3430 1067l16-28l17-17l-19-3l-17 14l-16 6z"/>
<path class="c28" d="M3973 765l17-35l16 18l17-23l-19 2l-17-13l-16 18l-16 25zM3496 988l16 1l16 5l17 0l-19-17l-16-10l-17 19l-16 14zM3463 1022l16-19l-19-10l-16 26z"/>
<path class="c29" d="M3479 1003l17-15l-19 12l-17-7z"/>
<path class="c14" d="M4256 747l16 7l-19-15l-16 11z"/>
<path class="c16" d="M4239 744l17 3l-19 3l-17-11z"/>
<path class="c17" d="M4223 747l16-3l-19-5l-16 13z"/>
<path class="c18" d="M4206 747l17 0l-19 5l-16-26z"/>
<path class="c20" d="M4190 736l16 11l-18-21l-17 3z"/>
<path class="c22" d="M4173 740l17-4l-19-7l-16-7z"/>
<path class="c23" d="M4157 721l16 19l-18-18l-17-3z"/>
<path class="c25" d="M4140 722l17-1l-19-2l-16-14zM3663 962l16 1l17-4l16-18l17-4l16-10l16-12l17-16l-19 15l-16-5l-17 26l-16 0l-17-1l-16 12l-17 11l-16 11zM3432 1119l16-13l-18-39l-17 21z"/>
<path class="c26" d="M4107 714l17-4l16 12l-18-17l-17 3l-16 1zM3778 899l16 2l17-4l16-26l17-9l16-1l17-13l16-5l17-13l16-5l17-14l16-8l17-20l-19 7l-17 0l-16 13l-17 1l-16 22l-17 12l-16 5l-16 14l-17 8l-16 8l-17 2l-16 2l-17 37zM3630 973l16-25l17 14l-19 6l-17 0l-16 2zM3564 1014l16-1l17-22l-19-3l-17-4l-16 10zM3448 1106l17-31l-19-36l-16 28z"/>
<path class="c27" d="M4025 747l17-13l16 0l16 1l17-17l16-4l-18-5l-17-10l-16 25l-17 20l-16-19l-17 23zM3976 783l16-15l-19-3l-16 25zM3597 991l16-13l17-5l-19-3l-17-14l-16 32zM3547 1013l17 1l-19-20l-17 0zM3465 1075l16-16l17-21l-19-35l-16 19l-17 17z"/>
<path class="c28" d="M3992 768l17-26l16 5l-19 1l-16-18l-17 35zM3498 1038l16-13l17-20l16 8l-19-19l-16-5l-16-1l-17 15z"/>
<path class="c24" d="M3415 1137l17-18l-19-31l-16 4z"/>
<path class="c15" d="M4275 757l16-5l-19 2l-16-7z"/>
<path class="c16" d="M4258 751l17 6l-19-10l-17-3z"/>
<path class="c18" d="M4242 739l16 12l-19-7l-16 3z"/>
<path class="c19" d="M4225 737l17 2l-19 8l-17 0z"/>
<path class="c20" d="M4209 756l16-19l-19 10l-16-11z"/>
<path class="c21" d="M4192 760l17-4l-19-20l-17 4z"/>
<path class="c22" d="M4176 756l16 4l-19-20l-16-19zM3434 1162l17-14l-19-29l-17 18z"/>
<path class="c24" d="M4159 740l17 16l-19-35l-17 1zM3467 1124l17-18l-19-31l-17 31z"/>
<path class="c25" d="M4143 726l16 14l-19-18l-16-12zM3912 851l17 9l-19-30l-17 13zM3797 918l16-6l17-22l-19 7l-17 4l-16-2zM3484 1106l16-27l-19-20l-16 16z"/>
<path class="c26" d="M4077 758l16-8l17-9l16-6l17-9l-19-16l-17 4l-16 4l-17 17l-16-1zM3929 860l16-36l16-14l17-3l16-8l-18-16l-17 20l-16 8l-17 14l-16 5zM3830 890l16-2l17-8l16-6l17-7l16-16l-19-8l-16 5l-17 13l-16 1l-17 9l-16 26zM3665 971l16-5l17-4l16-15l17-7l16-1l17-11l16-10l17 0l-19-19l-17 16l-16 12l-16 10l-17 4l-16 18l-17 4l-16-1l-17-14zM3566 1026l17-3l16-11l16-6l17-18l-19-10l-16 13l-17 22l-16 1l-17-1zM3500 1079l17-30l-19-11l-17 21z"/>
<path class="c27" d="M4044 752l16 13l17-7l-19-24l-16 0l-17 13zM3994 799l17-11l16-24l-18-22l-17 26l-16 15zM3632 988l16-16l17-1l-19-23l-16 25l-17 5zM3517 1049l16-1l17-19l16-3l-19-13l-16-8l-17 20l-16 13z"/>
<path class="c28" d="M4027 764l17-12l-19-5l-16-5z"/>
<path class="c23" d="M3451 1148l16-24l-19-18l-16 13z"/>
<path class="c15" d="M4293 757l17-7l-19 2l-16 5z"/>
<path class="c17" d="M4277 742l16 15l-18 0l-17-6z"/>
<path class="c18" d="M4260 762l17-20l-19 9l-16-12z"/>
<path class="c19" d="M4244 762l16 0l-18-23l-17-2zM3453 1200l17-21l-19-31l-17 14z"/>
<path class="c20" d="M4211 763l16-3l17 2l-19-25l-16 19l-17 4z"/>
<path class="c22" d="M4194 737l17 26l-19-3l-16-4zM3486 1160l16-26l-18-28l-17 18z"/>
<path class="c24" d="M4178 742l16-5l-18 19l-17-16zM3519 1122l16-15l-18-58l-17 30z"/>
<path class="c25" d="M4162 732l16 10l-19-2l-16-14zM3898 876l16-6l17-12l16 8l17-21l-19-21l-16 36l-17-9l-16 16l-17 7zM3816 932l16-17l16 4l17-27l-19-4l-16 2l-17 22l-16 6zM3535 1107l17-18l16-16l-18-44l-17 19l-16 1z"/>
<path class="c26" d="M4063 777l16 13l17-20l16-6l17-8l16 0l17-24l-19-6l-17 9l-16 6l-17 9l-16 8l-17 7l-16-13zM3964 845l16-20l17-14l16 1l17-8l16 0l-19-40l-16 24l-17 11l-16 8l-17 3l-16 14zM3865 892l16-9l17-7l-19-2l-16 6l-17 8zM3684 966l16 20l17-21l16-8l17-16l16-18l17 6l16-13l17 16l-19-14l-17 0l-16 10l-17 11l-16 1l-17 7l-16 15l-17 4l-16 5zM3568 1073l17-38l16-9l17-19l16 3l17-14l-19-8l-17 18l-16 6l-16 11l-17 3l-16 3z"/>
<path class="c27" d="M4046 804l17-27l-19-25l-17 12zM3651 996l16-13l17-17l-19 5l-17 1l-16 16z"/>
<path class="c23" d="M3502 1134l17-12l-19-43l-16 27z"/>
<path class="c21" d="M3470 1179l16-19l-19-36l-16 24z"/>
<path class="c16" d="M4312 770l17-13l-19-7l-17 7z"/>
<path class="c17" d="M4296 766l16 4l-19-13l-16-15zM3472 1212l16 2l17-25l-19-29l-16 19l-17 21z"/>
<path class="c18" d="M4279 772l17-6l-19-24l-17 20z"/>
<path class="c19" d="M4263 756l16 16l-19-10l-16 0zM3505 1189l16-19l-19-36l-16 26z"/>
<path class="c20" d="M4246 762l17-6l-19 6l-17-2z"/>
<path class="c21" d="M4230 760l16 2l-19-2l-16 3zM3521 1170l17-27l16-6l-19-30l-16 15l-17 12z"/>
<path class="c23" d="M4213 755l17 5l-19 3l-17-26zM3571 1110l16-19l-19-18l-16 16z"/>
<path class="c24" d="M4197 760l16-5l-19-18l-16 5z"/>
<path class="c25" d="M4098 783l16 21l17-17l16-16l17 3l16-16l17 2l-19-18l-16-10l-17 24l-16 0l-17 8l-16 6l-17 20zM4048 821l17-14l-19-3l-16 0zM3950 875l16-5l17-3l16-9l-19-33l-16 20l-17 21l-16-8zM3834 934l17-10l16-2l17-24l-19-6l-17 27l-16-4l-16 17zM3587 1091l17-21l-19-35l-17 38z"/>
<path class="c26" d="M4065 807l16-23l17-1l-19 7l-16-13l-17 27zM3999 858l17-35l16 3l16-5l-18-17l-17 8l-16-1l-17 14zM3884 898l16-9l17-15l16-5l17 6l-19-17l-17 12l-16 6l-17 7l-16 9zM3818 914l16 20l-18-2l-17-16zM3670 997l16 7l16-7l17-19l16-22l-18 9l-17 21l-16-20l-17 17l-16 13zM3604 1070l16-25l17-35l-19-3l-17 19l-16 9z"/>
<path class="c27" d="M3735 956l17-10l16-11l17-6l16-6l17-9l-19 2l-16 13l-17-6l-16 18l-17 16l-16 8zM3637 1010l16-5l17-8l-19-1l-17 14l-16-3z"/>
<path class="c22" d="M3554 1137l17-27l-19-21l-17 18z"/>
<path class="c17" d="M4314 767l17-14l16 3l-18 1l-17 13l-16-4zM3491 1207l16-14l17-15l-19 11l-17 25l-16-2z"/>
<path class="c18" d="M4298 765l16 2l-18-1l-17 6z"/>
<path class="c19" d="M4281 784l17-19l-19 7l-16-16zM3524 1178l16-20l-19 12l-16 19z"/>
<path class="c20" d="M4265 769l16 15l-18-28l-17 6zM3540 1158l17 4l16-31l-19 6l-16 6l-17 27z"/>
<path class="c21" d="M4249 784l16-15l-19-7l-16-2zM3573 1131l16-10l-18-11l-17 27z"/>
<path class="c22" d="M4232 773l17 11l-19-24l-17-5zM3589 1121l17-22l-19-8l-16 19z"/>
<path class="c24" d="M4199 766l17-8l16 15l-19-18l-16 5l-17-2zM4133 795l17 2l-19-10l-17 17zM4001 882l17-24l-19 0l-16 9zM3606 1099l16-30l-18 1l-17 21z"/>
<path class="c25" d="M4150 797l16-16l17-17l16 2l-19-8l-16 16l-17-3l-16 16zM4117 791l16 4l-19 9l-16-21zM4018 858l16-4l17-19l16-2l17 8l16-22l-19-35l-16 23l-17 14l-16 5l-16-3l-17 35zM3952 883l16-2l17-5l16 6l-18-15l-17 3l-16 5l-17-6zM3870 927l16-10l17 6l-19-25l-17 24l-16 2zM3622 1069l17-22l-19-2l-16 25z"/>
<path class="c26" d="M4100 819l17-28l-19-8l-17 1zM3903 923l16-23l16-11l17-6l-19-14l-16 5l-17 15l-16 9zM3837 933l16-7l17 1l-19-3l-17 10l-16-20zM3639 1047l16-10l17-2l16-9l17-16l16-15l17-16l-19-1l-17 19l-16 7l-16-7l-17 8l-16 5l-17 35z"/>
<path class="c27" d="M3738 979l16-30l17 18l16-21l17-8l16-8l17 3l-19-19l-17 9l-16 6l-17 6l-16 11l-17 10l-16 22z"/>
<path class="c19" d="M4333 765l17-24l16-1l-19 16l-16-3l-17 14zM3509 1193l17-4l-19 4l-16 14z"/>
<path class="c18" d="M4300 778l17 19l16-32l-19 2l-16-2l-17 19z"/>
<path class="c20" d="M4267 792l17 2l16-16l-19 6l-16-15l-16 15zM3526 1189l16-9l-18-2l-17 15z"/>
<path class="c21" d="M4251 794l16-2l-18-8l-17-11zM3542 1180l17-24l16 1l17-22l-19-4l-16 31l-17-4l-16 20z"/>
<path class="c22" d="M4234 800l17-6l-19-21l-16-15zM3592 1135l16-18l-19 4l-16 10z"/>
<path class="c24" d="M4218 777l16 23l-18-42l-17 8zM4020 880l17-3l-19-19l-17 24zM3625 1096l16-18l-19-9l-16 30z"/>
<path class="c25" d="M4037 877l16-24l17 3l16-21l17-15l16-6l16 1l17-5l16-13l17-13l16 11l17-18l-19-11l-16-2l-17 17l-16 16l-17-2l-16-4l-17 28l-16 22l-17-8l-16 2l-17 19l-16 4zM3987 873l17 9l16-2l-19 2l-16-6l-17 5zM3921 920l17-1l16-11l17-10l-19-15l-17 6l-16 11l-16 23zM3641 1078l17-17l-19-14l-17 22z"/>
<path class="c26" d="M3971 898l16-25l-19 8l-16 2zM3888 916l17 0l16 4l-18 3l-17-6l-16 10zM3658 1061l16-15l17-23l16 9l17-4l16-19l17-19l-19-11l-17 16l-16 15l-17 16l-16 9l-17 2l-16 10z"/>
<path class="c27" d="M3839 926l16 0l17-10l16 0l-18 11l-17-1l-16 7l-17-3zM3790 949l16 3l16-13l-18-1l-17 8l-16 21zM3757 990l16-23l-19-18l-16 30z"/>
<path class="c28" d="M3822 939l17-13l-19 4l-16 8zM3773 967l17-18l-19 18l-17-18z"/>
<path class="c23" d="M3608 1117l17-21l-19 3l-17 22z"/>
<path class="c21" d="M4368 750l17-22l-19 12l-16 1zM3528 1203l17-14l16-15l17-11l16 0l17-20l-19-8l-17 22l-16-1l-17 24l-16 9l-17 4z"/>
<path class="c20" d="M4352 764l16-14l-18-9l-17 24zM4270 814l16-15l17 0l16-16l-19-5l-16 16l-17-2l-16 2z"/>
<path class="c19" d="M4319 783l17-9l16-10l-19 1l-16 32l-17-19z"/>
<path class="c22" d="M4253 781l17 33l-19-20l-17 6zM3611 1143l16-7l-19-19l-16 18z"/>
<path class="c23" d="M4237 794l16-13l-19 19l-16-23zM3627 1136l17-34l-19-6l-17 21z"/>
<path class="c24" d="M4204 802l16-5l17-3l-19-17l-17 18l-16-11zM4055 889l17-6l-19-30l-16 24z"/>
<path class="c25" d="M4138 830l16-15l17-9l16-12l17 8l-19-18l-17 13l-16 13l-17 5l-16-1zM4072 883l16-21l17-19l-19-8l-16 21l-17-3zM4006 894l16 6l17-29l16 18l-18-12l-17 3l-16 2l-17-9zM3940 926l17 0l16 3l17-27l-19-4l-17 10l-16 11l-17 1zM3726 1045l16-9l17-7l-19-20l-16 19l-17 4zM3644 1102l16-12l16-16l-18-13l-17 17l-16 18z"/>
<path class="c26" d="M4105 843l16-20l17 7l-19-16l-16 6l-17 15zM3990 902l16-8l-19-21l-16 25zM3924 913l16 13l-19-6l-16-4zM3759 1029l16-44l-18 5l-17 19zM3676 1074l17-23l16-10l17 4l-19-13l-16-9l-17 23l-16 15z"/>
<path class="c27" d="M3907 905l17 8l-19 3l-17 0zM3825 960l16-8l-19-13l-16 13zM3775 985l17-17l-19-1l-16 23z"/>
<path class="c28" d="M3841 952l17-10l16-6l17-35l16 4l-19 11l-16 0l-17 10l-16 0l-17 13zM3792 968l16-7l17-1l-19-8l-16-3l-17 18z"/>
<path class="c22" d="M4371 750l16-21l17 8l-19-9l-17 22l-16 14zM4272 790l16 13l-18 11l-17-33zM3613 1170l16-28l17 1l-19-7l-16 7l-17 20z"/>
<path class="c21" d="M4288 803l17-6l16-11l17-16l16-3l17-17l-19 14l-16 10l-17 9l-16 16l-17 0l-16 15zM3563 1206l17-26l16-1l17-9l-19-7l-16 0l-17 11l-16 15z"/>
<path class="c24" d="M4239 801l16-5l17-6l-19-9l-16 13l-17 3zM4074 899l17-25l16-3l-19-9l-16 21l-17 6z"/>
<path class="c25" d="M4206 804l17-15l16 12l-19-4l-16 5l-17-8zM4107 871l17-19l-19-9l-17 19zM4025 891l16 6l17-8l16 10l-19-10l-16-18l-17 29l-16-6zM3959 924l16 13l17-27l16-5l-18-3l-17 27l-16-3l-17 0zM3745 1037l16 9l-19-10l-16 9zM3662 1103l17-12l16-36l-19 19l-16 16l-16 12z"/>
<path class="c26" d="M4124 852l16-21l17-11l16-9l17-16l16 9l-19-10l-16 12l-17 9l-16 15l-17-7l-16 20zM4008 905l17-14l-19 3l-16 8zM3942 923l17 1l-19 2l-16-13zM3761 1046l17-37l-19 20l-17 7zM3695 1055l17 0l16-25l17 7l-19 8l-17-4l-16 10l-17 23z"/>
<path class="c28" d="M3926 914l16 9l-18-10l-17-8zM3877 955l16-29l16-10l-18-15l-17 35l-16 6zM3811 988l16-22l17-9l16 3l-19-8l-16 8l-17 1l-16 7z"/>
<path class="c29" d="M3909 916l17-2l-19-9l-16-4z"/>
<path class="c27" d="M3860 960l17-5l-19-13l-17 10zM3778 1009l16-11l17-10l-19-20l-17 17l-16 44z"/>
<path class="c23" d="M3646 1143l16-40l-18-1l-17 34z"/>
<path class="c20" d="M3547 1214l16-8l-18-17l-17 14z"/>
<path class="c24" d="M4390 745l16-12l17-18l-19 22l-17-8l-16 21zM4274 787l17 7l-19-4l-17 6zM3665 1136l16-21l-19-12l-16 40z"/>
<path class="c23" d="M4324 790l16-26l17 1l16-27l17 7l-19 5l-17 17l-16 3l-17 16l-16 11zM4291 794l16 4l-19 5l-16-13z"/>
<path class="c22" d="M4307 798l17-8l-19 7l-17 6zM3648 1168l17-32l-19 7l-17-1z"/>
<path class="c25" d="M4258 782l16 5l-19 9l-16 5zM4077 879l16-3l16 5l17-28l16-5l-18 4l-17 19l-16 3l-17 25l-16-10zM3681 1115l17-16l-19-8l-17 12z"/>
<path class="c26" d="M4225 789l16-4l17-3l-19 19l-16-12l-17 15zM4142 848l17-11l16-12l17-23l-19 9l-16 9l-17 11l-16 21zM3978 933l16-17l17-3l16-10l17-2l16-10l17-12l-19 10l-17 8l-16-6l-17 14l-16 5l-17 27l-16-13zM3763 1047l17-1l16-30l-18-7l-17 37l-16-9zM3698 1099l16-39l-19-5l-16 36z"/>
<path class="c27" d="M4192 802l16-11l17-2l-19 15l-16-9l-17 16zM3928 955l17-12l16-20l17 10l-19-9l-17-1l-16-9l-17 2zM3879 973l16-13l-18-5l-17 5zM3796 1016l17-9l16-24l-18 5l-17 10l-16 11zM3714 1060l17-14l16-11l16 12l-18-10l-17-7l-16 25l-17 0z"/>
<path class="c28" d="M3895 960l17-11l16 6l-19-39l-16 10l-16 29zM3829 983l17-4l16-12l17 6l-19-13l-16-3l-17 9l-16 22z"/>
<path class="c21" d="M3632 1196l16-28l-19-26l-16 28zM3599 1211l16-15l-19-17l-16 1z"/>
<path class="c20" d="M3615 1196l17 0l-19-26l-17 9zM3582 1226l17-15l-19-31l-17 26z"/>
<path class="c19" d="M3566 1241l16-15l-19-20l-16 8z"/>
<path class="c25" d="M4425 730l16-9l-18-6l-17 18zM4359 763l16-15l17-12l16 8l-18 1l-17-7l-16 27l-17-1zM4293 779l17 6l16-9l-19 22l-16-4l-17-7zM3700 1114l16-29l-18 14l-17 16z"/>
<path class="c24" d="M4408 744l17-14l-19 3l-16 12zM4326 776l16 3l17-16l-19 1l-16 26l-17 8zM3683 1136l17-22l-19 1l-16 21z"/>
<path class="c26" d="M4277 772l16 7l-19 8l-16-5zM4062 898l17-11l16-7l17-11l16 2l17-16l16-14l17-8l-19 4l-17 11l-16 5l-17 28l-16-5l-16 3l-17 12l-16 10zM3782 1046l17-6l16-10l-19-14l-16 30l-17 1z"/>
<path class="c27" d="M4244 774l16 9l17-11l-19 10l-17 3l-16 4zM4178 833l16-14l17-31l-19 14l-17 23l-16 12zM4029 883l17 2l16 13l-18 3l-17 2l-16 10zM3931 950l16-7l17-25l-19 25l-17 12l-16-6zM3815 1030l17-17l-19-6l-17 9zM3766 1028l16 18l-19 1l-16-12zM3716 1085l17-32l-19 7l-16 39z"/>
<path class="c28" d="M4211 788l16-16l17 2l-19 15l-17 2l-16 11zM3964 918l16-12l16-14l17-7l16-2l-18 30l-17 3l-16 17l-17-10l-16 20zM3832 1013l16-24l17 3l16-15l17-12l16-10l17-5l-19-1l-17 11l-16 13l-17-6l-16 12l-17 4l-16 24zM3733 1053l16-5l17-20l-19 7l-16 11l-17 14z"/>
<path class="c23" d="M3667 1162l16-26l-18 0l-17 32z"/>
<path class="c21" d="M3650 1197l17-35l-19 6l-16 28z"/>
<path class="c19" d="M3618 1240l16-31l16-12l-18-1l-17 0l-16 15z"/>
<path class="c17" d="M3601 1262l17-22l-19-29l-17 15z"/>
<path class="c16" d="M3585 1263l16-1l-19-36l-16 15z"/>
<path class="c25" d="M4427 736l17-2l16 3l-19-16l-16 9l-17 14zM3702 1152l17-39l-19 1l-17 22z"/>
<path class="c26" d="M4312 772l16 1l17-8l16-4l17-10l16 0l17-12l16-3l-19 8l-16-8l-17 12l-16 15l-17 16l-16-3l-16 9l-17-6zM3719 1113l16-21l-19-7l-16 29z"/>
<path class="c27" d="M4279 775l16 13l17-16l-19 7l-16-7l-17 11zM4131 867l16-14l17 0l16-16l16-16l-18 12l-17 8l-16 14l-17 16l-16-2zM3785 1055l16-3l17 0l16-19l16-13l-18-7l-17 17l-16 10l-17 6l-16-18zM3735 1092l17-28l-19-11l-17 32z"/>
<path class="c28" d="M4262 782l17-7l-19 8l-16-9zM4196 821l17-6l16-19l-18-8l-17 31l-16 14zM4098 850l16-1l17 18l-19 2l-17 11l-16 7zM4080 867l8 1l-9 19l-8 5zM4072 865l8 2l-9 25l-9 6zM4064 859l8 6l-10 33l-8-7zM3850 1020l17-11l16-9l17-13l16-23l-18 1l-17 12l-16 15l-17-3l-16 24zM3752 1064l16-3l17-6l-19-27l-17 20l-16 5z"/>
<path class="c29" d="M4229 796l17-10l16-4l-18-8l-17-2l-16 16zM4055 852l9 7l-10 32l-8-6zM3956 911l9-13l-10 32l-8 13zM3948 918l8-7l-9 32l-8 4zM3940 924l8-6l-9 29l-8 3zM3932 931l8-7l-9 26l-9 3zM3923 937l9-6l-10 22l-8 2zM3916 964l17-45l-19 36l-16 10z"/>
<path class="c30" d="M4089 841l9 9l-10 18l-8-1zM4081 833l8 8l-9 26l-8-2zM4047 850l8 2l-9 33l-8-1zM4039 847l8 3l-9 34l-9-1zM3973 885l8-6l-9 33l-8 6zM3965 898l8-13l-9 33l-9 12z"/>
<path class="c31" d="M4073 826l8 7l-9 32l-8-6zM4031 847l8 0l-10 36l-8 1zM4022 847l9 0l-10 37l-8 1zM4014 851l8-4l-9 38l-8 3zM4006 855l8-4l-9 37l-9 4zM3998 865l8-10l-10 37l-8 7zM3989 874l9-9l-10 34l-8 7zM3981 879l8-5l-9 32l-8 6zM3949 898l9-10l-10 30l-8 6zM3941 908l8-10l-9 26l-8 7zM3933 919l8-11l-9 23l-9 6z"/>
<path class="c32" d="M4065 820l8 6l-9 33l-9-7zM4056 815l9 5l-10 32l-8-2zM3966 879l8-14l-9 33l-9 13zM3958 888l8-9l-10 32l-8 7z"/>
<path class="c33" d="M4048 810l8 5l-9 35l-8-3zM4040 810l8 0l-9 37l-8 0zM3999 842l8-11l-9 34l-9 9zM3991 847l8-5l-10 32l-8 5zM3982 852l9-5l-10 32l-8 6zM3974 865l8-13l-9 33l-8 13z"/>
<path class="c34" d="M4032 809l8 1l-9 37l-9 0zM4023 814l9-5l-10 38l-8 4zM4015 819l8-5l-9 37l-8 4zM4007 831l8-12l-9 36l-8 10z"/>
<path class="c23" d="M3686 1157l16-5l-19-16l-16 26z"/>
<path class="c21" d="M3669 1202l17-45l-19 5l-17 35z"/>
<path class="c19" d="M3653 1223l16-21l-19-5l-16 12z"/>
<path class="c17" d="M3636 1255l17-32l-19-14l-16 31z"/>
<path class="c15" d="M3620 1272l16-17l-18-15l-17 22z"/>
<path class="c14" d="M3603 1289l17-17l-19-10l-16 1z"/>
<path class="c25" d="M4446 746l16 6l17-12l-19-3l-16-3l-17 2z"/>
<path class="c26" d="M4413 737l16 18l17-9l-19-10l-16 3l-17 12zM3820 1066l16-9l-18-5l-17 0zM3737 1133l17-21l-19-20l-16 21z"/>
<path class="c27" d="M4347 770l17-28l16 7l17-5l16-7l-19 14l-16 0l-17 10l-16 4l-17 8zM3836 1057l17-24l16-9l17 0l-19-15l-17 11l-16 13l-16 19zM3754 1112l16-24l17-15l16-2l17-5l-19-14l-16 3l-17 6l-16 3l-17 28z"/>
<path class="c28" d="M4281 798l17-14l16-22l17 1l16 7l-19 3l-16-1l-17 16l-16-13l-17 7zM4166 836l16 1l17-7l16-4l-19-5l-16 16l-16 16l-17 0zM3893 993l8-15l-9 16l-9 6zM3886 1024l16-37l-19 13l-16 9z"/>
<path class="c29" d="M4215 826l17-19l16-2l17-21l16 14l-19-16l-16 4l-17 10l-16 19l-17 6zM4149 827l17 9l-19 17l-16 14zM4132 837l8 10l-9 20l-9-9zM3909 963l9-16l-10 28l-8 12zM3901 978l8-15l-9 24l-8 7zM3902 987l8-25l-9 16l-8 15z"/>
<path class="c30" d="M4124 826l8 11l-10 21l-8-9zM3923 942l5-15l-6 22l-6 15zM3918 947l8-16l-10 33l-8 11zM3910 962l9-24l-10 25l-8 15z"/>
<path class="c31" d="M4141 815l8 12l-9 20l-8-10zM4115 823l9 3l-10 23l-8 1zM4107 821l8 2l-9 27l-8 0zM3928 927l6-16l-7 23l-5 15zM3919 938l8-19l-9 28l-9 16z"/>
<path class="c32" d="M4133 803l8 12l-9 22l-8-11zM4099 810l8 11l-9 29l-9-9zM3934 911l5-16l-6 24l-6 15zM3929 921l5-17l-6 23l-5 15zM3927 919l8-20l-9 32l-8 16z"/>
<path class="c33" d="M4125 797l8 6l-9 23l-9-3zM4116 791l9 6l-10 26l-8-2zM4091 799l8 11l-10 31l-8-8zM4082 795l9 4l-10 34l-8-7zM3956 872l5-8l-6 27l-6 7zM3951 872l8-12l-10 38l-8 10zM3942 883l9-11l-10 36l-8 11zM3934 904l6-16l-6 23l-6 16zM3935 899l6-17l-7 22l-5 17z"/>
<path class="c34" d="M4108 778l8 13l-9 30l-8-11zM4074 791l8 4l-9 31l-8-6zM3972 846l6-9l-7 33l-5 9zM3967 855l5-9l-6 33l-6 6zM3961 864l6-9l-7 30l-5 6zM3940 888l5-16l-6 23l-5 16zM3941 882l5-17l-6 23l-6 16z"/>
<path class="c35" d="M4100 766l8 12l-9 32l-8-11zM4092 764l8 2l-9 33l-9-4zM4066 783l8 8l-9 29l-9-5zM4058 776l8 7l-10 32l-8-5zM4011 804l5-7l-6 30l-6 7zM4005 810l6-6l-7 30l-5 8zM4000 799l8-4l-9 47l-8 5zM3992 804l8-5l-9 48l-9 5zM3983 829l6-9l-7 32l-5 9zM3978 837l5-8l-6 32l-6 9zM3967 836l6-12l-6 31l-6 9zM3962 847l5-11l-6 28l-5 8zM3952 848l8-13l-9 37l-9 11zM3946 865l6-17l-7 24l-5 16z"/>
<path class="c36" d="M4083 761l9 3l-10 31l-8-4zM4075 751l8 10l-9 30l-8-8zM4049 773l9 3l-10 34l-8 0zM4041 771l8 2l-9 37l-8-1zM4033 774l8-3l-9 38l-9 5zM4025 777l8-3l-10 40l-8 5zM4016 797l6-6l-7 28l-5 8zM3984 805l5-8l-6 32l-5 8zM3978 813l6-8l-6 32l-6 9zM3973 824l5-11l-6 33l-5 9zM3968 822l6-14l-7 28l-5 11zM3960 835l8-13l-9 38l-8 12z"/>
<path class="c37" d="M4067 741l8 10l-9 32l-8-7zM4059 737l8 4l-9 35l-9-3zM4022 768l6-6l-6 29l-6 6zM4017 773l5-5l-6 29l-5 7zM4011 779l6-6l-6 31l-6 6zM3989 797l6-9l-6 32l-6 9zM3979 794l6-14l-7 33l-5 11zM3974 808l5-14l-6 30l-6 12z"/>
<path class="c38" d="M4051 733l8 4l-10 36l-8-2zM4042 733l9 0l-10 38l-8 3zM4034 734l8-1l-9 41l-8 3zM4018 747l5-4l-6 30l-6 6zM4009 752l9-5l-10 48l-8 4zM4001 757l8-5l-9 47l-8 5zM3996 765l5-8l-6 31l-6 9zM3990 772l6-7l-7 32l-5 8zM3985 780l5-8l-6 33l-6 8z"/>
<path class="c39" d="M4029 738l5-4l-6 28l-6 6zM4023 743l6-5l-7 30l-5 5z"/>
<path class="c24" d="M3721 1161l16-28l-18-20l-17 39z"/>
<path class="c23" d="M3705 1171l16-10l-19-9l-16 5z"/>
<path class="c22" d="M3688 1213l17-42l-19-14l-17 45z"/>
<path class="c20" d="M3672 1207l16 6l-19-11l-16 21z"/>
<path class="c18" d="M3655 1256l17-49l-19 16l-17 32z"/>
<path class="c15" d="M3639 1283l16-27l-19-1l-16 17z"/>
<path class="c14" d="M3622 1308l17-25l-19-11l-17 17z"/>
<path class="c25" d="M4465 745l16 8l17-2l-19-11l-17 12l-16-6zM3740 1158l16-31l-19 6l-16 28z"/>
<path class="c26" d="M4448 752l17-7l-19 1l-17 9zM3839 1066l16 4l-19-13l-16 9zM3756 1127l17-19l16 2l17-19l-19-18l-17 15l-16 24l-17 21z"/>
<path class="c27" d="M4432 726l16 26l-19 3l-16-18zM3855 1070l17-26l16-4l-19-16l-16 9l-17 24zM3806 1091l16-21l17-4l-19 0l-17 5l-16 2z"/>
<path class="c28" d="M4399 732l16 0l17-6l-19 11l-16 7l-17 5zM4283 814l17-14l-19-2l-16-14zM3895 1011l8-26l-9 20l-8 19zM3888 1040l17-43l-19 27l-17 0z"/>
<path class="c29" d="M4300 800l16-23l17 6l16-18l17-10l16-18l17-5l-19 17l-16-7l-17 28l-16-7l-17-1l-16 22l-17 14zM4201 829l17 4l16 4l17-13l16 0l16-10l-18-30l-17 21l-16 2l-17 19l-16 4l-17 7zM3903 985l9-25l-10 27l-8 18z"/>
<path class="c30" d="M4185 830l16-1l-19 8l-16-1zM3909 969l5-17l-6 18l-6 17zM3905 997l8-32l-10 20l-8 26z"/>
<path class="c31" d="M4168 800l17 30l-19 6l-17-9zM3914 952l5-18l-6 20l-5 16zM3913 965l8-32l-9 27l-9 25z"/>
<path class="c32" d="M4151 797l8 16l-10 14l-8-12zM3919 934l6-17l-6 21l-6 16zM3915 951l5-18l-6 19l-5 17z"/>
<path class="c33" d="M4142 781l9 16l-10 18l-8-12zM4160 779l8 21l-9 13l-8-16zM3925 917l5-16l-6 24l-5 13zM3920 933l6-19l-7 20l-5 18zM3921 933l6-19l-7 19l-5 18z"/>
<path class="c35" d="M4152 758l8 21l-9 18l-9-16zM4126 757l8 12l-9 28l-9-6zM4117 760l6 8l-7 23l-5-8zM3941 869l6-16l-6 29l-6 17zM3937 877l5-19l-6 27l-6 16zM3931 896l6-19l-7 24l-5 16zM3932 894l6-19l-7 21l-5 18z"/>
<path class="c34" d="M4134 769l8 12l-9 22l-8-6zM3936 885l5-16l-6 30l-5 13zM3930 901l6-16l-6 27l-6 13zM3926 914l5-18l-6 21l-6 17zM3927 914l5-20l-6 20l-6 19z"/>
<path class="c36" d="M4143 740l9 18l-10 23l-8-12zM4112 753l5 7l-6 23l-6-9zM4106 745l6 8l-7 21l-5-8zM3952 837l6-16l-6 27l-6 17zM3947 853l5-16l-6 28l-5 17zM3942 858l6-19l-7 30l-5 16zM3938 875l5-22l-6 24l-6 19z"/>
<path class="c37" d="M4135 723l8 17l-9 29l-8-12zM4123 738l6 7l-6 23l-6-8zM4118 731l5 7l-6 22l-5-7zM4101 730l8 5l-9 31l-8-2zM3963 810l6-11l-6 31l-6 9zM3958 821l5-11l-6 29l-5 9zM3953 825l6-15l-7 27l-5 16zM3948 839l5-14l-6 28l-6 16zM3948 831l6-21l-6 29l-6 19zM3943 853l5-22l-6 27l-5 19z"/>
<path class="c38" d="M4112 724l6 7l-6 22l-6-8zM4130 716l5 7l-6 22l-6-7zM4124 710l6 6l-7 22l-5-7zM4093 725l8 5l-9 34l-9-3zM4085 718l8 7l-10 36l-8-10zM3974 788l6-13l-6 33l-6 14zM3969 799l5-11l-6 34l-5 8zM3964 795l6-14l-7 29l-5 11zM3959 810l5-15l-6 26l-6 16zM3954 810l5-14l-6 29l-5 14z"/>
<path class="c39" d="M4119 703l5 7l-6 21l-6-7zM4111 696l8 7l-10 32l-8-5zM4076 711l9 7l-10 33l-8-10zM4068 709l8 2l-9 30l-8-4zM3985 763l6-13l-6 30l-6 14zM3980 775l5-12l-6 31l-5 14zM3970 781l5-14l-6 32l-6 11zM3965 782l5-14l-6 27l-5 15zM3959 796l6-14l-6 28l-6 15z"/>
<path class="c40" d="M4102 688l9 8l-10 34l-8-5zM4094 685l8 3l-9 37l-8-7zM4060 707l8 2l-9 28l-8-4zM4052 706l8 1l-9 26l-9 0zM4043 706l9 0l-10 27l-8 1zM4035 710l8-4l-9 28l-8 7zM4027 715l8-5l-9 31l-8 6zM4019 719l8-4l-9 32l-9 5zM4010 723l9-4l-10 33l-8 5zM4002 729l8-6l-9 34l-8 11zM3994 735l8-6l-9 39l-8 12zM3981 753l5-11l-6 33l-6 13zM3975 767l6-14l-7 35l-5 11zM3970 768l6-16l-6 29l-6 14z"/>
<path class="c41" d="M4086 681l8 4l-9 33l-9-7zM4078 681l8 0l-10 30l-8-2zM4069 682l9-1l-10 28l-8-2zM3992 731l5-11l-6 30l-6 13zM3986 742l6-11l-7 32l-5 12zM3981 735l6-16l-6 34l-6 14zM3976 752l5-17l-6 32l-5 14z"/>
<path class="c42" d="M4061 679l8 3l-9 25l-8-1zM4053 677l8 2l-9 27l-9 0zM4045 680l8-3l-10 29l-8 4zM4036 682l9-2l-10 30l-8 5zM4028 685l8-3l-9 33l-8 4zM4020 688l8-3l-9 34l-9 4zM4012 689l8-1l-10 35l-8 6zM4003 691l9-2l-10 40l-8 6zM3992 709l6-9l-6 31l-6 11zM3987 719l5-10l-6 33l-5 11z"/>
<path class="c43" d="M3998 700l5-9l-6 29l-5 11z"/>
<path class="c23" d="M3723 1175l17-17l-19 3l-16 10z"/>
<path class="c22" d="M3707 1199l16-24l-18-4l-17 42z"/>
<path class="c21" d="M3690 1221l17-22l-19 14l-16-6z"/>
<path class="c19" d="M3674 1253l16-32l-18-14l-17 49z"/>
<path class="c16" d="M3657 1285l17-32l-19 3l-16 27z"/>
<path class="c14" d="M3641 1296l16-11l-18-2l-17 25z"/>
<path class="c25" d="M4484 769l16-1l16-11l-18-6l-17 2l-16-8zM3759 1160l16-27l-19-6l-16 31z"/>
<path class="c26" d="M4467 746l17 23l-19-24l-17 7zM3775 1133l17-23l16-8l16-2l-18-9l-17 19l-16-2l-17 19z"/>
<path class="c27" d="M4451 749l16-3l-19 6l-16-26zM3824 1100l17-17l16-4l17-18l16-9l-18-8l-17 26l-16-4l-17 4l-16 21z"/>
<path class="c29" d="M4418 732l16 5l17 12l-19-23l-17 6l-16 0zM4385 755l16 5l-19-23l-16 18zM4319 812l16-16l17-17l16-25l-19 11l-16 18l-17-6l-16 23zM4236 835l17-2l16 2l-18-11l-17 13l-16-4zM3900 1010l5-17l-6 19l-5 14zM3901 1014l5-19l-6 15l-6 17z"/>
<path class="c30" d="M4401 760l17-28l-19 0l-17 5zM4368 754l17 1l-19 0l-17 10zM4220 833l16 2l-18-2l-17-4zM3905 993l6-17l-6 21l-6 15zM3906 995l6-20l-7 18l-5 17zM3907 1001l5-22l-6 16l-5 19z"/>
<path class="c28" d="M4269 835l17-2l16-24l17 3l-19-12l-17 14l-16 10l-16 0zM3894 1027l6-17l-6 16l-6 14zM3890 1052l17-51l-19 39l-16 4z"/>
<path class="c31" d="M4203 821l17 12l-19-4l-16 1zM3911 976l5-22l-6 22l-5 21zM3912 975l5-20l-6 21l-6 17z"/>
<path class="c32" d="M4186 807l8 18l-9 5l-9-15zM4195 800l8 21l-9 4l-8-18zM3916 954l6-21l-6 22l-6 21zM3912 979l6-23l-6 19l-6 20z"/>
<path class="c33" d="M4178 789l8 18l-10 8l-8-15zM3922 933l5-22l-6 22l-5 22zM3917 955l6-22l-7 21l-5 22zM3918 956l5-22l-6 21l-5 20z"/>
<path class="c34" d="M4187 779l8 21l-9 7l-8-18zM3923 933l5-22l-6 22l-6 21zM3923 934l6-23l-6 22l-6 22z"/>
<path class="c35" d="M4169 767l9 22l-10 11l-8-21zM4179 756l8 23l-9 10l-9-22zM3933 890l5-21l-6 25l-5 20zM3927 911l6-21l-6 24l-6 19zM3928 911l6-23l-7 23l-5 22zM3929 911l5-22l-6 22l-5 22z"/>
<path class="c36" d="M4161 745l8 22l-9 12l-8-21zM3938 869l6-21l-6 27l-6 19zM3934 888l5-22l-6 24l-6 21zM3934 889l6-23l-6 22l-6 23z"/>
<path class="c37" d="M4170 732l9 24l-10 11l-8-22zM4153 726l8 19l-9 13l-9-18zM3944 848l5-19l-6 24l-5 22zM3939 866l6-23l-7 26l-5 21zM3940 866l5-24l-6 24l-5 22z"/>
<path class="c38" d="M4145 707l8 19l-10 14l-8-17zM4162 712l8 20l-9 13l-8-19zM3949 829l6-20l-7 22l-5 22zM3945 843l5-22l-6 27l-6 21zM3945 842l6-24l-6 25l-6 23z"/>
<path class="c39" d="M4154 692l8 20l-9 14l-8-19zM4136 694l9 13l-10 16l-8-10zM3955 809l5-19l-6 20l-6 21zM3956 804l5-17l-6 22l-6 20zM3950 821l6-17l-7 25l-5 19zM3951 818l5-24l-6 27l-5 22z"/>
<path class="c40" d="M4128 680l8 14l-9 19l-8-10zM4146 674l8 18l-9 15l-9-13zM3963 780l9-20l-10 29l-8 21zM3961 787l6-16l-7 19l-5 19zM3956 794l6-14l-6 24l-6 17z"/>
<path class="c41" d="M4138 656l8 18l-10 20l-8-14zM4120 676l8 4l-9 23l-8-7zM4112 672l8 4l-9 20l-9-8zM3972 760l8-20l-10 28l-8 21zM3967 765l6-14l-6 20l-6 16zM3962 780l5-15l-6 22l-5 17z"/>
<path class="c42" d="M4129 656l9 0l-10 24l-8-4zM4121 656l8 0l-9 20l-8-4zM4105 649l16 7l-19 32l-16-7zM3980 740l8-19l-9 23l-9 24zM3973 751l8-19l-9 28l-9 20z"/>
<path class="c43" d="M4055 664l17 8l16-12l17-11l-19 32l-17 1l-16-5l-17 5zM3988 721l8-19l-9 17l-8 25zM3989 712l8-14l-9 23l-8 19zM3981 732l8-20l-9 28l-8 20z"/>
<path class="c44" d="M4006 685l16-22l17 1l16 0l-19 18l-16 6l-17 3l-16 28zM3997 698l9-13l-10 17l-8 19z"/>
<path class="c24" d="M3742 1169l17-9l-19-2l-17 17z"/>
<path class="c23" d="M3726 1207l16-38l-19 6l-16 24z"/>
<path class="c21" d="M3709 1221l17-14l-19-8l-17 22z"/>
<path class="c20" d="M3693 1245l16-24l-19 0l-16 32z"/>
<path class="c17" d="M3676 1285l17-40l-19 8l-17 32z"/>
<path class="c15" d="M3660 1307l16-22l-19 0l-16 11z"/>
<path class="c25" d="M4502 756l17 12l16-11l-19 0l-16 11l-16 1zM3761 1178l16-24l-18 6l-17 9z"/>
<path class="c26" d="M4486 759l16-3l-18 13l-17-23zM3777 1154l17-19l16-4l17-4l16-23l-19-4l-16 2l-16 8l-17 23l-16 27z"/>
<path class="c27" d="M4469 752l17 7l-19-13l-16 3zM3843 1104l17-3l16-24l17-11l-19-5l-17 18l-16 4l-17 17z"/>
<path class="c28" d="M4453 750l16 2l-18-3l-17-12zM4288 837l17 2l16-7l17-18l16 2l-19-20l-16 16l-17-3l-16 24l-17 2zM3893 1066l16-47l-19 33l-16 9z"/>
<path class="c29" d="M4436 740l17 10l-19-13l-16-5zM4403 766l17-5l-19-1l-16-5zM4354 816l17-20l16-9l-19-33l-16 25l-17 17zM4255 848l17 1l16-12l-19-2l-16-2l-17 2zM3900 1035l8-29l-9 21l-9 25z"/>
<path class="c30" d="M4420 761l16-21l-18-8l-17 28zM4387 787l16-21l-18-11l-17-1zM4239 847l16 1l-19-13l-16-2zM3908 1006l8-29l-9 24l-8 26zM3909 1019l8-33l-9 20l-8 29z"/>
<path class="c31" d="M4222 813l17 34l-19-14l-17-12z"/>
<path class="c33" d="M4205 794l8 23l-10 4l-8-21zM3919 961l5-24l-6 19l-6 23zM3919 969l6-25l-6 17l-6 24z"/>
<path class="c35" d="M4196 771l9 23l-10 6l-8-21zM4206 763l8 25l-9 6l-9-23zM3930 913l5-23l-6 21l-6 23zM3930 918l6-26l-6 21l-6 24zM3931 926l6-28l-7 20l-5 26z"/>
<path class="c34" d="M4214 788l8 25l-9 4l-8-23zM3924 937l6-24l-7 21l-5 22zM3925 944l5-26l-6 19l-5 24zM3926 953l5-27l-6 18l-6 25z"/>
<path class="c36" d="M4188 744l8 27l-9 8l-8-23zM3935 890l6-23l-7 22l-5 22z"/>
<path class="c37" d="M4180 716l8 28l-9 12l-9-24zM4198 732l8 31l-10 8l-8-27zM3941 867l5-23l-6 22l-6 23zM3941 868l6-23l-6 22l-6 23zM3936 892l5-24l-6 22l-5 23zM3937 898l5-27l-6 21l-6 26z"/>
<path class="c38" d="M4189 700l9 32l-10 12l-8-28zM3946 844l6-21l-7 19l-5 24zM3942 871l6-24l-7 21l-5 24z"/>
<path class="c39" d="M4172 699l8 17l-10 16l-8-20zM3952 823l5-21l-6 16l-6 24zM3947 845l5-24l-6 23l-5 23zM3948 847l5-24l-6 22l-6 23z"/>
<path class="c40" d="M4163 681l9 18l-10 13l-8-20zM4181 685l8 15l-9 16l-8-17zM3957 802l6-21l-7 13l-5 24zM3952 821l6-18l-6 20l-6 21zM3953 823l6-24l-7 22l-5 24z"/>
<path class="c41" d="M4173 670l8 15l-9 14l-9-18zM3963 785l6-18l-6 14l-6 21zM3958 803l5-18l-6 17l-5 21zM3959 799l5-15l-6 19l-6 18z"/>
<path class="c42" d="M4156 654l17 16l-19 22l-16-36zM3974 756l8-18l-9 13l-8 22zM3966 774l8-18l-9 17l-9 21zM3970 769l5-15l-6 13l-6 18zM3964 784l6-15l-7 16l-5 18z"/>
<path class="c43" d="M4123 665l17-3l16-8l-18 2l-17 0l-16-7zM3992 726l16-11l-19-3l-16 39zM3983 740l9-14l-10 12l-8 18zM3975 754l8-14l-9 16l-8 18z"/>
<path class="c44" d="M4057 665l17 9l16-1l17-3l16-5l-18-16l-17 11l-16 12l-17-8l-16 0zM4008 715l17-19l16-26l-19-7l-16 22l-17 27z"/>
<path class="c45" d="M4041 670l16-5l-18-1l-17-1z"/>
<path class="c32" d="M3913 985l6-24l-7 18l-5 22zM3917 986l9-33l-10 24l-8 29z"/>
<path class="c23" d="M3744 1226l17-48l-19-9l-16 38z"/>
<path class="c21" d="M3728 1242l16-16l-18-19l-17 14z"/>
<path class="c20" d="M3711 1266l17-24l-19-21l-16 24z"/>
<path class="c18" d="M3695 1266l16 0l-18-21l-17 40z"/>
<path class="c16" d="M3679 1299l16-33l-19 19l-16 22z"/>
<path class="c25" d="M4538 769l16 4l-19-16l-16 11zM3796 1179l17-20l-19-24l-17 19z"/>
<path class="c26" d="M4521 771l17-2l-19-1l-17-12zM3813 1159l16-24l17-8l16-17l-19-6l-16 23l-17 4l-16 4z"/>
<path class="c27" d="M4488 760l17 2l16 9l-19-15l-16 3l-17-7zM3862 1110l17-8l16-2l-19-23l-16 24l-17 3z"/>
<path class="c28" d="M4472 759l16 1l-19-8l-16-2zM4323 838l17-8l16-5l-18-11l-17 18l-16 7zM3895 1100l16-58l-18 24l-17 11z"/>
<path class="c29" d="M4356 825l17-31l16 6l17-24l16 2l17-2l16-18l17 1l-19-9l-17-10l-16 21l-17 5l-16 21l-16 9l-17 20l-16-2zM4274 851l16-7l17-3l16-3l-18 1l-17-2l-16 12l-17-1zM3902 1054l8-28l-9 16l-8 24z"/>
<path class="c30" d="M4257 836l17 15l-19-3l-16-1zM3910 1026l9-28l-10 21l-8 23zM3911 1042l9-32l-10 16l-8 28z"/>
<path class="c32" d="M4241 810l16 26l-18 11l-17-34zM3915 1005l6-24l-6 16l-6 22zM3920 1010l8-32l-9 20l-9 28z"/>
<path class="c34" d="M4223 786l9 25l-10 2l-8-25zM4233 784l8 26l-9 1l-9-25zM3926 958l6-24l-6 19l-6 22zM3927 966l6-26l-7 18l-5 23zM3928 978l5-28l-6 16l-5 25z"/>
<path class="c36" d="M4215 761l8 25l-9 2l-8-25zM4225 758l8 26l-10 2l-8-25zM3937 907l6-26l-6 17l-6 28zM3938 915l6-26l-7 18l-5 27zM3939 923l5-28l-6 20l-5 25z"/>
<path class="c37" d="M4207 732l8 29l-9 2l-8-31zM4216 732l9 26l-10 3l-8-29zM3944 889l5-25l-6 17l-6 26zM3944 895l6-24l-6 18l-6 26z"/>
<path class="c39" d="M4199 703l8 29l-9 0l-9-32zM4208 705l8 27l-9 0l-8-29zM3952 846l8-28l-10 17l-8 36zM3949 864l6-26l-7 17l-5 26zM3950 871l5-25l-6 18l-5 25z"/>
<path class="c41" d="M4192 667l16 38l-19-5l-16-30zM3960 818l8-28l-9 9l-9 36zM3961 822l8-21l-9 17l-8 28z"/>
<path class="c43" d="M4126 679l16-3l17-7l16-7l17 5l-19 3l-17-16l-16 8l-17 3l-16 5zM3994 752l16-18l-18-8l-17 28z"/>
<path class="c44" d="M4010 734l17-7l16-20l17-24l16 9l17-16l16-9l17 12l-19-9l-17 3l-16 1l-17-9l-16 5l-16 26l-17 19l-16 11z"/>
<path class="c42" d="M3977 781l17-29l-19 2l-16 45zM3969 801l8-20l-9 9l-8 28z"/>
<path class="c38" d="M3943 881l5-26l-6 16l-5 27z"/>
<path class="c35" d="M3932 934l5-27l-6 19l-5 27zM3933 940l5-25l-6 19l-6 24zM3933 950l6-27l-6 17l-6 26z"/>
<path class="c40" d="M3955 846l6-24l-6 16l-6 26z"/>
<path class="c33" d="M3921 981l5-23l-6 17l-5 22zM3922 991l5-25l-6 15l-6 24z"/>
<path class="c24" d="M3780 1211l16-32l-19-25l-16 24z"/>
<path class="c22" d="M3763 1224l17-13l-19-33l-17 48z"/>
<path class="c21" d="M3747 1250l16-26l-19 2l-16 16z"/>
<path class="c19" d="M3714 1288l16-30l17-8l-19-8l-17 24l-16 0z"/>
<path class="c17" d="M3697 1323l17-35l-19-22l-16 33z"/>
<path class="c25" d="M4540 793l16 6l17-13l-19-13l-16-4l-17 2zM3815 1192l16-24l17-8l-19-25l-16 24l-17 20z"/>
<path class="c26" d="M4523 792l17 1l-19-22l-16-9zM3881 1121l16-2l-18-17l-17 8zM3848 1160l16-34l-18 1l-17 8z"/>
<path class="c27" d="M4507 786l16 6l-18-30l-17-2zM3897 1119l17-41l-19 22l-16 2zM3864 1126l17-5l-19-11l-16 17z"/>
<path class="c28" d="M4474 784l16-6l17 8l-19-26l-16-1l-17-1zM3904 1089l9-34l-10 16l-8 29z"/>
<path class="c29" d="M4441 786l17-9l16 7l-19-26l-16 18l-17 2zM4293 864l16-12l17-6l16-14l17-1l16-4l17-18l16-5l-19-4l-16-6l-17 31l-16 5l-17 8l-16 3l-17 3l-16 7zM3914 1078l8-39l-9 16l-9 34z"/>
<path class="c30" d="M4408 804l17-24l16 6l-19-8l-16-2l-17 24zM4276 846l17 18l-19-13l-17-15zM3913 1055l8-35l-10 22l-8 29z"/>
<path class="c32" d="M4260 814l16 32l-19-10l-16-26zM3923 1005l6-23l-7 17l-5 21zM3924 1013l6-24l-7 16l-5 22z"/>
<path class="c35" d="M4242 786l8 26l-9-2l-8-26zM4252 788l8 26l-10-2l-8-26zM3934 959l6-26l-7 17l-5 28zM3935 965l5-24l-6 18l-5 23zM3936 974l5-26l-6 17l-5 24z"/>
<path class="c36" d="M4234 760l8 26l-9-2l-8-26zM4243 761l9 27l-10-2l-8-26zM3940 933l5-26l-6 16l-6 27zM3940 941l6-24l-6 16l-6 26zM3941 948l6-25l-7 18l-5 24z"/>
<path class="c38" d="M4226 737l8 23l-9-2l-9-26zM4235 742l8 19l-9-1l-8-23zM3951 892l6-24l-6 13l-6 26zM3952 900l6-23l-7 15l-5 25z"/>
<path class="c39" d="M4217 714l9 23l-10-5l-8-27zM4227 723l8 19l-9-5l-9-23zM3954 875l8-34l-9 17l-9 37zM3958 877l5-23l-6 14l-6 24z"/>
<path class="c41" d="M4210 687l17 36l-19-18l-16-38zM3962 841l8-34l-9 15l-8 36z"/>
<path class="c42" d="M4194 678l16 9l-18-20l-17-5zM3980 793l16-13l-19 1l-16 41zM3971 823l9-30l-10 14l-8 34z"/>
<path class="c43" d="M4161 680l16-1l17-1l-19-16l-16 7l-17 7zM3996 780l17-19l16-14l-19-13l-16 18l-17 29z"/>
<path class="c44" d="M4029 747l17-16l16-17l17-12l16 15l17-25l16-19l16 2l17 5l-19-4l-16 3l-17-12l-16 9l-17 16l-16-9l-17 24l-16 20l-17 7z"/>
<path class="c40" d="M3963 854l8-31l-9 18l-8 34z"/>
<path class="c37" d="M3945 907l6-26l-7 14l-5 28zM3946 917l5-25l-6 15l-5 26zM3947 923l5-23l-6 17l-6 24z"/>
<path class="c34" d="M3929 982l5-23l-6 19l-6 21zM3930 989l5-24l-6 17l-6 23z"/>
<path class="c31" d="M3918 1027l5-22l-6 15l-6 22zM3922 1039l8-40l-9 21l-8 35z"/>
<path class="c33" d="M3930 999l6-25l-6 15l-6 24z"/>
<path class="c23" d="M3798 1212l17-20l-19-13l-16 32z"/>
<path class="c22" d="M3782 1238l16-26l-18-1l-17 13z"/>
<path class="c20" d="M3766 1282l16-44l-19-14l-16 26z"/>
<path class="c18" d="M3749 1295l17-13l-19-32l-17 8z"/>
<path class="c17" d="M3733 1307l16-12l-19-37l-16 30z"/>
<path class="c15" d="M3716 1337l17-30l-19-19l-17 35z"/>
<path class="c23" d="M4575 807l17 6l-19-27l-17 13zM3817 1224l17-20l-19-12l-17 20z"/>
<path class="c24" d="M4559 812l16-5l-19-8l-16-6z"/>
<path class="c25" d="M4542 815l17-3l-19-19l-17-1zM3834 1204l16-30l17-10l-19-4l-17 8l-16 24z"/>
<path class="c26" d="M4526 798l16 17l-19-23l-16-6zM3867 1164l16-18l17-20l-19-5l-17 5l-16 34z"/>
<path class="c27" d="M4509 802l17-4l-19-12l-17-8zM3907 1117l8-25l-9 7l-9 20zM3916 1115l8-30l-9 7l-8 25zM3900 1126l16-11l-19 4l-16 2z"/>
<path class="c28" d="M4493 783l16 19l-19-24l-16 6zM3915 1092l8-25l-9 11l-8 21z"/>
<path class="c29" d="M4443 796l17 2l16-4l17-11l-19 1l-16-7l-17 9l-16-6zM4394 820l16-1l17-14l-19-1l-16 5l-17 18zM4328 858l16-8l-18-4l-17 6zM3924 1085l9-29l-10 11l-8 25z"/>
<path class="c30" d="M4427 805l16-9l-18-16l-17 24zM4344 850l17-15l16-17l17 2l-19 7l-16 4l-17 1l-16 14zM4295 854l17 6l16-2l-19-6l-16 12l-17-18zM3920 1071l6-28l-7 9l-5 26zM3926 1063l6-28l-6 8l-6 28z"/>
<path class="c33" d="M4279 819l16 35l-19-8l-16-32zM3931 1016l6-27l-7 10l-5 26zM3938 1026l6-29l-7 9l-5 29z"/>
<path class="c35" d="M4261 794l8 22l-9-2l-8-26zM4270 801l9 18l-10-3l-8-22zM3943 978l5-26l-6 11l-5 26z"/>
<path class="c36" d="M4253 772l8 22l-9-6l-9-27zM4262 783l8 18l-9-7l-8-22zM3942 963l6-26l-7 11l-5 26zM3948 952l6-27l-6 12l-6 26zM3949 968l6-27l-7 11l-5 26z"/>
<path class="c37" d="M4244 751l9 21l-10-11l-8-19zM4254 760l8 23l-9-11l-9-21zM3948 937l5-26l-6 12l-6 25zM3954 925l5-26l-6 12l-5 26zM3955 941l5-27l-6 11l-6 27z"/>
<path class="c39" d="M4236 730l8 21l-9-9l-8-19zM3966 887l8-31l-10 16l-8 33z"/>
<path class="c38" d="M4246 736l8 24l-10-9l-8-21zM3956 905l8-33l-9 16l-8 35zM3960 914l6-27l-7 12l-5 26z"/>
<path class="c41" d="M4229 699l17 37l-19-13l-17-36zM3974 856l8-30l-9 14l-9 32z"/>
<path class="c42" d="M4213 696l16 3l-19-12l-16-9zM3982 826l17-33l-19 0l-17 61z"/>
<path class="c43" d="M4180 679l16 10l17 7l-19-18l-17 1l-16 1zM4114 739l16-17l-18-30l-17 25zM3999 793l16-4l16-10l17-15l16-17l-18-16l-17 16l-16 14l-17 19l-16 13z"/>
<path class="c44" d="M4130 722l17-28l16-9l17-6l-19 1l-17-5l-16-2l-16 19zM4064 747l17-24l16-3l17 19l-19-22l-16-15l-17 12l-16 17z"/>
<path class="c40" d="M3964 872l9-32l-10 14l-8 34z"/>
<path class="c34" d="M3937 989l5-26l-6 11l-6 25zM3937 1006l6-28l-6 11l-6 27zM3944 997l5-29l-6 10l-6 28z"/>
<path class="c31" d="M3926 1043l5-27l-6 9l-6 27zM3933 1056l5-30l-6 9l-6 28z"/>
<path class="c32" d="M3932 1035l5-29l-6 10l-5 27z"/>
<path class="c22" d="M3801 1256l16-32l-19-12l-16 26z"/>
<path class="c19" d="M3784 1292l17-36l-19-18l-16 44z"/>
<path class="c16" d="M3751 1322l17-20l16-10l-18-10l-17 13l-16 12z"/>
<path class="c14" d="M3735 1342l16-20l-18-15l-17 30z"/>
<path class="c23" d="M4561 850l16-12l17-7l16-11l-18-7l-17-6l-16 5l-17 3z"/>
<path class="c25" d="M4545 825l16 25l-19-35l-16-17zM3869 1183l16-10l-18-9l-17 10z"/>
<path class="c26" d="M4528 814l17 11l-19-27l-17 4zM3885 1173l17-26l-19-1l-16 18z"/>
<path class="c27" d="M4512 801l16 13l-19-12l-16-19zM3902 1147l16-25l17-24l-19 17l-16 11l-17 20z"/>
<path class="c28" d="M4495 799l17 2l-19-18l-17 11zM3926 1107l8-34l-10 12l-8 30z"/>
<path class="c29" d="M4429 828l17-10l16 4l17-10l16-13l-19-5l-16 4l-17-2l-16 9l-17 14zM3935 1098l8-37l-9 12l-8 34z"/>
<path class="c30" d="M4330 875l17-18l16-9l17-3l16-9l17-13l16 5l-19-9l-16 1l-17-2l-16 17l-17 15l-16 8l-16 2zM3934 1073l8-33l-9 16l-9 29z"/>
<path class="c31" d="M4314 857l16 18l-18-15l-17-6z"/>
<path class="c33" d="M4297 828l17 29l-19-3l-16-35zM3945 1035l6-30l-7 11l-5 29z"/>
<path class="c35" d="M4281 786l16 42l-18-9l-17-36zM3950 986l5-30l-6 12l-5 29zM3957 994l5-30l-6 11l-5 30z"/>
<path class="c38" d="M4264 749l17 37l-19-3l-16-47zM3967 920l6-25l-7 9l-5 26zM3968 934l5-25l-6 11l-5 25z"/>
<path class="c40" d="M4248 715l16 34l-18-13l-17-37zM3975 874l8-27l-9 9l-8 31zM3979 885l5-25l-6 9l-5 26z"/>
<path class="c42" d="M4231 693l17 22l-19-16l-16-3zM4133 762l16 2l-19-42l-16 17zM4001 815l16-3l-18-19l-17 33zM3993 838l8-23l-10 5l-8 27z"/>
<path class="c43" d="M4199 687l16 9l16-3l-18 3l-17-7l-16-10zM4149 764l17-36l-19-34l-17 28zM4116 741l17 21l-19-23l-17-19zM4017 812l17-6l16-11l17-18l16-20l-19-10l-16 17l-17 15l-16 10l-16 4z"/>
<path class="c44" d="M4166 728l16-29l17-12l-19-8l-17 6l-16 9zM4083 757l17-22l16 6l-19-21l-16 3l-17 24z"/>
<path class="c41" d="M3983 847l8-27l-9 6l-8 30zM3984 860l9-22l-10 9l-8 27z"/>
<path class="c39" d="M3966 904l6-26l-6 9l-6 27zM3973 895l5-26l-6 9l-6 26zM3973 909l6-24l-6 10l-6 25z"/>
<path class="c37" d="M3961 930l5-26l-6 10l-5 27zM3962 945l5-25l-6 10l-6 26z"/>
<path class="c36" d="M3955 956l6-26l-6 11l-6 27zM3956 975l6-30l-7 11l-5 30zM3962 964l6-30l-6 11l-6 30z"/>
<path class="c34" d="M3944 1016l6-30l-6 11l-6 29zM3951 1005l5-30l-6 11l-6 30zM3951 1024l6-30l-6 11l-6 30z"/>
<path class="c32" d="M3939 1045l5-29l-6 10l-5 30zM3943 1061l8-37l-9 16l-8 33z"/>
<path class="c24" d="M3853 1222l16-39l-19-9l-16 30z"/>
<path class="c22" d="M3836 1244l17-22l-19-18l-17 20z"/>
<path class="c21" d="M3820 1272l16-28l-19-20l-16 32z"/>
<path class="c18" d="M3803 1290l17-18l-19-16l-17 36z"/>
<path class="c17" d="M3787 1313l16-23l-19 2l-16 10z"/>
<path class="c15" d="M3770 1333l17-20l-19-11l-17 20z"/>
<path class="c14" d="M3754 1364l16-31l-19-11l-16 20z"/>
<path class="c23" d="M4580 842l16-3l17-33l16 20l-19-6l-16 11l-17 7l-16 12z"/>
<path class="c24" d="M4563 845l17-3l-19 8l-16-25zM3871 1220l17-20l-19-17l-16 39z"/>
<path class="c25" d="M4547 838l16 7l-18-20l-17-11zM3888 1200l16-26l-19-1l-16 10z"/>
<path class="c27" d="M4530 818l17 20l-19-24l-16-13zM3921 1163l16-25l-19-16l-16 25z"/>
<path class="c28" d="M4514 811l16 7l-18-17l-17-2zM3937 1138l17-52l-19 12l-17 24z"/>
<path class="c29" d="M4448 832l16 0l17-10l16-9l17-2l-19-12l-16 13l-17 10l-16-4l-17 10z"/>
<path class="c30" d="M4349 873l17-5l16-11l17-11l16-13l17-3l16 2l-19-4l-16-5l-17 13l-16 9l-17 3l-16 9l-17 18zM3944 1092l9-40l-10 9l-8 37z"/>
<path class="c31" d="M4333 862l16 11l-19 2l-16-18zM3954 1086l8-42l-9 8l-9 40z"/>
<path class="c33" d="M4316 839l17 23l-19-5l-17-29zM3953 1052l8-39l-10 11l-8 37zM3962 1044l8-43l-9 12l-8 39z"/>
<path class="c35" d="M4300 797l16 42l-19-11l-16-42zM3964 1009l5-29l-6 7l-5 30zM3970 1001l6-28l-7 7l-5 29z"/>
<path class="c38" d="M4283 761l17 36l-19-11l-17-37zM3981 944l6-29l-7 6l-5 29z"/>
<path class="c40" d="M4267 722l16 39l-19-12l-16-34zM3985 890l9-34l-10 4l-8 37z"/>
<path class="c42" d="M4250 697l17 25l-19-7l-17-22zM4135 755l16 29l-18-22l-17-21zM4003 852l17-20l16-7l17-15l16-10l-19-5l-16 11l-17 6l-16 3l-17 45z"/>
<path class="c43" d="M4184 763l17-32l16-28l17-4l16-2l-19-4l-16 3l-16-9l-17 12l-16 29zM4069 800l17-16l16-21l-19-6l-16 20l-17 18z"/>
<path class="c41" d="M4151 784l17 15l16-36l-18-35l-17 36l-16-2zM3995 883l8-31l-9 4l-9 34z"/>
<path class="c44" d="M4102 763l16-17l17 9l-19-14l-16-6l-17 22z"/>
<path class="c39" d="M3977 924l8-34l-9 7l-8 37zM3987 915l8-32l-10 7l-8 34z"/>
<path class="c37" d="M3969 957l5-30l-6 7l-6 30zM3975 950l5-29l-6 6l-5 30zM3976 973l5-29l-6 6l-6 30z"/>
<path class="c36" d="M3963 987l6-30l-7 7l-5 30zM3969 980l6-30l-6 7l-6 30z"/>
<path class="c34" d="M3958 1017l5-30l-6 7l-6 30z"/>
<path class="c26" d="M3904 1174l17-11l-19-16l-17 26z"/>
<path class="c22" d="M3855 1258l16-38l-18 2l-17 22z"/>
<path class="c20" d="M3838 1279l17-21l-19-14l-16 28z"/>
<path class="c18" d="M3822 1299l16-20l-18-7l-17 18z"/>
<path class="c16" d="M3805 1334l17-35l-19-9l-16 23z"/>
<path class="c15" d="M3789 1345l16-11l-18-21l-17 20z"/>
<path class="c14" d="M3772 1354l17-9l-19-12l-16 31z"/>
<path class="c23" d="M4599 861l16-12l17-2l16-16l-19-5l-16-20l-17 33l-16 3z"/>
<path class="c24" d="M4582 833l17 28l-19-19l-17 3zM3890 1225l17-7l-19-18l-17 20z"/>
<path class="c25" d="M4566 854l16-21l-19 12l-16-7zM3907 1218l16-36l-19-8l-16 26z"/>
<path class="c26" d="M4549 833l17 21l-19-16l-17-20zM3923 1182l17-25l-19 6l-17 11z"/>
<path class="c28" d="M4516 826l17-4l16 11l-19-15l-16-7l-17 2zM3947 1145l8-38l-10 5l-8 26zM3956 1151l8-50l-9 6l-8 38z"/>
<path class="c29" d="M4467 834l16 5l17-6l16-7l-19-13l-16 9l-17 10l-16 0z"/>
<path class="c30" d="M4450 830l17 4l-19-2l-16-2zM4368 883l16-8l17-9l16-13l17-11l-19-9l-16 13l-17 11l-16 11l-17 5zM3955 1107l8-38l-9 17l-9 26z"/>
<path class="c31" d="M4434 842l16-12l-18 0l-17 3zM4351 877l17 6l-19-10l-16-11zM3960 1075l5-27l-6 10l-5 28zM3964 1101l8-49l-9 17l-8 38z"/>
<path class="c33" d="M4335 846l16 31l-18-15l-17-23zM3965 1048l6-28l-6 10l-6 28zM3972 1052l6-25l-6 10l-6 26z"/>
<path class="c35" d="M4318 805l17 41l-19-7l-16-42zM3971 1020l5-27l-6 8l-5 29zM3977 1011l6-26l-7 8l-5 27zM3978 1027l5-25l-6 9l-5 26z"/>
<path class="c38" d="M4302 763l16 42l-18-8l-17-36zM3988 950l8-40l-9 5l-9 43z"/>
<path class="c40" d="M4286 727l16 36l-19-2l-16-39zM4170 807l17 20l16-20l-19-44l-16 36l-17-15zM3996 910l8-29l-9 2l-8 32zM4005 905l9-26l-10 2l-8 29z"/>
<path class="c42" d="M4269 707l17 20l-19-5l-17-25zM4220 769l16-32l-19-34l-16 28zM4154 781l16 26l-19-23l-16-29zM4022 853l16-6l17-16l16-1l17-14l16-14l-18-18l-17 16l-16 10l-17 15l-16 7l-17 20z"/>
<path class="c43" d="M4236 737l17-18l16-12l-19-10l-16 2l-17 4zM4104 802l17-27l16-12l17 18l-19-26l-17-9l-16 17l-16 21z"/>
<path class="c41" d="M4203 807l17-38l-19-38l-17 32zM4004 881l9-28l-10-1l-8 31zM4014 879l8-26l-9 0l-9 28z"/>
<path class="c36" d="M3980 989l8-39l-10 8l-8 43zM3983 1002l6-25l-6 8l-6 26z"/>
<path class="c39" d="M3997 941l8-36l-9 5l-8 40z"/>
<path class="c37" d="M3989 977l8-36l-9 9l-8 39z"/>
<path class="c34" d="M3972 1037l5-26l-6 9l-6 28z"/>
<path class="c32" d="M3966 1063l6-26l-7 11l-5 27z"/>
<path class="c27" d="M3940 1157l16-6l-19-13l-16 25z"/>
<path class="c22" d="M3874 1262l16-37l-19-5l-16 38z"/>
<path class="c20" d="M3857 1282l17-20l-19-4l-17 21z"/>
<path class="c18" d="M3841 1314l16-32l-19-3l-16 20z"/>
<path class="c16" d="M3824 1323l17-9l-19-15l-17 35z"/>
<path class="c14" d="M3791 1377l17-21l16-33l-19 11l-16 11l-17 9z"/>
<path class="c22" d="M4634 849l16 12l17-20l-19-10l-16 16l-17 2z"/>
<path class="c23" d="M4617 860l17-11l-19 0l-16 12zM3892 1261l17-28l-19-8l-16 37z"/>
<path class="c24" d="M4601 842l16 18l-18 1l-17-28zM3909 1233l16-21l-18 6l-17 7z"/>
<path class="c25" d="M4584 842l17 0l-19-9l-16 21zM3925 1212l17-21l-19-9l-16 36z"/>
<path class="c26" d="M4568 822l16 20l-18 12l-17-21zM3942 1191l16-7l-18-27l-17 25z"/>
<path class="c27" d="M4551 845l17-23l-19 11l-16-11zM3958 1184l17-58l-19 25l-16 6z"/>
<path class="c28" d="M4535 831l16 14l-18-23l-17 4z"/>
<path class="c29" d="M4502 827l17 9l16-5l-19-5l-16 7l-17 6zM3965 1139l9-42l-10 4l-8 50z"/>
<path class="c30" d="M4387 887l16-6l17-10l16-3l17-9l16-14l17-1l16-17l-19 12l-16-5l-17-4l-16 12l-17 11l-16 13l-17 9l-16 8zM3975 1126l8-33l-9 4l-9 42z"/>
<path class="c31" d="M4370 884l17 3l-19-4l-17-6z"/>
<path class="c32" d="M4354 854l16 30l-19-7l-16-31zM3974 1097l8-41l-10-4l-8 49zM3983 1093l8-32l-9-5l-8 41z"/>
<path class="c35" d="M4337 814l17 40l-19-8l-17-41z"/>
<path class="c38" d="M4321 771l16 43l-19-9l-16-42zM3998 971l9-35l-10 5l-8 36zM4008 965l8-35l-9 6l-9 35z"/>
<path class="c40" d="M4304 731l17 40l-19-8l-16-36zM4016 930l8-35l-9 5l-8 36z"/>
<path class="c42" d="M4255 786l16-34l17-25l16 4l-18-4l-17-20l-16 12l-17 18zM4041 870l16-9l17-17l16-7l17-11l16-17l-19-7l-16 14l-17 14l-16 1l-17 16l-16 6z"/>
<path class="c41" d="M4238 813l17-27l-19-49l-16 32zM4173 800l16 32l-19-25l-16-26zM4024 895l17-25l-19-17l-17 52z"/>
<path class="c39" d="M4189 832l16 17l17-12l16-24l-18-44l-17 38l-16 20l-17-20zM4007 936l8-36l-10 5l-8 36z"/>
<path class="c43" d="M4123 809l17-27l16-2l17 20l-19-19l-17-18l-16 12l-17 27z"/>
<path class="c36" d="M3990 1014l8-43l-9 6l-8 37zM4000 1013l8-48l-10 6l-8 43z"/>
<path class="c34" d="M3982 1056l8-42l-9 0l-9 38zM3991 1061l9-48l-10 1l-8 42z"/>
<path class="c20" d="M3876 1295l16-34l-18 1l-17 20z"/>
<path class="c18" d="M3859 1313l17-18l-19-13l-16 32z"/>
<path class="c17" d="M3843 1331l16-18l-18 1l-17 9z"/>
<path class="c15" d="M3827 1352l16-21l-19-8l-16 33z"/>
<path class="c14" d="M3810 1359l17-7l-19 4l-17 21z"/>
<path class="c22" d="M4669 860l17-17l-19-2l-17 20zM3911 1269l17-8l-19-28l-17 28z"/>
<path class="c23" d="M4653 843l16 17l-19 1l-16-12z"/>
<path class="c24" d="M4636 859l17-16l-19 6l-17 11zM3928 1261l16-39l-19-10l-16 21z"/>
<path class="c25" d="M4620 849l16 10l-19 1l-16-18zM3944 1222l17-32l-19 1l-17 21z"/>
<path class="c26" d="M4603 849l17 0l-19-7l-17 0zM3961 1190l16-7l-19 1l-16 7z"/>
<path class="c27" d="M4587 855l16-6l-19-7l-16-20zM3977 1183l17-46l-19-11l-17 58z"/>
<path class="c28" d="M4570 826l17 29l-19-33l-17 23z"/>
<path class="c29" d="M4537 832l17-11l16 5l-19 19l-16-14l-16 5z"/>
<path class="c30" d="M4405 899l17-6l16-15l17-8l16-4l17-15l16-3l17-20l16 4l-18 4l-17-9l-16 17l-17 1l-16 14l-17 9l-16 3l-17 10l-16 6zM3984 1132l8-39l-9 0l-8 33zM3994 1137l8-44l-10 0l-8 39z"/>
<path class="c31" d="M4389 890l16 9l-18-12l-17-3z"/>
<path class="c32" d="M4373 863l16 27l-19-6l-16-30zM3992 1093l9-39l-10 7l-8 32z"/>
<path class="c35" d="M4356 815l17 48l-19-9l-17-40zM4010 1048l6-32l-7 5l-5 31z"/>
<path class="c38" d="M4340 779l16 36l-19-1l-16-43zM4017 959l8-31l-9 2l-8 35zM4021 985l6-32l-7 4l-5 32z"/>
<path class="c40" d="M4323 749l17 30l-19-8l-17-40zM4257 803l17-16l-19-1l-17 27zM4191 825l17 27l-19-20l-16-32zM4025 928l9-30l-10-3l-8 35zM4035 927l8-27l-9-2l-9 30z"/>
<path class="c42" d="M4307 753l16-4l-19-18l-16-4zM4175 795l16 30l-18-25l-17-20zM4059 888l17-23l16-16l17-3l16-8l17-24l-19-5l-16 17l-17 11l-16 7l-17 17l-16 9z"/>
<path class="c41" d="M4274 787l16-18l17-16l-19-26l-17 25l-16 34zM4043 900l16-12l-18-18l-17 25z"/>
<path class="c39" d="M4208 852l16-16l17-15l16-18l-19 10l-16 24l-17 12l-16-17zM4027 953l8-26l-10 1l-8 31z"/>
<path class="c43" d="M4142 814l16-20l17 1l-19-15l-16 2l-17 27z"/>
<path class="c37" d="M4009 993l5-32l-6 4l-6 32zM4015 989l5-32l-6 4l-5 32z"/>
<path class="c36" d="M4003 1025l6-32l-7 4l-5 32zM4009 1021l6-32l-6 4l-6 32zM4016 1016l5-31l-6 4l-6 32z"/>
<path class="c34" d="M3998 1057l5-32l-6 4l-6 32zM4004 1052l5-31l-6 4l-5 32z"/>
<path class="c33" d="M4002 1093l8-45l-9 6l-9 39z"/>
<path class="c21" d="M3895 1275l16-6l-19-8l-16 34z"/>
<path class="c20" d="M3878 1314l17-39l-19 20l-17 18z"/>
<path class="c17" d="M3862 1342l16-28l-19-1l-16 18z"/>
<path class="c16" d="M3845 1348l17-6l-19-11l-16 21z"/>
<path class="c15" d="M3829 1370l16-22l-18 4l-17 7z"/>
<path class="c23" d="M4688 846l16 5l-18-8l-17 17zM3946 1263l17-33l-19-8l-16 39z"/>
<path class="c24" d="M4655 866l16-12l17-8l-19 14l-16-17l-17 16z"/>
<path class="c25" d="M4638 855l17 11l-19-7l-16-10zM3963 1230l16-21l-18-19l-17 32z"/>
<path class="c26" d="M4606 848l16 21l16-14l-18-6l-17 0l-16 6zM3979 1209l17-22l-19-4l-16 7z"/>
<path class="c27" d="M4589 852l17-4l-19 7l-17-29z"/>
<path class="c29" d="M4556 858l17-10l16 4l-19-26l-16-5l-17 11z"/>
<path class="c30" d="M4424 910l17-8l16-14l17 2l16-8l17-17l16-7l17-9l16 9l-19-26l-16-4l-17 20l-16 3l-17 15l-16 4l-17 8l-16 15l-17 6zM4003 1135l8-41l-9-1l-8 44z"/>
<path class="c31" d="M4408 899l16 11l-19-11l-16-9zM4012 1133l9-37l-10-2l-8 41z"/>
<path class="c33" d="M4391 867l17 32l-19-9l-16-27zM4011 1094l8-40l-9-6l-8 45zM4021 1096l8-37l-10-5l-8 40z"/>
<path class="c35" d="M4375 829l16 38l-18-4l-17-48zM4019 1054l9-48l-10-6l-8 48zM4029 1059l8-47l-9-6l-9 48z"/>
<path class="c38" d="M4358 789l17 40l-19-14l-16-36z"/>
<path class="c40" d="M4342 762l16 27l-18-10l-17-30zM4210 842l17-18l16-12l17-10l-19 19l-17 15l-16 16l-17-27zM4045 964l17-57l-19-7l-16 53z"/>
<path class="c41" d="M4260 802l16-20l16-10l17-8l16-13l17 11l-19-13l-16 4l-17 16l-16 18l-17 16l-16 18zM4194 815l16 27l-19-17l-16-30zM4062 907l16-15l17-14l-19-13l-17 23l-16 12z"/>
<path class="c43" d="M4161 820l16-13l17 8l-19-20l-17-1l-16 20z"/>
<path class="c42" d="M4095 878l16-7l17-14l16-17l17-20l-19-6l-17 24l-16 8l-17 3l-16 16z"/>
<path class="c37" d="M4028 1006l8-48l-9-5l-9 47zM4037 1012l8-48l-9-6l-8 48z"/>
<path class="c28" d="M3996 1187l16-54l-18 4l-17 46z"/>
<path class="c22" d="M3930 1276l16-13l-18-2l-17 8z"/>
<path class="c21" d="M3914 1305l16-29l-19-7l-16 6z"/>
<path class="c20" d="M3897 1318l17-13l-19-30l-17 39z"/>
<path class="c18" d="M3881 1333l16-15l-19-4l-16 28z"/>
<path class="c17" d="M3864 1362l17-29l-19 9l-17 6z"/>
<path class="c15" d="M3848 1382l16-20l-19-14l-16 22z"/>
<path class="c23" d="M4707 874l16-5l-19-18l-16-5zM3949 1273l16-28l-19 18l-16 13z"/>
<path class="c24" d="M4690 864l17 10l-19-28l-17 8z"/>
<path class="c25" d="M4657 854l17 3l16 7l-19-10l-16 12l-17-11zM3965 1245l17-27l16 7l-19-16l-16 21l-17 33z"/>
<path class="c26" d="M4624 870l17-10l16-6l-19 1l-16 14l-16-21zM3998 1225l17-30l-19-8l-17 22z"/>
<path class="c27" d="M4608 857l16 13l-18-22l-17 4z"/>
<path class="c28" d="M4575 873l16-12l17-4l-19-5l-16-4l-17 10zM4015 1195l16-52l-19-10l-16 54z"/>
<path class="c29" d="M4542 873l16-5l17 5l-19-15l-16-9l-17 9zM4492 899l17-2l16-17l-18-15l-17 17l-16 8z"/>
<path class="c30" d="M4525 880l17-7l-19-15l-16 7zM4427 914l16 5l17-7l16-9l16-4l-18-9l-17-2l-16 14l-17 8l-16-11z"/>
<path class="c32" d="M4410 880l17 34l-19-15l-17-32z"/>
<path class="c35" d="M4394 845l16 35l-19-13l-16-38zM4038 1059l8-44l-9-3l-8 47zM4048 1059l8-42l-10-2l-8 44z"/>
<path class="c37" d="M4377 808l17 37l-19-16l-17-40zM4046 1015l9-45l-10-6l-8 48zM4056 1017l8-41l-9-6l-9 45z"/>
<path class="c40" d="M4361 778l16 30l-19-19l-16-27zM4064 976l17-58l-19-11l-17 57z"/>
<path class="c41" d="M4344 767l17 11l-19-16l-17-11zM4212 840l17-14l16-18l17-7l16-9l-18 10l-17 10l-16 12l-17 18l-16-27zM4081 918l16-17l17-13l16-4l17-8l-19-19l-17 14l-16 7l-17 14l-16 15z"/>
<path class="c42" d="M4278 792l17-6l16-9l17-4l16-6l-19-16l-16 13l-17 8l-16 10l-16 20zM4196 824l16 16l-18-25l-17-8zM4147 876l16-25l16-21l-18-10l-17 20l-16 17z"/>
<path class="c43" d="M4179 830l17-6l-19-17l-16 13z"/>
<path class="c33" d="M4030 1098l8-39l-9 0l-8 37zM4039 1101l9-42l-10 0l-8 39z"/>
<path class="c31" d="M4022 1138l8-40l-9-2l-9 37zM4031 1143l8-42l-9-3l-8 40z"/>
<path class="c21" d="M3932 1316l17-43l-19 3l-16 29z"/>
<path class="c19" d="M3916 1334l16-18l-18-11l-17 13z"/>
<path class="c18" d="M3899 1368l17-34l-19-16l-16 15z"/>
<path class="c16" d="M3883 1359l16 9l-18-35l-17 29z"/>
<path class="c15" d="M3866 1390l17-31l-19 3l-16 20z"/>
<path class="c22" d="M4725 880l17-9l-19-2l-16 5z"/>
<path class="c23" d="M4709 871l16 9l-18-6l-17-10z"/>
<path class="c25" d="M4693 862l16 9l-19-7l-16-7zM3984 1244l17-14l16 1l16-18l-18-18l-17 30l-16-7l-17 27z"/>
<path class="c26" d="M4643 872l17 9l16-24l17 5l-19-5l-17-3l-16 6l-17 10z"/>
<path class="c27" d="M4627 883l16-11l-19-2l-16-13zM4033 1213l17-57l-19-13l-16 52z"/>
<path class="c28" d="M4577 890l17-6l16-10l17 9l-19-26l-17 4l-16 12l-17-5z"/>
<path class="c29" d="M4462 932l16-8l17-9l16-11l17-10l16 1l17-12l16 7l-19-22l-16 5l-17 7l-16 17l-17 2l-16 4l-16 9l-17 7z"/>
<path class="c30" d="M4445 918l17 14l-19-13l-16-5z"/>
<path class="c32" d="M4429 894l16 24l-18-4l-17-34z"/>
<path class="c35" d="M4412 871l17 23l-19-14l-16-35zM4057 1063l8-40l-9-6l-8 42zM4066 1068l9-40l-10-5l-8 40z"/>
<path class="c36" d="M4395 838l8 20l-9-13l-9-19zM4404 850l8 21l-9-13l-8-20z"/>
<path class="c37" d="M4387 819l8 19l-10-12l-8-18zM4396 829l8 21l-9-12l-8-19zM4065 1023l9-40l-10-7l-8 41zM4075 1028l8-39l-9-6l-9 40z"/>
<path class="c39" d="M4379 810l17 19l-19-21l-16-30zM4083 989l16-57l-18-14l-17 58z"/>
<path class="c40" d="M4363 795l16 15l-18-32l-17-11z"/>
<path class="c41" d="M4314 805l16-5l17 0l16-5l-19-28l-16 6l-17 4l-16 9zM4099 932l17-25l16-3l17-11l16-13l-18-4l-17 8l-16 4l-17 13l-16 17z"/>
<path class="c42" d="M4165 880l17-16l16-23l17 1l16-10l17-14l16-5l17-6l16 0l17-2l-19-19l-17 6l-16 9l-17 7l-16 18l-17 14l-16-16l-17 6l-16 21l-16 25z"/>
<path class="c33" d="M4049 1106l8-43l-9-4l-9 42zM4058 1112l8-44l-9-5l-8 43z"/>
<path class="c31" d="M4041 1149l8-43l-10-5l-8 42zM4050 1156l8-44l-9-6l-8 43z"/>
<path class="c24" d="M3968 1282l16-38l-19 1l-16 28z"/>
<path class="c21" d="M3951 1320l17-38l-19-9l-17 43z"/>
<path class="c19" d="M3935 1349l16-29l-19-4l-16 18z"/>
<path class="c17" d="M3918 1349l17 0l-19-15l-17 34z"/>
<path class="c16" d="M3902 1383l16-34l-19 19l-16-9z"/>
<path class="c15" d="M3885 1388l17-5l-19-24l-17 31z"/>
<path class="c23" d="M4744 866l17 28l-19-23l-17 9z"/>
<path class="c24" d="M4728 880l16-14l-19 14l-16-9zM3986 1288l17-41l-19-3l-16 38z"/>
<path class="c25" d="M4711 869l17 11l-19-9l-16-9z"/>
<path class="c26" d="M4645 897l17-9l16-6l17-28l16 15l-18-7l-17-5l-16 24l-17-9l-16 11zM4003 1247l16-19l17-8l16-6l-19-1l-16 18l-16-1l-17 14z"/>
<path class="c27" d="M4612 886l17 21l16-10l-18-14l-17-9l-16 10zM4052 1214l17-49l-19-9l-17 57z"/>
<path class="c28" d="M4596 886l16 0l-18-2l-17 6z"/>
<path class="c29" d="M4481 941l16-10l17-6l16-6l17-14l16-7l17 0l16-12l-19 4l-16-7l-17 12l-16-1l-17 10l-16 11l-17 9l-16 8z"/>
<path class="c30" d="M4464 930l17 11l-19-9l-17-14zM4059 1161l9-43l-10-6l-8 44zM4069 1165l8-41l-9-6l-9 43z"/>
<path class="c32" d="M4448 908l16 22l-19-12l-16-24z"/>
<path class="c34" d="M4431 881l17 27l-19-14l-17-23z"/>
<path class="c36" d="M4415 849l16 32l-19-10l-16-42z"/>
<path class="c38" d="M4398 826l17 23l-19-20l-17-19z"/>
<path class="c39" d="M4382 817l16 9l-19-16l-16-15zM4102 997l16-46l-19-19l-16 57z"/>
<path class="c40" d="M4349 829l16-8l17-4l-19-22l-16 5l-17 0z"/>
<path class="c41" d="M4299 835l17 0l16-6l17 0l-19-29l-16 5l-17 2l-16 0zM4118 951l17-29l16-6l17-9l16-19l17-15l-19-9l-17 16l-16 13l-17 11l-16 3l-17 25z"/>
<path class="c42" d="M4201 873l16-17l17-11l16-2l16-5l17-2l16-1l-18-28l-17 6l-16 5l-17 14l-16 10l-17-1l-16 23z"/>
<path class="c37" d="M4084 1034l8-41l-9-4l-8 39zM4093 1040l9-43l-10-4l-8 41z"/>
<path class="c35" d="M4076 1076l8-42l-9-6l-9 40zM4085 1083l8-43l-9-6l-8 42z"/>
<path class="c33" d="M4068 1118l8-42l-10-8l-8 44zM4077 1124l8-41l-9-7l-8 42z"/>
<path class="c22" d="M3970 1312l16-24l-18-6l-17 38z"/>
<path class="c20" d="M3953 1334l17-22l-19 8l-16 29z"/>
<path class="c18" d="M3937 1369l16-35l-18 15l-17 0z"/>
<path class="c16" d="M3920 1383l17-14l-19-20l-16 34z"/>
<path class="c15" d="M3904 1400l16-17l-18 0l-17 5z"/>
<path class="c23" d="M4763 877l17 24l-19-7l-17-28z"/>
<path class="c25" d="M4730 881l17 0l16-4l-19-11l-16 14l-17-11zM4005 1291l17-35l-19-9l-17 41z"/>
<path class="c26" d="M4714 872l16 9l-19-12l-16-15zM4681 892l16-16l-19 6l-16 6zM4022 1256l16-18l17-10l16-16l-19 2l-16 6l-17 8l-16 19z"/>
<path class="c27" d="M4697 876l17-4l-19-18l-17 28zM4648 887l16-1l17 6l-19-4l-17 9l-16 10z"/>
<path class="c28" d="M4615 899l16-9l17-3l-19 20l-17-21l-16 0zM4071 1212l17-41l-19-6l-17 49z"/>
<path class="c29" d="M4499 943l17-3l16-7l17-9l16-8l17-6l16-5l17-6l-19-13l-16 12l-17 0l-16 7l-17 14l-16 6l-17 6l-16 10z"/>
<path class="c30" d="M4483 941l16 2l-18-2l-17-11zM4078 1168l8-37l-9-7l-8 41zM4088 1171l8-33l-10-7l-8 37z"/>
<path class="c32" d="M4466 922l17 19l-19-11l-16-22zM4096 1138l8-33l-9-11l-9 37z"/>
<path class="c34" d="M4450 894l16 28l-18-14l-17-27zM4104 1105l8-41l-9-12l-8 42z"/>
<path class="c36" d="M4434 858l16 36l-19-13l-16-32zM4112 1064l8-42l-9-12l-8 42z"/>
<path class="c38" d="M4417 835l17 23l-19-9l-17-23zM4120 1022l17-51l-19-20l-16 46z"/>
<path class="c39" d="M4384 836l17-6l16 5l-19-9l-16-9l-17 4z"/>
<path class="c40" d="M4318 855l17 2l16-11l17-6l16-4l-19-15l-16 8l-17 0l-16 6l-17 0zM4137 971l16-34l-18-15l-17 29z"/>
<path class="c41" d="M4252 874l17-2l16-6l17 0l16-11l-19-20l-16 1l-17 2l-16 5l-16 2zM4153 937l17-8l16-7l17-17l16-20l-18-12l-17 15l-16 19l-17 9l-16 6z"/>
<path class="c42" d="M4219 885l17-2l16-9l-18-29l-17 11l-16 17z"/>
<path class="c37" d="M4103 1052l8-42l-9-13l-9 43z"/>
<path class="c35" d="M4095 1094l8-42l-10-12l-8 43z"/>
<path class="c33" d="M4086 1131l9-37l-10-11l-8 41z"/>
<path class="c22" d="M3989 1325l16-34l-19-3l-16 24z"/>
<path class="c21" d="M3972 1344l17-19l-19-13l-17 22z"/>
<path class="c19" d="M3956 1370l16-26l-19-10l-16 35z"/>
<path class="c16" d="M3939 1397l17-27l-19-1l-17 14z"/>
<path class="c15" d="M3923 1409l16-12l-19-14l-16 17z"/>
<path class="c23" d="M4782 887l16 3l-18 11l-17-24zM4007 1320l17-30l-19 1l-16 34z"/>
<path class="c24" d="M4765 896l17-9l-19-10l-16 4z"/>
<path class="c25" d="M4749 894l16 2l-18-15l-17 0zM4024 1290l16-16l-18-18l-17 35z"/>
<path class="c26" d="M4732 888l17 6l-19-13l-16-9zM4040 1274l17-32l16-19l-18 5l-17 10l-16 18z"/>
<path class="c27" d="M4683 893l16 4l17-15l16 6l-18-16l-17 4l-16 16l-17-6zM4073 1223l17-2l-19-9l-16 16z"/>
<path class="c28" d="M4617 911l17 2l16-11l17-13l16 4l-19-7l-16 1l-17 3l-16 9l-17 6zM4090 1221l16-31l-18-19l-17 41z"/>
<path class="c29" d="M4518 962l17-8l16-13l17 1l16-11l17-3l16-17l-19-6l-16 5l-17 6l-16 8l-17 9l-16 7l-17 3zM4106 1190l9-32l-10-10l-8 32z"/>
<path class="c30" d="M4502 949l16 13l-19-19l-16-2zM4097 1180l8-32l-9-10l-8 33z"/>
<path class="c31" d="M4485 933l17 16l-19-8l-17-19zM4115 1158l8-31l-10-11l-8 32z"/>
<path class="c34" d="M4469 901l16 32l-19-11l-16-28zM4113 1116l9-37l-10-15l-8 41z"/>
<path class="c36" d="M4452 869l17 32l-19-7l-16-36zM4139 1062l9-35l-10-15l-8 30zM4122 1079l8-37l-10-20l-8 42z"/>
<path class="c38" d="M4436 848l16 21l-18-11l-17-23zM4138 1012l8-30l-9-11l-8 25zM4148 1027l8-34l-10-11l-8 30z"/>
<path class="c39" d="M4386 856l17-11l16-1l17 4l-19-13l-16-5l-17 6l-16 4z"/>
<path class="c40" d="M4288 892l16-10l17-4l16-6l16-2l17-12l16-2l-18-16l-17 6l-16 11l-17-2l-16 11l-17 0l-16 6zM4156 993l16-42l17-1l16-11l17-21l-19-13l-17 17l-16 7l-17 8l-16 34z"/>
<path class="c41" d="M4222 918l16-1l17-9l16-5l17-11l-19-20l-17 2l-16 9l-17 2l-16 20z"/>
<path class="c37" d="M4130 1042l8-30l-9-16l-9 26z"/>
<path class="c35" d="M4131 1094l8-32l-9-20l-8 37z"/>
<path class="c33" d="M4123 1127l8-33l-9-15l-9 37z"/>
<path class="c32" d="M4105 1148l8-32l-9-11l-8 33z"/>
<path class="c21" d="M3991 1339l16-19l-18 5l-17 19z"/>
<path class="c19" d="M3975 1370l16-31l-19 5l-16 26z"/>
<path class="c17" d="M3958 1383l17-13l-19 0l-17 27z"/>
<path class="c16" d="M3942 1410l16-27l-19 14l-16 12z"/>
<path class="c23" d="M4801 907l16 2l-19-19l-16-3zM4010 1326l16-11l-19 5l-16 19z"/>
<path class="c24" d="M4768 914l16-5l17-2l-19-20l-17 9l-16-2zM4026 1315l17-22l-19-3l-17 30z"/>
<path class="c25" d="M4751 892l17 22l-19-20l-17-6zM4043 1293l16-36l-19 17l-16 16z"/>
<path class="c27" d="M4702 906l16-15l17 2l16-1l-19-4l-16-6l-17 15l-16-4zM4076 1262l16-33l17-6l16-14l-19-19l-16 31l-17 2l-16 19z"/>
<path class="c28" d="M4586 952l17-5l16-14l17-7l16-9l17-3l16-5l17-3l-19-13l-16-4l-17 13l-16 11l-17-2l-16 17l-17 3l-16 11zM4125 1209l8-28l-9-11l-8 30z"/>
<path class="c29" d="M4521 962l16 13l16-11l17-10l16-2l-18-10l-17-1l-16 13l-17 8l-16-13zM4116 1200l8-30l-9-12l-9 32z"/>
<path class="c31" d="M4504 944l17 18l-19-13l-17-16zM4124 1170l8-30l-9-13l-8 31z"/>
<path class="c33" d="M4488 915l16 29l-19-11l-16-32zM4132 1140l8-34l-9-12l-8 33z"/>
<path class="c36" d="M4471 885l17 30l-19-14l-17-32zM4149 1073l8-31l-9-15l-9 35zM4158 1084l8-28l-9-14l-8 31z"/>
<path class="c37" d="M4455 859l16 26l-19-16l-16-21zM4157 1042l8-31l-9-18l-8 34zM4166 1056l9-27l-10-18l-8 31z"/>
<path class="c38" d="M4438 856l17 3l-19-11l-17-4zM4165 1011l8-22l-9-17l-8 21zM4175 1029l8-24l-10-16l-8 22z"/>
<path class="c39" d="M4356 886l16-7l17-8l16-5l17-11l16 1l-19-12l-16 1l-17 11l-16 2l-17 12l-16 2zM4173 989l9-23l-10-15l-8 21zM4183 1005l8-24l-9-15l-9 23z"/>
<path class="c40" d="M4191 981l17-17l16-8l16-13l17-8l16-9l17-10l16-1l17-14l16-9l17-6l-19-14l-16 6l-17 4l-16 10l-17 11l-16 5l-17 9l-16 1l-17 21l-16 11l-17 1z"/>
<path class="c35" d="M4140 1106l9-33l-10-11l-8 32z"/>
<path class="c34" d="M4150 1119l8-35l-9-11l-9 33z"/>
<path class="c32" d="M4142 1153l8-34l-10-13l-8 34z"/>
<path class="c30" d="M4133 1181l9-28l-10-13l-8 30z"/>
<path class="c26" d="M4059 1257l17 5l-19-20l-17 32z"/>
<path class="c21" d="M3993 1366l17-40l-19 13l-16 31z"/>
<path class="c19" d="M3977 1393l16-27l-18 4l-17 13z"/>
<path class="c17" d="M3960 1418l17-25l-19-10l-16 27z"/>
<path class="c22" d="M4819 929l17 1l-19-21l-16-2z"/>
<path class="c23" d="M4803 925l16 4l-18-22l-17 2zM4029 1355l16-22l-19-18l-16 11z"/>
<path class="c24" d="M4786 915l17 10l-19-16l-16 5zM4045 1333l17-38l-19-2l-17 22z"/>
<path class="c25" d="M4770 915l16 0l-18-1l-17-22z"/>
<path class="c26" d="M4754 923l16-8l-19-23l-16 1zM4062 1295l16-27l16-22l-18 16l-17-5l-16 36z"/>
<path class="c27" d="M4671 946l17-19l16 0l17-15l16 0l17 11l-19-30l-17-2l-16 15l-17 3l-16 5l-17 3zM4094 1246l17-12l16 2l17-22l-19-5l-16 14l-17 6l-16 33z"/>
<path class="c28" d="M4589 965l16 3l17-8l16-7l17-7l16 0l-19-29l-16 9l-17 7l-16 14l-17 5l-16 2z"/>
<path class="c29" d="M4539 970l17 10l16-16l17 1l-19-11l-17 10l-16 11l-16-13zM4144 1214l16-44l-18-17l-17 56z"/>
<path class="c31" d="M4523 950l16 20l-18-8l-17-18zM4160 1170l9-23l-10-14l-8 28z"/>
<path class="c33" d="M4506 924l17 26l-19-6l-16-29zM4159 1133l8-29l-9-20l-8 35zM4169 1147l8-23l-10-20l-8 29z"/>
<path class="c35" d="M4490 897l16 27l-18-9l-17-30zM4167 1104l9-29l-10-19l-8 28zM4185 1093l8-31l-9-17l-8 30z"/>
<path class="c37" d="M4473 881l17 16l-19-12l-16-26zM4184 1045l8-22l-9-18l-8 24zM4202 1041l8-22l-10-19l-8 23z"/>
<path class="c38" d="M4457 869l16 12l-18-22l-17-3zM4192 1023l8-23l-9-19l-8 24z"/>
<path class="c39" d="M4210 1019l16-34l17-14l16-11l17-8l16-4l17-12l16-12l17-12l16-6l17-7l16-6l17-3l16-6l16-13l17-2l-19-13l-16-1l-17 11l-16 5l-17 8l-16 7l-17 6l-16 9l-17 14l-16 1l-17 10l-16 9l-17 8l-16 13l-16 8l-17 17z"/>
<path class="c36" d="M4193 1062l9-21l-10-18l-8 22zM4176 1075l8-30l-9-16l-9 27z"/>
<path class="c34" d="M4177 1124l8-31l-9-18l-9 29z"/>
<path class="c32" d="M4151 1161l8-28l-9-14l-8 34z"/>
<path class="c21" d="M4012 1381l17-26l-19-29l-17 40z"/>
<path class="c18" d="M3996 1413l16-32l-19-15l-16 27z"/>
<path class="c16" d="M3979 1425l17-12l-19-20l-17 25z"/>
<path class="c22" d="M4822 936l16-8l17-4l-19 6l-17-1l-16-4zM4047 1359l17-16l-19-10l-16 22z"/>
<path class="c23" d="M4805 934l17 2l-19-11l-17-10z"/>
<path class="c25" d="M4772 936l17-1l16-1l-19-19l-16 0l-16 8z"/>
<path class="c26" d="M4739 940l17-12l16 8l-18-13l-17-11l-16 0z"/>
<path class="c27" d="M4624 980l17 1l16-4l16-28l17-14l16 26l17-30l16 9l-18-28l-17 15l-16 0l-17 19l-16 0l-17 7l-16 7l-17 8zM4130 1231l16 3l17-8l-19-12l-17 22l-16-2zM4080 1277l17-31l16 1l-19-1l-16 22l-16 27z"/>
<path class="c28" d="M4575 992l16-2l17-14l16 4l-19-12l-16-3l-17-1l-16 16zM4163 1226l16-28l-19-28l-16 44zM4113 1247l17-16l-19 3l-17 12z"/>
<path class="c29" d="M4558 982l17 10l-19-12l-17-10z"/>
<path class="c31" d="M4542 965l16 17l-19-12l-16-20zM4179 1198l17-46l-19-28l-17 46z"/>
<path class="c33" d="M4525 934l17 31l-19-15l-17-26zM4186 1138l8-25l-9-20l-8 31zM4204 1133l8-18l-9-26l-9 24z"/>
<path class="c35" d="M4509 905l16 29l-19-10l-16-27zM4220 1093l9-22l-10-26l-8 22zM4212 1115l8-22l-9-26l-8 22zM4194 1113l9-24l-10-27l-8 31z"/>
<path class="c37" d="M4492 891l17 14l-19-8l-17-16zM4219 1045l8-22l-9-21l-8 17zM4237 1045l8-27l-9-16l-9 21z"/>
<path class="c38" d="M4426 903l17-10l16-3l17-3l16 4l-19-10l-16-12l-17 2l-16 13l-16 6zM4245 1018l17-32l-19-15l-17 14zM4227 1023l9-21l-10-17l-8 17z"/>
<path class="c39" d="M4262 986l16-12l17-10l16-2l16-13l17-5l16-18l17-2l16-13l17-4l16-4l-18-13l-17 3l-16 6l-17 7l-16 6l-17 12l-16 12l-17 12l-16 4l-17 8l-16 11z"/>
<path class="c36" d="M4229 1071l8-26l-10-22l-8 22zM4211 1067l8-22l-9-26l-8 22zM4203 1089l8-22l-9-26l-9 21z"/>
<path class="c32" d="M4196 1152l8-19l-10-20l-8 25z"/>
<path class="c24" d="M4064 1343l16-66l-18 18l-17 38z"/>
<path class="c21" d="M4031 1383l16-24l-18-4l-17 26z"/>
<path class="c18" d="M4014 1406l17-23l-19-2l-16 32z"/>
<path class="c17" d="M3998 1428l16-22l-18 7l-17 12z"/>
<path class="c21" d="M4841 961l16 1l16-12l-18-26l-17 4l-16 8z"/>
<path class="c22" d="M4824 952l17 9l-19-25l-17-2zM4066 1363l17-30l-19 10l-17 16z"/>
<path class="c24" d="M4808 931l16 21l-19-18l-16 1z"/>
<path class="c25" d="M4791 933l17-2l-19 4l-17 1zM4083 1333l16-35l-19-21l-16 66z"/>
<path class="c26" d="M4725 964l17-11l16-1l17-21l16 2l-19 3l-16-8l-17 12l-16-9l-17 30z"/>
<path class="c27" d="M4626 997l17-7l16-4l17-2l16-3l17-22l16 5l-19-3l-16-26l-17 14l-16 28l-16 4l-17-1l-16-4zM4165 1238l16-3l-18-9l-17 8zM4099 1298l17-29l-19-23l-17 31z"/>
<path class="c28" d="M4593 998l17-2l16 1l-18-21l-17 14l-16 2zM4181 1235l17-19l-19-18l-16 28zM4116 1269l16-15l17-24l16 8l-19-4l-16-3l-17 16l-16-1z"/>
<path class="c29" d="M4577 995l16 3l-18-6l-17-10zM4198 1216l16-23l-18-41l-17 46z"/>
<path class="c31" d="M4560 970l17 25l-19-13l-16-17zM4205 1172l8-21l-9-18l-8 19z"/>
<path class="c33" d="M4544 951l16 19l-18-5l-17-31z"/>
<path class="c35" d="M4527 929l17 22l-19-17l-16-29zM4247 1098l9-23l-10-15l-8 25z"/>
<path class="c36" d="M4511 907l16 22l-18-24l-17-14zM4238 1085l8-25l-9-15l-8 26zM4256 1075l8-23l-10-17l-8 25z"/>
<path class="c37" d="M4495 902l16 5l-19-16l-16-4zM4264 1052l16-37l-18-29l-17 32zM4246 1060l8-25l-9-17l-8 27z"/>
<path class="c38" d="M4412 932l17-8l16-8l17-11l16-2l17-1l-19-15l-17 3l-16 3l-17 10l-16 4l-17 4zM4330 979l16-14l17-9l-19-12l-17 5l-16 13zM4280 1015l17-26l-19-15l-16 12z"/>
<path class="c39" d="M4363 956l16-11l17-8l16-5l-19-21l-16 13l-17 2l-16 18zM4297 989l16-16l17 6l-19-17l-16 2l-17 10z"/>
<path class="c34" d="M4231 1145l16-47l-18-27l-17 44z"/>
<path class="c32" d="M4213 1151l9-21l-10-15l-8 18zM4223 1169l8-24l-9-15l-9 21z"/>
<path class="c30" d="M4214 1193l9-24l-10-18l-8 21z"/>
<path class="c20" d="M4050 1415l16-52l-19-4l-16 24z"/>
<path class="c18" d="M4017 1419l16-4l17 0l-19-32l-17 23l-16 22z"/>
<path class="c20" d="M4859 964l17 5l16-7l-19-12l-16 12l-16-1z"/>
<path class="c22" d="M4843 952l16 12l-18-3l-17-9z"/>
<path class="c24" d="M4826 956l17-4l-19 0l-16-21z"/>
<path class="c25" d="M4793 961l17-8l16 3l-18-25l-17 2l-16-2zM4101 1353l17-36l-19-19l-16 35z"/>
<path class="c26" d="M4695 985l16-6l17 7l16-18l16-13l17-15l16 21l-18-30l-17 21l-16 1l-17 11l-16-5l-17 22l-16 3zM4118 1317l16-43l-18-5l-17 29z"/>
<path class="c27" d="M4629 1010l16-1l17-16l16 2l17-10l-19-1l-17 2l-16 4l-17 7l-16-1zM4184 1252l16 7l17-32l-19-11l-17 19l-16 3zM4134 1274l17-10l-19-10l-16 15z"/>
<path class="c28" d="M4612 1016l17-6l-19-14l-17 2zM4217 1227l16-21l-19-13l-16 23zM4151 1264l16-6l17-6l-19-14l-16-8l-17 24z"/>
<path class="c29" d="M4596 1007l16 9l-19-18l-16-3z"/>
<path class="c30" d="M4579 993l17 14l-19-12l-17-25zM4233 1206l17-26l-19-35l-17 48z"/>
<path class="c32" d="M4563 972l16 21l-19-23l-16-19zM4240 1162l9-22l-10-18l-8 23zM4258 1159l8-22l-9-19l-8 22z"/>
<path class="c34" d="M4546 946l17 26l-19-21l-17-22zM4257 1118l8-24l-9-19l-9 23z"/>
<path class="c36" d="M4530 929l16 17l-19-17l-16-22zM4283 1089l16-38l-19-36l-16 37z"/>
<path class="c37" d="M4497 923l16 0l17 6l-19-22l-16-5l-17 1zM4299 1051l17-26l-19-36l-17 26z"/>
<path class="c38" d="M4316 1025l16-24l17-16l16-2l17-11l16-15l16-9l17-3l16-10l17 2l16-11l17-3l-19-20l-16 2l-17 11l-16 8l-17 8l-16 5l-17 8l-16 11l-17 9l-16 14l-17-6l-16 16z"/>
<path class="c35" d="M4265 1094l8-24l-9-18l-8 23zM4274 1113l9-24l-10-19l-8 24z"/>
<path class="c33" d="M4266 1137l8-24l-9-19l-8 24zM4249 1140l8-22l-10-20l-8 24z"/>
<path class="c31" d="M4250 1180l8-21l-9-19l-9 22z"/>
<path class="c23" d="M4085 1363l16-10l-18-20l-17 30z"/>
<path class="c21" d="M4068 1397l17-34l-19 0l-16 52z"/>
<path class="c18" d="M4052 1414l16-17l-18 18l-17 0z"/>
<path class="c19" d="M4036 1407l16 7l-19 1l-16 4z"/>
<path class="c19" d="M4895 971l16 21l-19-30l-16 7z"/>
<path class="c21" d="M4878 977l17-6l-19-2l-17-5zM4071 1405l16-23l-19 15l-16 17z"/>
<path class="c22" d="M4862 971l16 6l-19-13l-16-12zM4087 1382l17-22l-19 3l-17 34z"/>
<path class="c23" d="M4845 972l17-1l-19-19l-17 4zM4104 1360l16-15l-19 8l-16 10z"/>
<path class="c25" d="M4829 934l16 38l-19-16l-16-3zM4120 1345l17-28l-19 0l-17 36z"/>
<path class="c26" d="M4796 956l16-10l17-12l-19 19l-17 8l-16-21zM4730 987l16-9l17 9l16-34l-19 2l-16 13l-16 18l-17-7zM4137 1317l16-11l-19-32l-16 43z"/>
<path class="c27" d="M4779 953l17 3l-19-16l-17 15zM4647 1018l17-2l16-4l17-11l16-9l17-5l-19-8l-16 6l-17 10l-16-2l-17 16l-16 1zM4153 1306l17-14l16-18l17-7l16-16l17-6l-19-18l-17 32l-16-7l-17 6l-16 6l-17 10z"/>
<path class="c28" d="M4614 1016l17 10l16-8l-18-8l-17 6l-16-9zM4236 1245l16-12l-19-27l-16 21z"/>
<path class="c30" d="M4598 1008l16 8l-18-9l-17-14zM4268 1204l17-34l-19-33l-16 43z"/>
<path class="c31" d="M4582 994l16 14l-19-15l-16-21zM4285 1170l8-16l-9-20l-8 20z"/>
<path class="c33" d="M4565 973l17 21l-19-22l-17-26zM4301 1138l9-17l-10-25l-8 18z"/>
<path class="c35" d="M4549 957l16 16l-19-27l-16-17zM4326 1087l8-17l-9-23l-8 16zM4318 1104l8-17l-9-24l-8 15zM4300 1096l9-18l-10-27l-8 19zM4292 1114l8-18l-9-26l-8 19z"/>
<path class="c36" d="M4532 945l17 12l-19-28l-17-6zM4334 1070l17-30l-19-39l-16 24zM4317 1063l8-16l-9-22l-9 13zM4309 1078l8-15l-10-25l-8 13z"/>
<path class="c37" d="M4466 951l17 1l16-6l17 0l16-1l-19-22l-16 0l-17 3l-16 11l-17-2zM4351 1040l16-22l17-8l16-13l-18-25l-17 11l-16 2l-17 16z"/>
<path class="c38" d="M4400 997l17-13l16-11l17-15l16-7l-19-16l-16 10l-17 3l-16 9l-16 15z"/>
<path class="c34" d="M4310 1121l8-17l-9-26l-9 18zM4284 1134l8-20l-9-25l-9 24z"/>
<path class="c32" d="M4276 1154l8-20l-10-21l-8 24zM4293 1154l8-16l-9-24l-8 20z"/>
<path class="c29" d="M4252 1233l16-29l-18-24l-17 26z"/>
<path class="c20" d="M4054 1429l17-24l-19 9l-16-7z"/>
<path class="c18" d="M4913 994l17-4l-19 2l-16-21z"/>
<path class="c20" d="M4897 998l16-4l-18-23l-17 6z"/>
<path class="c21" d="M4880 993l17 5l-19-21l-16-6zM4073 1432l17-28l-19 1l-17 24z"/>
<path class="c22" d="M4864 971l16 22l-18-22l-17 1zM4090 1404l16-33l-19 11l-16 23z"/>
<path class="c25" d="M4847 971l17 0l-19 1l-16-38zM4139 1347l16-7l17 1l16-19l-18-30l-17 14l-16 11l-17 28z"/>
<path class="c26" d="M4831 952l16 19l-18-37l-17 12zM4188 1322l17-16l16-16l17-11l-19-28l-16 16l-17 7l-16 18z"/>
<path class="c27" d="M4650 1037l16-9l17 12l16-27l17-22l16 2l17-4l16-23l17 17l16-26l17-4l16-1l-19-6l-16 10l-17-3l-16 34l-17-9l-16 9l-17 5l-16 9l-17 11l-16 4l-17 2l-16 8zM4238 1279l16-15l17-15l16-19l-19-26l-16 29l-16 12l-17 6z"/>
<path class="c28" d="M4633 1047l17-10l-19-11l-17-10z"/>
<path class="c29" d="M4617 1033l16 14l-19-31l-16-8zM4287 1230l17-23l-19-37l-17 34z"/>
<path class="c30" d="M4600 1019l17 14l-19-25l-16-14zM4320 1189l8-20l-9-24l-8 19zM4304 1207l16-18l-19-51l-16 32z"/>
<path class="c32" d="M4584 998l16 21l-18-25l-17-21zM4337 1149l8-17l-9-23l-9 18zM4311 1164l8-19l-9-24l-9 17z"/>
<path class="c34" d="M4567 989l17 9l-19-25l-16-16zM4336 1109l8-17l-10-22l-8 17zM4327 1127l9-18l-10-22l-8 17z"/>
<path class="c35" d="M4551 984l16 5l-18-32l-17-12zM4353 1115l17-24l-19-51l-17 30z"/>
<path class="c36" d="M4501 977l17 4l16-8l17 11l-19-39l-16 1l-17 0l-16 6zM4370 1091l16-35l17-9l16-23l-19-27l-16 13l-17 8l-16 22z"/>
<path class="c37" d="M4419 1024l17-14l16-12l17-8l16-3l16-10l-18-25l-17-1l-16 7l-17 15l-16 11l-17 13z"/>
<path class="c33" d="M4345 1132l8-17l-9-23l-8 17zM4319 1145l8-18l-9-23l-8 17z"/>
<path class="c31" d="M4328 1169l9-20l-10-22l-8 18z"/>
<path class="c24" d="M4106 1371l17-9l16-15l-19-2l-16 15l-17 22z"/>
<path class="c17" d="M4932 1015l17 1l-19-26l-17 4z"/>
<path class="c19" d="M4916 1002l16 13l-19-21l-16 4z"/>
<path class="c20" d="M4899 1008l17-6l-19-4l-17-5z"/>
<path class="c22" d="M4883 995l16 13l-19-15l-16-22zM4108 1434l17-39l-19-24l-16 33z"/>
<path class="c24" d="M4866 994l17 1l-19-24l-17 0zM4174 1360l17-14l16-11l-19-13l-16 19l-17-1zM4125 1395l16-19l-18-14l-17 9z"/>
<path class="c25" d="M4850 984l16 10l-19-23l-16-19zM4207 1335l17-27l16-7l17-3l-19-19l-17 11l-16 16l-17 16zM4141 1376l17-27l16 11l-19-20l-16 7l-16 15z"/>
<path class="c26" d="M4817 988l16 2l17-6l-19-32l-16 1l-17 4zM4257 1298l16-33l-19-1l-16 15z"/>
<path class="c27" d="M4652 1056l17-5l16-5l17-16l16-4l16-12l17 1l16-23l17-2l16-20l17 18l-19-31l-16 26l-17-17l-16 23l-17 4l-16-2l-17 22l-16 27l-17-12l-16 9l-17 10zM4273 1265l17-9l16-14l17-6l-19-29l-17 23l-16 19l-17 15z"/>
<path class="c28" d="M4636 1043l16 13l-19-9l-16-14zM4323 1236l16-31l-19-16l-16 18z"/>
<path class="c29" d="M4619 1049l17-6l-19-10l-17-14zM4356 1202l8-16l-10-27l-8 16zM4339 1205l17-3l-19-53l-17 40z"/>
<path class="c31" d="M4603 1039l16 10l-19-30l-16-21zM4372 1171l8-21l-9-23l-8 16zM4346 1175l8-16l-9-27l-8 17z"/>
<path class="c32" d="M4586 1025l17 14l-19-41l-17-9zM4363 1143l8-16l-10-24l-8 12zM4380 1150l8-20l-9-19l-8 16zM4354 1159l9-16l-10-28l-8 17z"/>
<path class="c33" d="M4570 1018l16 7l-19-36l-16-5zM4388 1130l17-14l-19-60l-16 35zM4371 1127l8-16l-9-20l-9 12z"/>
<path class="c34" d="M4553 1018l17 0l-19-34l-17-11zM4405 1116l16-29l-18-40l-17 9z"/>
<path class="c35" d="M4504 1022l16-2l17-5l16 3l-19-45l-16 8l-17-4l-16 10zM4421 1087l17-13l16-23l-18-41l-17 14l-16 23z"/>
<path class="c36" d="M4454 1051l17-13l16-12l17-4l-19-35l-16 3l-17 8l-16 12z"/>
<path class="c30" d="M4364 1186l8-15l-9-28l-9 16z"/>
<path class="c21" d="M4092 1423l16 11l-18-30l-17 28z"/>
<path class="c16" d="M4951 1017l16 4l-18-5l-17-1z"/>
<path class="c18" d="M4934 1030l17-13l-19-2l-16-13z"/>
<path class="c19" d="M4918 1029l16 1l-18-28l-17 6z"/>
<path class="c20" d="M4902 1033l16-4l-19-21l-16-13z"/>
<path class="c22" d="M4885 1017l17 16l-19-38l-17-1zM4127 1423l17-29l-19 1l-17 39z"/>
<path class="c23" d="M4869 1012l16 5l-19-23l-16-10z"/>
<path class="c25" d="M4852 989l17 23l-19-28l-17 6zM4226 1341l16-6l17-18l16-22l-18 3l-17 3l-16 7l-17 27zM4160 1376l17-14l16-11l-19 9l-16-11l-17 27z"/>
<path class="c26" d="M4819 996l17 4l16-11l-19 1l-16-2l-17-18zM4737 1038l16 12l17-37l-19 2l-17-1l-16 12zM4687 1068l17-4l-19-18l-16 5zM4325 1269l16-5l-18-28l-17 6zM4275 1295l17-32l-19 2l-16 33z"/>
<path class="c27" d="M4770 1013l16-16l17 4l16-5l-19-26l-16 20l-17 2l-16 23zM4704 1064l16-17l17-9l-19-12l-16 4l-17 16zM4671 1064l16 4l-18-17l-17 5zM4341 1264l17-18l16-13l-18-31l-17 3l-16 31zM4292 1263l16 0l17 6l-19-27l-16 14l-17 9z"/>
<path class="c28" d="M4638 1063l16 0l17 1l-19-8l-16-13l-17 6zM4391 1215l8-16l-9-24l-9 18zM4374 1233l17-18l-19-44l-16 31z"/>
<path class="c29" d="M4621 1062l17 1l-19-14l-16-10zM4399 1199l8-16l-9-26l-8 18z"/>
<path class="c30" d="M4605 1058l16 4l-18-23l-17-14zM4381 1193l9-18l-10-25l-8 21z"/>
<path class="c32" d="M4572 1055l16-1l17 4l-19-33l-16-7l-17 0zM4424 1154l16-16l-19-51l-16 29z"/>
<path class="c33" d="M4539 1056l17 3l16-4l-19-37l-16-3l-17 5zM4440 1138l17-26l16-16l-19-45l-16 23l-17 13z"/>
<path class="c34" d="M4473 1096l17-15l16 0l17-9l16-16l-19-36l-16 2l-17 4l-16 12l-17 13z"/>
<path class="c31" d="M4407 1183l17-29l-19-38l-17 14zM4390 1175l8-18l-10-27l-8 20z"/>
<path class="c24" d="M4193 1351l17 0l16-10l-19-6l-16 11l-17 14zM4144 1394l16-18l-19 0l-16 19z"/>
<path class="c21" d="M4111 1443l16-20l-19 11l-16-11z"/>
<path class="c16" d="M4970 1033l16 7l-19-19l-16-4z"/>
<path class="c17" d="M4937 1050l16-11l17-6l-19-16l-17 13l-16-1z"/>
<path class="c18" d="M4920 1046l17 4l-19-21l-16 4z"/>
<path class="c20" d="M4904 1037l16 9l-18-13l-17-16z"/>
<path class="c22" d="M4887 1034l17 3l-19-20l-16-5z"/>
<path class="c24" d="M4871 1014l16 20l-18-22l-17-23zM4228 1367l17-17l16-9l-19-6l-16 6l-16 10zM4162 1405l17-38l-19 9l-16 18z"/>
<path class="c25" d="M4854 1011l17 3l-19-25l-16 11zM4261 1341l17-21l16-8l-19-17l-16 22l-17 18zM4179 1367l16 4l17-24l16 20l-18-16l-17 0l-16 11l-17 14z"/>
<path class="c26" d="M4821 1005l17 7l16-1l-18-11l-17-4l-16 5zM4706 1075l17-5l16-10l17 5l16-13l17-16l-19-23l-17 37l-16-12l-17 9l-16 17l-17 4zM4294 1312l17-16l16-11l17-10l16-4l17-10l16 5l17-19l-19-32l-17 18l-16 13l-17 18l-16 5l-17-6l-16 0l-17 32z"/>
<path class="c27" d="M4789 1036l16-7l16-24l-18-4l-17-4l-16 16zM4673 1079l17-10l16 6l-19-7l-16-4l-17-1zM4410 1247l16-16l-19-48l-16 32z"/>
<path class="c28" d="M4657 1068l16 11l-19-16l-16 0zM4459 1194l8-15l-9-27l-8 14zM4426 1231l17-21l-19-56l-17 29z"/>
<path class="c29" d="M4624 1081l16 7l17-20l-19-5l-17-1l-16-4zM4467 1179l8-15l-9-26l-8 14zM4443 1210l16-16l-19-56l-16 16z"/>
<path class="c30" d="M4591 1094l16-12l17-1l-19-23l-17-4l-16 1zM4450 1166l8-14l-10-27l-8 13z"/>
<path class="c31" d="M4475 1164l17-19l16-15l17-10l16-9l17-5l16-11l17-1l-19-39l-16 4l-17-3l-16 16l-17 9l-16 0l-17 15l-16 16zM4458 1152l8-14l-9-26l-9 13z"/>
<path class="c23" d="M4146 1424l16-19l-18-11l-17 29z"/>
<path class="c21" d="M4129 1439l17-15l-19-1l-16 20z"/>
<path class="c15" d="M4989 1056l16-4l-19-12l-16-7z"/>
<path class="c16" d="M4956 1066l16-18l17 8l-19-23l-17 6l-16 11z"/>
<path class="c17" d="M4939 1049l17 17l-19-16l-17-4z"/>
<path class="c19" d="M4923 1056l16-7l-19-3l-16-9z"/>
<path class="c21" d="M4906 1048l17 8l-19-19l-17-3z"/>
<path class="c23" d="M4890 1024l16 24l-19-14l-16-20zM4247 1385l17-11l-19-24l-17 17zM4165 1428l16-32l-19 9l-16 19z"/>
<path class="c25" d="M4873 1017l17 7l-19-10l-17-3zM4758 1082l16-8l17-12l-19-10l-16 13l-17-5zM4297 1352l16-24l16-15l17 0l16-1l17-21l16-1l17-7l16-11l17-7l16-11l-18-44l-17 21l-16 16l-17 19l-16-5l-17 10l-16 4l-17 10l-16 11l-17 16l-16 8zM4181 1396l17-24l16-7l17 14l-19-32l-17 24l-16-4l-17 38z"/>
<path class="c26" d="M4857 997l16 20l-19-6l-16 1zM4791 1062l16-20l17-30l-19 17l-16 7l-17 16zM4725 1091l16-16l17 7l-19-22l-16 10l-17 5zM4461 1254l17-17l-19-43l-16 16z"/>
<path class="c27" d="M4824 1012l16-8l17-7l-19 15l-17-7l-16 24zM4692 1089l16-4l17 6l-19-16l-16-6l-17 10zM4478 1237l16-25l-19-48l-16 30z"/>
<path class="c28" d="M4610 1127l16-3l17-3l16-10l16-19l17-3l-19-10l-16-11l-17 20l-16-7l-17 1l-16 12zM4494 1212l17-18l16-20l-19-44l-16 15l-17 19z"/>
<path class="c29" d="M4527 1174l17-15l16 1l17-19l16-10l17-4l-19-33l-17 1l-16 11l-17 5l-16 9l-17 10z"/>
<path class="c24" d="M4264 1374l16-13l17-9l-19-32l-17 21l-16 9zM4231 1379l16 6l-19-18l-16-20z"/>
<path class="c22" d="M4148 1436l17-8l-19-4l-17 15z"/>
<path class="c16" d="M5007 1043l17-24l-19 33l-16 4z"/>
<path class="c17" d="M4991 1026l16 17l-18 13l-17-8z"/>
<path class="c18" d="M4958 1043l16 6l17-23l-19 22l-16 18l-17-17z"/>
<path class="c20" d="M4941 1041l17 2l-19 6l-16 7z"/>
<path class="c21" d="M4925 1041l16 0l-18 15l-17-8z"/>
<path class="c24" d="M4908 1006l17 35l-19 7l-16-24zM4497 1269l16-15l-19-42l-16 25zM4365 1331l16-15l17 15l-19-40l-17 21l-16 1zM4184 1420l16-29l-19 5l-16 32z"/>
<path class="c25" d="M4892 1022l16-16l-18 18l-17-7zM4760 1103l17 4l16-24l17-15l16 1l-19-27l-16 20l-17 12l-16 8l-17-7zM4513 1254l17-29l-19-31l-17 18zM4332 1359l16-45l17 17l-19-18l-17 0l-16 15zM4233 1365l16 32l-18-18l-17-14z"/>
<path class="c27" d="M4876 996l16 26l-19-5l-16-20zM4843 1030l16-21l-19-5l-16 8zM4678 1132l16-14l17-3l16-27l-19-3l-16 4l-17 3l-16 19zM4628 1161l17-11l-19-26l-16 3zM4595 1181l17-2l-19-48l-16 10z"/>
<path class="c28" d="M4859 1009l17-13l-19 1l-17 7z"/>
<path class="c26" d="M4826 1069l17-39l-19-18l-17 30zM4727 1088l17 13l16 2l-19-28l-16 16l-17-6zM4645 1150l16 4l17-22l-19-21l-16 10l-17 3zM4612 1179l16-18l-18-34l-17 4zM4530 1225l16-18l16-6l17-5l16-15l-18-40l-17 19l-16-1l-17 15l-16 20zM4200 1391l16-40l17 14l-19 0l-16 7l-17 24z"/>
<path class="c23" d="M4431 1326l16-35l17 6l16-7l17-21l-19-32l-17 17l-16 11l-17 7l-16 11zM4398 1331l16-9l-19-32l-16 1zM4299 1384l16-23l17-2l-19-31l-16 24l-17 9zM4249 1397l17-2l-19-10l-16-6zM4167 1441l17-21l-19 8l-17 8z"/>
<path class="c22" d="M4414 1322l17 4l-19-43l-17 7zM4266 1395l16-2l17-9l-19-23l-16 13l-17 11z"/>
<path class="c18" d="M5026 1028l17 22l-19-31l-17 24z"/>
<path class="c20" d="M4977 1049l16-4l17-7l16-10l-19 15l-16-17l-17 23l-16-6zM4433 1356l16-25l-18-5l-17-4z"/>
<path class="c21" d="M4960 1056l17-7l-19-6l-17-2zM4449 1331l17 4l16-14l17-6l16-20l-18-26l-17 21l-16 7l-17-6l-16 35zM4417 1344l16 12l-19-34l-16 9zM4301 1407l17-13l-19-10l-17 9z"/>
<path class="c22" d="M4944 1050l16 6l-19-15l-16 0zM4515 1295l17-24l-19-17l-16 15zM4384 1357l16 3l17-16l-19-13l-17-15l-16 15zM4318 1394l16-23l-19-10l-16 23zM4285 1407l16 0l-19-14l-16 2z"/>
<path class="c24" d="M4927 1047l17 3l-19-9l-17-35zM4779 1115l16-6l-18-2l-17-4zM4664 1185l16 11l17-30l-19-34l-17 22l-16-4zM4532 1271l16-21l-18-25l-17 29zM4351 1356l16 1l-19-43l-16 45zM4186 1441l16-17l-18-4l-17 21z"/>
<path class="c25" d="M4911 1026l16 21l-19-41l-16 16zM4795 1109l17-11l16 0l17-36l-19 7l-16-1l-17 15l-16 24zM4697 1166l16-25l17-1l16-2l16-14l17-9l-19-12l-16-2l-17-13l-16 27l-17 3l-16 14zM4548 1250l17-12l16-7l17-17l16-4l17-3l16-19l17-3l-19-35l-17 11l-16 18l-17 2l-16 15l-17 5l-16 6l-16 18zM4252 1377l16 3l-19 17l-16-32zM4202 1424l17-48l-19 15l-16 29z"/>
<path class="c27" d="M4861 1053l17-29l16-2l17 4l-19-4l-16-26l-17 13l-16 21zM4219 1376l16-30l17 31l-19-12l-17-14l-16 40z"/>
<path class="c26" d="M4845 1062l16-9l-18-23l-17 39z"/>
<path class="c23" d="M4367 1357l17 0l-19-26l-17-17zM4334 1371l17-15l-19 3l-17 2zM4268 1380l17 27l-19-12l-17 2z"/>
<path class="c17" d="M5045 1053l16 25l-18-28l-17-22z"/>
<path class="c19" d="M5028 1054l17-1l-19-25l-16 10zM4468 1378l17-39l16-7l-19-11l-16 14l-17-4zM4419 1392l16 0l-18-48l-17 16z"/>
<path class="c20" d="M4979 1075l16-6l17-10l16-5l-18-16l-17 7l-16 4l-17 7zM4501 1332l17-11l16-11l-19-15l-16 20l-17 6zM4402 1384l17 8l-19-32l-16-3z"/>
<path class="c21" d="M4963 1078l16-3l-19-19l-16-6zM4534 1310l17-8l-19-31l-17 24zM4303 1426l17-6l16-4l17-14l-19-31l-16 23l-17 13l-16 0z"/>
<path class="c22" d="M4946 1072l17 6l-19-28l-17-3zM4551 1302l16-16l17-19l-19-29l-17 12l-16 21zM4386 1363l16 21l-18-27l-17 0zM4353 1402l16-29l-18-17l-17 15z"/>
<path class="c24" d="M4930 1043l16 29l-19-25l-16-21zM4715 1188l17-21l16-7l17-17l16 1l17-12l16-3l17-16l16-10l-19-5l-16 0l-17 11l-16 6l-17 9l-16 14l-16 2l-17 1l-16 25zM4666 1209l16-5l-18-19l-17 3zM4600 1240l17-2l16-10l-19-18l-16 4l-17 17z"/>
<path class="c26" d="M4913 1030l17 13l-19-17l-17-4zM4864 1075l16-26l-19 4l-16 9zM4221 1425l17-38l-19-11l-17 48z"/>
<path class="c27" d="M4880 1049l17-15l16-4l-19-8l-16 2l-17 29zM4254 1365l17 9l-19 3l-17-31z"/>
<path class="c25" d="M4847 1103l17-28l-19-13l-17 36zM4271 1374l16 33l-19-27l-16-3zM4205 1431l16-6l-19-1l-16 17z"/>
<path class="c23" d="M4682 1204l17-11l16-5l-18-22l-17 30l-16-11zM4633 1228l16 3l17-22l-19-21l-16 19l-17 3zM4584 1267l16-27l-19-9l-16 7zM4369 1373l17-10l-19-6l-16-1zM4287 1407l16 19l-18-19l-17-27z"/>
<path class="c18" d="M4435 1392l17-17l16 3l-19-47l-16 25l-16-12z"/>
<path class="c28" d="M4238 1387l16-22l-19-19l-16 30z"/>
<path class="c14" d="M5063 1088l8 9l-10-19l-8-13z"/>
<path class="c15" d="M5054 1079l9 9l-10-23l-8-12zM5047 1106l17-1l-19-52l-17 1zM4438 1418l16-1l-19-25l-16 0z"/>
<path class="c12" d="M5072 1111l8 6l-9-20l-8-9z"/>
<path class="c13" d="M5064 1105l8 6l-9-23l-9-9z"/>
<path class="c16" d="M5031 1116l16-10l-19-52l-16 5zM4454 1417l17-21l16-18l-19 0l-16-3l-17 17z"/>
<path class="c17" d="M5014 1103l17 13l-19-57l-17 10zM4487 1378l17-2l-19-37l-17 39z"/>
<path class="c18" d="M4998 1097l16 6l-19-34l-16 6zM4504 1376l16-16l16-2l17-20l-19-28l-16 11l-17 11l-16 7zM4421 1399l17 19l-19-26l-17-8zM4339 1454l16-2l-19-36l-16 4z"/>
<path class="c20" d="M4981 1086l17 11l-19-22l-16 3zM4569 1326l17-24l-19-16l-16 16z"/>
<path class="c21" d="M4965 1071l16 15l-18-8l-17-6zM4586 1302l16-10l17-18l-19-34l-16 27l-17 19zM4372 1417l16-4l17-27l16 13l-19-15l-16-21l-17 10l-16 29zM4306 1430l16 26l-19-30l-16-19z"/>
<path class="c24" d="M4948 1044l17 27l-19 1l-16-29zM4850 1126l16-16l-19-7l-16 10zM4289 1411l17 19l-19-23l-16-33z"/>
<path class="c26" d="M4932 1050l16-6l-18-1l-17-13zM4882 1089l17-11l16-37l-18-7l-17 15l-16 26zM4273 1398l16 13l-18-37l-17-9zM4240 1430l16-15l-18-28l-17 38z"/>
<path class="c27" d="M4915 1041l17 9l-19-20l-16 4zM4256 1415l17-17l-19-33l-16 22z"/>
<path class="c25" d="M4866 1110l16-21l-18-14l-17 28zM4223 1423l17 7l-19-5l-16 6z"/>
<path class="c23" d="M4817 1166l16-17l17-23l-19-13l-17 16l-16 3zM4751 1196l16-10l17-7l16 0l-19-35l-16-1l-17 17l-16 7z"/>
<path class="c22" d="M4800 1179l17-13l-19-34l-17 12zM4619 1274l16-25l17 2l16-5l17-6l16-18l17-12l16-2l17-12l-19-29l-17 21l-16 5l-17 11l-16 5l-17 22l-16-3l-16 10l-17 2z"/>
<path class="c19" d="M4553 1338l16-12l-18-24l-17 8zM4355 1452l17-35l-19-15l-17 14zM4322 1456l17-2l-19-34l-17 6z"/>
<path class="c10" d="M5081 1145l9 5l-10-33l-8-6zM5066 1171l8 1l-9-33l-8-1z"/>
<path class="c11" d="M5073 1140l8 5l-9-34l-8-6z"/>
<path class="c8" d="M5091 1179l8 5l-9-34l-9-5z"/>
<path class="c9" d="M5082 1174l9 5l-10-34l-8-5zM5074 1172l8 2l-9-34l-8-1z"/>
<path class="c12" d="M5065 1139l8 1l-9-35l-9 0zM5057 1138l8 1l-10-34l-8 1zM5050 1150l16 21l-19-65l-16 10z"/>
<path class="c13" d="M5033 1139l17 11l-19-34l-17-13z"/>
<path class="c15" d="M5017 1133l16 6l-19-36l-16-6zM4489 1404l17-3l16-4l17-9l16-15l-19-15l-16 2l-16 16l-17 2l-16 18z"/>
<path class="c18" d="M5000 1106l17 27l-19-36l-17-11zM4390 1449l17-16l-19-20l-16 4z"/>
<path class="c21" d="M4984 1074l16 32l-19-20l-16-15zM4835 1192l17-30l-19-13l-16 17zM4786 1186l16 18l17-12l-19-13l-16 0l-17 7zM4654 1290l17-23l16 2l17-23l16-3l16-14l17-3l16-16l-18-14l-17 12l-16 2l-17 12l-16 18l-17 6l-16 5l-17-2z"/>
<path class="c24" d="M4967 1067l17 7l-19-3l-17-27zM4868 1123l17-1l-19-12l-16 16zM4292 1425l16 28l-19-42l-16-13z"/>
<path class="c26" d="M4918 1076l16-10l17-15l16 16l-19-23l-16 6l-17-9l-16 37zM4242 1417l17 14l-19-1l-17-7z"/>
<path class="c25" d="M4885 1122l16-28l17-18l-19 2l-17 11l-16 21zM4259 1431l16 6l17-12l-19-27l-17 17l-16 15z"/>
<path class="c23" d="M4852 1162l16-39l-18 3l-17 23z"/>
<path class="c20" d="M4819 1192l16 0l-18-26l-17 13zM4621 1308l17-11l16-7l-19-41l-16 25l-17 18zM4325 1457l16 7l-19-8l-16-26z"/>
<path class="c22" d="M4769 1210l17-24l-19 0l-16 10zM4308 1453l17 4l-19-27l-17-19z"/>
<path class="c19" d="M4605 1333l16-25l-19-16l-16 10zM4407 1433l16-14l17-6l-19-14l-16-13l-17 27z"/>
<path class="c17" d="M4588 1354l17-21l-19-31l-17 24zM4374 1470l16-21l-18-32l-17 35zM4341 1464l17 13l-19-23l-17 2z"/>
<path class="c16" d="M4555 1373l17-15l16-4l-19-28l-16 12l-17 20zM4440 1413l16 14l-18-9l-17-19zM4358 1477l16-7l-19-18l-16 2z"/>
<path class="c14" d="M4456 1427l17 18l16-41l-18-8l-17 21l-16 1z"/>
<path class="c5" d="M5100 1208l8 7l-9-31l-8-5z"/>
<path class="c6" d="M5092 1201l8 7l-9-29l-9-5zM5085 1214l16 14l-19-54l-16-3z"/>
<path class="c3" d="M5110 1237l8 9l-10-31l-8-7z"/>
<path class="c4" d="M5101 1228l9 9l-10-29l-8-7z"/>
<path class="c9" d="M5067 1179l8 13l-9-21l-8-10zM5068 1181l9 16l-10-18l-8-13z"/>
<path class="c10" d="M5059 1166l8 13l-9-18l-8-11z"/>
<path class="c7" d="M5077 1197l8 17l-10-22l-8-13z"/>
<path class="c11" d="M5052 1181l16 0l-18-31l-17-11z"/>
<path class="c13" d="M5035 1140l17 41l-19-42l-16-6z"/>
<path class="c16" d="M5019 1134l16 6l-18-7l-17-27zM4459 1428l16 16l-19-17l-16-14z"/>
<path class="c19" d="M5001 1105l8 15l-9-14l-8-16zM4838 1204l16 8l17-17l-19-33l-17 30l-16 0zM4656 1308l17-13l16-2l-18-26l-17 23l-16 7zM4343 1471l17-8l-19 1l-16-7z"/>
<path class="c22" d="M4993 1089l8 16l-9-15l-8-16zM4871 1195l16-41l-19-31l-16 39z"/>
<path class="c18" d="M5011 1119l8 15l-10-14l-8-15zM4640 1329l16-21l-18-11l-17 11zM4426 1443l16-14l17-1l-19-15l-17 6l-16 14z"/>
<path class="c21" d="M5002 1105l9 14l-10-14l-8-16zM4788 1225l17-15l16-11l-19 5l-16-18l-17 24zM4327 1452l16 19l-18-14l-17-4z"/>
<path class="c23" d="M4986 1089l16 16l-18-31l-17-7zM4310 1444l17 8l-19 1l-16-28z"/>
<path class="c25" d="M4969 1076l17 13l-19-22l-16-16zM4904 1123l16-23l17-8l-19-16l-17 18l-16 28zM4277 1453l17-3l-19-13l-16-6z"/>
<path class="c26" d="M4937 1092l16-17l16 1l-18-25l-17 15l-16 10zM4261 1420l16 33l-18-22l-17-14z"/>
<path class="c24" d="M4887 1154l17-31l-19-1l-17 1zM4294 1450l16-6l-18-19l-17 12z"/>
<path class="c20" d="M4821 1199l17 5l-19-12l-17 12zM4689 1293l17-20l16-17l17 1l16-7l17-13l16-12l-19-15l-16 16l-17 3l-16 14l-16 3l-17 23l-16-2z"/>
<path class="c17" d="M4623 1361l17-32l-19-21l-16 25zM4409 1457l17-14l-19-10l-17 16zM4360 1463l16 13l-18 1l-17-13z"/>
<path class="c15" d="M4607 1373l16-12l-18-28l-17 21zM4508 1415l17 2l-19-16l-17 3zM4376 1476l17 18l16-37l-19-8l-16 21l-16 7z"/>
<path class="c14" d="M4525 1417l16-7l17-17l16-1l17-8l16-11l-19-19l-16 4l-17 15l-16 15l-17 9l-16 4zM4475 1444l17-17l16-12l-19-11l-16 41l-17-18z"/></g>
<path class="ds" d="M392.4 82.6L426 64"/>
<text class="tk" text-anchor="end" x="420.6" y="186.5">0</text>
<text class="tk" x="431.9" y="186.4">0</text>
<text class="tk" text-anchor="end" x="382.4" y="170.8">500</text>
<text class="tk" x="465.4" y="168.6">500</text>
<text class="tk" text-anchor="end" x="344.3" y="155.0">1000</text>
<text class="tk" x="498.8" y="150.7">1000</text>
<text class="tk" text-anchor="end" x="306.1" y="139.3">1500</text>
<text class="tk" x="532.3" y="132.9">1500</text>
<text class="tk" text-anchor="end" x="306.0" y="131.4">-40</text>
<text class="tk" text-anchor="end" x="306.0" y="114.1">-20</text>
<text class="tk" text-anchor="end" x="306.0" y="96.8">0</text>
<text class="tk" text-anchor="end" x="306.0" y="79.5">20</text>
<text class="tk" text-anchor="end" x="306.0" y="62.2">40</text>
<text class="lb" font-size="15.5" x="279.6" y="62.4">(b)</text>
<text class="lb" font-size="12" x="292.3" y="94.2" transform="rotate(-90 292.3 94.2)" text-anchor="middle">phase</text>
<text class="lb" font-size="12" x="341.0" y="170.5">pixel</text>
<text class="lb" font-size="12" x="479.1" y="169.2">pixel</text>
<path class="gr" d="M318.3 347.3L209.0 295.5M245.3 347.3L355.2 295.4M355.0 330.0L245.7 278.2M208.8 330.1L318.7 278.2M391.6 312.7L282.3 260.9M172.4 312.8L282.3 260.9M172.4 312.8L172.4 244.3M391.6 312.7L391.6 244.2M209.0 295.5L209.0 227.0M355.2 295.4L355.2 227.0M245.7 278.2L245.7 209.7M318.7 278.2L318.7 209.7M282.3 260.9L282.3 192.4M172.4 295.7L282.3 243.8L391.6 295.6M172.4 278.6L282.3 226.7L391.6 278.5M172.4 261.4L282.3 209.5L391.6 261.3M172.4 244.3L282.3 192.4L391.6 244.2"/>
<path class="ax" d="M391.6 312.7L281.7 364.6L172.4 312.8L172.4 244.3M281.7 364.6L283.9 365.6M281.7 364.6L279.5 365.6M318.3 347.3L320.5 348.3M245.3 347.3L243.1 348.4M355.0 330.0L357.1 331.0M208.8 330.1L206.7 331.1M391.6 312.7L393.8 313.7M172.4 312.8L170.2 313.8M172.4 312.8L170.2 313.8M172.4 295.7L170.2 296.7M172.4 278.6L170.2 279.6M172.4 261.4L170.2 262.5M172.4 244.3L170.2 245.3"/>
<g class="sf" transform="scale(.1)"><path class="c10" d="M2822 2593l18 25l-18-41l-18-4zM2768 2597l18 59l-18-46l-18-21z"/>
<path class="c9" d="M2804 2623l18-30l-18-20l-18 51z"/>
<path class="c8" d="M2786 2656l18-33l-18 1l-18-14z"/>
<path class="c13" d="M2732 2637l18-66l18 26l-18-8l-18 17l-18-1zM2624 2656l18-11l-18 11l-18-13z"/>
<path class="c14" d="M2714 2578l18 59l-18-32l-18-22zM2642 2645l18-36l-18-7l-18 54zM2606 2654l18 2l-18-13l-18-23zM2570 2692l18-49l-18 34l-18-13zM2515 2717l18-42l-17-17l-19 42zM2461 2716l18 5l-18-2l-18 12z"/>
<path class="c16" d="M2660 2609l18-27l18-9l18 5l-18 5l-18 22l-18-9l-18 6zM2551 2648l19 44l-18-28l-18-40zM2443 2699l18 17l-18 15l-18-67z"/>
<path class="c15" d="M2588 2643l18 11l-18-34l-18 57z"/>
<path class="c17" d="M2533 2675l18-27l-17-24l-18 34z"/>
<path class="c12" d="M2479 2721l18 19l18-23l-18-17l-18 19l-18 0z"/>
<path class="c19" d="M2407 2717l18-28l18 10l-18-35l-18 17l-18 2zM2209 2776l18 1l18-1l-18-24l-18 49l-18-37zM2083 2859l18-26l-18-16l-18 26z"/>
<path class="c20" d="M2389 2678l18 39l-18-34l-18-29zM2065 2833l18 26l-18-16l-18-8z"/>
<path class="c24" d="M2371 2691l18-13l-18-24l-18-55zM2335 2683l18-9l-18-34l-18 31zM1956 2885l18-37l-18-42l-18 51z"/>
<path class="c25" d="M2353 2674l18 17l-18-92l-18 41zM2317 2677l18 6l-18-12l-18-24zM1974 2848l18 1l18-42l18-1l-17 23l-18-20l-19-2l-18-1zM1938 2862l18 23l-18-28l-18-51z"/>
<path class="c23" d="M2299 2763l18-86l-18-30l-18 64zM2028 2806l19-6l-18 68l-18-39z"/>
<path class="c21" d="M2281 2720l18 43l-18-52l-18 23zM2245 2776l18-76l-18 60l-18-8zM2191 2755l18 21l-18-12l-18 7zM2047 2800l18 33l-18 2l-18 33z"/>
<path class="c22" d="M2263 2700l18 20l-18 14l-18 26zM2101 2833l18-54l-18-4l-18 42z"/>
<path class="c26" d="M2173 2679l18 76l-18 16l-18-65z"/>
<path class="c31" d="M2137 2711l18-60l18 28l-18 27l-18-7l-18-19z"/>
<path class="c28" d="M2119 2779l18-68l-18-31l-18 95z"/>
<path class="c27" d="M1902 2867l18-40l18 35l-18-56l-18 36l-18 6z"/>
<path class="c9" d="M2840 2608l18 20l-18-10l-18-25zM2804 2592l18 22l-18 9l-18 33z"/>
<path class="c10" d="M2822 2614l18-6l-18-15l-18 30zM2515 2769l18 21l-18-73l-18 23z"/>
<path class="c11" d="M2786 2618l18-26l-18 64l-18-59z"/>
<path class="c14" d="M2732 2590l18 24l18-29l18 33l-18-21l-18-26l-18 66l-18-59zM2606 2708l18-69l18 28l-18-11l-18-2l-18-11zM2479 2715l18 14l-18-8l-18-5z"/>
<path class="c16" d="M2678 2620l18-5l18 13l18-38l-18-12l-18-5l-18 9l-18 27z"/>
<path class="c15" d="M2660 2650l18-30l-18-11l-18 36zM2569 2647l18 74l-17-29l-19-44z"/>
<path class="c13" d="M2642 2667l18-17l-18-5l-18 11z"/>
<path class="c12" d="M2587 2721l19-13l-18-65l-18 49zM2533 2790l18-104l-18-11l-18 42zM2497 2729l18 40l-18-29l-18-19z"/>
<path class="c17" d="M2551 2686l18-39l-18 1l-18 27zM2461 2683l18 32l-18 1l-18-17z"/>
<path class="c19" d="M2443 2670l18 13l-18 16l-18-10zM2407 2739l18-66l-18 44l-18-39z"/>
<path class="c20" d="M2425 2673l18-3l-18 19l-18 28zM2389 2724l18 15l-18-61l-18 13z"/>
<path class="c22" d="M2371 2685l18 39l-18-33l-18-17zM2227 2743l18 4l-18 30l-18-1zM1956 2935l18-52l-18 2l-18-23z"/>
<path class="c25" d="M2353 2658l18 27l-18-11l-18 9zM2281 2690l18 26l-18 4l-18-20zM2010 2850l18-49l-18 6l-18 42z"/>
<path class="c24" d="M2335 2719l18-61l-18 25l-18-6zM2263 2740l18-50l-18 10l-18 76zM2119 2793l18-45l-18 31l-18 54zM2064 2801l18 24l-17 8l-18-33zM1920 2925l18-4l-18-94l-18 40z"/>
<path class="c21" d="M2299 2716l18 37l18-34l-18-42l-18 86l-18-43zM2245 2747l18-7l-18 36l-18 1zM2082 2825l19 8l18-40l-18 40l-18 26l-18-26z"/>
<path class="c23" d="M2209 2777l18-34l-18 33l-18-21zM1974 2883l18-7l18-26l-18-1l-18-1l-18 37zM1938 2921l18 14l-18-73l-18-35z"/>
<path class="c28" d="M2191 2662l18 115l-18-22l-18-76z"/>
<path class="c33" d="M2155 2668l18-23l18 17l-18 17l-18-28l-18 60z"/>
<path class="c29" d="M2137 2748l18-80l-18 43l-18 68z"/>
<path class="c27" d="M2028 2801l18-17l18 17l-17-1l-19 6l-18 1z"/>
<path class="c9" d="M2858 2609l18 31l-18-12l-18-20z"/>
<path class="c10" d="M2840 2614l18-5l-18-1l-18 6z"/>
<path class="c12" d="M2822 2586l18 28l-18 0l-18-22zM2605 2696l18 0l-17 12l-19 13z"/>
<path class="c13" d="M2804 2581l18 5l-18 6l-18 26zM2623 2696l18 12l-17-69l-18 69zM2551 2734l18-71l-18 23l-18 104zM2515 2713l18 8l-18 48l-18-40z"/>
<path class="c14" d="M2786 2592l18-11l-18 37l-18-33zM2641 2708l19-77l-18 36l-18-28z"/>
<path class="c15" d="M2768 2605l18-13l-18-7l-18 29zM2660 2631l18 6l-18 13l-18 17zM2587 2662l18 34l-18 25l-18-74z"/>
<path class="c16" d="M2750 2579l18 26l-18 9l-18-24zM2714 2613l18-34l-18 49l-18-13zM2678 2637l18-40l-18 23l-18 30zM2497 2706l18 7l-18 16l-18-14z"/>
<path class="c17" d="M2732 2579l18 0l-18 11l-18 38zM2696 2597l18 16l-18 2l-18 5zM2569 2663l18-1l-18-15l-18 39z"/>
<path class="c11" d="M2533 2721l18 13l-18 56l-18-21z"/>
<path class="c19" d="M2479 2665l18 41l-18 9l-18-32z"/>
<path class="c21" d="M2461 2674l18-9l-18 18l-18-13zM2425 2671l18 14l-18-12l-18 66zM2317 2741l18 10l18-41l-18 9l-18 34l-18-37zM2100 2852l18 25l-17-44l-19-8zM1992 2960l18-67l-18-17l-18 7z"/>
<path class="c22" d="M2443 2685l18-11l-18-4l-18 3zM2389 2680l18 17l-18 27l-18-39zM2118 2877l18-60l-17-24l-18 40z"/>
<path class="c20" d="M2407 2697l18-26l-18 68l-18-15zM1938 2953l18-16l-18-16l-18 4z"/>
<path class="c24" d="M2353 2710l18 10l18-40l-18 5l-18-27l-18 61zM2281 2722l18 52l-18-84l-18 50zM2227 2720l18 50l18-45l-18 22l-18-4l-18 34z"/>
<path class="c23" d="M2299 2774l18-33l-18-25l-18-26zM2082 2844l18 8l-18-27l-18-24zM2010 2893l18-17l-18-26l-18 26z"/>
<path class="c25" d="M2263 2725l18-3l-18 18l-18 7zM2136 2817l19-29l-18-40l-18 45zM2028 2876l18-42l-18-33l-18 49z"/>
<path class="c28" d="M2209 2727l18-7l-18 57l-18-115zM2046 2834l18-39l-18-11l-18 17z"/>
<path class="c33" d="M2191 2668l18 59l-18-65l-18-17z"/>
<path class="c34" d="M2173 2706l18-38l-18-23l-18 23z"/>
<path class="c30" d="M2155 2788l18-82l-18-38l-18 80z"/>
<path class="c27" d="M2064 2795l18 49l-18-43l-18-17z"/>
<path class="c18" d="M1956 2937l18 35l18-12l-18-77l-18 52l-18-14z"/>
<path class="c11" d="M2858 2606l18-6l18-18l-18 58l-18-31l-18 5z"/>
<path class="c14" d="M2840 2551l18 55l-18 8l-18-28zM2641 2648l18 10l-18 50l-18-12z"/>
<path class="c17" d="M2822 2564l18-13l-18 35l-18-5zM2533 2663l18 55l-18 3l-18-8z"/>
<path class="c16" d="M2768 2611l18-17l18-6l18-24l-18 17l-18 11l-18 13l-18-26zM2623 2647l18 1l-18 48l-18 0zM2569 2675l18 32l-18-44l-18 71zM1974 2986l18 2l18-30l-18 2l-18 12l-18-35z"/>
<path class="c18" d="M2750 2566l18 45l-18-32l-18 0zM2677 2640l18-43l-17 40l-18-6zM2587 2707l18-89l18 29l-18 49l-18-34l-18 1zM2010 2958l18-15l-18-50l-18 67z"/>
<path class="c19" d="M2695 2597l19-16l18-5l18-10l-18 13l-18 34l-18-16l-18 40zM2515 2679l18-16l-18 50l-18-7zM1956 2942l18 44l-18-49l-18 16z"/>
<path class="c15" d="M2659 2658l18-18l-17-9l-19 77zM2551 2718l18-43l-18 59l-18-13z"/>
<path class="c20" d="M2497 2678l18 1l-18 27l-18-41zM2118 2898l18-54l18 43l-18-70l-18 60l-18-25zM2028 2943l18-35l-18-32l-18 17z"/>
<path class="c22" d="M2479 2676l18 2l-18-13l-18 9zM2389 2737l18-6l-18-51l-18 40zM2353 2769l18-74l-18 15l-18 41zM2154 2887l18-80l-17-19l-19 29z"/>
<path class="c23" d="M2407 2731l18-41l18 7l18-23l18 2l-18-2l-18 11l-18-14l-18 26l-18-17zM2371 2695l18 42l-18-17l-18-10zM2299 2752l18 4l-18 18l-18-52zM2100 2798l18 100l-18-46l-18-8zM2046 2908l18-41l-18-33l-18 42z"/>
<path class="c21" d="M2317 2756l18 14l18-1l-18-18l-18-10l-18 33z"/>
<path class="c25" d="M2281 2759l18-7l-18-30l-18 3z"/>
<path class="c24" d="M2263 2773l18-14l-18-34l-18 45z"/>
<path class="c26" d="M2245 2728l18 45l-18-3l-18-50z"/>
<path class="c29" d="M2227 2713l18 15l-18-8l-18 7zM2172 2807l19-127l-18 26l-18 82z"/>
<path class="c32" d="M2209 2675l18 38l-18 14l-18-59z"/>
<path class="c33" d="M2191 2680l18-5l-18-7l-18 38z"/>
<path class="c27" d="M2064 2867l18-74l18 5l-18 46l-18-49l-18 39z"/>
<path class="c12" d="M2894 2587l18 69l-18-74l-18 18z"/>
<path class="c13" d="M2876 2611l18-24l-18 13l-18 6z"/>
<path class="c16" d="M2858 2526l18 85l-18-5l-18-55z"/>
<path class="c18" d="M2840 2626l18-100l-18 25l-18 13zM2713 2677l18-41l18 15l-17-75l-18 5l-19 16zM2641 2671l18-26l-18 3l-18-1zM2569 2682l18 18l18-70l-18 77l-18-32l-18 43zM2010 2942l18 5l18-19l-18 15l-18 15l-18 30z"/>
<path class="c15" d="M2804 2630l18-4l18 0l-18-62l-18 24l-18 6z"/>
<path class="c17" d="M2786 2560l18 70l-18-36l-18 17zM2659 2645l18 18l18-24l18 38l-18-80l-18 43l-18 18l-18-10zM1974 3006l18-13l18-51l-18 46l-18-2l-18-44z"/>
<path class="c20" d="M2768 2575l18-15l-18 51l-18-45zM2551 2634l18 48l-18 36l-18-55zM2046 2928l18-55l-18 35l-18 35z"/>
<path class="c19" d="M2749 2651l19-76l-18-9l-18 10z"/>
<path class="c21" d="M2623 2589l18 82l-18-24l-18-29zM2335 2788l18-26l18-5l-18 12l-18 1l-18-14zM2163 2847l9-33l-9 33l-9 40zM2136 2833l18 28l-18-17l-18 54z"/>
<path class="c22" d="M2605 2630l18-41l-18 29l-18 89zM2515 2650l18 24l18-40l-18 29l-18 16l-18-1zM2407 2704l18 31l-18-4l-18 6zM2371 2757l18 0l-18-62l-18 74zM2317 2768l18 20l-18-32l-18-4zM2154 2861l18-55l-18 81l-18-43z"/>
<path class="c24" d="M2497 2638l18 12l-18 28l-18-2zM2443 2665l18 54l-18-22l-18-7zM2281 2778l18-22l18 12l-18-16l-18 7l-18 14zM2172 2814l9-33l-9 26l-9 40zM2118 2836l18-3l-18 65l-18-100z"/>
<path class="c25" d="M2479 2655l18-17l-18 38l-18-2zM2263 2759l18 19l-18-5l-18-45zM2172 2806l9-25l-9 33l-9 33z"/>
<path class="c23" d="M2461 2719l18-64l-18 19l-18 23zM2425 2735l18-70l-18 25l-18 41zM2389 2757l18-53l-18 33l-18-42zM2064 2873l18-23l-18 17l-18 41z"/>
<path class="c29" d="M2245 2707l18 52l-18-31l-18-15z"/>
<path class="c33" d="M2226 2658l19 49l-18 6l-18-38z"/>
<path class="c35" d="M2208 2690l18-32l-17 17l-18 5z"/>
<path class="c31" d="M2190 2755l18-65l-17-10l-19 127z"/>
<path class="c27" d="M2181 2781l9-26l-9 26l-9 33zM2082 2850l18-41l-18-16l-18 74z"/>
<path class="c28" d="M2100 2809l18 27l-18-38l-18-5z"/>
<path class="c10" d="M2912 2611l18 49l-18-4l-18-69z"/>
<path class="c14" d="M2894 2586l18 25l-18-24l-18 24z"/>
<path class="c16" d="M2858 2588l18 33l18-35l-18 25l-18-85l-18 100zM2822 2580l18 6l-18 40l-18 4zM2767 2630l18 48l-17-103l-19 76zM2731 2668l18-55l-18 23l-18 41zM1992 2975l18 38l-18-20l-18 13z"/>
<path class="c15" d="M2840 2586l18 2l-18 38l-18 0z"/>
<path class="c18" d="M2803 2638l19-58l-18 50l-18-70zM2028 2980l18-17l-18-16l-18-5z"/>
<path class="c17" d="M2785 2678l18-40l-17-78l-18 15zM2749 2613l18 17l-18 21l-18-15zM2713 2615l18 53l-18 9l-18-38zM2010 3013l18-33l-18-38l-18 51z"/>
<path class="c19" d="M2695 2621l18-6l-18 24l-18 24zM2046 2963l18-21l-18-14l-18 19z"/>
<path class="c21" d="M2677 2588l18 33l-18 42l-18-18zM2064 2942l18-38l-18-31l-18 55z"/>
<path class="c22" d="M2659 2592l18-4l-18 57l-18 26zM2578 2634l9 9l-9 48l-9-9zM2335 2801l18-48l18 4l18 0l18-16l-18 16l-18 0l-18 5l-18 26l-18-20z"/>
<path class="c24" d="M2641 2580l18 12l-18 79l-18-82zM2425 2726l18-28l-18 37l-18-31zM2154 2793l18 71l18-67l-18 9l-18 55l-18-28zM2082 2904l18-28l-18-26l-18 23z"/>
<path class="c25" d="M2623 2636l18-56l-18 9l-18 41zM2596 2596l9 10l-9 47l-9-10zM2551 2619l18 18l18-51l-18 96l-18-48l-18 40zM2280 2739l19 73l-18-34l-18-19z"/>
<path class="c23" d="M2605 2606l18 30l-18-6l-18 70zM2407 2741l18-15l-18-22l-18 53zM2299 2812l18-41l18 30l-18-33l-18-12l-18 22z"/>
<path class="c20" d="M2587 2643l9 10l-9 47l-9-9z"/>
<path class="c27" d="M2587 2586l9 10l-9 47l-9-9zM2497 2664l18-21l18-24l-18 31l-18-12l-18 17z"/>
<path class="c26" d="M2533 2619l18 0l-18 55l-18-24zM2443 2698l18-38l18-9l18 13l-18-9l-18 64l-18-54l-18 70zM2100 2876l18-23l18-11l18-49l-18 40l-18 3l-18-27l-18 41z"/>
<path class="c31" d="M2262 2663l18 76l-17 20l-18-52z"/>
<path class="c34" d="M2244 2693l18-30l-17 44l-19-49z"/>
<path class="c35" d="M2226 2684l18 9l-18-35l-18 32z"/>
<path class="c32" d="M2208 2766l18-82l-18 6l-18 65z"/>
<path class="c28" d="M2190 2797l18-31l-18-11l-18 51z"/>
<path class="c12" d="M2930 2618l18-32l-18 74l-18-49z"/>
<path class="c14" d="M2912 2627l18-9l-18-7l-18-25z"/>
<path class="c15" d="M2894 2588l18 39l-18-41l-18 35z"/>
<path class="c16" d="M2876 2615l18-27l-18 33l-18-33zM2785 2612l18 33l18-72l-18 65l-18 40l-18-48zM2010 3024l18-10l18 5l18-29l-18-27l-18 17l-18 33l-18-38z"/>
<path class="c17" d="M2839 2621l19 5l18-11l-18-27l-18-2l-18-6zM2749 2631l18 58l-18-76l-18 55z"/>
<path class="c18" d="M2821 2573l18 48l-17-41l-19 58zM2767 2689l18-77l-18 18l-18-17zM2064 2990l18-16l-18-32l-18 21z"/>
<path class="c20" d="M2731 2609l18 22l-18 37l-18-53zM2082 2974l18-66l-18-4l-18 38z"/>
<path class="c21" d="M2695 2661l18-5l18-47l-18 6l-18 6l-18-33z"/>
<path class="c24" d="M2677 2601l18 60l-18-73l-18 4zM2407 2751l18-33l-18 23l-18 16z"/>
<path class="c27" d="M2623 2607l18-18l18-8l18 20l-18-9l-18-12l-18 56l-18-30zM2569 2630l18 23l18-51l-18-16l-18 51l-18-18zM2443 2663l18-2l-18 37l-18 28zM2298 2736l18-8l-17 84l-19-73zM2172 2815l18-2l-18 51l-18-71zM2136 2848l18-34l-18 28l-18 11z"/>
<path class="c28" d="M2605 2602l18 5l-18-1l-18-20zM2533 2632l18 7l18-9l-18-11l-18 0l-18 24zM2208 2824l18-37l-18-21l-18 31zM2154 2814l18 1l-18-22l-18 49z"/>
<path class="c29" d="M2497 2633l18-19l18 18l-18 11l-18 21l-18-13zM2461 2661l18-26l-18 25l-18 38z"/>
<path class="c30" d="M2479 2635l18-2l-18 18l-18 9z"/>
<path class="c26" d="M2425 2718l18-55l-18 63l-18 15zM2316 2728l18-4l-17 47l-18 41zM2190 2813l18 11l-18-27l-18 67z"/>
<path class="c23" d="M2389 2758l18-7l-18 6l-18 0zM2100 2908l18-12l-18-20l-18 28z"/>
<path class="c25" d="M2334 2724l19 17l18-21l18 38l-18-1l-18-4l-18 48l-18-30zM2118 2896l18-48l-18 5l-18 23z"/>
<path class="c32" d="M2280 2710l18 26l-18 3l-18-76zM2226 2787l18-64l-18-39l-18 82z"/>
<path class="c34" d="M2244 2723l18-31l18 18l-18-47l-18 30l-18-9z"/>
<path class="c14" d="M2948 2579l18 46l-18-39l-18 32z"/>
<path class="c15" d="M2930 2577l18 2l-18 39l-18 9z"/>
<path class="c16" d="M2857 2650l18-26l18-5l19-13l18-29l-18 50l-18-39l-18 27l-18 11l-19-5z"/>
<path class="c18" d="M2839 2592l18 58l-18-29l-18-48zM2803 2622l18 5l-18 18l-18-33z"/>
<path class="c19" d="M2821 2627l18-35l-18-19l-18 72zM2767 2585l18 78l-18 26l-18-58zM2100 2952l18 16l-18-60l-18 66z"/>
<path class="c17" d="M2785 2663l18-41l-18-10l-18 77zM2082 3032l18-80l-18 22l-18 16z"/>
<path class="c23" d="M2713 2577l18 21l18-19l18 6l-18 46l-18-22l-18 47l-18 5zM2136 2962l18-79l-18-35l-18 48z"/>
<path class="c26" d="M2695 2580l18-3l-18 84l-18-60zM2407 2720l18-15l-18 46l-18 7zM2172 2904l18-36l-18-53l-18-1z"/>
<path class="c27" d="M2677 2606l18-26l-18 21l-18-20zM2388 2716l19 4l-18 38l-18-38zM2190 2868l18-37l-18-18l-18 2z"/>
<path class="c28" d="M2659 2612l18-6l-18-25l-18 8zM2425 2705l18-50l-18 63l-18 33zM2370 2734l18-18l-17 4l-18 21zM2208 2831l18-54l-18 47l-18-11z"/>
<path class="c29" d="M2641 2572l18 40l-18-23l-18 18zM2587 2587l18 20l18-25l-18 20l-18 51l-18-23zM2443 2655l18 65l18-77l-18 18l-18 2l-18 55zM2352 2710l18 24l-17 7l-19-17z"/>
<path class="c30" d="M2623 2582l18-10l-18 35l-18-5zM2551 2637l18-59l-18 61l-18-7zM2334 2733l18-23l-18 14l-18 4zM2226 2777l18-38l-18 48l-18 37z"/>
<path class="c31" d="M2569 2578l18 9l-18 43l-18 9zM2533 2623l18 14l-18-5l-18-18zM2479 2643l18-13l-18 5l-18 26zM2316 2706l18 27l-18-5l-18 8z"/>
<path class="c32" d="M2497 2630l18-27l18 20l-18-9l-18 19l-18 2zM2244 2739l18-17l-18 1l-18 64z"/>
<path class="c33" d="M2298 2681l18 25l-18 30l-18-26zM2262 2722l18 22l-18-52l-18 31z"/>
<path class="c34" d="M2280 2744l18-63l-18 29l-18-18z"/>
<path class="c25" d="M2154 2883l18 21l-18-90l-18 34z"/>
<path class="c20" d="M2118 2968l18-6l-18-66l-18 12z"/>
<path class="c13" d="M2064 3073l18-41l-18-42l-18 29zM2028 3077l18 29l-18-92l-18 10z"/>
<path class="c12" d="M2046 3106l18-33l-18-54l-18-5z"/>
<path class="c15" d="M2966 2576l18 36l-18 13l-18-46z"/>
<path class="c19" d="M2929 2573l18-11l19 14l-18 3l-18-2l-18 29z"/>
<path class="c18" d="M2893 2606l18-16l18-17l-17 33l-19 13l-18 5zM2136 2999l18-90l-18 53l-18 6z"/>
<path class="c17" d="M2875 2598l18 8l-18 18l-18 26zM2118 2998l18 1l-18-31l-18-16z"/>
<path class="c20" d="M2857 2586l18 12l-18 52l-18-58z"/>
<path class="c22" d="M2839 2564l18 22l-18 6l-18 35zM2172 2927l18-37l-18 14l-18-21z"/>
<path class="c23" d="M2803 2562l18-15l18 17l-18 63l-18-5l-18 41zM2190 2890l18-2l-18-20l-18 36z"/>
<path class="c21" d="M2785 2590l9 23l-9 50l-9-39zM2154 2909l18 18l-18-44l-18 79z"/>
<path class="c24" d="M2776 2567l9 23l-9 34l-9-39z"/>
<path class="c25" d="M2794 2556l9 6l-9 51l-9-23zM2208 2888l18-37l-18-20l-18 37z"/>
<path class="c27" d="M2785 2549l9 7l-9 34l-9-23zM2749 2607l18-51l18-7l-18 36l-18-6l-18 19z"/>
<path class="c28" d="M2731 2539l18 68l-18-9l-18-21z"/>
<path class="c30" d="M2695 2567l18-16l18-12l-18 38l-18 3l-18 26zM2443 2724l18-38l-18-31l-18 50zM2370 2718l18 10l18-50l18 38l-17 4l-19-4l-18 18l-18-24z"/>
<path class="c29" d="M2677 2581l18-14l-18 39l-18 6zM2424 2716l19 8l-18-19l-18 15zM2226 2851l18-69l-18-5l-18 54z"/>
<path class="c31" d="M2659 2546l18 35l-18 31l-18-40zM2569 2639l18-13l-18-48l-18 59zM2461 2686l18-47l18-6l-18 10l-18 77l-18-65z"/>
<path class="c33" d="M2641 2558l18-12l-18 26l-18 10zM2497 2633l18 2l18-16l-18-16l-18 27l-18 13zM2262 2756l18-4l18-27l18 4l18-13l18-51l-18 68l-18-27l-18-25l-18 63l-18-22l-18 17z"/>
<path class="c32" d="M2587 2626l18-35l18-22l18-11l-18 24l-18 25l-18-20l-18-9zM2551 2569l18 70l-18-2l-18-14zM2352 2665l18 53l-18-8l-18 23zM2244 2782l18-26l-18-17l-18 38z"/>
<path class="c34" d="M2533 2619l18-50l-18 54l-18-20z"/>
<path class="c16" d="M2100 3030l18-32l-18-46l-18 80z"/>
<path class="c12" d="M2082 3082l18-52l-18 2l-18 41z"/>
<path class="c10" d="M2064 3090l18-8l-18-9l-18 33z"/>
<path class="c9" d="M2046 3138l18-48l-18 16l-18-29z"/>
<path class="c16" d="M2983 2582l18 31l-17-1l-18-36z"/>
<path class="c19" d="M2965 2570l18 12l-17-6l-19-14zM2154 2966l18 23l-18-80l-18 90z"/>
<path class="c21" d="M2929 2587l18-32l18 15l-18-8l-18 11l-18 17z"/>
<path class="c20" d="M2875 2601l18 42l18-67l18 11l-18 3l-18 16l-18-8l-18-12zM2172 2989l18-59l-18-3l-18-18z"/>
<path class="c23" d="M2857 2613l18-12l-18-15l-18-22z"/>
<path class="c25" d="M2839 2590l18 23l-18-49l-18-17zM2208 2888l18-57l-18 57l-18 2z"/>
<path class="c27" d="M2821 2544l18 46l-18-43l-18 15zM2226 2831l18-42l-18 62l-18 37z"/>
<path class="c29" d="M2803 2556l18-12l-18 18l-18-13zM2749 2575l18-17l18-18l-18 16l-18 51l-18-68z"/>
<path class="c30" d="M2785 2540l18 16l-18-7l-18 7z"/>
<path class="c32" d="M2695 2545l18 21l18-32l18 41l-18-36l-18 12l-18 16l-18 14zM2605 2594l18 9l-18-12l-18 35zM2460 2668l18-15l-17 33l-18 38zM2388 2694l18 24l18-27l18-7l-18 32l-18-38l-18 50l-18-10zM2262 2744l18 50l18-49l-18 7l-18 4l-18 26z"/>
<path class="c33" d="M2677 2544l18 1l-18 36l-18-35zM2623 2603l18-41l-18 7l-18 22zM2587 2571l18 23l-18 32l-18 13zM2533 2629l18 4l-18-14l-18 16zM2478 2653l19-9l-18-5l-18 47zM2334 2689l18 63l18-30l18-28l-18 24l-18-53l-18 51l-18 13zM2298 2745l18-34l-18 14l-18 27z"/>
<path class="c34" d="M2641 2562l18 9l18-27l-18 2l-18 12l-18 11zM2497 2644l18-27l18 12l-18 6l-18-2l-18 6zM2316 2711l18-22l-18 40l-18-4z"/>
<path class="c35" d="M2551 2633l18-72l18 10l-18 68l-18-70l-18 50z"/>
<path class="c31" d="M2442 2684l18-16l-17 56l-19-8zM2244 2789l18-45l-18 38l-18 69z"/>
<path class="c22" d="M2190 2930l18-42l-18 2l-18 37z"/>
<path class="c17" d="M2136 3012l18-46l-18 33l-18-1z"/>
<path class="c15" d="M2118 3042l18-30l-18-14l-18 32z"/>
<path class="c13" d="M2100 3036l18 6l-18-12l-18 52z"/>
<path class="c12" d="M2082 3074l18-38l-18 46l-18 8z"/>
<path class="c10" d="M2064 3085l18-11l-18 16l-18 48z"/>
<path class="c15" d="M3001 2630l18 34l-18-51l-18-31zM2136 3045l18-48l-18 15l-18 30z"/>
<path class="c18" d="M2983 2589l18 41l-18-48l-18-12zM2154 2997l18-28l18 30l18-44l-18-25l-18 59l-18-23l-18 46z"/>
<path class="c21" d="M2947 2585l18 9l18-5l-18-19l-18-15l-18 32z"/>
<path class="c20" d="M2929 2670l18-85l-18 2l-18-11z"/>
<path class="c17" d="M2911 2663l18 7l-18-94l-18 67z"/>
<path class="c19" d="M2893 2620l18 43l-18-20l-18-42z"/>
<path class="c23" d="M2875 2553l18 67l-18-19l-18 12zM2208 2955l18-72l-18 5l-18 42z"/>
<path class="c25" d="M2857 2581l18-28l-18 60l-18-23z"/>
<path class="c27" d="M2839 2559l18 22l-18 9l-18-46zM2226 2883l18-28l-18-24l-18 57z"/>
<path class="c29" d="M2821 2578l18-19l-18-15l-18 12z"/>
<path class="c30" d="M2803 2534l18 44l-18-22l-18-16zM2713 2635l18-3l-18-66l-18-21zM2298 2805l18 14l-18-74l-18 49zM2244 2855l18-40l-18-26l-18 42z"/>
<path class="c31" d="M2767 2560l18 3l18-29l-18 6l-18 18l-18 17z"/>
<path class="c32" d="M2731 2632l18-76l18 4l-18 15l-18-41l-18 32zM2532 2682l19 3l18-33l-18-19l-18-4l-18-12zM2352 2766l18-9l18-23l18 9l18-19l-18-6l-18-24l-18 28l-18 30l-18-63zM2316 2819l18-49l-18-59l-18 34zM2262 2815l18-22l18 12l-18-11l-18-50l-18 45z"/>
<path class="c33" d="M2695 2560l18 75l-18-90l-18-1zM2514 2662l18 20l-17-65l-18 27zM2424 2724l18-51l18 51l18-55l-18-1l-18 16l-18 7l-18 27zM2334 2770l18-4l-18-77l-18 22z"/>
<path class="c34" d="M2677 2553l18 7l-18-16l-18 27zM2623 2578l18-5l-18 30l-18-9zM2569 2652l18-50l-18-41l-18 72zM2478 2669l18-5l18-2l-17-18l-19 9l-18 15z"/>
<path class="c35" d="M2641 2573l18-17l18-3l-18 18l-18-9l-18 41zM2605 2572l18 6l-18 16l-18-23z"/>
<path class="c36" d="M2587 2602l18-30l-18-1l-18-10z"/>
<path class="c14" d="M2082 3046l18-9l18 41l18-33l-18-3l-18-6l-18 38l-18 11z"/>
<path class="c16" d="M3019 2578l18 4l-18 82l-18-34z"/>
<path class="c18" d="M3001 2630l18-52l-18 52l-18-41zM2172 3012l18-4l18-36l-18 27l-18-30l-18 28z"/>
<path class="c20" d="M2983 2570l18 60l-18-41l-18 5zM2911 2592l18 34l-18 37l-18-43z"/>
<path class="c21" d="M2965 2603l18-33l-18 24l-18-9z"/>
<path class="c19" d="M2947 2643l18-40l-18-18l-18 85zM2208 2972l18-25l-18 8l-18 44z"/>
<path class="c17" d="M2929 2626l18 17l-18 27l-18-7zM2154 3009l18 3l-18-15l-18 48z"/>
<path class="c25" d="M2893 2583l18 9l-18 28l-18-67z"/>
<path class="c26" d="M2875 2593l18-10l-18-30l-18 28z"/>
<path class="c27" d="M2857 2604l18-11l-18-12l-18-22zM2244 2900l18-73l-18 28l-18 28z"/>
<path class="c28" d="M2839 2583l18 21l-18-45l-18 19z"/>
<path class="c30" d="M2821 2551l18 32l-18-5l-18-44zM2749 2624l18-61l-18-7l-18 76zM2550 2681l18 41l18-56l-17-14l-18 33l-19-3zM2370 2791l18 7l-18-41l-18 9zM2334 2812l18-32l-18-10l-18 49zM2262 2827l18-1l-18-11l-18 40z"/>
<path class="c33" d="M2767 2563l18-7l18-48l18 43l-18-17l-18 29l-18-3l-18-4zM2586 2666l19-29l-18-35l-18 50zM2532 2639l18 42l-18 1l-18-20zM2478 2658l18 35l18-1l-18-28l-18 5l-18 55zM2442 2729l18-33l-18-23l-18 51z"/>
<path class="c29" d="M2731 2594l18 30l-18 8l-18 3zM2316 2807l18 5l-18 7l-18-14z"/>
<path class="c31" d="M2713 2624l18-30l-18 41l-18-75zM2424 2746l18-17l-18-5l-18 19zM2352 2780l18 11l-18-25l-18 4zM2280 2826l18-32l18 13l-18-2l-18-12l-18 22z"/>
<path class="c34" d="M2695 2563l18 61l-18-64l-18-7zM2514 2692l18-53l-18 23l-18 2zM2460 2696l18-38l-18 66l-18-51z"/>
<path class="c35" d="M2659 2573l18 22l18-32l-18-10l-18 3l-18 17zM2605 2637l18-59l-18-6l-18 30z"/>
<path class="c36" d="M2623 2578l18-10l18 5l-18 0l-18 5l-18-6z"/>
<path class="c32" d="M2388 2798l18-82l18 30l-18-3l-18-9l-18 23z"/>
<path class="c23" d="M2226 2947l18-47l-18-17l-18 72z"/>
<path class="c15" d="M2136 3060l18-51l-18 36l-18 33zM2100 3095l18 1l-18-59l-18 9z"/>
<path class="c14" d="M2118 3096l18-36l-18 18l-18-41z"/>
<path class="c22" d="M3037 2583l18-51l-18 50l-18-4zM3001 2566l18 13l-18 51l-18-60zM2929 2625l18-17l-18 18l-18-34z"/>
<path class="c20" d="M3019 2579l18 4l-18-5l-18 52zM2947 2608l18 27l-18 8l-18-17zM2226 3021l18-84l-18 10l-18 25z"/>
<path class="c24" d="M2983 2547l18 19l-18 4l-18 33zM2911 2617l18 8l-18-33l-18-9zM2244 2937l18-59l-18 22l-18 47z"/>
<path class="c21" d="M2965 2635l18-88l-18 56l-18 40z"/>
<path class="c25" d="M2893 2609l18 8l-18-34l-18 10z"/>
<path class="c26" d="M2875 2598l18 11l-18-16l-18 11z"/>
<path class="c27" d="M2857 2624l18-26l-18 6l-18-21z"/>
<path class="c29" d="M2839 2568l18 56l-18-41l-18-32zM2280 2885l18-28l18 5l-18-68l-18 32l-18 1z"/>
<path class="c33" d="M2821 2541l18 27l-18-17l-18-43zM2622 2680l18-44l-17-58l-18 59zM2514 2699l18-29l18 49l-18-80l-18 53l-18 1zM2442 2690l18 14l-18 25l-18 17z"/>
<path class="c34" d="M2803 2564l18-23l-18-33l-18 48zM2695 2573l18 40l-18-50l-18 32zM2496 2674l18 25l-18-6l-18-35zM2460 2704l18-13l-18 5l-18 33zM2406 2686l18-5l-18 35l-18 82z"/>
<path class="c32" d="M2785 2625l18-61l-18-8l-18 7zM2713 2613l18 36l-18-25l-18-61zM2550 2719l18-12l-18-26l-18-42zM2334 2770l18-3l18 1l18-4l18-78l-18 112l-18-7l-18-11l-18 32l-18-5z"/>
<path class="c30" d="M2731 2649l18-15l18-35l18 26l-18-62l-18 61l-18-30l-18 30zM2568 2707l18-21l18 20l-18-40l-18 56l-18-41z"/>
<path class="c35" d="M2640 2636l19-15l18-14l18-34l-18 22l-18-22l-18-5l-18 10zM2478 2691l18-17l-18-16l-18 38zM2424 2681l18 9l-18 56l-18-30z"/>
<path class="c31" d="M2604 2706l18-26l-17-43l-19 29zM2316 2862l18-92l-18 37l-18-13z"/>
<path class="c28" d="M2262 2878l18 7l-18-58l-18 73z"/>
<path class="c17" d="M2190 3007l18 34l18-20l-18-49l-18 36l-18 4zM2154 3035l18-4l-18-22l-18 51z"/>
<path class="c18" d="M2172 3031l18-24l-18 5l-18-3z"/>
<path class="c15" d="M2136 3071l18-36l-18 25l-18 36z"/>
<path class="c13" d="M2117 3112l19-41l-18 25l-18-1z"/>
<path class="c22" d="M3055 2604l18-23l-18-49l-18 51zM2965 2596l18 35l-18 4l-18-27z"/>
<path class="c23" d="M3037 2533l18 71l-18-21l-18-4zM2983 2631l18-50l-18-34l-18 88zM2929 2600l18 26l18-30l-18 12l-18 17l-18-8z"/>
<path class="c25" d="M3001 2581l18-11l18-37l-18 46l-18-13l-18-19zM2262 2965l18-71l-18-16l-18 59z"/>
<path class="c26" d="M2911 2592l18 8l-18 17l-18-8z"/>
<path class="c27" d="M2875 2606l18-3l18-11l-18 17l-18-11l-18 26zM2280 2894l18 12l18-21l-18-28l-18 28l-18-7z"/>
<path class="c29" d="M2857 2586l18 20l-18 18l-18-56z"/>
<path class="c32" d="M2839 2565l18 21l-18-18l-18-27zM2803 2584l18-6l-18-14l-18 61zM2731 2626l18-65l-18 88l-18-36zM2604 2661l18-9l18 8l18-4l-18-20l-18 44l-18 26l-18-20z"/>
<path class="c33" d="M2821 2578l18-13l-18-24l-18 23zM2658 2656l18-28l-17-7l-19 15zM2568 2651l18-34l18 44l-18 25l-18 21l-18 12zM2478 2739l18 1l-18-49l-18 13zM2352 2807l18-38l18 5l18-33l-18 23l-18 4l-18-1l-18 3z"/>
<path class="c31" d="M2785 2601l18-17l-18 41l-18-26zM2749 2561l18 92l-18-19l-18 15zM2334 2830l18-23l-18-37l-18 92z"/>
<path class="c30" d="M2767 2653l18-52l-18-2l-18 35z"/>
<path class="c34" d="M2713 2576l18 50l-18-13l-18-40zM2676 2628l18-32l-17 11l-18 14zM2532 2673l18-6l18-16l-18 68l-18-49l-18 29zM2496 2740l18-73l-18 7l-18 17zM2460 2732l18 7l-18-35l-18-14z"/>
<path class="c35" d="M2694 2596l19-20l-18-3l-18 34zM2514 2667l18 6l-18 26l-18-25zM2442 2717l18 15l-18-42l-18-9zM2406 2741l18-9l-18-46l-18 78z"/>
<path class="c36" d="M2424 2732l18-15l-18-36l-18 5z"/>
<path class="c28" d="M2316 2885l18-55l-18 32l-18-5z"/>
<path class="c19" d="M2244 3011l18-46l-18-28l-18 84z"/>
<path class="c16" d="M2190 3104l18-56l18-19l18-18l-18 10l-18 20l-18-34l-18 24z"/>
<path class="c14" d="M2171 3120l19-16l-18-73l-18 4z"/>
<path class="c13" d="M2153 3143l18-23l-17-85l-18 36z"/>
<path class="c12" d="M2135 3124l18 19l-17-72l-19 41z"/>
<path class="c24" d="M3073 2533l18 10l-18 38l-18 23zM2983 2594l18 5l18-42l-18 24l-18 50l-18-35zM2298 2943l18 25l18-66l-18-17l-18 21l-18-12z"/>
<path class="c25" d="M3055 2585l18-52l-18 71l-18-71zM2965 2578l18 16l-18 2l-18 30z"/>
<path class="c26" d="M3037 2519l18 66l-18-52l-18 37z"/>
<path class="c27" d="M3019 2557l18-38l-18 51l-18 11zM2947 2561l18 17l-18 48l-18-26z"/>
<path class="c28" d="M2893 2586l18 23l18-33l18-15l-18 39l-18-8l-18 11l-18 3z"/>
<path class="c30" d="M2875 2563l18 23l-18 20l-18-20z"/>
<path class="c32" d="M2857 2567l18-4l-18 23l-18-21zM2803 2629l18-31l18-6l-18-14l-18 6l-18 17zM2496 2735l18 11l-18-6l-18-1zM2352 2792l18 27l18 2l18 8l-18-55l-18-5l-18 38l-18 23z"/>
<path class="c33" d="M2839 2592l18-25l-18-2l-18 13zM2767 2599l18-13l-18 67l-18-92zM2478 2745l18-10l-18 4l-18-7zM2406 2829l18-56l-18-32l-18 33z"/>
<path class="c31" d="M2785 2586l18 43l-18-28l-18 52z"/>
<path class="c34" d="M2730 2611l19-28l18 16l-18-38l-18 65l-18-50zM2640 2664l18-17l18-37l-18 46l-18 4l-18-8zM2514 2746l18-62l-18-17l-18 73zM2424 2773l18-19l18 8l18-17l-18-13l-18-15l-18 15l-18 9z"/>
<path class="c35" d="M2676 2610l18-7l18 12l18-4l-17-35l-19 20l-18 32l-18 28zM2622 2619l18 45l-18-12l-18 9zM2550 2681l18-16l-18 2l-18 6z"/>
<path class="c36" d="M2568 2665l18-4l18 9l18-51l-18 42l-18-44l-18 34l-18 16zM2532 2684l18-3l-18-8l-18-6z"/>
<path class="c29" d="M2334 2902l18-110l-18 38l-18 55z"/>
<path class="c23" d="M2280 2999l18-56l-18-49l-18 71z"/>
<path class="c19" d="M2262 2996l18 3l-18-34l-18 46z"/>
<path class="c18" d="M2244 3038l18-42l-18 15l-18 18z"/>
<path class="c15" d="M2225 3085l19-47l-18-9l-18 19z"/>
<path class="c13" d="M2207 3109l18-24l-17-37l-18 56z"/>
<path class="c10" d="M2189 3174l18-65l-17-5l-19 16z"/>
<path class="c8" d="M2171 3206l18-32l-18-54l-18 23z"/>
<path class="c9" d="M2153 3162l18 44l-18-63l-18-19z"/>
<path class="c27" d="M3091 2522l18 40l-18-19l-18-10zM2983 2582l18-1l18-45l-18 63l-18-5l-18-16z"/>
<path class="c28" d="M3073 2499l18 23l-18 11l-18 52zM3019 2536l18 0l-18 21l-18 42zM2965 2611l18-29l-18-4l-18-17zM2911 2612l18 8l-18-11l-18-23z"/>
<path class="c29" d="M3037 2536l18 3l18-40l-18 86l-18-66l-18 38zM2929 2620l18-65l-18 21l-18 33zM2352 2880l18-11l-18-77l-18 110z"/>
<path class="c30" d="M2947 2555l18 56l-18-50l-18 15zM2406 2849l18-28l-18 8l-18-8z"/>
<path class="c31" d="M2893 2589l18 23l-18-26l-18-23zM2424 2821l18-6l-18-42l-18 56zM2388 2813l18 36l-18-28l-18-2z"/>
<path class="c32" d="M2857 2585l18 27l18-23l-18-26l-18 4l-18 25zM2370 2869l18-56l-18 6l-18-27z"/>
<path class="c33" d="M2784 2609l19 32l18-61l18 8l18-3l-18 7l-18 6l-18 31l-18-43l-18 13zM2442 2815l18-46l18-11l18 13l18-29l18-11l18 20l-18-67l-18 62l-18-11l-18 10l-18 17l-18-8l-18 19z"/>
<path class="c34" d="M2730 2623l18 12l18-7l18-19l-17-10l-18-16l-19 28l-18 4zM2550 2751l18-59l-18-11l-18 3z"/>
<path class="c35" d="M2712 2619l18 4l-18-8l-18-12zM2658 2633l18-19l-18 33l-18 17z"/>
<path class="c36" d="M2676 2614l18 2l18 3l-18-16l-18 7l-18 37zM2568 2692l18-39l18 5l18-4l18-7l18-14l-18 31l-18-45l-18 51l-18-9l-18 4l-18 16z"/>
<path class="c24" d="M2298 2945l18-53l18 54l18-66l-18 22l-18 66l-18-25l-18 56z"/>
<path class="c20" d="M2279 3020l19-75l-18 54l-18-3z"/>
<path class="c18" d="M2261 3029l18-9l-17-24l-18 42z"/>
<path class="c14" d="M2243 3123l18-94l-17 9l-19 47z"/>
<path class="c11" d="M2225 3153l18-30l-18-38l-18 24z"/>
<path class="c9" d="M2207 3133l18 20l-18-44l-18 65zM2171 3150l18-3l-18 59l-18-44z"/>
<path class="c8" d="M2189 3147l18-14l-18 41l-18 32z"/>
<path class="c25" d="M3109 2597l18 1l-18-36l-18-40z"/>
<path class="c29" d="M3091 2528l18 69l-18-75l-18-23zM2965 2599l18-1l18-37l18 32l18-40l-18-17l-18 45l-18 1l-18 29l-18-56zM2929 2615l18-12l-18 17l-18-8zM2442 2873l18-41l-18-17l-18 6z"/>
<path class="c30" d="M3055 2528l18 27l18-27l-18-29l-18 40l-18-3zM2947 2603l18-4l-18-44l-18 65zM2911 2607l18 8l-18-3l-18-23zM2388 2879l18-29l18 27l-18-28l-18-36l-18 56z"/>
<path class="c31" d="M3037 2553l18-25l-18 8l-18 0zM2875 2650l18-37l18-6l-18-18l-18 23l-18-27z"/>
<path class="c32" d="M2857 2612l18 38l-18-65l-18 3zM2550 2760l18-10l-18 1l-18-20zM2460 2832l18-42l-18-21l-18 46z"/>
<path class="c33" d="M2802 2607l18 3l18 23l19-21l-18-24l-18-8l-18 61l-19-32zM2766 2653l18-23l-18-2l-18 7zM2568 2750l18-13l-18-45l-18 59zM2496 2746l18 16l-18 9l-18-13z"/>
<path class="c34" d="M2784 2630l18-23l-18 2l-18 19zM2748 2630l18 23l-18-18l-18-12zM2514 2762l18-47l18 45l-18-29l-18 11l-18 29zM2478 2790l18-44l-18 12l-18 11z"/>
<path class="c35" d="M2730 2619l18 11l-18-7l-18-4zM2658 2662l18 13l-18-42l-18 14zM2586 2737l18-37l-18-47l-18 39z"/>
<path class="c36" d="M2712 2629l18-10l-18 0l-18-3zM2676 2675l18-56l-18-5l-18 19zM2604 2700l18-22l18-23l18 7l-18-15l-18 7l-18 4l-18-5z"/>
<path class="c37" d="M2694 2619l18 10l-18-13l-18-2z"/>
<path class="c28" d="M2424 2877l18-4l-18-52l-18 28zM2352 2871l18 24l18-16l-18-10l-18 11l-18 66z"/>
<path class="c27" d="M2315 2941l19-20l18-50l-18 75l-18-54l-18 53z"/>
<path class="c22" d="M2297 3007l18-66l-17 4l-19 75z"/>
<path class="c19" d="M2279 3008l18-1l-18 13l-18 9z"/>
<path class="c17" d="M2261 3058l18-50l-18 21l-18 94zM2243 3033l9 13l-9 46l-9 1zM2234 3057l9-24l-9 60l-9 7z"/>
<path class="c12" d="M2243 3092l9-1l-9 32l-9 15zM2216 3107l9-7l-9 43l-9-10z"/>
<path class="c11" d="M2234 3093l9-1l-9 46l-9 15zM2225 3100l9-7l-9 60l-9-10z"/>
<path class="c16" d="M2252 3046l9 12l-9 33l-9 1zM2225 3081l9-24l-9 43l-9 7z"/>
<path class="c14" d="M2207 3069l18 12l-18 52l-18 14z"/>
<path class="c13" d="M2189 3131l18-62l-18 78l-18 3z"/>
<path class="c25" d="M3127 2572l18-42l-18 68l-18-1zM2315 2954l18-16l-18 3l-18 66z"/>
<path class="c26" d="M3109 2595l18-23l-18 25l-18-69zM2333 2938l18 30l-17-47l-19 20z"/>
<path class="c28" d="M3091 2583l18 12l-18-67l-18 27zM2983 2626l18-11l-18-17l-18 1zM2388 2886l18 9l18 12l-18-57l-18 29l-18 16z"/>
<path class="c29" d="M3073 2581l18 2l-18-28l-18-27zM3001 2615l18-12l18-13l18-19l-18-18l-18 40l-18-32l-18 37zM2965 2599l18 27l-18-27l-18 4zM2424 2907l18-73l18 10l18-10l-18-2l-18 41l-18 4l-18-27zM2369 2909l19-23l-18 9l-18-24z"/>
<path class="c30" d="M3055 2571l18 10l-18-53l-18 25zM2929 2624l18-9l18-16l-18 4l-18 12l-18-8zM2892 2648l19-43l-18 8l-18 37z"/>
<path class="c31" d="M2911 2605l18 19l-18-17l-18 6zM2874 2625l18 23l-17 2l-18-38zM2478 2834l18-18l-18-26l-18 42z"/>
<path class="c32" d="M2856 2630l18-5l-17-13l-19 21zM2496 2816l18-10l-18-60l-18 44z"/>
<path class="c33" d="M2838 2611l18 19l-18 3l-18-23zM2766 2655l18 15l18-36l-18-4l-18 23l-18-23zM2568 2758l18-29l18 0l-18 8l-18 13l-18 10zM2514 2806l18-51l-18 7l-18-16z"/>
<path class="c34" d="M2802 2634l18-10l18-13l-18-1l-18-3l-18 23zM2604 2729l18-37l-18 8l-18 37zM2532 2755l18 5l18-2l-18 2l-18-45l-18 47z"/>
<path class="c35" d="M2748 2636l18 19l-18-25l-18-11z"/>
<path class="c36" d="M2676 2629l18 29l18-20l18 15l18-17l-18-17l-18 10l-18-10l-18 56l-18-13zM2622 2692l18-27l-18 13l-18 22z"/>
<path class="c37" d="M2640 2665l18-20l18-16l-18 33l-18-7l-18 23z"/>
<path class="c27" d="M2351 2968l18-59l-17-38l-18 50z"/>
<path class="c24" d="M2297 2958l18-4l-18 53l-18 1z"/>
<path class="c21" d="M2279 3028l18-70l-18 50l-18 50z"/>
<path class="c18" d="M2261 3086l18-58l-18 30l-18-25z"/>
<path class="c17" d="M2225 3108l18-26l18 4l-18-53l-18 48l-18-12z"/>
<path class="c16" d="M2207 3090l18 18l-18-39l-18 62z"/>
<path class="c29" d="M3145 2552l18-32l-18 10l-18 42zM3073 2551l18 66l-18-36l-18-10zM2965 2663l18-25l18-32l18-1l-18 10l-18 11l-18-27l-18 16zM2478 2860l18 6l-18-32l-18 10zM2387 2942l18-85l-17 29l-19 23z"/>
<path class="c27" d="M3127 2573l18-21l-18 20l-18 23z"/>
<path class="c26" d="M3091 2617l18-17l18-27l-18 22l-18-12l-18-2zM2369 2945l18-3l-18-33l-18 59z"/>
<path class="c30" d="M3055 2593l18-42l-18 20l-18 19zM2946 2612l19 51l-18-48l-18 9zM2460 2881l18-21l-18-16l-18-10zM2405 2857l18 12l-17 26l-18-9z"/>
<path class="c28" d="M3019 2605l18 26l18-38l-18-3l-18 13l-18 12zM2423 2869l19 38l18-26l-18-47l-18 73l-18-12z"/>
<path class="c32" d="M2910 2636l18-56l18 32l-17 12l-18-19l-19 43zM2874 2624l18 24l-18-23l-18 5zM2514 2798l18 6l-18 2l-18 10z"/>
<path class="c31" d="M2892 2648l18-12l-18 12l-18-23zM2496 2866l18-68l-18 18l-18 18z"/>
<path class="c33" d="M2856 2629l18-5l-18 6l-18-19zM2784 2642l18 17l18-23l-18-2l-18 36l-18-15zM2532 2804l18-24l-18-25l-18 51z"/>
<path class="c34" d="M2820 2636l18-7l18 0l-18-18l-18 13l-18 10zM2550 2780l18-12l18-41l-18 31l-18 2l-18-5z"/>
<path class="c35" d="M2766 2636l18 6l-18 13l-18-19z"/>
<path class="c36" d="M2748 2615l18 21l-18 0l-18 17zM2586 2727l18-64l-18 66l-18 29z"/>
<path class="c37" d="M2730 2599l18 16l-18 38l-18-15zM2604 2663l18-20l18-17l-18 66l-18 37l-18 0z"/>
<path class="c38" d="M2640 2626l18-7l18-23l18-4l18-9l18 16l-18 39l-18 20l-18-29l-18 16l-18 20l-18 27z"/>
<path class="c24" d="M2333 3014l18 3l18-72l-18 23l-18-30l-18 16z"/>
<path class="c23" d="M2315 3060l18-46l-18-60l-18 4z"/>
<path class="c21" d="M2297 3075l18-15l-18-102l-18 70z"/>
<path class="c17" d="M2279 3121l18-46l-18-47l-18 58z"/>
<path class="c16" d="M2225 3120l18 4l18-17l18 14l-18-35l-18-4l-18 26l-18-18z"/>
<path class="c28" d="M3163 2590l18-7l-18-63l-18 32zM3019 2636l18 19l-18-50l-18 1zM2982 2647l18-18l-17 9l-18 25zM2459 2925l18-54l-17 10l-18 26zM2405 2958l18-25l-18-76l-18 85z"/>
<path class="c27" d="M3145 2604l18-14l-18-38l-18 21zM3109 2555l18 58l-18-13l-18 17zM3037 2655l18-39l18 19l-18-42l-18 38l-18-26zM2441 2940l18-15l-17-18l-19-38z"/>
<path class="c26" d="M3127 2613l18-9l-18-31l-18 27z"/>
<path class="c30" d="M3091 2582l18-27l-18 62l-18-66z"/>
<path class="c29" d="M3073 2635l18-53l-18-31l-18 42zM3000 2629l19 7l-18-30l-18 32zM2964 2662l18-15l-17 16l-19-51zM2477 2871l19 17l18-54l-18 32l-18-6l-18 21zM2423 2933l18 7l-18-71l-18-12z"/>
<path class="c32" d="M2946 2623l18 39l-18-50l-18-32zM2892 2635l18 44l-18-31l-18-24zM2514 2834l18-19l-18-17l-18 68z"/>
<path class="c33" d="M2928 2628l18-5l-18-43l-18 56zM2856 2648l18 2l18-15l-18-11l-18 5l-18 0zM2532 2815l18-39l-18 28l-18-6z"/>
<path class="c31" d="M2910 2679l18-51l-18 8l-18 12z"/>
<path class="c34" d="M2820 2628l18 38l18-18l-18-19l-18 7l-18 23zM2550 2776l18-36l-18 40l-18 24z"/>
<path class="c36" d="M2802 2596l18 32l-18 31l-18-17z"/>
<path class="c37" d="M2784 2580l18 16l-18 46l-18-6zM2586 2712l18-62l-18 77l-18 41z"/>
<path class="c38" d="M2766 2572l18 8l-18 56l-18-21zM2604 2650l18-12l-18 25l-18 64z"/>
<path class="c39" d="M2748 2549l18 23l-18 43l-18-16z"/>
<path class="c40" d="M2730 2560l18-11l-18 50l-18-16zM2622 2638l18-60l-18 65l-18 20z"/>
<path class="c41" d="M2640 2578l18-61l18 15l18 7l18-19l18 40l-18 23l-18 9l-18 4l-18 23l-18 7l-18 17z"/>
<path class="c35" d="M2568 2740l18-28l-18 56l-18 12z"/>
<path class="c25" d="M2387 3002l18-44l-18-16l-18 3z"/>
<path class="c23" d="M2369 2979l18 23l-18-57l-18 72z"/>
<path class="c20" d="M2351 3082l18-103l-18 38l-18-3z"/>
<path class="c18" d="M2333 3066l18 16l-18-68l-18 46z"/>
<path class="c17" d="M2315 3112l18-46l-18-6l-18 15z"/>
<path class="c14" d="M2297 3162l18-50l-18-37l-18 46z"/>
<path class="c13" d="M2261 3196l18-37l18 3l-18-41l-18-14l-18 17z"/>
<path class="c12" d="M2243 3192l18 4l-18-72l-18-4z"/>
<path class="c27" d="M3145 2572l18 11l18 2l18-29l-18 27l-18 7l-18 14l-18 9zM3055 2647l18 6l18-49l-18 31l-18-19l-18 39z"/>
<path class="c30" d="M3127 2548l18 24l-18 41l-18-58zM3018 2599l18 15l-17 22l-19-7zM2964 2651l18 23l-18-12l-18-39zM2928 2670l18 25l-18-67l-18 51zM2513 2885l18-47l-17-4l-18 54z"/>
<path class="c31" d="M3109 2586l18-38l-18 7l-18 27zM2946 2695l18-44l-18-28l-18 5zM2910 2664l18 6l-18 9l-18-44z"/>
<path class="c29" d="M3091 2604l18-18l-18-4l-18 53zM3000 2683l18-84l-18 30l-18 18zM2495 2883l18 2l-17 3l-19-17z"/>
<path class="c28" d="M3036 2614l19 33l-18 8l-18-19zM2982 2674l18 9l-18-36l-18 15zM2477 2928l18-45l-18-12l-18 54z"/>
<path class="c33" d="M2856 2649l18 13l18-12l18 14l-18-29l-18 15l-18-2l-18 18zM2531 2838l19-39l-18 16l-18 19z"/>
<path class="c36" d="M2838 2573l18 76l-18 17l-18-38z"/>
<path class="c38" d="M2820 2565l18 8l-18 55l-18-32zM2586 2699l18-60l-18 73l-18 28z"/>
<path class="c39" d="M2802 2542l18 23l-18 31l-18-16zM2595 2676l9-31l-9 36l-9 31z"/>
<path class="c40" d="M2784 2516l18 26l-18 38l-18-8zM2604 2645l9-30l-9 35l-9 31zM2604 2639l9-30l-9 36l-9 31z"/>
<path class="c41" d="M2766 2522l18-6l-18 56l-18-23zM2622 2579l18-18l-18 77l-18 12zM2613 2609l9-30l-9 36l-9 30z"/>
<path class="c42" d="M2730 2508l18-6l18 20l-18 27l-18 11l-18-40zM2640 2561l18-45l-18 62l-18 60z"/>
<path class="c43" d="M2694 2469l18 30l18 9l-18 12l-18 19l-18-7z"/>
<path class="c44" d="M2658 2516l18-33l18-14l-18 63l-18-15l-18 61z"/>
<path class="c37" d="M2568 2732l18-33l-18 41l-18 36z"/>
<path class="c35" d="M2550 2799l18-67l-18 44l-18 39z"/>
<path class="c26" d="M2441 2952l18-14l18-10l-18-3l-18 15l-18-7z"/>
<path class="c25" d="M2423 2997l18-45l-18-19l-18 25z"/>
<path class="c23" d="M2405 2980l18 17l-18-39l-18 44z"/>
<path class="c24" d="M2387 3005l18-25l-18 22l-18-23z"/>
<path class="c22" d="M2369 3016l18-11l-18-26l-18 103z"/>
<path class="c18" d="M2351 3085l18-69l-18 66l-18-16z"/>
<path class="c17" d="M2333 3082l18 3l-18-19l-18 46z"/>
<path class="c14" d="M2315 3137l18-55l-18 30l-18 50z"/>
<path class="c13" d="M2279 3132l18-8l18 13l-18 25l-18-3l-18 37z"/>
<path class="c12" d="M2261 3177l18-45l-18 64l-18-4z"/>
<path class="c28" d="M3199 2549l18 73l-18-66l-18 29zM3018 2694l18-13l-18-82l-18 84zM2964 2691l18 30l18-40l-18-7l-18-23l-18 44z"/>
<path class="c29" d="M3181 2573l18-24l-18 36l-18-2zM3109 2652l18-44l-18-22l-18 18zM3054 2648l18-14l-17 13l-19-33zM2946 2672l18 19l-18 4l-18-25zM2495 2912l18-20l18 1l-18-8l-18-2l-18 45z"/>
<path class="c31" d="M3163 2525l18 48l-18 10l-18-11zM2928 2675l18-3l-18-2l-18-6zM2531 2893l18-70l-18 15l-18 47z"/>
<path class="c33" d="M3145 2513l18 12l-18 47l-18-24z"/>
<path class="c32" d="M3127 2608l18-95l-18 35l-18 38zM2910 2666l18 9l-18-11l-18-14z"/>
<path class="c27" d="M3072 2634l18 9l19 9l-18-48l-18 49l-18-6zM3000 2681l18 13l-18-11l-18-9zM2378 2992l9-47l-9 35l-9 41z"/>
<path class="c30" d="M3036 2681l18-33l-18-34l-18-15z"/>
<path class="c34" d="M2892 2630l18 36l-18-16l-18 12zM2549 2823l18-57l-17 33l-19 39z"/>
<path class="c36" d="M2874 2590l18 40l-18 32l-18-13z"/>
<path class="c38" d="M2856 2552l18 38l-18 59l-18-76z"/>
<path class="c40" d="M2838 2523l18 29l-18 21l-18-8z"/>
<path class="c41" d="M2820 2512l18 11l-18 42l-18-23zM2604 2635l18-56l-18 60l-18 60z"/>
<path class="c42" d="M2802 2497l18 15l-18 30l-18-26zM2622 2579l18-29l-18 29l-18 60z"/>
<path class="c43" d="M2766 2487l18-3l18 13l-18 19l-18 6l-18-20z"/>
<path class="c44" d="M2730 2483l18 15l18-11l-18 15l-18 6l-18-9zM2640 2550l18-50l-18 61l-18 18z"/>
<path class="c45" d="M2658 2500l18-19l18 10l18-10l18 2l-18 16l-18-30l-18 14l-18 33l-18 45z"/>
<path class="c39" d="M2586 2689l18-54l-18 64l-18 33z"/>
<path class="c37" d="M2567 2766l19-77l-18 43l-18 67z"/>
<path class="c26" d="M2477 2972l18-60l-18 16l-18 10zM2387 2945l18 4l18 3l-18 28l-18 25l-18 11z"/>
<path class="c25" d="M2459 2992l18-20l-18-34l-18 14z"/>
<path class="c23" d="M2441 3006l18-14l-18-40l-18 45zM2369 3021l9-41l-9 36l-9 34zM2369 3040l9-48l-9 29l-9 41z"/>
<path class="c24" d="M2423 2952l18 54l-18-9l-18-17z"/>
<path class="c20" d="M2360 3062l9-41l-9 29l-9 35z"/>
<path class="c19" d="M2351 3079l18-39l-18 45l-18-3z"/>
<path class="c18" d="M2333 3064l18 15l-18 3l-18 55z"/>
<path class="c17" d="M2315 3130l18-66l-18 73l-18-13z"/>
<path class="c16" d="M2297 3128l18 2l-18-6l-18 8z"/>
<path class="c15" d="M2279 3173l18-45l-18 4l-18 45z"/>
<path class="c27" d="M3217 2596l18 18l-18 8l-18-73zM3108 2633l18 46l18-62l-17-9l-18 44l-19-9zM3036 2687l18-5l18 3l-18-37l-18 33l-18 13zM2495 2957l18-36l-18-9l-18 60zM2387 2989l18-8l-18-36l-18 95z"/>
<path class="c30" d="M3199 2591l18 5l-18-47l-18 24zM2405 2981l18-57l18 19l-18 9l-18-3l-18-4z"/>
<path class="c31" d="M3181 2571l18 20l-18-18l-18-48zM3144 2617l19-22l-18-82l-18 95zM2946 2698l18 1l-18-27l-18 3zM2531 2892l18-74l-18 75l-18-1z"/>
<path class="c33" d="M3163 2595l18-24l-18-46l-18-12z"/>
<path class="c29" d="M3090 2639l18-6l-18 10l-18-9zM2964 2699l18 15l-18-23l-18-19zM2513 2921l18-29l-18 0l-18 20z"/>
<path class="c28" d="M3072 2685l18-46l-18-5l-18 14z"/>
<path class="c26" d="M3018 2727l18-40l-18 7l-18-13zM2982 2714l18 21l-18-14l-18-30zM2441 2943l18 49l-18 14l-18-54z"/>
<path class="c25" d="M3000 2735l18-8l-18-46l-18 40zM2477 2971l18-14l-18 15l-18 20z"/>
<path class="c32" d="M2928 2682l18 16l-18-23l-18-9z"/>
<path class="c34" d="M2910 2640l18 42l-18-16l-18-36zM2549 2818l18-36l-18 41l-18 70z"/>
<path class="c37" d="M2892 2576l18 64l-18-10l-18-40zM2567 2766l9-36l-9 36l-9 28zM2567 2782l9-45l-9 29l-9 36z"/>
<path class="c40" d="M2874 2525l18 51l-18 14l-18-38zM2585 2694l9-36l-8 31l-10 38zM2585 2693l9-32l-9 33l-9 36z"/>
<path class="c41" d="M2856 2495l18 30l-18 27l-18-29zM2594 2661l9-33l-9 30l-9 36z"/>
<path class="c42" d="M2838 2492l18 3l-18 28l-18-11zM2603 2628l18-29l-17 36l-18 54z"/>
<path class="c43" d="M2802 2508l18-8l18-8l-18 20l-18-15l-18-13zM2621 2599l19-15l-18-5l-18 56z"/>
<path class="c44" d="M2748 2493l18 14l18 10l18-9l-18-24l-18 3l-18 11l-18-15zM2640 2584l18-38l-18 4l-18 29z"/>
<path class="c45" d="M2712 2506l18-7l18-6l-18-10l-18-2l-18 10zM2658 2546l18-35l-18-11l-18 50z"/>
<path class="c46" d="M2676 2511l18-11l18 6l-18-15l-18-10l-18 19z"/>
<path class="c38" d="M2576 2730l9-36l-9 33l-9 39z"/>
<path class="c36" d="M2558 2802l9-36l-9 28l-9 29z"/>
<path class="c39" d="M2576 2737l9-44l-9 37l-9 36z"/>
<path class="c24" d="M2459 2992l18-21l-18 21l-18 14z"/>
<path class="c22" d="M2369 3078l18-89l-18 51l-18 39z"/>
<path class="c20" d="M2351 3087l18-9l-18 1l-18-15z"/>
<path class="c19" d="M2333 3095l18-8l-18-23l-18 66z"/>
<path class="c16" d="M2315 3184l18-89l-18 35l-18-2z"/>
<path class="c14" d="M2297 3189l18-5l-18-56l-18 45z"/>
<path class="c24" d="M3235 2651l18 34l-18-71l-18-18z"/>
<path class="c26" d="M3217 2645l18 6l-18-55l-18-5zM3072 2728l18-40l18 28l-18-77l-18 46l-18-3zM2477 2951l18 10l-18 10l-18 21zM2405 3040l18-17l-18-42l-18 8z"/>
<path class="c28" d="M3198 2630l19 15l-18-54l-18-20zM3162 2672l18-30l-17-47l-19 22zM2441 3022l18-26l-18-53l-18-19z"/>
<path class="c29" d="M3180 2642l18-12l-17-59l-18 24zM2982 2695l18 13l-18 6l-18-15zM2513 2922l18-20l-18 19l-18 36z"/>
<path class="c25" d="M3126 2690l18 0l18-18l-18-55l-18 62l-18-46zM3018 2715l18 7l18 11l18-5l-18-46l-18 5l-18 40l-18 8z"/>
<path class="c27" d="M3108 2716l18-26l-18-57l-18 6zM3000 2708l18 7l-18 20l-18-21zM2495 2961l18-39l-18 35l-18 14zM2459 2996l18-45l-18 41l-18-49zM2423 3023l18-1l-18-98l-18 57z"/>
<path class="c30" d="M2964 2718l18-23l-18 4l-18-1zM2531 2902l18-13l-18 3l-18 29z"/>
<path class="c31" d="M2946 2699l18 19l-18-20l-18-16z"/>
<path class="c34" d="M2928 2634l18 65l-18-17l-18-42z"/>
<path class="c38" d="M2910 2557l18 77l-18 6l-18-64z"/>
<path class="c41" d="M2892 2515l18 42l-18 19l-18-51z"/>
<path class="c42" d="M2874 2505l18 10l-18 10l-18-30zM2603 2683l18-67l-18 12l-18 65z"/>
<path class="c43" d="M2802 2520l18-25l18 25l18-20l18 5l-18-10l-18-3l-18 8l-18 8l-18 9zM2621 2616l18-14l18-14l-17-4l-19 15l-18 29z"/>
<path class="c44" d="M2784 2500l18 20l-18-3l-18-10zM2730 2547l18-16l-18-32l-18 7zM2657 2588l18-21l-17-21l-18 38z"/>
<path class="c45" d="M2748 2531l18-28l18-3l-18 7l-18-14l-18 6zM2675 2567l19-31l18-13l18 24l-18-41l-18-6l-18 11l-18 35z"/>
<path class="c39" d="M2585 2765l18-82l-18 10l-18 89z"/>
<path class="c37" d="M2567 2826l18-61l-18 17l-18 36z"/>
<path class="c33" d="M2549 2889l18-63l-18-8l-18 74z"/>
<path class="c22" d="M2387 3107l18-67l-18-51l-18 89z"/>
<path class="c20" d="M2351 3106l18-25l18 26l-18-29l-18 9l-18 8z"/>
<path class="c17" d="M2333 3147l18-41l-18-11l-18 89z"/>
<path class="c13" d="M2315 3241l18-94l-18 37l-18 5z"/>
<path class="c22" d="M3252 2667l19-15l-18 33l-18-34z"/>
<path class="c23" d="M3234 2681l18-14l-17-16l-18-6zM3162 2732l18-13l-18-47l-18 18zM3126 2740l18-45l-18-5l-18 26zM2423 3058l18-8l-18-27l-18 17z"/>
<path class="c25" d="M3216 2669l18 12l-17-36l-19-15zM3090 2720l18 3l-18-35l-18 40z"/>
<path class="c26" d="M3198 2666l18 3l-18-39l-18 12zM3036 2727l18 10l-18-15l-18-7zM2459 3011l18-31l-18 16l-18 26z"/>
<path class="c24" d="M3180 2719l18-53l-18-24l-18 30zM3144 2695l18 37l-18-42l-18 0zM3108 2723l18 17l-18-24l-18-28zM3054 2737l18 16l18-33l-18 8l-18 5l-18-11zM2441 3050l18-39l-18 11l-18 1z"/>
<path class="c27" d="M3018 2740l18-13l-18-12l-18-7z"/>
<path class="c28" d="M3000 2731l18 9l-18-32l-18-13zM2477 2980l18-14l18-8l-18 3l-18-10l-18 45z"/>
<path class="c30" d="M2982 2711l18 20l-18-36l-18 23zM2531 2910l18 32l-18-40l-18 20z"/>
<path class="c31" d="M2964 2686l18 25l-18 7l-18-19zM2549 2942l18-63l-18 10l-18 13z"/>
<path class="c35" d="M2946 2622l18 64l-18 13l-18-65zM2567 2879l18-91l-18 38l-18 63z"/>
<path class="c39" d="M2928 2562l18 60l-18 12l-18-77z"/>
<path class="c41" d="M2910 2525l18 37l-18-5l-18-42z"/>
<path class="c42" d="M2892 2499l18 26l-18-10l-18-10zM2621 2649l18-15l-18-18l-18 67z"/>
<path class="c43" d="M2838 2511l18 11l18-19l18-4l-18 6l-18-5l-18 20l-18-25zM2748 2578l18-4l-18-43l-18 16zM2639 2634l18-29l18-16l-18-1l-18 14l-18 14z"/>
<path class="c44" d="M2766 2574l18-35l18-28l18-6l18 6l-18-16l-18 25l-18-20l-18 3l-18 28zM2729 2555l19 23l-18-31l-18-24zM2675 2589l18-22l18-19l-17-12l-19 31l-18 21z"/>
<path class="c45" d="M2711 2548l18 7l-17-32l-18 13z"/>
<path class="c40" d="M2603 2708l18-59l-18 34l-18 82z"/>
<path class="c38" d="M2585 2788l18-80l-18 57l-18 61z"/>
<path class="c29" d="M2513 2958l18-48l-18 12l-18 39z"/>
<path class="c21" d="M2405 3104l18-46l-18-18l-18 67z"/>
<path class="c20" d="M2369 3145l18-73l18 32l-18 3l-18-26l-18 25z"/>
<path class="c17" d="M2351 3174l18-29l-18-39l-18 41z"/>
<path class="c13" d="M2333 3224l18-50l-18-27l-18 94z"/>
<path class="c23" d="M3252 2673l18-21l18 23l-17-23l-19 15l-18 14zM3180 2704l18-48l-18 63l-18 13zM3090 2741l18 42l18-31l-18-29l-18-3l-18 33z"/>
<path class="c25" d="M3234 2633l18 40l-18 8l-18-12zM3198 2656l18 12l-18-2l-18 53z"/>
<path class="c26" d="M3216 2668l18-35l-18 36l-18-3zM2459 3009l18 4l18-3l-18-30l-18 31l-18 39z"/>
<path class="c24" d="M3144 2749l18-74l18 29l-18 28l-18-37l-18 45zM3072 2742l18-1l-18 12l-18-16zM2441 3055l18-46l-18 41l-18 8z"/>
<path class="c22" d="M3126 2752l18-3l-18-9l-18-17zM2423 3100l18-45l-18 3l-18 46z"/>
<path class="c27" d="M3018 2744l18 16l18-50l18 32l-18-5l-18-10l-18 13l-18-9z"/>
<path class="c29" d="M3000 2719l18 25l-18-13l-18-20zM2531 2970l18-31l-18-29l-18 48z"/>
<path class="c32" d="M2982 2667l18 52l-18-8l-18-25zM2567 2928l18-66l-18 17l-18 63z"/>
<path class="c36" d="M2964 2625l18 42l-18 19l-18-64z"/>
<path class="c39" d="M2946 2564l18 61l-18-3l-18-60z"/>
<path class="c41" d="M2928 2523l18 41l-18-2l-18-37zM2621 2699l18-31l-18-19l-18 59z"/>
<path class="c43" d="M2874 2518l18 0l18-3l18 8l-18 2l-18-26l-18 4l-18 19zM2747 2572l18 28l-17-22l-19-23zM2657 2639l18-27l-18-7l-18 29z"/>
<path class="c44" d="M2802 2582l18-42l18-25l18-1l18 4l-18 4l-18-11l-18-6l-18 6l-18 28zM2729 2553l18 19l-18-17l-18-7zM2675 2612l18-18l18-21l-18-6l-18 22l-18 16z"/>
<path class="c42" d="M2765 2600l18 15l19-33l-18-43l-18 35l-18 4zM2639 2668l18-29l-18-5l-18 15z"/>
<path class="c45" d="M2711 2573l18-20l-18-5l-18 19z"/>
<path class="c40" d="M2603 2766l18-67l-18 9l-18 80z"/>
<path class="c37" d="M2585 2862l18-96l-18 22l-18 91z"/>
<path class="c30" d="M2549 2939l18-11l-18 14l-18-32z"/>
<path class="c28" d="M2495 3010l18-43l18 3l-18-12l-18 8l-18 14z"/>
<path class="c21" d="M2405 3095l18 5l-18 4l-18-32z"/>
<path class="c20" d="M2387 3119l18-24l-18-23l-18 73z"/>
<path class="c16" d="M2369 3234l18-115l-18 26l-18 29z"/>
<path class="c11" d="M2351 3277l18-43l-18-60l-18 50z"/>
<path class="c22" d="M3288 2711l18-13l-18-23l-18-23zM3126 2768l18-26l-18 10l-18 31zM2423 3085l18 5l18-11l-18-24l-18 45l-18-5z"/>
<path class="c23" d="M3270 2684l18 27l-18-59l-18 21zM3144 2742l18-28l-18 35l-18 3zM3108 2738l18 30l-18 15l-18-42z"/>
<path class="c25" d="M3252 2704l18-20l-18-11l-18-40zM3162 2714l18-17l18 30l18-45l-18-26l-18 48l-18-29l-18 74zM3090 2771l18-33l-18 3l-18 1zM2459 3079l18-40l-18-30l-18 46z"/>
<path class="c26" d="M3216 2682l18-1l18 23l-18-71l-18 35l-18-12zM3072 2746l18 25l-18-29l-18-32zM2477 3039l18-5l-18-21l-18-4z"/>
<path class="c27" d="M3036 2740l18 29l18-23l-18-36l-18 50l-18-16zM2495 3034l18-53l-18 29l-18 3z"/>
<path class="c30" d="M3018 2720l18 20l-18 4l-18-25z"/>
<path class="c33" d="M3000 2669l18 51l-18-1l-18-52z"/>
<path class="c37" d="M2982 2630l18 39l-18-2l-18-42z"/>
<path class="c39" d="M2964 2578l18 52l-18-5l-18-61z"/>
<path class="c41" d="M2946 2541l18 37l-18-14l-18-41zM2801 2642l18-24l-17-36l-19 33z"/>
<path class="c42" d="M2928 2528l18 13l-18-18l-18-8zM2819 2618l18-24l-17-54l-18 42zM2783 2615l18 27l-18-27l-18-15zM2639 2686l18-25l18-1l-18-21l-18 29l-18 31z"/>
<path class="c43" d="M2892 2527l18 3l18-2l-18-13l-18 3l-18 0zM2837 2594l19-36l-18-43l-18 25zM2765 2583l18 32l-18-15l-18-28zM2675 2660l18-14l18-20l-18-32l-18 18l-18 27z"/>
<path class="c44" d="M2856 2558l18-20l18-11l-18-9l-18-4l-18 1zM2711 2626l18-37l18-4l18-2l-18-11l-18-19l-18 20l-18 21z"/>
<path class="c40" d="M2621 2760l18-74l-18 13l-18 67z"/>
<path class="c38" d="M2603 2832l18-72l-18 6l-18 96z"/>
<path class="c34" d="M2585 2911l18-79l-18 30l-18 66z"/>
<path class="c31" d="M2567 2934l18-23l-18 17l-18 11z"/>
<path class="c29" d="M2549 2997l18-63l-18 5l-18 31z"/>
<path class="c28" d="M2513 2981l18 1l18 15l-18-27l-18-3l-18 43z"/>
<path class="c20" d="M2405 3190l18-105l-18 10l-18 24z"/>
<path class="c13" d="M2387 3250l18-60l-18-71l-18 115z"/>
<path class="c9" d="M2369 3283l18-33l-18-16l-18 43z"/>
<path class="c20" d="M3306 2714l18-1l-18-15l-18 13z"/>
<path class="c21" d="M3288 2733l18-19l-18-3l-18-27z"/>
<path class="c22" d="M3270 2716l18 17l-18-49l-18 20z"/>
<path class="c23" d="M3252 2720l18-4l-18-12l-18-23zM2441 3116l18-58l18 34l-18-13l-18 11l-18-5z"/>
<path class="c24" d="M3198 2729l18-6l18-2l18-1l-18-39l-18 1l-18 45l-18-30zM3108 2806l18-61l-18-7l-18 33zM2477 3092l18-43l-18-10l-18 40z"/>
<path class="c26" d="M3180 2701l18 28l-18-32l-18 17z"/>
<path class="c27" d="M3162 2691l18 10l-18 13l-18 28zM3054 2749l18 13l18-20l-18 4l-18 23l-18-29zM2513 3051l18-59l-18-11l-18 53z"/>
<path class="c25" d="M3126 2745l18-8l18-46l-18 51l-18 26l-18-30zM3090 2742l18 64l-18-35l-18-25zM2495 3049l18 2l-18-17l-18 5z"/>
<path class="c30" d="M3036 2729l18 20l-18-9l-18-20zM2567 2954l18-21l-18 1l-18 63z"/>
<path class="c33" d="M3018 2701l18 28l-18-9l-18-51z"/>
<path class="c37" d="M3000 2626l18 75l-18-32l-18-39z"/>
<path class="c39" d="M2982 2593l18 33l-18 4l-18-52zM2621 2824l18-82l-18 18l-18 72z"/>
<path class="c41" d="M2964 2556l18 37l-18-15l-18-37zM2801 2656l18 11l18-16l18-18l-18-39l-18 24l-18 24l-18-27zM2639 2742l18-46l-18-10l-18 74z"/>
<path class="c42" d="M2946 2540l18 16l-18-15l-18-13zM2855 2633l18-38l-17-37l-19 36zM2783 2613l18 43l-18-41l-18-32zM2657 2696l18-23l18-11l18-5l-18-11l-18 14l-18 1l-18 25z"/>
<path class="c43" d="M2873 2595l19-33l18-6l18-21l18 5l-18-12l-18 2l-18-3l-18 11l-18 20zM2765 2599l18 14l-18-30l-18 2zM2711 2657l18-22l18-33l-18-13l-18 37l-18 20z"/>
<path class="c44" d="M2747 2602l18-3l-18-14l-18 4z"/>
<path class="c35" d="M2603 2901l18-77l-18 8l-18 79z"/>
<path class="c32" d="M2585 2933l18-32l-18 10l-18 23z"/>
<path class="c29" d="M2531 2992l18-27l18-11l-18 43l-18-15l-18-1z"/>
<path class="c19" d="M2423 3178l18-62l-18-31l-18 105z"/>
<path class="c12" d="M2405 3261l18-83l-18 12l-18 60z"/>
<path class="c9" d="M2387 3268l18-7l-18-11l-18 33z"/>
<path class="c20" d="M3324 2709l18 55l-18-51l-18 1zM2468 3172l9-37l-9-39l-9 33z"/>
<path class="c22" d="M3306 2682l18 27l-18 5l-18 19zM2477 3135l18-13l18-20l-18-53l-18 43l-18-34z"/>
<path class="c23" d="M3288 2704l18-22l-18 51l-18-17zM3234 2748l18-9l-18-18l-18 2zM2459 3129l9-33l-9-38l-9 29z"/>
<path class="c24" d="M3252 2739l18-47l18 12l-18 12l-18 4l-18 1zM3216 2725l18 23l-18-25l-18 6zM2513 3102l18-71l-18 20l-18-2z"/>
<path class="c26" d="M3198 2699l18 26l-18 4l-18-28zM3108 2768l18-31l18 4l18-5l-18 1l-18 8l-18 61l-18-64zM2531 3031l18 11l-18-50l-18 59z"/>
<path class="c28" d="M3180 2749l18-50l-18 2l-18-10zM2549 3042l18-28l-18-49l-18 27z"/>
<path class="c27" d="M3162 2736l18 13l-18-58l-18 46zM3072 2782l18-4l18-10l-18-26l-18 20l-18-13z"/>
<path class="c29" d="M3054 2751l18 31l-18-33l-18-20z"/>
<path class="c32" d="M3036 2709l18 42l-18-22l-18-28z"/>
<path class="c36" d="M3018 2663l18 46l-18-8l-18-75z"/>
<path class="c39" d="M3000 2599l18 64l-18-37l-18-33zM2639 2824l18-67l-18-15l-18 82z"/>
<path class="c41" d="M2982 2569l18 30l-18-6l-18-37zM2801 2660l18 16l18-14l18-23l18-17l18-19l-18-8l-18 38l-18 18l-18 16l-18-11l-18-43zM2657 2757l18-55l-18-6l-18 46z"/>
<path class="c42" d="M2964 2549l18 20l-18-13l-18-16zM2891 2603l18-11l18-16l-17-20l-18 6l-19 33zM2675 2702l18 3l18-17l18-21l-18-10l-18 5l-18 11l-18 23z"/>
<path class="c43" d="M2927 2576l19-18l18-9l-18-9l-18-5l-18 21zM2729 2667l18-31l18-15l18 8l18 31l-18-47l-18-14l-18 3l-18 33l-18 22z"/>
<path class="c37" d="M2621 2884l18-60l-18 0l-18 77z"/>
<path class="c33" d="M2603 2943l18-59l-18 17l-18 32z"/>
<path class="c31" d="M2585 2977l18-34l-18-10l-18 21z"/>
<path class="c30" d="M2567 3014l18-37l-18-23l-18 11z"/>
<path class="c21" d="M2450 3162l9-33l-9-42l-9 29z"/>
<path class="c17" d="M2459 3209l9-37l-9-43l-9 33z"/>
<path class="c16" d="M2441 3210l18-1l-18-93l-18 62z"/>
<path class="c13" d="M2422 3223l19-13l-18-32l-18 83z"/>
<path class="c11" d="M2404 3271l18-48l-17 38l-18 7z"/>
<path class="c20" d="M3342 2708l18 11l-18 45l-18-55zM2513 3151l18-55l-18 6l-18 20z"/>
<path class="c25" d="M3324 2650l18 58l-18 1l-18-27zM3270 2743l18-76l-18 25l-18 47zM3234 2725l18-6l-18 29l-18-23zM3198 2761l18 2l-18-64l-18 50zM2567 3072l18-29l-18-29l-18 28zM2531 3096l18-71l-18 6l-18 71z"/>
<path class="c26" d="M3288 2667l18 26l18-43l-18 32l-18 22l-18-12zM3216 2763l18-38l-18 0l-18-26zM3162 2770l18-22l18 13l-18-12l-18-13l-18 5zM3108 2769l18 19l18-22l-18-29l-18 31l-18 10zM2549 3025l18 47l-18-30l-18-11z"/>
<path class="c23" d="M3252 2719l18 24l-18-4l-18 9z"/>
<path class="c27" d="M3144 2766l18 4l-18-29l-18-4zM3090 2771l18-2l-18 9l-18 4z"/>
<path class="c29" d="M3072 2742l18 29l-18 11l-18-31z"/>
<path class="c33" d="M3054 2701l18 41l-18 9l-18-42zM2621 2942l18-30l-18-28l-18 59z"/>
<path class="c36" d="M3036 2661l18 40l-18 8l-18-46z"/>
<path class="c39" d="M3018 2609l18 52l-18 2l-18-64zM2657 2840l18-78l-18-5l-18 67z"/>
<path class="c41" d="M3000 2573l18 36l-18-10l-18-30zM2819 2681l18-15l18-21l18-27l-18 21l-18 23l-18 14l-18-16zM2675 2762l18-19l18-15l18-16l-18-24l-18 17l-18-3l-18 55z"/>
<path class="c42" d="M2981 2554l19 19l-18-4l-18-20zM2873 2618l18-13l18-16l18-1l18-18l-18 6l-18 16l-18 11l-18 19l-18 17zM2801 2664l18 17l-18-21l-18-31zM2729 2712l18-27l18-16l-18-33l-18 31l-18 21z"/>
<path class="c43" d="M2945 2570l18-6l18-10l-17-5l-18 9l-19 18zM2765 2669l18-21l18 16l-18-35l-18-8l-18 15z"/>
<path class="c37" d="M2639 2912l18-72l-18-16l-18 60z"/>
<path class="c31" d="M2603 2985l18-43l-18 1l-18 34z"/>
<path class="c28" d="M2585 3043l18-58l-18-8l-18 37z"/>
<path class="c19" d="M2495 3139l18 12l-18-29l-18 13z"/>
<path class="c18" d="M2477 3149l18-10l-18-4l-18 74z"/>
<path class="c15" d="M2458 3248l19-99l-18 60l-18 1z"/>
<path class="c12" d="M2422 3250l18 17l18-19l-17-38l-19 13l-18 48z"/>
<path class="c23" d="M3360 2676l18 61l-18-18l-18-11zM2549 3121l18-13l-18-83l-18 71z"/>
<path class="c26" d="M3324 2731l18-40l18-15l-18 32l-18-58l-18 43zM3252 2751l18-21l-18-11l-18 6zM3180 2757l18 14l-18-23l-18 22zM2603 3074l18-36l-18-53l-18 58z"/>
<path class="c25" d="M3306 2741l18-10l-18-38l-18-26zM3234 2753l18-2l-18-26l-18 38zM3198 2771l18 6l-18-16l-18-13z"/>
<path class="c24" d="M3270 2730l18 22l18-11l-18-74l-18 76l-18-24zM3216 2777l18-24l-18 10l-18-2zM2567 3108l18-42l18 8l-18-31l-18 29l-18-47z"/>
<path class="c27" d="M3126 2759l18 9l18-10l18-1l-18 13l-18-4l-18 22l-18-19z"/>
<path class="c28" d="M3108 2772l18-13l-18 10l-18 2z"/>
<path class="c30" d="M3090 2739l18 33l-18-1l-18-29z"/>
<path class="c34" d="M3072 2688l18 51l-18 3l-18-41z"/>
<path class="c37" d="M3054 2677l18 11l-18 13l-18-40zM2657 2908l18-64l-18-4l-18 72z"/>
<path class="c39" d="M3035 2637l19 40l-18-16l-18-52zM2675 2844l18-64l-18-18l-18 78z"/>
<path class="c41" d="M3017 2590l18 47l-17-28l-18-36zM2819 2683l18-20l18-14l-18 17l-18 15l-18-17zM2693 2780l18-44l18 0l18-17l-18-7l-18 16l-18 15l-18 19z"/>
<path class="c42" d="M2963 2584l18 2l18-6l18 10l-17-17l-19-19l-18 10l-18 6zM2855 2649l18-14l18-23l18-8l-18 1l-18 13l-18 27l-18 21zM2747 2719l18-17l18-28l18-13l18 22l-18-19l-18-16l-18 21l-18 16l-18 27z"/>
<path class="c43" d="M2909 2604l18-5l18-9l18-6l-18-14l-18 18l-18 1l-18 16z"/>
<path class="c33" d="M2639 2984l18-76l-18 4l-18 30z"/>
<path class="c29" d="M2621 3038l18-54l-18-42l-18 43z"/>
<path class="c21" d="M2531 3122l18-1l-18-25l-18 55z"/>
<path class="c19" d="M2512 3186l19-64l-18 29l-18-12z"/>
<path class="c18" d="M2494 3204l18-18l-17-47l-18 10z"/>
<path class="c15" d="M2476 3243l18-39l-17-55l-19 99z"/>
<path class="c12" d="M2458 3222l18 21l-18 5l-18 19z"/>
<path class="c13" d="M2440 3265l18-43l-18 45l-18-17z"/>
<path class="c24" d="M3378 2692l18 21l-18 24l-18-61zM3270 2787l18-35l-18-22l-18 21zM3234 2758l18 32l-18-37l-18 24zM2603 3076l18 15l-18-17l-18-8z"/>
<path class="c26" d="M3324 2716l18-45l18 23l18-2l-18-16l-18 15l-18 40l-18 10zM3216 2739l18 19l-18 19l-18-6z"/>
<path class="c25" d="M3288 2752l18-32l18-4l-18 25l-18 11l-18-22z"/>
<path class="c23" d="M3252 2790l18-3l-18-36l-18 2zM2621 3091l18-19l-18-34l-18 36z"/>
<path class="c27" d="M3198 2758l18-19l-18 32l-18-14zM2639 3072l18-64l-18-24l-18 54z"/>
<path class="c28" d="M3180 2746l18 12l-18-1l-18 1z"/>
<path class="c29" d="M3144 2770l18-30l18 6l-18 12l-18 10l-18-9z"/>
<path class="c30" d="M3126 2758l18 12l-18-11l-18 13z"/>
<path class="c31" d="M3108 2745l18 13l-18 14l-18-33z"/>
<path class="c34" d="M3089 2715l19 30l-18-6l-18-51z"/>
<path class="c37" d="M3071 2674l18 41l-17-27l-18-11zM2675 2927l18-80l-18-3l-18 64z"/>
<path class="c38" d="M3053 2647l18 27l-17 3l-19-40z"/>
<path class="c40" d="M3035 2614l18 33l-18-10l-18-47z"/>
<path class="c41" d="M3017 2601l18 13l-18-24l-18-10zM2711 2787l18-21l18-17l18-21l18-11l-18-15l-18 17l-18 17l-18 0l-18 44z"/>
<path class="c42" d="M2783 2717l18-27l18-3l18-9l18-16l18-13l18-11l18-9l18 12l18-19l18-3l18-9l18-1l18-8l-18-21l-18 6l-18-2l-18 6l-18 9l-18 5l-18 8l-18 23l-18 14l-18 14l-18 20l-18-22l-18 13l-18 28z"/>
<path class="c39" d="M2693 2847l18-60l-18-7l-18 64z"/>
<path class="c32" d="M2657 3008l18-81l-18-19l-18 76z"/>
<path class="c22" d="M2585 3141l18-65l-18-10l-18 42z"/>
<path class="c21" d="M2548 3152l18-27l19 16l-18-33l-18 13l-18 1z"/>
<path class="c18" d="M2530 3189l18-37l-17-30l-19 64z"/>
<path class="c15" d="M2512 3268l18-79l-18-3l-18 18z"/>
<path class="c13" d="M2476 3285l18-68l18 51l-18-64l-18 39l-18-21z"/>
<path class="c12" d="M2458 3281l18 4l-18-63l-18 43z"/>
<path class="c24" d="M3396 2732l18-28l-18 9l-18-21zM3306 2785l18-5l18-2l-18-62l-18 4l-18 32zM3270 2750l18 15l-18 22l-18 3z"/>
<path class="c25" d="M3378 2717l18 15l-18-40l-18 2z"/>
<path class="c27" d="M3360 2705l18 12l-18-23l-18-23z"/>
<path class="c26" d="M3342 2778l18-73l-18-34l-18 45zM3252 2767l18-17l-18 40l-18-32zM2657 3101l18-91l-18-2l-18 64z"/>
<path class="c23" d="M3288 2765l18 20l-18-33l-18 35zM2602 3095l18-11l19 18l-18-11l-18-15l-18 65z"/>
<path class="c28" d="M3234 2716l18 51l-18-9l-18-19z"/>
<path class="c30" d="M3216 2722l18-6l-18 23l-18 19zM3180 2747l18 23l-18-24l-18-6z"/>
<path class="c29" d="M3198 2770l18-48l-18 36l-18-12z"/>
<path class="c31" d="M3143 2759l19 1l18-13l-18-7l-18 30l-18-12z"/>
<path class="c32" d="M3125 2755l18 4l-17-1l-18-13zM2675 3010l18-71l-18-12l-18 81z"/>
<path class="c34" d="M3107 2725l18 30l-17-10l-19-30z"/>
<path class="c37" d="M3089 2691l18 34l-18-10l-18-41zM2693 2939l18-82l-18-10l-18 80z"/>
<path class="c38" d="M3071 2651l18 40l-18-17l-18-27z"/>
<path class="c40" d="M3053 2637l18 14l-18-4l-18-33zM2729 2805l18-45l-18 6l-18 21z"/>
<path class="c41" d="M2999 2632l18 2l18-6l18 9l-18-23l-18-13l-18 8l-18 1zM2747 2760l18 0l18-13l18-37l-18 7l-18 11l-18 21l-18 17z"/>
<path class="c42" d="M2801 2710l18-13l18-7l18-2l18-11l18-6l18 1l18-6l18-6l18-20l18 2l18-10l-18-22l-18 9l-18 3l-18 19l-18-12l-18 9l-18 11l-18 13l-18 16l-18 9l-18 3l-18 27z"/>
<path class="c39" d="M2711 2857l18-52l-18-18l-18 60z"/>
<path class="c22" d="M2639 3102l18-1l-18-29l-18 19zM2584 3122l18-27l-17 46l-19-16z"/>
<path class="c20" d="M2566 3179l18-57l-18 3l-18 27z"/>
<path class="c17" d="M2548 3227l18-48l-18-27l-18 37z"/>
<path class="c13" d="M2530 3251l18-24l-18-38l-18 79z"/>
<path class="c12" d="M2512 3280l18-29l-18 17l-18-51z"/>
<path class="c11" d="M2476 3278l18 23l18-21l-18-63l-18 68l-18-4z"/>
<path class="c22" d="M3414 2747l18 53l-18-96l-18 28zM3306 2813l18 9l18-64l-18 22l-18 5l-18-20zM2638 3138l18-30l18-25l-17 18l-18 1l-19-18zM2602 3162l18-45l-18-22l-18 27z"/>
<path class="c23" d="M3396 2764l18-17l-18-15l-18-15zM3342 2758l18 1l-18 19l-18 2zM2620 3117l18 21l-18-54l-18 11z"/>
<path class="c25" d="M3378 2740l18 24l-18-47l-18-12zM3288 2750l18 63l-18-48l-18-15zM2674 3083l19-40l-18-33l-18 91z"/>
<path class="c24" d="M3360 2759l18-19l-18-35l-18 73z"/>
<path class="c26" d="M3270 2803l18-53l-18 0l-18 17z"/>
<path class="c27" d="M3252 2780l18 23l-18-36l-18-51z"/>
<path class="c30" d="M3234 2770l18 10l-18-64l-18 6zM3161 2782l18 5l19 3l-18-43l-18 13l-19-1z"/>
<path class="c28" d="M3198 2790l18 27l18-47l-18-48l-18 48l-18-23z"/>
<path class="c32" d="M3143 2757l18 25l-18-23l-18-4z"/>
<path class="c34" d="M3125 2737l18 20l-18-2l-18-30z"/>
<path class="c37" d="M3107 2694l18 43l-18-12l-18-34z"/>
<path class="c38" d="M3089 2664l18 30l-18-3l-18-40zM2729 2891l18-54l-18-32l-18 52z"/>
<path class="c40" d="M3053 2646l18 8l18 10l-18-13l-18-14l-18-9zM2747 2837l18-40l-18-37l-18 45z"/>
<path class="c41" d="M2999 2650l18 5l18-4l18-5l-18-18l-18 6l-18-2l-18 10zM2909 2700l18-10l18-9l18-12l18-17l-18-12l-18 20l-18 6l-18 6l-18-1zM2765 2797l18-19l18-24l18-25l-18-19l-18 37l-18 13l-18 0z"/>
<path class="c42" d="M2981 2652l18-2l-18-8l-18-2zM2819 2729l18-2l18-11l18-8l18 1l18-9l-18-29l-18 6l-18 11l-18 2l-18 7l-18 13z"/>
<path class="c36" d="M2711 2979l18-88l-18-34l-18 82z"/>
<path class="c31" d="M2693 3043l18-64l-18-40l-18 71z"/>
<path class="c19" d="M2584 3200l18-38l-18-40l-18 57z"/>
<path class="c15" d="M2566 3253l18-53l-18-21l-18 48z"/>
<path class="c13" d="M2548 3249l18 4l-18-26l-18 24z"/>
<path class="c12" d="M2530 3275l18-26l-18 2l-18 29z"/>
<path class="c11" d="M2512 3277l18-2l-18 5l-18 21z"/>
<path class="c10" d="M2494 3340l18-63l-18 24l-18-23z"/>
<path class="c21" d="M3414 2815l18-69l18-6l-18 60l-18-53l-18 17zM2656 3115l18 39l-18-46l-18 30zM2620 3148l18 1l-18-32l-18 45z"/>
<path class="c22" d="M3396 2749l18 66l-18-51l-18-24zM3324 2817l18-45l18 51l18-38l-18-26l-18-1l-18 64l-18-9zM2674 3154l18-64l-18-7l-18 25zM2638 3149l18-34l-18 23l-18-21z"/>
<path class="c24" d="M3378 2785l18-36l-18-9l-18 19zM3306 2796l18 21l-18-4l-18-63z"/>
<path class="c25" d="M3288 2788l18 8l-18-46l-18 53z"/>
<path class="c26" d="M3270 2768l18 20l-18 15l-18-23zM3215 2848l18-52l19 37l-18-63l-18 47l-18-27zM2692 3090l18-56l-17 9l-19 40z"/>
<path class="c27" d="M3252 2833l18-65l-18 12l-18-10zM3197 2834l18 14l-17-58l-19-3z"/>
<path class="c28" d="M3179 2811l18 23l-18-47l-18-5z"/>
<path class="c31" d="M3161 2789l18 22l-18-29l-18-25z"/>
<path class="c33" d="M3143 2754l18 35l-18-32l-18-20z"/>
<path class="c36" d="M3125 2728l18 26l-18-17l-18-43z"/>
<path class="c38" d="M3107 2698l18 30l-18-34l-18-30z"/>
<path class="c39" d="M3089 2657l18 41l-18-34l-18-10zM2765 2875l18-65l-18-13l-18 40z"/>
<path class="c40" d="M3071 2651l18 6l-18-3l-18-8zM2783 2810l18-32l-18 0l-18 19z"/>
<path class="c41" d="M2801 2778l18-17l18-4l18-9l18-12l18-9l18-8l18-1l18-17l18-20l18-3l18-4l18-8l18 0l18-8l18-7l-18-5l-18 5l-18 4l-18-5l-18 2l-18 17l-18 12l-18 9l-18 10l-18 9l-18-1l-18 8l-18 11l-18 2l-18 25l-18 24z"/>
<path class="c37" d="M2747 2935l18-60l-18-38l-18 54z"/>
<path class="c34" d="M2728 2980l19-45l-18-44l-18 88z"/>
<path class="c30" d="M2710 3034l18-54l-17-1l-18 64z"/>
<path class="c18" d="M2602 3219l18-71l-18 14l-18 38z"/>
<path class="c15" d="M2584 3230l18-11l-18-19l-18 53z"/>
<path class="c13" d="M2530 3295l18-43l18 42l18-64l-18 23l-18-4l-18 26l-18 2z"/>
<path class="c10" d="M2512 3329l18-34l-18-18l-18 63z"/>
<path class="c20" d="M3450 2851l18-48l-18-63l-18 6zM3414 2803l18 8l-18 4l-18-66z"/>
<path class="c18" d="M3432 2811l18 40l-18-105l-18 69zM2620 3210l18-5l-18-57l-18 71z"/>
<path class="c22" d="M3396 2794l18 9l-18-54l-18 36zM3324 2814l18 39l-18-36l-18-21zM2692 3148l18-59l-18 1l-18 64z"/>
<path class="c21" d="M3342 2853l18-13l18-35l18-11l-18-9l-18 38l-18-51l-18 45zM2674 3115l18 33l-18 6l-18-39zM2638 3205l18-77l-18 21l-18-1z"/>
<path class="c25" d="M3306 2786l18 28l-18-18l-18-8z"/>
<path class="c27" d="M3251 2796l18-14l18 5l19-1l-18 2l-18-20l-18 65l-19-37zM3197 2831l18-15l-18 18l-18-23z"/>
<path class="c26" d="M3215 2816l18 16l18-36l-18 0l-18 52l-18-14zM2710 3089l18-24l-18-31l-18 56z"/>
<path class="c29" d="M3179 2810l18 21l-18-20l-18-22zM2728 3065l18-35l-18-50l-18 54z"/>
<path class="c32" d="M3161 2772l18 38l-18-21l-18-35zM2746 3030l18-64l-17-31l-19 45z"/>
<path class="c35" d="M3143 2748l18 24l-18-18l-18-26z"/>
<path class="c37" d="M3125 2702l18 46l-18-20l-18-30z"/>
<path class="c39" d="M3107 2683l18 19l-18-4l-18-41zM2783 2870l18-33l-18-27l-18 65z"/>
<path class="c40" d="M3089 2666l18 17l-18-26l-18-6zM2801 2837l18-41l-18-18l-18 32z"/>
<path class="c41" d="M2819 2796l18-11l18 3l18-18l18-14l18-14l18 1l18-18l18-10l18-10l18-6l18-8l18-10l18-1l18-2l18-12l-18-15l-18 7l-18 8l-18 0l-18 8l-18 4l-18 3l-18 20l-18 17l-18 1l-18 8l-18 9l-18 12l-18 9l-18 4l-18 17z"/>
<path class="c36" d="M2764 2966l19-96l-18 5l-18 60z"/>
<path class="c23" d="M2656 3128l18-13l-18 0l-18 34z"/>
<path class="c16" d="M2602 3221l18-11l-18 9l-18 11z"/>
<path class="c14" d="M2584 3274l18-53l-18 9l-18 64z"/>
<path class="c13" d="M2566 3271l18 3l-18 20l-18-42z"/>
<path class="c12" d="M2548 3349l18-78l-18-19l-18 43z"/>
<path class="c11" d="M2530 3283l18 66l-18-54l-18 34z"/>
<path class="c16" d="M3468 2867l18-61l-18-3l-18 48z"/>
<path class="c15" d="M3450 2855l18 12l-18-16l-18-40z"/>
<path class="c18" d="M3414 2908l18-67l18 14l-18-44l-18-8l-18-9zM2620 3182l18 44l18-60l-18 39l-18 5l-18 11z"/>
<path class="c19" d="M3396 2817l18 91l-18-114l-18 11z"/>
<path class="c21" d="M3360 2829l18-25l18 13l-18-12l-18 35l-18 13zM2656 3166l18-32l-18-6l-18 77z"/>
<path class="c20" d="M3341 2884l19-55l-18 24l-18-39z"/>
<path class="c22" d="M3323 2846l18 38l-17-70l-18-28zM2692 3138l18-16l-18 26l-18-33z"/>
<path class="c25" d="M3305 2844l18 2l-17-60l-19 1zM2728 3093l18-3l-18-25l-18 24z"/>
<path class="c26" d="M3287 2849l18-5l-18-57l-18-5z"/>
<path class="c27" d="M3233 2854l18-30l18 0l18 25l-18-67l-18 14l-18 36l-18-16zM2746 3090l18-52l-18-8l-18 35z"/>
<path class="c28" d="M3215 2812l18 42l-18-38l-18 15z"/>
<path class="c30" d="M3197 2811l18 1l-18 19l-18-21z"/>
<path class="c32" d="M3179 2798l18 13l-18-1l-18-38z"/>
<path class="c34" d="M3161 2784l18 14l-18-26l-18-24z"/>
<path class="c37" d="M3143 2728l18 56l-18-36l-18-46z"/>
<path class="c39" d="M3125 2689l18 39l-18-26l-18-19zM2818 2867l19-34l-18-37l-18 41z"/>
<path class="c40" d="M3053 2706l18-4l18-2l18-11l18 0l-18-6l-18-17l-18 12l-18 2l-18 1zM2837 2833l18-32l18-13l18-4l18-13l-18-15l-18 14l-18 18l-18-3l-18 11z"/>
<path class="c41" d="M2909 2771l18-8l18-12l18-2l18-12l18-18l18 1l18 3l18-17l-18-25l-18 10l-18 8l-18 6l-18 10l-18 10l-18 18l-18-1l-18 14z"/>
<path class="c38" d="M2800 2926l18-59l-17-30l-18 33z"/>
<path class="c35" d="M2782 2974l18-48l-17-56l-19 96z"/>
<path class="c31" d="M2764 3038l18-64l-18-8l-18 64z"/>
<path class="c23" d="M2710 3122l18-29l-18-4l-18 59zM2674 3134l18 4l-18-23l-18 13z"/>
<path class="c17" d="M2602 3236l18-54l-18 39l-18 53z"/>
<path class="c13" d="M2584 3325l18-89l-18 38l-18-3z"/>
<path class="c10" d="M2548 3337l18-12l18 0l-18-54l-18 78l-18-66z"/>
<path class="c16" d="M3486 2844l18-23l-18-15l-18 61z"/>
<path class="c15" d="M3468 2872l18-28l-18 23l-18-12z"/>
<path class="c17" d="M3414 2860l18-13l18-14l18 39l-18-17l-18-14l-18 67l-18-91z"/>
<path class="c20" d="M3395 2876l19-16l-18-43l-18-13zM3359 2858l18-15l-17-14l-19 55z"/>
<path class="c21" d="M3377 2843l18 33l-17-72l-18 25zM3341 2839l18 19l-18 26l-18-38zM2674 3195l18-2l-18-59l-18 32z"/>
<path class="c23" d="M3305 2853l18-8l18-6l-18 7l-18-2l-18 5zM2728 3137l18-13l-18-31l-18 29z"/>
<path class="c25" d="M3287 2852l18 1l-18-4l-18-25zM2746 3124l18-30l-18-4l-18 3z"/>
<path class="c26" d="M3251 2866l18-17l18 3l-18-28l-18 0l-18 30zM2764 3094l18-15l-18-41l-18 52z"/>
<path class="c27" d="M3233 2845l18 21l-18-12l-18-42z"/>
<path class="c30" d="M3215 2814l18 31l-18-33l-18-1zM2782 3079l18-88l-18-17l-18 64z"/>
<path class="c32" d="M3197 2799l18 15l-18-3l-18-13z"/>
<path class="c33" d="M3179 2789l18 10l-18-1l-18-14z"/>
<path class="c36" d="M3161 2748l18 41l-18-5l-18-56zM2818 2968l18-47l-18-54l-18 59z"/>
<path class="c38" d="M3143 2732l18 16l-18-20l-18-39zM2836 2921l18-52l-17-36l-19 34z"/>
<path class="c39" d="M3125 2704l18 28l-18-43l-18 0zM2854 2869l18-40l-17-28l-18 32z"/>
<path class="c40" d="M2872 2829l19-15l18-6l18-20l18-10l18-13l18-11l18-2l18-9l18 9l18-32l18-6l18 3l18-4l18-9l-18-15l-18 11l-18 2l-18 4l-18 17l-18-3l-18-1l-18 18l-18 12l-18 2l-18 12l-18 8l-18 13l-18 4l-18 13z"/>
<path class="c34" d="M2800 2991l18-23l-18-42l-18 48z"/>
<path class="c22" d="M2692 3193l18-36l18-20l-18-15l-18 16l-18-4z"/>
<path class="c19" d="M2620 3233l18-24l18-9l18-5l-18-29l-18 60l-18-44l-18 54z"/>
<path class="c14" d="M2602 3311l18-78l-18 3l-18 89z"/>
<path class="c11" d="M2584 3306l18 5l-18 14l-18 0z"/>
<path class="c12" d="M2566 3296l18 10l-18 19l-18 12z"/>
<path class="c17" d="M3504 2864l18-35l-18-8l-18 23zM3468 2834l18 30l-18 8l-18-39zM2656 3289l18-57l-18-32l-18 9z"/>
<path class="c16" d="M3486 2864l18 0l-18-20l-18 28zM2638 3309l18-20l-18-80l-18 24z"/>
<path class="c19" d="M3413 2837l18 5l19 15l18-23l-18-1l-18 14l-18 13l-19 16zM2710 3230l18-43l-18-30l-18 36z"/>
<path class="c21" d="M3395 2842l18-5l-18 39l-18-33z"/>
<path class="c22" d="M3359 2852l18-1l18-9l-18 1l-18 15l-18-19zM3323 2917l18-50l-18-22l-18 8zM2728 3187l18-74l-18 24l-18 20z"/>
<path class="c23" d="M3341 2867l18-15l-18-13l-18 6zM3305 2866l18 51l-18-64l-18-1z"/>
<path class="c25" d="M3287 2877l18-11l-18-14l-18-3z"/>
<path class="c26" d="M3269 2838l18 39l-18-28l-18 17zM2782 3109l18-37l-18 7l-18 15z"/>
<path class="c27" d="M3251 2865l18-27l-18 28l-18-21z"/>
<path class="c28" d="M3233 2855l18 10l-18-20l-18-31zM2800 3072l18 2l-18-83l-18 88z"/>
<path class="c31" d="M3215 2842l18 13l-18-41l-18-15zM2818 3074l18-48l-18-58l-18 23z"/>
<path class="c33" d="M3197 2810l18 32l-18-43l-18-10zM2836 3026l18-41l-18-64l-18 47z"/>
<path class="c36" d="M3179 2766l18 44l-18-21l-18-41zM2854 2985l18-62l-18-54l-18 52z"/>
<path class="c38" d="M3161 2748l18 18l-18-18l-18-16zM2872 2923l18-42l-18-52l-18 40z"/>
<path class="c39" d="M3125 2730l18 3l18 15l-18-16l-18-28l-18 9zM2890 2881l18-34l18-22l-17-17l-18 6l-19 15z"/>
<path class="c40" d="M2926 2825l19-13l18-14l18-15l18-11l18 0l18-16l18 5l18-28l18 14l18-16l18-1l-18-17l-18 4l-18-3l-18 6l-18 32l-18-9l-18 9l-18 2l-18 11l-18 13l-18 10l-18 20z"/>
<path class="c24" d="M2746 3113l18 21l18-25l-18-15l-18 30l-18 13z"/>
<path class="c18" d="M2674 3232l18 0l18-2l-18-37l-18 2l-18 5z"/>
<path class="c15" d="M2620 3247l18 62l-18-76l-18 78z"/>
<path class="c14" d="M2584 3318l18-16l18-55l-18 64l-18-5l-18-10z"/>
<path class="c14" d="M3522 2883l18 57l-18-111l-18 35zM2638 3337l18-35l-18 7l-18-62z"/>
<path class="c17" d="M3504 2810l18 73l-18-19l-18 0zM2728 3263l18-68l-18-8l-18 43z"/>
<path class="c18" d="M3449 2876l18 12l18-7l19-71l-18 54l-18-30l-18 23l-19-15z"/>
<path class="c19" d="M3413 2909l18-9l18-24l-18-34l-18-5l-18 5zM3341 2922l18-2l-18-53l-18 50z"/>
<path class="c20" d="M3395 2893l18 16l-18-67l-18 9z"/>
<path class="c21" d="M3359 2920l18-35l18 8l-18-42l-18 1l-18 15zM3323 2877l18 45l-18-5l-18-51z"/>
<path class="c24" d="M3305 2862l18 15l-18-11l-18 11zM2764 3135l18-1l-18 0l-18-21z"/>
<path class="c26" d="M3287 2855l18 7l-18 15l-18-39z"/>
<path class="c27" d="M3251 2875l18-3l18-17l-18-17l-18 27l-18-10zM2818 3082l18-7l-18-1l-18-2z"/>
<path class="c29" d="M3233 2848l18 27l-18-20l-18-13z"/>
<path class="c32" d="M3215 2839l18 9l-18-6l-18-32z"/>
<path class="c34" d="M3197 2808l18 31l-18-29l-18-44zM2872 3010l18-57l-18-30l-18 62z"/>
<path class="c37" d="M3179 2780l18 28l-18-42l-18-18zM2890 2953l18-57l-18-15l-18 42z"/>
<path class="c38" d="M3161 2755l18 25l-18-32l-18-15zM2908 2896l18-13l-18-36l-18 34z"/>
<path class="c39" d="M3107 2750l18 11l18 7l18-13l-18-22l-18-3l-18 1l-18 16zM2926 2883l18-32l18-22l-17-17l-19 13l-18 22z"/>
<path class="c40" d="M2962 2829l18-23l19-4l18-5l18-5l18-12l18-9l18-10l18-11l-18-3l-18-14l-18 28l-18-5l-18 16l-18 0l-18 11l-18 15l-18 14z"/>
<path class="c31" d="M2854 3038l18-28l-18-25l-18 41z"/>
<path class="c28" d="M2836 3075l18-37l-18-12l-18 48z"/>
<path class="c25" d="M2800 3133l18-51l-18-10l-18 37z"/>
<path class="c23" d="M2782 3134l18-1l-18-24l-18 25z"/>
<path class="c22" d="M2746 3195l18-60l-18-22l-18 74z"/>
<path class="c15" d="M2692 3309l18-29l18-17l-18-33l-18 2l-18 0z"/>
<path class="c13" d="M2674 3333l18-24l-18-77l-18 57zM2620 3377l18-40l-18-90l-18 55z"/>
<path class="c12" d="M2656 3302l18 31l-18-44l-18 20z"/>
<path class="c10" d="M2602 3438l18-61l-18-75l-18 16z"/>
<path class="c14" d="M3539 2877l19-17l-18 80l-18-57z"/>
<path class="c18" d="M3521 2817l18 60l-17 6l-18-73z"/>
<path class="c19" d="M3503 2890l18-73l-17-7l-19 71zM3395 2890l18 55l-18-52l-18-8z"/>
<path class="c16" d="M3467 2919l18-4l18-25l-18-9l-18 7l-18-12zM3413 2945l18 23l18-66l-18-2l-18 9l-18-16z"/>
<path class="c17" d="M3449 2902l18 17l-18-43l-18 24zM2746 3224l18-5l-18-24l-18 68z"/>
<path class="c20" d="M3359 2894l18 10l18-14l-18-5l-18 35l-18 2z"/>
<path class="c22" d="M3341 2889l18 5l-18 28l-18-45z"/>
<path class="c25" d="M3323 2882l18 7l-18-12l-18-15z"/>
<path class="c26" d="M3305 2877l18 5l-18-20l-18-7zM2854 3127l18-39l-18-50l-18 37z"/>
<path class="c27" d="M3251 2904l18-2l18-25l18 0l-18-22l-18 17l-18 3l-18-27z"/>
<path class="c30" d="M3233 2853l18 51l-18-56l-18-9z"/>
<path class="c33" d="M3215 2843l18 10l-18-14l-18-31z"/>
<path class="c35" d="M3197 2806l18 37l-18-35l-18-28zM2908 3006l18-46l-18-64l-18 57z"/>
<path class="c37" d="M3179 2792l18 14l-18-26l-18-25zM2926 2960l18-43l-18-34l-18 13z"/>
<path class="c38" d="M3143 2790l18 16l18-14l-18-37l-18 13l-18-7zM2944 2917l18-42l-18-24l-18 32z"/>
<path class="c39" d="M2962 2875l18-30l18-2l18-13l19-9l18-5l18-10l18-17l18-11l18-2l18 14l-18-29l-18-11l-18 11l-18 10l-18 9l-18 12l-18 5l-18 5l-19 4l-18 23l-18 22z"/>
<path class="c32" d="M2890 3041l18-35l-18-53l-18 57z"/>
<path class="c29" d="M2872 3088l18-47l-18-31l-18 28z"/>
<path class="c24" d="M2836 3181l18-54l-18-52l-18 7zM2800 3144l18-18l-18 7l-18 1z"/>
<path class="c23" d="M2818 3126l18 55l-18-99l-18 51zM2782 3171l18-27l-18-10l-18 1z"/>
<path class="c21" d="M2764 3219l18-48l-18-36l-18 60z"/>
<path class="c15" d="M2728 3266l18-42l-18 39l-18 17z"/>
<path class="c13" d="M2710 3309l18-43l-18 14l-18 29z"/>
<path class="c10" d="M2692 3365l18-56l-18 0l-18 24zM2656 3351l18 26l-18-75l-18 35z"/>
<path class="c9" d="M2674 3377l18-12l-18-32l-18-31zM2638 3406l18-55l-18-14l-18 40z"/>
<path class="c7" d="M2620 3383l18 23l-18-29l-18 61z"/>
<path class="c15" d="M3557 2874l18 35l-17-49l-19 17zM3503 2910l18-2l-18-18l-18 25zM3431 2902l18 55l-18 11l-18-23zM2728 3270l18-13l-18 9l-18 43z"/>
<path class="c18" d="M3539 2881l18-7l-18 3l-18-60z"/>
<path class="c17" d="M3521 2908l18-27l-18-64l-18 73zM2764 3258l18-20l-18-19l-18 5z"/>
<path class="c16" d="M3467 2952l18-52l18 10l-18 5l-18 4l-18-17zM2746 3257l18 1l-18-34l-18 42z"/>
<path class="c14" d="M3449 2957l18-5l-18-50l-18 66z"/>
<path class="c19" d="M3413 2914l18-12l-18 43l-18-55zM2782 3238l18-37l-18-30l-18 48z"/>
<path class="c21" d="M3395 2865l18 49l-18-24l-18 14zM2836 3197l18-55l-18 39l-18-55zM2800 3201l18-16l-18-41l-18 27z"/>
<path class="c23" d="M3359 2892l18-6l18-21l-18 39l-18-10l-18-5z"/>
<path class="c24" d="M3341 2906l18-14l-18-3l-18-7zM2872 3117l18-7l-18-22l-18 39z"/>
<path class="c25" d="M3305 2925l18-22l18 3l-18-24l-18-5l-18 0z"/>
<path class="c26" d="M3287 2904l18 21l-18-48l-18 25z"/>
<path class="c27" d="M3269 2883l18 21l-18-2l-18 2zM2890 3110l18-36l-18-33l-18 47z"/>
<path class="c29" d="M3251 2867l18 16l-18 21l-18-51zM2908 3074l18-38l-18-30l-18 35z"/>
<path class="c32" d="M3233 2867l18 0l-18-14l-18-10zM2926 3036l18-58l-18-18l-18 46z"/>
<path class="c34" d="M3215 2847l18 20l-18-24l-18-37z"/>
<path class="c35" d="M3197 2851l18-4l-18-41l-18-14zM2944 2978l18-18l-18-43l-18 43z"/>
<path class="c36" d="M3179 2848l18 3l-18-59l-18 14z"/>
<path class="c37" d="M3161 2833l18 15l-18-42l-18-16zM2962 2960l18-47l-18-38l-18 42z"/>
<path class="c38" d="M2980 2913l18-19l18 5l18-37l18-2l18-7l19-23l18-4l18 0l18-9l18 16l-18-43l-18-14l-18 2l-18 11l-18 17l-18 10l-18 5l-19 9l-18 13l-18 2l-18 30z"/>
<path class="c22" d="M2854 3142l18-25l-18 10l-18 54zM2818 3185l18 12l-18-71l-18 18z"/>
<path class="c12" d="M2710 3304l18-34l-18 39l-18 56z"/>
<path class="c10" d="M2674 3366l18-39l18-23l-18 61l-18 12l-18-26zM2638 3329l18 34l-18 43l-18-23z"/>
<path class="c9" d="M2656 3363l18 3l-18-15l-18 55z"/>
<path class="c14" d="M3575 2905l18-1l-18 5l-18-35zM3503 2978l18-16l18-15l18-13l-18-53l-18 27l-18 2l-18-10zM3467 2934l18 47l-18-29l-18 5zM2710 3327l18-22l-18-1l-18 23zM2656 3314l18 42l-18 7l-18-34z"/>
<path class="c15" d="M3557 2934l18-29l-18-31l-18 7zM2728 3305l18-28l-18-7l-18 34z"/>
<path class="c13" d="M3485 2981l18-3l-18-78l-18 52z"/>
<path class="c17" d="M3449 2935l18-1l-18 23l-18-55zM2782 3238l18-3l-18 3l-18 20z"/>
<path class="c19" d="M3431 2931l18 4l-18-33l-18 12z"/>
<path class="c21" d="M3413 2917l18 14l-18-17l-18-49zM3359 2982l18-35l-18-55l-18 14zM2836 3180l18-38l-18 55l-18-12z"/>
<path class="c23" d="M3377 2947l18-46l18 16l-18-52l-18 21l-18 6zM3323 2946l18-28l-18-15l-18 22z"/>
<path class="c22" d="M3341 2918l18 64l-18-76l-18-3zM2854 3142l18 10l-18-10l-18 55z"/>
<path class="c24" d="M3305 2927l18 19l-18-21l-18-21zM2872 3152l18-22l18-8l-18-12l-18 7l-18 25z"/>
<path class="c27" d="M3287 2892l18 35l-18-23l-18-21z"/>
<path class="c29" d="M3269 2900l18-8l-18-9l-18-16z"/>
<path class="c31" d="M3251 2891l18 9l-18-33l-18 0zM2944 3029l18 12l-18-63l-18 58z"/>
<path class="c32" d="M3233 2871l18 20l-18-24l-18-20zM2962 3041l18-23l-18-58l-18 18z"/>
<path class="c33" d="M3197 2883l18 17l18-29l-18-24l-18 4l-18-3z"/>
<path class="c35" d="M3179 2882l18 1l-18-35l-18-15zM2998 2989l18-26l-18-69l-18 19z"/>
<path class="c36" d="M3161 2880l18 2l-18-49l-18-16zM3016 2963l18-20l18-34l-18-47l-18 37l-18-5z"/>
<path class="c37" d="M3052 2909l18-11l18 7l18-31l18-10l19-1l18 17l-18-63l-18 9l-18 0l-18 4l-19 23l-18 7l-18 2z"/>
<path class="c34" d="M2980 3018l18-29l-18-76l-18 47z"/>
<path class="c28" d="M2926 3121l18-92l-18 7l-18 38z"/>
<path class="c25" d="M2908 3122l18-1l-18-47l-18 36z"/>
<path class="c20" d="M2818 3239l18-59l-18 5l-18 16z"/>
<path class="c18" d="M2800 3235l18 4l-18-38l-18 37zM2746 3277l18-68l18 29l-18 20l-18-1l-18 13z"/>
<path class="c12" d="M2692 3352l18-25l-18 0l-18 39z"/>
<path class="c11" d="M2674 3356l18-4l-18 14l-18-3z"/>
<path class="c10" d="M3593 2988l18 23l-18-107l-18 1z"/>
<path class="c11" d="M3575 2989l18-1l-18-83l-18 29z"/>
<path class="c12" d="M3557 2934l18 55l-18-55l-18 13zM3503 2971l18-20l-18 27l-18 3z"/>
<path class="c13" d="M3521 2951l18-11l18-6l-18 13l-18 15l-18 16zM3485 2990l18-19l-18 10l-18-47zM2692 3338l18-1l18 0l-18-10l-18 25l-18 4z"/>
<path class="c15" d="M3467 2982l18 8l-18-56l-18 1zM2746 3322l18-37l-18-8l-18 28z"/>
<path class="c16" d="M3449 2970l18 12l-18-47l-18-4z"/>
<path class="c18" d="M3431 2960l18 10l-18-39l-18-14zM2800 3282l18-46l18 7l-18-4l-18-4l-18 3z"/>
<path class="c21" d="M3395 2965l18-49l18 44l-18-43l-18-16l-18 46zM3359 2968l18-36l-18 50l-18-64zM2854 3203l18 2l-18-63l-18 38z"/>
<path class="c19" d="M3377 2932l18 33l-18-18l-18 35zM2836 3243l18-40l-18-23l-18 59zM2764 3285l18-47l18 44l-18-44l-18-29l-18 68z"/>
<path class="c22" d="M3341 2965l18 3l-18-50l-18 28zM2908 3180l18-12l-18-46l-18 8z"/>
<path class="c23" d="M3323 2957l18 8l-18-19l-18-19zM2926 3168l18-48l-18 1l-18 1zM2872 3205l18-53l18 28l-18-50l-18 22l-18-10z"/>
<path class="c26" d="M3305 2913l18 44l-18-30l-18-35zM2944 3120l18-22l-18-69l-18 92z"/>
<path class="c29" d="M3287 2873l18 40l-18-21l-18 8z"/>
<path class="c31" d="M3233 2904l18 30l18-37l18-24l-18 27l-18-9l-18-20l-18 29z"/>
<path class="c33" d="M3178 2912l19-9l18-28l18 29l-18-4l-18-17l-18-1l-18-2zM3034 3002l18-24l-18-35l-18 20z"/>
<path class="c34" d="M3160 2923l18-11l-17-32l-18-17zM3052 2978l18-20l18 3l18-18l18 9l-18-78l-18 31l-18-7l-18 11l-18 34z"/>
<path class="c35" d="M3124 2952l18-33l18 4l-17-60l-19 1l-18 10z"/>
<path class="c32" d="M3016 3028l18-26l-18-39l-18 26z"/>
<path class="c30" d="M2998 3077l18-49l-18-39l-18 29z"/>
<path class="c28" d="M2962 3098l18-10l18-11l-18-59l-18 23l-18-12z"/>
<path class="c14" d="M2728 3337l18-15l-18-17l-18 22zM2674 3369l18-31l-18 18l-18-42z"/>
<path class="c6" d="M3593 3027l18 34l18-88l-18 38l-18-23l-18 1z"/>
<path class="c10" d="M3575 2984l18 43l-18-38l-18-55z"/>
<path class="c14" d="M3557 2920l18 64l-18-50l-18 6zM3485 2982l18-9l18-10l-18 8l-18 19l-18-8zM2691 3376l18-43l-17 5l-18 31z"/>
<path class="c15" d="M3521 2963l18-21l18-22l-18 20l-18 11l-18 20zM2764 3315l18 2l-18-32l-18 37zM2709 3333l19-15l-18 19l-18 1z"/>
<path class="c16" d="M3467 2952l18 30l-18 0l-18-12z"/>
<path class="c18" d="M3449 2943l18 9l-18 18l-18-10zM2800 3289l18-38l18-14l18 20l18-30l-18-24l-18 40l-18-7l-18 46l-18-44z"/>
<path class="c21" d="M3431 2916l18 27l-18 17l-18-44zM3377 2993l18-38l-18-23l-18 36zM2890 3181l18 48l-18-77l-18 53z"/>
<path class="c20" d="M3395 2955l18 34l18-73l-18 0l-18 49l-18-33zM3359 2994l18-1l-18-25l-18-3zM2908 3229l18-36l18-16l-18-9l-18 12l-18-28zM2872 3227l18-46l-18 24l-18-2z"/>
<path class="c22" d="M3341 2957l18 37l-18-29l-18-8zM2944 3177l18-50l-18-7l-18 48z"/>
<path class="c23" d="M3323 3004l18-47l-18 0l-18-44zM3314 2974l9 30l-9-45l-9-25z"/>
<path class="c27" d="M3305 2934l9 25l-9-46l-9-20z"/>
<path class="c29" d="M3296 2909l9 25l-9-41l-9-20zM3251 2952l18-13l18 0l18 5l-18-71l-18 24l-18 37l-18-30z"/>
<path class="c26" d="M3305 2944l9 30l-9-40l-9-25zM2980 3104l18-12l18-4l18 12l-18-72l-18 49l-18 11l-18 10z"/>
<path class="c31" d="M3232 2930l19 22l-18-48l-18-29zM3124 3024l18-46l18 10l18-28l18 21l18-29l-17-49l-19 9l-18 11l-18-4l-18 33l-18-9zM3070 3033l18-18l18 2l-18-56l-18-3l-18 20z"/>
<path class="c32" d="M3214 2952l18-22l-17-55l-18 28z"/>
<path class="c30" d="M3106 3017l18 7l-18-81l-18 18zM3052 3065l18-32l-18-55l-18 24z"/>
<path class="c28" d="M3034 3100l18-35l-18-63l-18 26z"/>
<path class="c25" d="M2962 3127l18-23l-18-6l-18 22z"/>
<path class="c17" d="M2782 3317l18-28l-18-51l-18 47z"/>
<path class="c13" d="M2728 3318l18 72l18-75l-18 7l-18 15l-18 0z"/>
<path class="c7" d="M3611 3001l18-28l18 24l-18-24l-18 88l-18-34z"/>
<path class="c8" d="M3593 3027l18-26l-18 26l-18-43z"/>
<path class="c11" d="M3575 3025l18 2l-18-43l-18-64zM2763 3412l19-45l-18-52l-18 75z"/>
<path class="c13" d="M3557 2989l18 36l-18-105l-18 22zM2782 3367l18 7l18-36l-18-49l-18 28l-18-2zM2709 3405l18-30l-18-42l-18 43z"/>
<path class="c14" d="M3539 3004l18-15l-18-47l-18 21z"/>
<path class="c15" d="M3521 2943l18 61l-18-41l-18 10zM2727 3375l18-35l-17-22l-19 15z"/>
<path class="c17" d="M3485 2978l18-42l18 7l-18 30l-18 9l-18-30zM3413 3045l18-55l-18-1l-18-34zM2926 3249l18-16l-18-40l-18 36zM2854 3283l18-26l18-1l-18-29l-18 30l-18-20z"/>
<path class="c19" d="M3467 2928l18 50l-18-26l-18-9zM3431 2990l18-2l-18-72l-18 73zM3377 3004l18-28l-18 17l-18 1zM2944 3233l18-28l-18-28l-18 16zM2890 3256l18-20l-18-55l-18 46z"/>
<path class="c21" d="M3449 2988l18-60l-18 15l-18-27zM3341 2988l18 42l-18-73l-18 47z"/>
<path class="c18" d="M3395 2976l18 69l-18-90l-18 38zM2908 3236l18 13l-18-20l-18-48zM2836 3284l18-1l-18-46l-18 14z"/>
<path class="c20" d="M3359 3030l18-26l-18-10l-18-37zM2962 3205l18-9l-18-69l-18 50z"/>
<path class="c23" d="M3323 2969l18 19l-18 16l-18-60zM2980 3196l18-55l-18-37l-18 23z"/>
<path class="c27" d="M3305 2950l18 19l-18-25l-18-5zM3142 3053l18-23l-18-52l-18 46zM3088 3081l18-20l18 10l-18-54l-18-2l-18 18z"/>
<path class="c29" d="M3286 2920l19 30l-18-11l-18 0zM3232 2965l18 4l18-39l-17 22l-19-22l-18 22z"/>
<path class="c30" d="M3268 2930l18-10l-17 19l-18 13z"/>
<path class="c28" d="M3160 3030l18-8l18-16l18-8l18-33l-18-13l-18 29l-18-21l-18 28l-18-10z"/>
<path class="c26" d="M3124 3071l18-18l-18-29l-18-7zM3070 3096l18-15l-18-48l-18 32z"/>
<path class="c24" d="M3034 3109l18 16l18-29l-18-31l-18 35l-18-12z"/>
<path class="c25" d="M2998 3141l18-17l18-15l-18-21l-18 4l-18 12z"/>
<path class="c16" d="M2818 3338l18-54l-18-33l-18 38z"/>
<path class="c12" d="M2745 3340l18 72l-17-22l-18-72z"/>
<path class="c7" d="M3647 3038l18 22l-18-63l-18-24z"/>
<path class="c8" d="M3593 3028l18 9l18-18l18 19l-18-65l-18 28l-18 26l-18-2z"/>
<path class="c10" d="M3575 3014l18 14l-18-3l-18-36z"/>
<path class="c13" d="M3557 2972l18 42l-18-25l-18 15zM2836 3371l18-51l-18-36l-18 54zM2727 3366l18-3l-18 12l-18 30z"/>
<path class="c14" d="M3539 3015l18-43l-18 32l-18-61zM2763 3327l18 13l-18 72l-18-72z"/>
<path class="c17" d="M3503 2978l18 3l18 34l-18-72l-18-7l-18 42zM2890 3287l18-21l18-14l-18-16l-18 20l-18 1z"/>
<path class="c18" d="M3485 2980l18-2l-18 0l-18-50zM3377 3015l18 6l18 18l-18-63l-18 28l-18 26z"/>
<path class="c20" d="M3467 2956l18 24l-18-52l-18 60zM3359 3016l18-1l-18 15l-18-42z"/>
<path class="c19" d="M3449 2964l18-8l-18 32l-18 2zM2980 3218l18-43l-18 21l-18 9z"/>
<path class="c16" d="M3413 3039l18 16l18-91l-18 26l-18 55l-18-69zM2962 3290l18-72l-18-13l-18 28zM2926 3252l18 30l-18-33l-18-13zM2872 3314l18-27l-18-30l-18 26z"/>
<path class="c22" d="M3341 3000l18 16l-18-28l-18-19zM3052 3143l18 10l18-27l-18-30l-18 29l-18-16z"/>
<path class="c25" d="M3322 2981l19 19l-18-31l-18-19zM3178 3081l18-26l18 21l18-31l-18-47l-18 8l-18 16l-18 8z"/>
<path class="c28" d="M3304 2972l18 9l-17-31l-19-30zM3268 3013l18-29l-18-54l-18 39z"/>
<path class="c29" d="M3286 2984l18-12l-18-52l-18 10z"/>
<path class="c26" d="M3232 3045l18-10l18-22l-18-44l-18-4l-18 33z"/>
<path class="c23" d="M3160 3134l18-53l-18-51l-18 23zM3124 3113l18 16l-18-58l-18-10zM3088 3126l18-17l-18-28l-18 15zM3016 3170l18-45l-18-1l-18 17z"/>
<path class="c21" d="M3142 3129l18 5l-18-81l-18 18zM2998 3175l18-5l-18-29l-18 55z"/>
<path class="c24" d="M3106 3109l18 4l-18-52l-18 20zM3034 3125l18 18l-18-34l-18 15z"/>
<path class="c15" d="M2944 3282l18 8l-18-57l-18 16zM2854 3320l18-6l-18-31l-18 1zM2745 3363l18-36l-18 13l-18 35z"/>
<path class="c11" d="M2817 3339l19 32l-18-33l-18 36z"/>
<path class="c12" d="M2781 3340l18 15l18-16l-17 35l-18-7l-19 45z"/>
<path class="c5" d="M3665 3043l18 24l-18-7l-18-22z"/>
<path class="c6" d="M3629 3069l18 6l18-32l-18-5l-18-19l-18 18z"/>
<path class="c7" d="M3611 3058l18 11l-18-32l-18-9z"/>
<path class="c8" d="M3593 3085l18-27l-18-30l-18-14z"/>
<path class="c11" d="M3575 3020l18 65l-18-71l-18-42z"/>
<path class="c12" d="M3557 3049l18-29l-18-48l-18 43z"/>
<path class="c13" d="M3539 3027l18 22l-18-34l-18-34zM2944 3327l18-11l18-31l-18 5l-18-8l-18-30zM2890 3326l18 32l-18-71l-18 27zM2835 3317l9-6l-8 60l-9-16z"/>
<path class="c15" d="M3503 3039l18 0l18-12l-18-46l-18-3l-18 2zM2980 3285l18-41l-18-26l-18 72zM2926 3298l18 29l-18-75l-18 14zM2871 3294l19 32l-18-12l-18 6z"/>
<path class="c16" d="M3485 3065l18-26l-18-59l-18-24zM2781 3352l18 8l18-63l18 11l-18 31l-18 16l-18-15l-18-13z"/>
<path class="c17" d="M3467 3040l18 25l-18-109l-18 8zM3413 3042l18-25l18-39l-18 77l-18-16l-18-18zM2862 3272l9 22l-8 13l-9 2zM2835 3308l9-29l-9 38l-9 7zM2745 3336l18-12l18 28l-18-25l-18 36l-18 3z"/>
<path class="c18" d="M3449 2978l18 62l-18-76l-18 91zM3395 3032l18 10l-18-21l-18-6zM3160 3125l18 32l18-1l-18-75l-18 53l-18-5zM2853 3250l9 22l-8 37l-10 2zM2844 3279l9-29l-9 61l-9 6z"/>
<path class="c19" d="M3376 3045l19-13l-18-17l-18 1zM2998 3244l18-65l-18-4l-18 43z"/>
<path class="c21" d="M3358 2987l18 58l-17-29l-18-16zM3214 3114l18-30l18 1l-18-40l-18 31l-18-21zM3142 3128l18-3l-18 4l-18-16zM3070 3173l18-28l18 5l-18-24l-18 27l-18-10zM3034 3210l18-43l-18-42l-18 45z"/>
<path class="c24" d="M3340 3006l18-19l-17 13l-19-19zM3268 3053l18-42l-18 2l-18 22z"/>
<path class="c25" d="M3304 3009l18 10l18-13l-18-25l-18-9l-18 12z"/>
<path class="c26" d="M3286 3011l18-2l-18-25l-18 29z"/>
<path class="c22" d="M3250 3085l18-32l-18-18l-18 10zM3106 3150l18-26l18 4l-18-15l-18-4l-18 17zM3052 3167l18 6l-18-30l-18-18z"/>
<path class="c20" d="M3196 3156l18-42l-18-59l-18 26zM3016 3179l18 31l-18-40l-18 5z"/>
<path class="c14" d="M2908 3358l18-60l-18-32l-18 21zM2854 3309l9-2l-9 13l-9 25zM2844 3311l10-2l-9 36l-9 26zM2826 3324l9-7l-8 38l-10-16z"/>
<path class="c5" d="M3665 3093l18-46l18 27l-18-7l-18-24l-18 32z"/>
<path class="c4" d="M3647 3105l18-12l-18-18l-18-6z"/>
<path class="c6" d="M3611 3106l18-39l18 38l-18-36l-18-11l-18 27z"/>
<path class="c8" d="M3593 3058l18 48l-18-21l-18-65z"/>
<path class="c10" d="M3575 3047l18 11l-18-38l-18 29zM2962 3370l18-14l-18-40l-18 11z"/>
<path class="c11" d="M3539 3084l18-13l18-24l-18 2l-18-22l-18 12zM2926 3354l18 3l18 13l-18-43l-18-29l-18 60z"/>
<path class="c12" d="M3521 3038l18 46l-18-45l-18 0zM2980 3356l18-67l-18-4l-18 31z"/>
<path class="c14" d="M3503 3033l18 5l-18 1l-18 26z"/>
<path class="c15" d="M3485 3023l18 10l-18 32l-18-25zM3178 3195l18 41l18-74l-18-6l-18 1l-18-32zM3016 3321l18-44l-18-98l-18 65z"/>
<path class="c17" d="M3449 3055l18 5l18-37l-18 17l-18-62l-18 39zM3214 3162l18-14l-18-34l-18 42zM3034 3277l18-47l-18-20l-18-31zM2817 3335l18-13l-18-25l-18 63zM2781 3379l18-46l-18 19l-18-28z"/>
<path class="c16" d="M3412 3082l18-7l19-20l-18-38l-18 25l-18-10zM2889 3349l18-69l-17 46l-19-32zM2799 3333l18 2l-18 25l-18-8z"/>
<path class="c18" d="M3394 3034l18 48l-17-50l-19 13zM2871 3280l18 69l-18-55l-18-44zM2835 3322l18-6l-18-8l-18-11z"/>
<path class="c22" d="M3376 3005l18 29l-18 11l-18-58zM3340 3054l18-17l-18-31l-18 13z"/>
<path class="c23" d="M3358 3037l18-32l-18-18l-18 19zM3322 3049l18 5l-18-35l-18-10zM3286 3082l18-21l-18-50l-18 42z"/>
<path class="c24" d="M3304 3061l18-12l-18-40l-18 2z"/>
<path class="c20" d="M3250 3088l18 35l18-41l-18-29l-18 32l-18-1zM3106 3175l18 3l18-11l-18-43l-18 26l-18-5z"/>
<path class="c19" d="M3232 3148l18-60l-18-4l-18 30zM3160 3143l18 52l-18-70l-18 3zM3052 3230l18-57l-18-6l-18 43zM2853 3316l18-36l-18-30l-18 58zM2763 3321l18 58l-18-55l-18 12z"/>
<path class="c21" d="M3142 3167l18-24l-18-15l-18-4zM3070 3173l18-4l18 6l-18-30l-18 28l-18-6z"/>
<path class="c13" d="M2998 3289l18 32l-18-77l-18 41zM2907 3280l19 74l-18 4l-18-32z"/>
<path class="c4" d="M3701 3102l18 8l-18-36l-18-27zM3665 3099l18-35l-18 29l-18 12z"/>
<path class="c5" d="M3683 3064l18 38l-18-55l-18 46zM3629 3105l18-4l18-2l-18 6l-18-38l-18 39z"/>
<path class="c6" d="M3611 3095l18 10l-18 1l-18-48z"/>
<path class="c8" d="M3575 3093l18 30l18-28l-18-37l-18-11l-18 24zM2961 3371l19 21l18-19l-18-17l-18 14l-18-13z"/>
<path class="c10" d="M3557 3056l18 37l-18-22l-18 13zM2943 3378l18-7l-17-14l-18-3z"/>
<path class="c13" d="M3539 3032l18 24l-18 28l-18-46zM3214 3247l18-88l-18 3l-18 74zM2907 3401l18-31l-18-90l-18 69z"/>
<path class="c15" d="M3503 3100l18-60l18-8l-18 6l-18-5l-18-10zM3430 3096l18-25l18 14l-17-30l-19 20l-18 7zM2889 3290l18 111l-18-52l-18-69zM2781 3387l9 32l-9-40l-9-29zM2781 3391l9 34l-9-38l-9-31z"/>
<path class="c14" d="M3466 3085l18 6l19 9l-18-77l-18 37l-18-5zM3052 3342l18-106l-18-6l-18 47zM2835 3451l18-73l-18-56l-18 13z"/>
<path class="c17" d="M3412 3070l18 26l-18-14l-18-48zM3232 3159l18-33l-18 22l-18 14zM3178 3164l18 35l-18-4l-18-52z"/>
<path class="c19" d="M3394 3099l18-29l-18-36l-18-29zM3250 3126l18-10l18 27l18-52l-18-9l-18 41l-18-35l-18 60zM3106 3212l18-12l18-23l18-5l18-8l-18-21l-18 24l-18 11l-18-3l-18-6zM3070 3236l18-39l-18-24l-18 57z"/>
<path class="c21" d="M3376 3039l18 60l-18-94l-18 32zM3340 3099l18-81l-18 36l-18-5z"/>
<path class="c22" d="M3358 3018l18 21l-18-2l-18 17z"/>
<path class="c20" d="M3304 3091l18 2l18 6l-18-50l-18 12l-18 21zM3088 3197l18 15l-18-43l-18 4z"/>
<path class="c12" d="M3196 3199l18 48l-18-11l-18-41zM2925 3370l18 8l-17-24l-19-74zM2799 3459l18 10l18-18l-18-116l-18-2l-18 46zM2790 3425l9 34l-9-40l-9-32z"/>
<path class="c9" d="M2998 3373l18 16l18-22l18-25l-18-65l-18 44l-18-32l-18 67z"/>
<path class="c18" d="M2871 3353l18-63l-18-10l-18 36zM2772 3356l9 31l-9-37l-9-29z"/>
<path class="c16" d="M2853 3378l18-25l-18-37l-18 6z"/>
<path class="c1" d="M3719 3127l18 8l-18-25l-18-8z"/>
<path class="c4" d="M3665 3121l18 13l18-28l18 21l-18-25l-18-38l-18 35l-18 2z"/>
<path class="c5" d="M3647 3090l18 31l-18-20l-18 4z"/>
<path class="c7" d="M3611 3107l18-47l18 30l-18 15l-18-10l-18 28zM3034 3369l18-14l-18 12l-18 22zM2979 3413l18 9l-17-30l-19-21z"/>
<path class="c8" d="M3593 3082l18 25l-18 16l-18-30zM2961 3401l18 12l-18-42l-18 7zM2817 3438l18 27l18-35l-18 21l-18 18l-18-10z"/>
<path class="c9" d="M3575 3123l18-41l-18 11l-18-37zM3052 3355l18-41l-18 28l-18 25zM2943 3397l18 4l-18-23l-18-8z"/>
<path class="c12" d="M3557 3077l18 46l-18-67l-18-24zM3484 3137l18-53l-18 7l-18-6zM3070 3314l18-1l-18-77l-18 106z"/>
<path class="c14" d="M3520 3046l18 18l19 13l-18-45l-18 8l-18 60zM3466 3068l18 69l-18-52l-18-14zM3214 3182l18 25l18 0l-18-48l-18 88l-18-48z"/>
<path class="c13" d="M3502 3084l18-38l-17 54l-19-9zM2871 3430l18-53l-18-24l-18 25z"/>
<path class="c15" d="M3448 3105l18-37l-18 3l-18 25zM2907 3333l18 12l-18 56l-18-111z"/>
<path class="c16" d="M3430 3067l18 38l-18-9l-18-26zM3088 3313l18-88l-18-28l-18 39zM2889 3377l18-44l-18-43l-18 63z"/>
<path class="c18" d="M3412 3072l18-5l-18 3l-18 29zM3196 3161l18 21l-18 17l-18-35zM3160 3236l18-61l-18-3l-18 5zM3124 3216l18-4l-18-12l-18 12z"/>
<path class="c20" d="M3394 3024l18 48l-18 27l-18-60zM3322 3123l18-67l-18 37l-18-2zM3268 3143l18-29l18-33l-18 62l-18-27l-18 10z"/>
<path class="c23" d="M3376 3061l18-37l-18 15l-18-21z"/>
<path class="c22" d="M3358 3062l18-1l-18-43l-18 81z"/>
<path class="c21" d="M3340 3056l18 6l-18 37l-18-6z"/>
<path class="c19" d="M3304 3081l18 42l-18-32l-18 52zM3178 3175l18-14l-18 3l-18 8zM3106 3225l18-9l-18-4l-18-15z"/>
<path class="c17" d="M3250 3207l18-64l-18-17l-18 33zM3142 3212l18 24l-18-59l-18 23z"/>
<path class="c6" d="M2997 3422l18 17l19-70l-18 20l-18-16l-18 19z"/>
<path class="c11" d="M2925 3345l18 52l-18-27l-18 31zM2799 3449l18-11l-18 21l-18-68z"/>
<path class="c10" d="M2853 3430l18 0l-18-52l-18 73z"/>
<path class="c0" d="M3737 3142l18 29l-18-36l-18-8z"/>
<path class="c2" d="M3719 3142l18 0l-18-15l-18-21z"/>
<path class="c3" d="M3683 3136l18-3l18 9l-18-36l-18 28l-18-13z"/>
<path class="c5" d="M3665 3113l18 23l-18-15l-18-31zM2997 3432l18 6l-18-16l-18-9z"/>
<path class="c8" d="M3629 3135l18-42l18 20l-18-23l-18-30l-18 47zM2961 3429l18-20l-18-8l-18-4zM2871 3475l18 4l-18-49l-18 0zM2835 3478l18 34l-18-47l-18-27z"/>
<path class="c7" d="M3592 3145l19 7l18-17l-18-28l-18-25l-18 41zM3051 3392l18 2l-17-39l-18 14zM2979 3409l18 23l-18-19l-18-12zM2853 3512l18-37l-18-45l-18 35z"/>
<path class="c9" d="M3574 3113l18 32l-17-22l-18-46zM3069 3394l19-70l-18-10l-18 41zM2817 3525l18-47l-18-40l-18 11z"/>
<path class="c13" d="M3556 3034l18 79l-17-36l-19-13zM2907 3407l18-13l18 18l-18-67l-18-12l-18 44z"/>
<path class="c16" d="M3538 3050l18-16l-18 30l-18-18zM3160 3227l18 21l18-22l-18-51l-18 61l-18-24z"/>
<path class="c14" d="M3520 3133l18-83l-18-4l-18 38zM3484 3073l18 34l-18 30l-18-69zM3250 3220l18-21l-18 8l-18 0zM3106 3306l18-46l-18-35l-18 88z"/>
<path class="c12" d="M3502 3107l18 26l-18-49l-18 53z"/>
<path class="c17" d="M3448 3106l18-35l18 2l-18-5l-18 37l-18-38zM3286 3192l18-17l-18-61l-18 29zM3124 3260l18 7l18-40l-18-15l-18 4l-18 9z"/>
<path class="c18" d="M3430 3077l18 29l-18-39l-18 5zM3322 3169l18-18l-18-28l-18-42zM3214 3167l18 38l-18-23l-18-21z"/>
<path class="c22" d="M3412 3023l18 54l-18-5l-18-48z"/>
<path class="c24" d="M3394 3045l18-22l-18 1l-18 37z"/>
<path class="c23" d="M3358 3073l18-23l18-5l-18 16l-18 1l-18-6z"/>
<path class="c20" d="M3340 3151l18-78l-18-17l-18 67z"/>
<path class="c19" d="M3304 3175l18-6l-18-88l-18 33zM3196 3226l18-59l-18-6l-18 14z"/>
<path class="c15" d="M3268 3199l18-7l-18-49l-18 64zM3232 3205l18 15l-18-13l-18-25z"/>
<path class="c11" d="M3088 3324l18-18l-18 7l-18 1z"/>
<path class="c6" d="M3033 3425l18-33l-17-23l-19 70z"/>
<path class="c4" d="M3015 3438l18-13l-18 14l-18-17z"/>
<path class="c10" d="M2943 3412l18 17l-18-32l-18-52zM2889 3479l18-72l-18-30l-18 53z"/></g>
<path class="ds" d="M257 260.5L287 247"/>
<text class="tk" text-anchor="end" x="276.2" y="374.4">0</text>
<text class="tk" x="287.5" y="374.3">0</text>
<text class="tk" text-anchor="end" x="239.8" y="357.1">500</text>
<text class="tk" x="324.1" y="357.0">500</text>
<text class="tk" text-anchor="end" x="203.3" y="339.9">1000</text>
<text class="tk" x="360.8" y="339.7">1000</text>
<text class="tk" text-anchor="end" x="166.9" y="322.6">1500</text>
<text class="tk" x="397.4" y="322.4">1500</text>
<text class="tk" text-anchor="end" x="166.8" y="314.7">-40</text>
<text class="tk" text-anchor="end" x="166.8" y="297.6">-20</text>
<text class="tk" text-anchor="end" x="166.8" y="280.5">0</text>
<text class="tk" text-anchor="end" x="166.8" y="263.3">20</text>
<text class="tk" text-anchor="end" x="166.8" y="246.2">40</text>
<text class="lb" font-size="15" x="140.5" y="245.8">(c)</text>
<text class="lb" font-size="12" x="153.6" y="277.5" transform="rotate(-90 153.6 277.5)" text-anchor="middle">phase</text>
<text class="lb" font-size="12" x="200.3" y="357.2">pixel</text>
<text class="lb" font-size="12" x="339.7" y="357.6">pixel</text>
</svg>
</body></html>
